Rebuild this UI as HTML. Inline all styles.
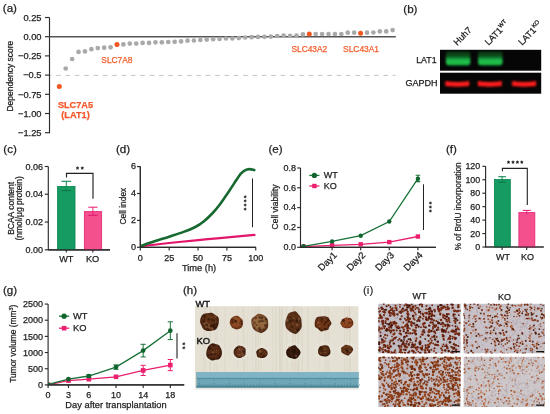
<!DOCTYPE html>
<html><head><meta charset="utf-8"><style>
html,body{margin:0;padding:0;background:#fff;width:550px;height:414px;overflow:hidden}
svg{display:block;font-family:"Liberation Sans", sans-serif;will-change:transform;filter:blur(0.35px)}
text{stroke-width:0.25px}
</style></head><body>
<svg width="550" height="414" viewBox="0 0 550 414">
<defs>
<filter id="b1" x="-30%" y="-60%" width="160%" height="220%"><feGaussianBlur stdDeviation="0.9"/></filter>
<filter id="b05" x="-20%" y="-20%" width="140%" height="140%"><feGaussianBlur stdDeviation="0.5"/></filter>
<filter id="b04" x="-5%" y="-5%" width="110%" height="110%"><feGaussianBlur stdDeviation="0.35"/></filter>
<filter id="b2" x="-30%" y="-60%" width="160%" height="220%"><feGaussianBlur stdDeviation="1.6"/></filter>
</defs>
<rect width="550" height="414" fill="#fff"/>
<text x="2.80" y="12.20" font-size="11.6" text-anchor="start" fill="#222" font-weight="normal"  stroke="#222">(a)</text>
<line x1="49.50" y1="17.50" x2="49.50" y2="133.20" stroke="#2b2b2b" stroke-width="1.15" />
<line x1="45.00" y1="17.50" x2="49.50" y2="17.50" stroke="#2b2b2b" stroke-width="1.15" />
<text x="41.50" y="20.80" font-size="9.3" text-anchor="end" fill="#222" font-weight="normal"  stroke="#222">0.25</text>
<line x1="45.00" y1="36.70" x2="49.50" y2="36.70" stroke="#2b2b2b" stroke-width="1.15" />
<text x="41.50" y="40.00" font-size="9.3" text-anchor="end" fill="#222" font-weight="normal"  stroke="#222">0.00</text>
<line x1="45.00" y1="55.90" x2="49.50" y2="55.90" stroke="#2b2b2b" stroke-width="1.15" />
<text x="41.50" y="59.20" font-size="9.3" text-anchor="end" fill="#222" font-weight="normal"  stroke="#222">−0.25</text>
<line x1="45.00" y1="75.10" x2="49.50" y2="75.10" stroke="#2b2b2b" stroke-width="1.15" />
<text x="41.50" y="78.40" font-size="9.3" text-anchor="end" fill="#222" font-weight="normal"  stroke="#222">−0.5</text>
<line x1="45.00" y1="94.30" x2="49.50" y2="94.30" stroke="#2b2b2b" stroke-width="1.15" />
<text x="41.50" y="97.60" font-size="9.3" text-anchor="end" fill="#222" font-weight="normal"  stroke="#222">−0.75</text>
<line x1="45.00" y1="113.50" x2="49.50" y2="113.50" stroke="#2b2b2b" stroke-width="1.15" />
<text x="41.50" y="116.80" font-size="9.3" text-anchor="end" fill="#222" font-weight="normal"  stroke="#222">−1.00</text>
<line x1="45.00" y1="132.70" x2="49.50" y2="132.70" stroke="#2b2b2b" stroke-width="1.15" />
<text x="41.50" y="136.00" font-size="9.3" text-anchor="end" fill="#222" font-weight="normal"  stroke="#222">−1.25</text>
<text transform="translate(13.00,76.10) rotate(-90)" x="0" y="0" font-size="8.5" text-anchor="middle" fill="#222"  stroke="#222">Dependency score</text>
<line x1="50.00" y1="75.40" x2="395.50" y2="75.40" stroke="#c4c4c4" stroke-width="1" stroke-dasharray="4.8 4.55" stroke-dashoffset="3.3"/>
<line x1="49.50" y1="36.80" x2="395.80" y2="36.80" stroke="#555" stroke-width="1.4" />
<circle cx="59.30" cy="86.50" r="2.5" fill="#f2561f"/>
<circle cx="65.71" cy="68.50" r="2.35" fill="#a9a9a9"/>
<circle cx="72.12" cy="59.00" r="2.35" fill="#a9a9a9"/>
<circle cx="78.53" cy="51.90" r="2.35" fill="#a9a9a9"/>
<circle cx="84.94" cy="51.40" r="2.35" fill="#a9a9a9"/>
<circle cx="91.35" cy="49.20" r="2.35" fill="#a9a9a9"/>
<circle cx="97.76" cy="48.10" r="2.35" fill="#a9a9a9"/>
<circle cx="104.17" cy="47.70" r="2.35" fill="#a9a9a9"/>
<circle cx="110.58" cy="47.30" r="2.35" fill="#a9a9a9"/>
<circle cx="116.99" cy="44.40" r="2.5" fill="#f2561f"/>
<circle cx="123.40" cy="44.40" r="2.35" fill="#a9a9a9"/>
<circle cx="129.81" cy="43.60" r="2.35" fill="#a9a9a9"/>
<circle cx="136.22" cy="43.60" r="2.35" fill="#a9a9a9"/>
<circle cx="142.63" cy="42.90" r="2.35" fill="#a9a9a9"/>
<circle cx="149.04" cy="42.90" r="2.35" fill="#a9a9a9"/>
<circle cx="155.45" cy="42.30" r="2.35" fill="#a9a9a9"/>
<circle cx="161.86" cy="42.30" r="2.35" fill="#a9a9a9"/>
<circle cx="168.27" cy="42.00" r="2.35" fill="#a9a9a9"/>
<circle cx="174.68" cy="41.80" r="2.35" fill="#a9a9a9"/>
<circle cx="181.09" cy="41.40" r="2.35" fill="#a9a9a9"/>
<circle cx="187.50" cy="40.70" r="2.35" fill="#a9a9a9"/>
<circle cx="193.91" cy="40.50" r="2.35" fill="#a9a9a9"/>
<circle cx="200.32" cy="40.00" r="2.35" fill="#a9a9a9"/>
<circle cx="206.73" cy="39.60" r="2.35" fill="#a9a9a9"/>
<circle cx="213.14" cy="39.20" r="2.35" fill="#a9a9a9"/>
<circle cx="219.55" cy="39.00" r="2.35" fill="#a9a9a9"/>
<circle cx="225.96" cy="38.50" r="2.35" fill="#a9a9a9"/>
<circle cx="232.37" cy="38.50" r="2.35" fill="#a9a9a9"/>
<circle cx="238.78" cy="38.10" r="2.35" fill="#a9a9a9"/>
<circle cx="245.19" cy="37.50" r="2.35" fill="#a9a9a9"/>
<circle cx="251.60" cy="37.20" r="2.35" fill="#a9a9a9"/>
<circle cx="258.01" cy="36.90" r="2.35" fill="#a9a9a9"/>
<circle cx="264.42" cy="36.80" r="2.35" fill="#a9a9a9"/>
<circle cx="270.83" cy="36.60" r="2.35" fill="#a9a9a9"/>
<circle cx="277.24" cy="36.00" r="2.35" fill="#a9a9a9"/>
<circle cx="283.65" cy="35.60" r="2.35" fill="#a9a9a9"/>
<circle cx="290.06" cy="35.90" r="2.35" fill="#a9a9a9"/>
<circle cx="296.47" cy="35.50" r="2.35" fill="#a9a9a9"/>
<circle cx="302.88" cy="34.40" r="2.35" fill="#a9a9a9"/>
<circle cx="309.29" cy="34.00" r="2.5" fill="#f2561f"/>
<circle cx="315.70" cy="34.00" r="2.35" fill="#a9a9a9"/>
<circle cx="322.11" cy="34.00" r="2.35" fill="#a9a9a9"/>
<circle cx="328.52" cy="34.00" r="2.35" fill="#a9a9a9"/>
<circle cx="334.93" cy="34.00" r="2.35" fill="#a9a9a9"/>
<circle cx="341.34" cy="34.00" r="2.35" fill="#a9a9a9"/>
<circle cx="347.75" cy="32.70" r="2.35" fill="#a9a9a9"/>
<circle cx="354.16" cy="32.70" r="2.35" fill="#a9a9a9"/>
<circle cx="360.57" cy="33.30" r="2.5" fill="#f2561f"/>
<circle cx="366.98" cy="32.70" r="2.35" fill="#a9a9a9"/>
<circle cx="373.39" cy="32.50" r="2.35" fill="#a9a9a9"/>
<circle cx="379.80" cy="31.40" r="2.35" fill="#a9a9a9"/>
<circle cx="386.21" cy="31.40" r="2.35" fill="#a9a9a9"/>
<circle cx="392.62" cy="30.10" r="2.35" fill="#a9a9a9"/>
<text x="101.30" y="63.30" font-size="8.4" text-anchor="start" fill="#f4602e" font-weight="normal"  stroke="#f4602e">SLC7A8</text>
<text x="291.40" y="52.20" font-size="8.4" text-anchor="start" fill="#f4602e" font-weight="normal"  stroke="#f4602e">SLC43A2</text>
<text x="343.10" y="52.20" font-size="8.4" text-anchor="start" fill="#f4602e" font-weight="normal"  stroke="#f4602e">SLC43A1</text>
<text x="75.50" y="107.60" font-size="9.2" text-anchor="middle" fill="#f4582a" font-weight="bold"  stroke="#f4582a">SLC7A5</text>
<text x="75.50" y="117.60" font-size="9.2" text-anchor="middle" fill="#f4582a" font-weight="bold"  stroke="#f4582a">(LAT1)</text>
<text x="403.30" y="13.00" font-size="11.6" text-anchor="start" fill="#222" font-weight="normal"  stroke="#222">(b)</text>
<text transform="translate(457.2,45.9) rotate(-45)" x="0" y="0" font-size="9" fill="#1a1a1a" stroke="#1a1a1a">Huh7</text>
<text transform="translate(488.4,45.7) rotate(-45)" x="0" y="0" font-size="9" fill="#1a1a1a" stroke="#1a1a1a">LAT1<tspan font-size="5.8" dy="-3.9">WT</tspan></text>
<text transform="translate(521.9,45.7) rotate(-45)" x="0" y="0" font-size="9" fill="#1a1a1a" stroke="#1a1a1a">LAT1<tspan font-size="5.8" dy="-3.9">KO</tspan></text>
<text x="436.60" y="63.20" font-size="8.8" text-anchor="end" fill="#1a1a1a" font-weight="normal"  stroke="#1a1a1a">LAT1</text>
<text x="437.40" y="85.80" font-size="9.0" text-anchor="end" fill="#1a1a1a" font-weight="normal"  stroke="#1a1a1a">GAPDH</text>
<clipPath id="bx1"><rect x="440" y="49.8" width="101.2" height="20.9"/></clipPath>
<clipPath id="bx2"><rect x="440" y="72.7" width="101.2" height="21"/></clipPath>
<rect x="440" y="49.8" width="101.2" height="20.9" fill="#060606"/>
<rect x="440" y="72.7" width="101.2" height="21" fill="#060606"/>
<linearGradient id="gg" x1="0" y1="0" x2="0" y2="1"><stop offset="0" stop-color="#0a2a10" stop-opacity="0"/><stop offset="0.12" stop-color="#0b3413"/><stop offset="0.42" stop-color="#0e5520"/><stop offset="0.55" stop-color="#17983c"/><stop offset="0.7" stop-color="#22c44c"/><stop offset="0.88" stop-color="#1fbc48"/><stop offset="1" stop-color="#129a38"/></linearGradient>
<g clip-path="url(#bx1)">
<rect x="445.9" y="50.5" width="24.4" height="15.0" rx="3" fill="url(#gg)" filter="url(#b1)"/>
<rect x="478.1" y="50.5" width="24.4" height="15.0" rx="3" fill="url(#gg)" filter="url(#b1)"/>
</g><g clip-path="url(#bx2)">
<path d="M445.3,80.9 Q457.4,82.9 469.3,80.9 L469.3,85.9 Q457.4,87.4 445.3,85.9 Z" fill="#ff1a1a" filter="url(#b1)"/>
<path d="M477.8,80.9 Q489.9,82.9 501.8,80.9 L501.8,85.9 Q489.9,87.4 477.8,85.9 Z" fill="#ff1a1a" filter="url(#b1)"/>
<path d="M512.1,80.9 Q524.2,82.9 536.1,80.9 L536.1,85.9 Q524.2,87.4 512.1,85.9 Z" fill="#ff1a1a" filter="url(#b1)"/>
</g>
<text x="3.30" y="153.20" font-size="11.6" text-anchor="start" fill="#222" font-weight="normal"  stroke="#222">(c)</text>
<line x1="48.30" y1="166.49" x2="48.30" y2="250.30" stroke="#2b2b2b" stroke-width="1.15" />
<line x1="48.30" y1="249.80" x2="110.00" y2="249.80" stroke="#2b2b2b" stroke-width="1.15" />
<line x1="44.80" y1="166.49" x2="48.30" y2="166.49" stroke="#2b2b2b" stroke-width="1.15" />
<text x="43.00" y="169.69" font-size="9.0" text-anchor="end" fill="#222" font-weight="normal"  stroke="#222">0.06</text>
<line x1="44.80" y1="194.26" x2="48.30" y2="194.26" stroke="#2b2b2b" stroke-width="1.15" />
<text x="43.00" y="197.46" font-size="9.0" text-anchor="end" fill="#222" font-weight="normal"  stroke="#222">0.04</text>
<line x1="44.80" y1="222.03" x2="48.30" y2="222.03" stroke="#2b2b2b" stroke-width="1.15" />
<text x="43.00" y="225.23" font-size="9.0" text-anchor="end" fill="#222" font-weight="normal"  stroke="#222">0.02</text>
<line x1="44.80" y1="249.80" x2="48.30" y2="249.80" stroke="#2b2b2b" stroke-width="1.15" />
<text x="43.00" y="253.00" font-size="9.0" text-anchor="end" fill="#222" font-weight="normal"  stroke="#222">0.00</text>
<text transform="translate(14.3,208.4) rotate(-90)" font-size="8.5" text-anchor="middle" fill="#222" stroke="#222"><tspan x="0" y="0">BCAA content</tspan><tspan x="0" y="7.6">(nmol/μg protein)</tspan></text>
<rect x="57.6" y="186.5" width="17.4" height="63.3" fill="#169b62" stroke="#0f8a52" stroke-width="0.9"/>
<rect x="84.4" y="211.6" width="17.2" height="38.2" fill="#f5508e" stroke="#e8287a" stroke-width="0.9"/>
<line x1="66.30" y1="181.30" x2="66.30" y2="190.60" stroke="#0f8a52" stroke-width="1" />
<line x1="61.50" y1="181.30" x2="71.10" y2="181.30" stroke="#0f8a52" stroke-width="1.1" />
<line x1="61.50" y1="190.60" x2="71.10" y2="190.60" stroke="#0b7a46" stroke-width="1.1" />
<line x1="92.90" y1="207.20" x2="92.90" y2="215.30" stroke="#e8287a" stroke-width="1" />
<line x1="88.30" y1="207.20" x2="97.50" y2="207.20" stroke="#e8287a" stroke-width="1.1" />
<line x1="88.30" y1="215.30" x2="97.50" y2="215.30" stroke="#d81c6c" stroke-width="1.1" />
<line x1="48.30" y1="249.80" x2="110.00" y2="249.80" stroke="#2b2b2b" stroke-width="1.2" />
<line x1="66.30" y1="249.80" x2="66.30" y2="252.60" stroke="#2b2b2b" stroke-width="1.15" />
<line x1="92.90" y1="249.80" x2="92.90" y2="252.60" stroke="#2b2b2b" stroke-width="1.15" />
<text x="66.30" y="261.80" font-size="9.2" text-anchor="middle" fill="#222" font-weight="normal"  stroke="#222">WT</text>
<text x="92.60" y="261.80" font-size="9.2" text-anchor="middle" fill="#222" font-weight="normal"  stroke="#222">KO</text>
<polyline points="66.5,177.4 66.5,173.4 93.0,173.4 93.0,198.8" fill="none" stroke="#222" stroke-width="1.15"/>
<polygon points="77.50,166.50 77.92,167.52 79.02,167.61 78.18,168.32 78.44,169.39 77.50,168.82 76.56,169.39 76.82,168.32 75.98,167.61 77.08,167.52" fill="#111" stroke="#111" stroke-width="0.35" stroke-linejoin="round"/>
<polygon points="82.30,166.50 82.72,167.52 83.82,167.61 82.98,168.32 83.24,169.39 82.30,168.82 81.36,169.39 81.62,168.32 80.78,167.61 81.88,167.52" fill="#111" stroke="#111" stroke-width="0.35" stroke-linejoin="round"/>
<text x="115.90" y="153.20" font-size="11.6" text-anchor="start" fill="#222" font-weight="normal"  stroke="#222">(d)</text>
<line x1="140.30" y1="166.60" x2="140.30" y2="247.80" stroke="#2b2b2b" stroke-width="1.15" />
<line x1="140.30" y1="247.30" x2="255.90" y2="247.30" stroke="#2b2b2b" stroke-width="1.15" />
<line x1="137.00" y1="247.30" x2="140.30" y2="247.30" stroke="#2b2b2b" stroke-width="1.15" />
<text x="135.90" y="249.90" font-size="9.0" text-anchor="end" fill="#222" font-weight="normal"  stroke="#222">0</text>
<line x1="137.00" y1="220.40" x2="140.30" y2="220.40" stroke="#2b2b2b" stroke-width="1.15" />
<text x="135.90" y="223.00" font-size="9.0" text-anchor="end" fill="#222" font-weight="normal"  stroke="#222">2</text>
<line x1="137.00" y1="193.50" x2="140.30" y2="193.50" stroke="#2b2b2b" stroke-width="1.15" />
<text x="135.90" y="196.10" font-size="9.0" text-anchor="end" fill="#222" font-weight="normal"  stroke="#222">4</text>
<line x1="137.00" y1="166.60" x2="140.30" y2="166.60" stroke="#2b2b2b" stroke-width="1.15" />
<text x="135.90" y="169.20" font-size="9.0" text-anchor="end" fill="#222" font-weight="normal"  stroke="#222">6</text>
<line x1="140.30" y1="247.30" x2="140.30" y2="250.60" stroke="#2b2b2b" stroke-width="1.15" />
<text x="140.30" y="261.00" font-size="9.0" text-anchor="middle" fill="#222" font-weight="normal"  stroke="#222">0</text>
<line x1="169.16" y1="247.30" x2="169.16" y2="250.60" stroke="#2b2b2b" stroke-width="1.15" />
<text x="169.16" y="261.00" font-size="9.0" text-anchor="middle" fill="#222" font-weight="normal"  stroke="#222">25</text>
<line x1="198.03" y1="247.30" x2="198.03" y2="250.60" stroke="#2b2b2b" stroke-width="1.15" />
<text x="198.03" y="261.00" font-size="9.0" text-anchor="middle" fill="#222" font-weight="normal"  stroke="#222">50</text>
<line x1="226.89" y1="247.30" x2="226.89" y2="250.60" stroke="#2b2b2b" stroke-width="1.15" />
<text x="226.89" y="261.00" font-size="9.0" text-anchor="middle" fill="#222" font-weight="normal"  stroke="#222">75</text>
<line x1="255.75" y1="247.30" x2="255.75" y2="250.60" stroke="#2b2b2b" stroke-width="1.15" />
<text x="255.75" y="261.00" font-size="9.0" text-anchor="middle" fill="#222" font-weight="normal"  stroke="#222">100</text>
<text x="199.10" y="271.00" font-size="9.3" text-anchor="middle" fill="#222" font-weight="normal"  stroke="#222">Time (h)</text>
<text transform="translate(126.30,206.10) rotate(-90)" x="0" y="0" font-size="8.4" text-anchor="middle" fill="#222"  stroke="#222">Cell index</text>
<clipPath id="cd"><rect x="140.3" y="150" width="125" height="97.3"/></clipPath><g clip-path="url(#cd)">
<path d="M140.00,246.40 C144.85,245.83 159.40,244.05 169.10,243.00 C178.80,241.95 189.72,240.92 198.20,240.10 C206.68,239.28 210.62,238.98 220.00,238.10 C229.38,237.22 248.75,235.35 254.50,234.80" fill="none" stroke="#e3156b" stroke-width="2.2" stroke-linecap="round"/>
<path d="M140.00,246.30 C142.42,245.47 149.65,242.90 154.50,241.30 C159.35,239.70 164.25,238.27 169.10,236.70 C173.95,235.13 179.23,233.52 183.60,231.90 C187.97,230.28 191.90,228.78 195.30,227.00 C198.70,225.22 201.10,223.53 204.00,221.20 C206.90,218.87 210.03,215.83 212.70,213.00 C215.37,210.17 217.28,207.83 220.00,204.20 C222.72,200.57 226.30,195.18 229.00,191.20 C231.70,187.22 234.27,183.18 236.20,180.30 C238.13,177.42 239.15,175.55 240.60,173.90 C242.05,172.25 243.45,171.20 244.90,170.40 C246.35,169.60 247.73,169.15 249.30,169.10 C250.87,169.05 253.47,169.93 254.30,170.10" fill="none" stroke="#17692f" stroke-width="2.6" stroke-linecap="round"/>
</g>
<line x1="140.30" y1="166.60" x2="140.30" y2="247.80" stroke="#2b2b2b" stroke-width="1.1" />
<line x1="140.30" y1="247.30" x2="255.90" y2="247.30" stroke="#2b2b2b" stroke-width="1.1" />
<line x1="252.50" y1="178.50" x2="252.50" y2="227.20" stroke="#222" stroke-width="1" />
<polygon points="246.55,196.80 245.63,197.18 245.55,198.18 244.90,197.42 243.93,197.65 244.45,196.80 243.93,195.95 244.90,196.18 245.55,195.42 245.63,196.42" fill="#111" stroke="#111" stroke-width="0.35" stroke-linejoin="round"/>
<polygon points="246.55,200.90 245.63,201.28 245.55,202.28 244.90,201.52 243.93,201.75 244.45,200.90 243.93,200.05 244.90,200.28 245.55,199.52 245.63,200.52" fill="#111" stroke="#111" stroke-width="0.35" stroke-linejoin="round"/>
<polygon points="246.55,205.00 245.63,205.38 245.55,206.38 244.90,205.62 243.93,205.85 244.45,205.00 243.93,204.15 244.90,204.38 245.55,203.62 245.63,204.62" fill="#111" stroke="#111" stroke-width="0.35" stroke-linejoin="round"/>
<polygon points="246.55,209.10 245.63,209.48 245.55,210.48 244.90,209.72 243.93,209.95 244.45,209.10 243.93,208.25 244.90,208.48 245.55,207.72 245.63,208.72" fill="#111" stroke="#111" stroke-width="0.35" stroke-linejoin="round"/>
<text x="268.40" y="153.40" font-size="11.6" text-anchor="start" fill="#222" font-weight="normal"  stroke="#222">(e)</text>
<line x1="300.50" y1="167.98" x2="300.50" y2="247.80" stroke="#2b2b2b" stroke-width="1.15" />
<line x1="300.50" y1="247.30" x2="436.00" y2="247.30" stroke="#2b2b2b" stroke-width="1.15" />
<line x1="297.20" y1="247.30" x2="300.50" y2="247.30" stroke="#2b2b2b" stroke-width="1.15" />
<text x="296.00" y="250.10" font-size="9.0" text-anchor="end" fill="#222" font-weight="normal"  stroke="#222">0.0</text>
<line x1="297.20" y1="227.47" x2="300.50" y2="227.47" stroke="#2b2b2b" stroke-width="1.15" />
<text x="296.00" y="230.27" font-size="9.0" text-anchor="end" fill="#222" font-weight="normal"  stroke="#222">0.2</text>
<line x1="297.20" y1="207.64" x2="300.50" y2="207.64" stroke="#2b2b2b" stroke-width="1.15" />
<text x="296.00" y="210.44" font-size="9.0" text-anchor="end" fill="#222" font-weight="normal"  stroke="#222">0.4</text>
<line x1="297.20" y1="187.81" x2="300.50" y2="187.81" stroke="#2b2b2b" stroke-width="1.15" />
<text x="296.00" y="190.61" font-size="9.0" text-anchor="end" fill="#222" font-weight="normal"  stroke="#222">0.6</text>
<line x1="297.20" y1="167.98" x2="300.50" y2="167.98" stroke="#2b2b2b" stroke-width="1.15" />
<text x="296.00" y="170.78" font-size="9.0" text-anchor="end" fill="#222" font-weight="normal"  stroke="#222">0.8</text>
<line x1="332.10" y1="247.30" x2="332.10" y2="250.30" stroke="#2b2b2b" stroke-width="1.15" />
<text transform="translate(332.40,250.7) rotate(-45)" font-size="9.5" text-anchor="end" fill="#222" dominant-baseline="hanging" stroke="#222">Day1</text>
<line x1="360.70" y1="247.30" x2="360.70" y2="250.30" stroke="#2b2b2b" stroke-width="1.15" />
<text transform="translate(361.00,250.7) rotate(-45)" font-size="9.5" text-anchor="end" fill="#222" dominant-baseline="hanging" stroke="#222">Day2</text>
<line x1="389.30" y1="247.30" x2="389.30" y2="250.30" stroke="#2b2b2b" stroke-width="1.15" />
<text transform="translate(389.60,250.7) rotate(-45)" font-size="9.5" text-anchor="end" fill="#222" dominant-baseline="hanging" stroke="#222">Day3</text>
<line x1="417.90" y1="247.30" x2="417.90" y2="250.30" stroke="#2b2b2b" stroke-width="1.15" />
<text transform="translate(418.20,250.7) rotate(-45)" font-size="9.5" text-anchor="end" fill="#222" dominant-baseline="hanging" stroke="#222">Day4</text>
<text transform="translate(278.30,207.00) rotate(-90)" x="0" y="0" font-size="8.5" text-anchor="middle" fill="#222"  stroke="#222">Cell viability</text>
<clipPath id="ce"><rect x="300.5" y="160" width="140" height="87.3"/></clipPath><g clip-path="url(#ce)">
<polyline points="303.50,246.60 332.10,245.30 360.70,244.30 389.30,242.10 417.90,236.50" fill="none" stroke="#ea1f6e" stroke-width="1.3"/>
<polyline points="303.50,246.30 332.10,241.40 360.70,235.70 389.30,221.50 417.90,178.70" fill="none" stroke="#187238" stroke-width="1.3"/>
<rect x="301.30" y="244.40" width="4.4" height="4.4" fill="#ea1f6e"/>
<rect x="329.90" y="243.10" width="4.4" height="4.4" fill="#ea1f6e"/>
<rect x="358.50" y="242.10" width="4.4" height="4.4" fill="#ea1f6e"/>
<rect x="387.10" y="239.90" width="4.4" height="4.4" fill="#ea1f6e"/>
<rect x="415.70" y="234.30" width="4.4" height="4.4" fill="#ea1f6e"/>
<line x1="417.90" y1="175.30" x2="417.90" y2="181.60" stroke="#187238" stroke-width="1" />
<line x1="415.60" y1="175.30" x2="420.20" y2="175.30" stroke="#187238" stroke-width="1.1" />
<line x1="415.60" y1="181.60" x2="420.20" y2="181.60" stroke="#187238" stroke-width="1.1" />
<circle cx="303.50" cy="246.30" r="2.2" fill="#10642e"/>
<circle cx="332.10" cy="241.40" r="2.2" fill="#10642e"/>
<circle cx="360.70" cy="235.70" r="2.2" fill="#10642e"/>
<circle cx="389.30" cy="221.50" r="2.2" fill="#10642e"/>
<circle cx="417.90" cy="178.70" r="2.2" fill="#10642e"/>
</g>
<line x1="300.50" y1="247.30" x2="436.00" y2="247.30" stroke="#2b2b2b" stroke-width="1.2" />
<line x1="309.30" y1="175.40" x2="319.40" y2="175.40" stroke="#187238" stroke-width="1.3" />
<circle cx="314.4" cy="175.4" r="2.6" fill="#10642e"/>
<text x="323.80" y="177.90" font-size="9.0" text-anchor="start" fill="#222" font-weight="normal"  stroke="#222">WT</text>
<line x1="309.30" y1="186.00" x2="319.40" y2="186.00" stroke="#ea1f6e" stroke-width="1.3" />
<rect x="312.2" y="183.8" width="4.4" height="4.4" fill="#ea1f6e"/>
<text x="323.80" y="189.20" font-size="9.0" text-anchor="start" fill="#222" font-weight="normal"  stroke="#222">KO</text>
<line x1="423.50" y1="184.30" x2="423.50" y2="230.00" stroke="#222" stroke-width="1" />
<polygon points="431.85,203.00 430.93,203.38 430.85,204.38 430.20,203.62 429.23,203.85 429.75,203.00 429.23,202.15 430.20,202.38 430.85,201.62 430.93,202.62" fill="#111" stroke="#111" stroke-width="0.35" stroke-linejoin="round"/>
<polygon points="431.85,207.00 430.93,207.38 430.85,208.38 430.20,207.62 429.23,207.85 429.75,207.00 429.23,206.15 430.20,206.38 430.85,205.62 430.93,206.62" fill="#111" stroke="#111" stroke-width="0.35" stroke-linejoin="round"/>
<polygon points="431.85,211.00 430.93,211.38 430.85,212.38 430.20,211.62 429.23,211.85 429.75,211.00 429.23,210.15 430.20,210.38 430.85,209.62 430.93,210.62" fill="#111" stroke="#111" stroke-width="0.35" stroke-linejoin="round"/>
<text x="446.00" y="153.40" font-size="11.6" text-anchor="start" fill="#222" font-weight="normal"  stroke="#222">(f)</text>
<line x1="485.60" y1="166.30" x2="485.60" y2="247.50" stroke="#2b2b2b" stroke-width="1.15" />
<line x1="485.60" y1="247.00" x2="543.80" y2="247.00" stroke="#2b2b2b" stroke-width="1.15" />
<line x1="482.40" y1="247.00" x2="485.60" y2="247.00" stroke="#2b2b2b" stroke-width="1.15" />
<text x="480.20" y="250.10" font-size="8.9" text-anchor="end" fill="#222" font-weight="normal"  stroke="#222">0</text>
<line x1="482.40" y1="233.55" x2="485.60" y2="233.55" stroke="#2b2b2b" stroke-width="1.15" />
<text x="480.20" y="236.65" font-size="8.9" text-anchor="end" fill="#222" font-weight="normal"  stroke="#222">20</text>
<line x1="482.40" y1="220.10" x2="485.60" y2="220.10" stroke="#2b2b2b" stroke-width="1.15" />
<text x="480.20" y="223.20" font-size="8.9" text-anchor="end" fill="#222" font-weight="normal"  stroke="#222">40</text>
<line x1="482.40" y1="206.65" x2="485.60" y2="206.65" stroke="#2b2b2b" stroke-width="1.15" />
<text x="480.20" y="209.75" font-size="8.9" text-anchor="end" fill="#222" font-weight="normal"  stroke="#222">60</text>
<line x1="482.40" y1="193.20" x2="485.60" y2="193.20" stroke="#2b2b2b" stroke-width="1.15" />
<text x="480.20" y="196.30" font-size="8.9" text-anchor="end" fill="#222" font-weight="normal"  stroke="#222">80</text>
<line x1="482.40" y1="179.75" x2="485.60" y2="179.75" stroke="#2b2b2b" stroke-width="1.15" />
<text x="480.20" y="182.85" font-size="8.9" text-anchor="end" fill="#222" font-weight="normal"  stroke="#222">100</text>
<line x1="482.40" y1="166.30" x2="485.60" y2="166.30" stroke="#2b2b2b" stroke-width="1.15" />
<text x="480.20" y="169.40" font-size="8.9" text-anchor="end" fill="#222" font-weight="normal"  stroke="#222">120</text>
<rect x="494.5" y="179.5" width="15.8" height="67.5" fill="#169b62" stroke="#0f8a52" stroke-width="0.9"/>
<rect x="518.9" y="212.6" width="15.9" height="34.4" fill="#f5508e" stroke="#e8287a" stroke-width="0.9"/>
<line x1="502.10" y1="176.70" x2="502.10" y2="182.20" stroke="#0f8a52" stroke-width="1" />
<line x1="498.30" y1="176.70" x2="505.90" y2="176.70" stroke="#0f8a52" stroke-width="1.1" />
<line x1="498.30" y1="182.20" x2="505.90" y2="182.20" stroke="#0b7a46" stroke-width="1.1" />
<line x1="526.80" y1="210.40" x2="526.80" y2="214.50" stroke="#e8287a" stroke-width="1" />
<line x1="522.70" y1="210.40" x2="530.80" y2="210.40" stroke="#e8287a" stroke-width="1.1" />
<line x1="485.60" y1="247.00" x2="543.80" y2="247.00" stroke="#2b2b2b" stroke-width="1.2" />
<line x1="502.10" y1="247.00" x2="502.10" y2="250.00" stroke="#2b2b2b" stroke-width="1.15" />
<line x1="526.70" y1="247.00" x2="526.70" y2="250.00" stroke="#2b2b2b" stroke-width="1.15" />
<text x="502.90" y="260.10" font-size="9.0" text-anchor="middle" fill="#222" font-weight="normal"  stroke="#222">WT</text>
<text x="527.60" y="260.10" font-size="9.0" text-anchor="middle" fill="#222" font-weight="normal"  stroke="#222">KO</text>
<polyline points="502.4,171.3 502.4,168.4 527.3,168.4 527.3,205.0" fill="none" stroke="#222" stroke-width="1.1"/>
<polygon points="508.50,160.60 508.92,161.62 510.02,161.71 509.18,162.42 509.44,163.49 508.50,162.92 507.56,163.49 507.82,162.42 506.98,161.71 508.08,161.62" fill="#111" stroke="#111" stroke-width="0.35" stroke-linejoin="round"/>
<polygon points="513.00,160.60 513.42,161.62 514.52,161.71 513.68,162.42 513.94,163.49 513.00,162.92 512.06,163.49 512.32,162.42 511.48,161.71 512.58,161.62" fill="#111" stroke="#111" stroke-width="0.35" stroke-linejoin="round"/>
<polygon points="517.40,160.60 517.82,161.62 518.92,161.71 518.08,162.42 518.34,163.49 517.40,162.92 516.46,163.49 516.72,162.42 515.88,161.71 516.98,161.62" fill="#111" stroke="#111" stroke-width="0.35" stroke-linejoin="round"/>
<polygon points="521.80,160.60 522.22,161.62 523.32,161.71 522.48,162.42 522.74,163.49 521.80,162.92 520.86,163.49 521.12,162.42 520.28,161.71 521.38,161.62" fill="#111" stroke="#111" stroke-width="0.35" stroke-linejoin="round"/>
<text transform="translate(460.60,206.30) rotate(-90)" x="0" y="0" font-size="8.3" text-anchor="middle" fill="#222"  stroke="#222">% of BrdU incorporation</text>
<text x="3.00" y="293.80" font-size="11.6" text-anchor="start" fill="#222" font-weight="normal"  stroke="#222">(g)</text>
<line x1="48.10" y1="304.05" x2="48.10" y2="385.40" stroke="#2b2b2b" stroke-width="1.15" />
<line x1="48.10" y1="384.90" x2="184.20" y2="384.90" stroke="#2b2b2b" stroke-width="1.15" />
<line x1="44.80" y1="384.90" x2="48.10" y2="384.90" stroke="#2b2b2b" stroke-width="1.15" />
<text x="43.00" y="388.10" font-size="9.0" text-anchor="end" fill="#222" font-weight="normal"  stroke="#222">0</text>
<line x1="44.80" y1="368.73" x2="48.10" y2="368.73" stroke="#2b2b2b" stroke-width="1.15" />
<text x="43.00" y="371.93" font-size="9.0" text-anchor="end" fill="#222" font-weight="normal"  stroke="#222">500</text>
<line x1="44.80" y1="352.56" x2="48.10" y2="352.56" stroke="#2b2b2b" stroke-width="1.15" />
<text x="43.00" y="355.76" font-size="9.0" text-anchor="end" fill="#222" font-weight="normal"  stroke="#222">1000</text>
<line x1="44.80" y1="336.39" x2="48.10" y2="336.39" stroke="#2b2b2b" stroke-width="1.15" />
<text x="43.00" y="339.59" font-size="9.0" text-anchor="end" fill="#222" font-weight="normal"  stroke="#222">1500</text>
<line x1="44.80" y1="320.22" x2="48.10" y2="320.22" stroke="#2b2b2b" stroke-width="1.15" />
<text x="43.00" y="323.42" font-size="9.0" text-anchor="end" fill="#222" font-weight="normal"  stroke="#222">2000</text>
<line x1="44.80" y1="304.05" x2="48.10" y2="304.05" stroke="#2b2b2b" stroke-width="1.15" />
<text x="43.00" y="307.25" font-size="9.0" text-anchor="end" fill="#222" font-weight="normal"  stroke="#222">2500</text>
<line x1="48.10" y1="384.90" x2="48.10" y2="388.00" stroke="#2b2b2b" stroke-width="1.15" />
<text x="48.10" y="397.90" font-size="9.0" text-anchor="middle" fill="#222" font-weight="normal"  stroke="#222">0</text>
<line x1="68.47" y1="384.90" x2="68.47" y2="388.00" stroke="#2b2b2b" stroke-width="1.15" />
<text x="68.47" y="397.90" font-size="9.0" text-anchor="middle" fill="#222" font-weight="normal"  stroke="#222">3</text>
<line x1="88.84" y1="384.90" x2="88.84" y2="388.00" stroke="#2b2b2b" stroke-width="1.15" />
<text x="88.84" y="397.90" font-size="9.0" text-anchor="middle" fill="#222" font-weight="normal"  stroke="#222">6</text>
<line x1="116.00" y1="384.90" x2="116.00" y2="388.00" stroke="#2b2b2b" stroke-width="1.15" />
<text x="116.00" y="397.90" font-size="9.0" text-anchor="middle" fill="#222" font-weight="normal"  stroke="#222">10</text>
<line x1="143.16" y1="384.90" x2="143.16" y2="388.00" stroke="#2b2b2b" stroke-width="1.15" />
<text x="143.16" y="397.90" font-size="9.0" text-anchor="middle" fill="#222" font-weight="normal"  stroke="#222">14</text>
<line x1="170.32" y1="384.90" x2="170.32" y2="388.00" stroke="#2b2b2b" stroke-width="1.15" />
<text x="170.32" y="397.90" font-size="9.0" text-anchor="middle" fill="#222" font-weight="normal"  stroke="#222">18</text>
<text x="116.00" y="408.20" font-size="9.3" text-anchor="middle" fill="#222" font-weight="normal"  stroke="#222">Day after transplantation</text>
<text transform="translate(16.2,343.7) rotate(-90)" font-size="8.4" text-anchor="middle" fill="#222" stroke="#222">Tumor volume (mm<tspan font-size="5.5" dy="-3">3</tspan><tspan dy="3">)</tspan></text>
<clipPath id="cg"><rect x="48.1" y="295" width="140" height="89.9"/></clipPath><g clip-path="url(#cg)">
<polyline points="48.10,384.80 68.47,380.60 88.84,379.20 116.00,376.80 143.16,370.40 170.32,365.10" fill="none" stroke="#ea1f6e" stroke-width="1.3"/>
<polyline points="48.10,384.50 68.47,379.10 88.84,376.00 116.00,367.10 143.16,350.60 170.32,330.70" fill="none" stroke="#187238" stroke-width="1.3"/>
<rect x="45.80" y="382.50" width="4.6" height="4.6" fill="#ea1f6e"/>
<rect x="66.17" y="378.30" width="4.6" height="4.6" fill="#ea1f6e"/>
<rect x="86.54" y="376.90" width="4.6" height="4.6" fill="#ea1f6e"/>
<rect x="113.70" y="374.50" width="4.6" height="4.6" fill="#ea1f6e"/>
<line x1="143.16" y1="365.30" x2="143.16" y2="375.50" stroke="#ea1f6e" stroke-width="1" />
<line x1="140.56" y1="365.30" x2="145.76" y2="365.30" stroke="#ea1f6e" stroke-width="1" />
<line x1="140.56" y1="375.50" x2="145.76" y2="375.50" stroke="#ea1f6e" stroke-width="1" />
<rect x="140.86" y="368.10" width="4.6" height="4.6" fill="#ea1f6e"/>
<line x1="170.32" y1="359.50" x2="170.32" y2="370.70" stroke="#ea1f6e" stroke-width="1" />
<line x1="167.72" y1="359.50" x2="172.92" y2="359.50" stroke="#ea1f6e" stroke-width="1" />
<line x1="167.72" y1="370.70" x2="172.92" y2="370.70" stroke="#ea1f6e" stroke-width="1" />
<rect x="168.02" y="362.80" width="4.6" height="4.6" fill="#ea1f6e"/>
<circle cx="48.10" cy="384.50" r="2.35" fill="#10642e"/>
<circle cx="68.47" cy="379.10" r="2.35" fill="#10642e"/>
<line x1="88.84" y1="374.80" x2="88.84" y2="377.20" stroke="#187238" stroke-width="1" />
<line x1="86.24" y1="374.80" x2="91.44" y2="374.80" stroke="#187238" stroke-width="1" />
<line x1="86.24" y1="377.20" x2="91.44" y2="377.20" stroke="#187238" stroke-width="1" />
<circle cx="88.84" cy="376.00" r="2.35" fill="#10642e"/>
<line x1="116.00" y1="364.90" x2="116.00" y2="369.30" stroke="#187238" stroke-width="1" />
<line x1="113.40" y1="364.90" x2="118.60" y2="364.90" stroke="#187238" stroke-width="1" />
<line x1="113.40" y1="369.30" x2="118.60" y2="369.30" stroke="#187238" stroke-width="1" />
<circle cx="116.00" cy="367.10" r="2.35" fill="#10642e"/>
<line x1="143.16" y1="344.30" x2="143.16" y2="356.90" stroke="#187238" stroke-width="1" />
<line x1="140.56" y1="344.30" x2="145.76" y2="344.30" stroke="#187238" stroke-width="1" />
<line x1="140.56" y1="356.90" x2="145.76" y2="356.90" stroke="#187238" stroke-width="1" />
<circle cx="143.16" cy="350.60" r="2.35" fill="#10642e"/>
<line x1="170.32" y1="321.80" x2="170.32" y2="339.60" stroke="#187238" stroke-width="1" />
<line x1="167.72" y1="321.80" x2="172.92" y2="321.80" stroke="#187238" stroke-width="1" />
<line x1="167.72" y1="339.60" x2="172.92" y2="339.60" stroke="#187238" stroke-width="1" />
<circle cx="170.32" cy="330.70" r="2.35" fill="#10642e"/>
</g>
<line x1="48.10" y1="384.90" x2="184.20" y2="384.90" stroke="#2b2b2b" stroke-width="1.25" />
<line x1="59.00" y1="316.20" x2="69.20" y2="316.20" stroke="#187238" stroke-width="1.3" />
<circle cx="64.1" cy="316.2" r="2.6" fill="#10642e"/>
<text x="73.00" y="319.40" font-size="9.3" text-anchor="start" fill="#222" font-weight="normal"  stroke="#222">WT</text>
<line x1="59.00" y1="328.20" x2="69.20" y2="328.20" stroke="#ea1f6e" stroke-width="1.3" />
<rect x="61.8" y="325.9" width="4.6" height="4.6" fill="#ea1f6e"/>
<text x="73.00" y="331.40" font-size="9.3" text-anchor="start" fill="#222" font-weight="normal"  stroke="#222">KO</text>
<line x1="177.00" y1="333.30" x2="177.00" y2="358.60" stroke="#222" stroke-width="1.1" />
<polygon points="185.25,343.80 184.33,344.18 184.25,345.18 183.60,344.42 182.63,344.65 183.15,343.80 182.63,342.95 183.60,343.18 184.25,342.42 184.33,343.42" fill="#111" stroke="#111" stroke-width="0.35" stroke-linejoin="round"/>
<polygon points="185.25,347.80 184.33,348.18 184.25,349.18 183.60,348.42 182.63,348.65 183.15,347.80 182.63,346.95 183.60,347.18 184.25,346.42 184.33,347.42" fill="#111" stroke="#111" stroke-width="0.35" stroke-linejoin="round"/>
<text x="182.90" y="293.60" font-size="11.6" text-anchor="start" fill="#222" font-weight="normal"  stroke="#222">(h)</text>
<rect x="195.0" y="306.2" width="163.4" height="83" fill="#e5e0d4"/>
<rect x="195.0" y="387.5" width="163.4" height="2" fill="#e9e7e2"/>
<line x1="248.1" y1="306.5" x2="247.1" y2="371" stroke="#d2cab8" stroke-width="0.44" opacity="0.5"/>
<line x1="282.6" y1="306.5" x2="282.2" y2="371" stroke="#d2cab8" stroke-width="0.95" opacity="0.5"/>
<line x1="230.4" y1="306.5" x2="229.1" y2="371" stroke="#e6e0d0" stroke-width="0.44" opacity="0.5"/>
<line x1="210.2" y1="306.5" x2="210.0" y2="371" stroke="#d2cab8" stroke-width="0.97" opacity="0.5"/>
<line x1="298.0" y1="306.5" x2="298.2" y2="371" stroke="#d2cab8" stroke-width="0.75" opacity="0.5"/>
<line x1="260.0" y1="306.5" x2="261.4" y2="371" stroke="#d2cab8" stroke-width="0.73" opacity="0.5"/>
<line x1="217.1" y1="306.5" x2="216.9" y2="371" stroke="#d2cab8" stroke-width="0.74" opacity="0.5"/>
<line x1="286.5" y1="306.5" x2="287.1" y2="371" stroke="#d2cab8" stroke-width="0.75" opacity="0.5"/>
<line x1="299.3" y1="306.5" x2="298.9" y2="371" stroke="#d2cab8" stroke-width="0.74" opacity="0.5"/>
<line x1="296.1" y1="306.5" x2="296.1" y2="371" stroke="#e6e0d0" stroke-width="0.87" opacity="0.5"/>
<line x1="271.2" y1="306.5" x2="272.4" y2="371" stroke="#e6e0d0" stroke-width="0.58" opacity="0.5"/>
<line x1="324.6" y1="306.5" x2="325.2" y2="371" stroke="#d2cab8" stroke-width="0.45" opacity="0.5"/>
<line x1="244.3" y1="306.5" x2="244.3" y2="371" stroke="#e6e0d0" stroke-width="0.84" opacity="0.5"/>
<line x1="242.3" y1="306.5" x2="243.7" y2="371" stroke="#d2cab8" stroke-width="0.71" opacity="0.5"/>
<line x1="222.3" y1="306.5" x2="221.8" y2="371" stroke="#e6e0d0" stroke-width="0.65" opacity="0.5"/>
<line x1="351.8" y1="306.5" x2="350.6" y2="371" stroke="#e6e0d0" stroke-width="0.60" opacity="0.5"/>
<line x1="252.4" y1="306.5" x2="252.4" y2="371" stroke="#e6e0d0" stroke-width="0.44" opacity="0.5"/>
<line x1="210.7" y1="306.5" x2="210.0" y2="371" stroke="#d2cab8" stroke-width="0.44" opacity="0.5"/>
<line x1="309.5" y1="306.5" x2="309.9" y2="371" stroke="#e6e0d0" stroke-width="0.57" opacity="0.5"/>
<line x1="258.2" y1="306.5" x2="258.7" y2="371" stroke="#d2cab8" stroke-width="0.96" opacity="0.5"/>
<line x1="253.3" y1="306.5" x2="253.6" y2="371" stroke="#e6e0d0" stroke-width="0.44" opacity="0.5"/>
<line x1="320.3" y1="306.5" x2="319.2" y2="371" stroke="#d2cab8" stroke-width="0.64" opacity="0.5"/>
<line x1="344.5" y1="306.5" x2="344.5" y2="371" stroke="#d2cab8" stroke-width="0.67" opacity="0.5"/>
<line x1="284.8" y1="306.5" x2="285.9" y2="371" stroke="#e6e0d0" stroke-width="0.92" opacity="0.5"/>
<line x1="240.7" y1="306.5" x2="240.5" y2="371" stroke="#e6e0d0" stroke-width="0.81" opacity="0.5"/>
<line x1="257.3" y1="306.5" x2="256.5" y2="371" stroke="#d2cab8" stroke-width="0.51" opacity="0.5"/>
<line x1="233.2" y1="306.5" x2="232.4" y2="371" stroke="#e6e0d0" stroke-width="0.90" opacity="0.5"/>
<line x1="225.1" y1="306.5" x2="224.5" y2="371" stroke="#d2cab8" stroke-width="0.65" opacity="0.5"/>
<line x1="255.5" y1="306.5" x2="255.7" y2="371" stroke="#d2cab8" stroke-width="0.81" opacity="0.5"/>
<line x1="279.3" y1="306.5" x2="279.6" y2="371" stroke="#d2cab8" stroke-width="0.67" opacity="0.5"/>
<line x1="337.0" y1="306.5" x2="338.4" y2="371" stroke="#e6e0d0" stroke-width="0.64" opacity="0.5"/>
<line x1="259.5" y1="306.5" x2="259.5" y2="371" stroke="#e6e0d0" stroke-width="0.44" opacity="0.5"/>
<line x1="206.4" y1="306.5" x2="205.6" y2="371" stroke="#d2cab8" stroke-width="0.47" opacity="0.5"/>
<line x1="293.1" y1="306.5" x2="291.9" y2="371" stroke="#d2cab8" stroke-width="0.72" opacity="0.5"/>
<line x1="349.7" y1="306.5" x2="350.0" y2="371" stroke="#d2cab8" stroke-width="0.92" opacity="0.5"/>
<line x1="295.3" y1="306.5" x2="294.2" y2="371" stroke="#e6e0d0" stroke-width="0.97" opacity="0.5"/>
<line x1="293.4" y1="306.5" x2="293.3" y2="371" stroke="#d2cab8" stroke-width="0.91" opacity="0.5"/>
<line x1="356.9" y1="306.5" x2="356.8" y2="371" stroke="#e6e0d0" stroke-width="0.59" opacity="0.5"/>
<line x1="218.9" y1="306.5" x2="219.7" y2="371" stroke="#e6e0d0" stroke-width="0.69" opacity="0.5"/>
<line x1="308.0" y1="306.5" x2="308.0" y2="371" stroke="#d2cab8" stroke-width="0.97" opacity="0.5"/>
<line x1="281.3" y1="306.5" x2="280.3" y2="371" stroke="#d2cab8" stroke-width="0.85" opacity="0.5"/>
<line x1="243.9" y1="306.5" x2="244.4" y2="371" stroke="#d2cab8" stroke-width="0.82" opacity="0.5"/>
<line x1="237.9" y1="306.5" x2="237.5" y2="371" stroke="#d2cab8" stroke-width="0.61" opacity="0.5"/>
<line x1="231.7" y1="306.5" x2="231.8" y2="371" stroke="#e6e0d0" stroke-width="0.78" opacity="0.5"/>
<line x1="295.1" y1="306.5" x2="296.0" y2="371" stroke="#d2cab8" stroke-width="0.88" opacity="0.5"/>
<line x1="328.5" y1="306.5" x2="329.2" y2="371" stroke="#d2cab8" stroke-width="0.52" opacity="0.5"/>
<line x1="275.6" y1="306.5" x2="276.3" y2="371" stroke="#d2cab8" stroke-width="0.87" opacity="0.5"/>
<line x1="272.2" y1="306.5" x2="271.3" y2="371" stroke="#e6e0d0" stroke-width="0.67" opacity="0.5"/>
<line x1="347.8" y1="306.5" x2="349.2" y2="371" stroke="#e6e0d0" stroke-width="0.45" opacity="0.5"/>
<line x1="212.1" y1="306.5" x2="212.0" y2="371" stroke="#e6e0d0" stroke-width="0.52" opacity="0.5"/>
<line x1="296.9" y1="306.5" x2="298.1" y2="371" stroke="#d2cab8" stroke-width="0.69" opacity="0.5"/>
<line x1="301.6" y1="306.5" x2="302.5" y2="371" stroke="#d2cab8" stroke-width="0.90" opacity="0.5"/>
<line x1="215.0" y1="306.5" x2="214.6" y2="371" stroke="#d2cab8" stroke-width="0.69" opacity="0.5"/>
<line x1="224.5" y1="306.5" x2="225.4" y2="371" stroke="#e6e0d0" stroke-width="0.45" opacity="0.5"/>
<line x1="349.3" y1="306.5" x2="349.9" y2="371" stroke="#e6e0d0" stroke-width="0.64" opacity="0.5"/>
<line x1="349.4" y1="306.5" x2="350.0" y2="371" stroke="#d2cab8" stroke-width="1.00" opacity="0.5"/>
<line x1="200.0" y1="306.5" x2="200.2" y2="371" stroke="#e6e0d0" stroke-width="0.88" opacity="0.5"/>
<line x1="219.3" y1="306.5" x2="220.2" y2="371" stroke="#e6e0d0" stroke-width="0.79" opacity="0.5"/>
<line x1="252.4" y1="306.5" x2="252.6" y2="371" stroke="#d2cab8" stroke-width="0.41" opacity="0.5"/>
<line x1="325.4" y1="306.5" x2="326.1" y2="371" stroke="#d2cab8" stroke-width="0.72" opacity="0.5"/>
<line x1="347.2" y1="306.5" x2="347.0" y2="371" stroke="#d2cab8" stroke-width="0.90" opacity="0.5"/>
<line x1="229.8" y1="306.5" x2="229.0" y2="371" stroke="#e6e0d0" stroke-width="0.70" opacity="0.5"/>
<line x1="319.6" y1="306.5" x2="319.1" y2="371" stroke="#e6e0d0" stroke-width="0.90" opacity="0.5"/>
<line x1="205.4" y1="306.5" x2="206.1" y2="371" stroke="#e6e0d0" stroke-width="0.80" opacity="0.5"/>
<line x1="327.9" y1="306.5" x2="328.0" y2="371" stroke="#d2cab8" stroke-width="0.72" opacity="0.5"/>
<line x1="280.6" y1="306.5" x2="279.1" y2="371" stroke="#e6e0d0" stroke-width="0.87" opacity="0.5"/>
<line x1="294.4" y1="306.5" x2="295.2" y2="371" stroke="#d2cab8" stroke-width="0.50" opacity="0.5"/>
<line x1="272.4" y1="306.5" x2="273.1" y2="371" stroke="#d2cab8" stroke-width="0.60" opacity="0.5"/>
<line x1="279.7" y1="306.5" x2="279.9" y2="371" stroke="#d2cab8" stroke-width="0.93" opacity="0.5"/>
<line x1="204.7" y1="306.5" x2="203.8" y2="371" stroke="#d2cab8" stroke-width="0.86" opacity="0.5"/>
<circle cx="214" cy="352" r="11" fill="#ebe7de" opacity="0.35"/>
<circle cx="240" cy="352" r="9" fill="#ebe7de" opacity="0.35"/>
<circle cx="262" cy="353" r="8" fill="#ebe7de" opacity="0.35"/>
<circle cx="293.5" cy="352" r="10" fill="#ebe7de" opacity="0.35"/>
<circle cx="324" cy="351" r="10" fill="#ebe7de" opacity="0.35"/>
<circle cx="347" cy="350" r="9" fill="#ebe7de" opacity="0.35"/>
<rect x="196.4" y="372.0" width="162.2" height="15.6" fill="#6ea6b8"/>
<rect x="196.4" y="372.0" width="162.2" height="5.5" fill="#80b4c4"/>
<rect x="196.4" y="385.6" width="162.2" height="2.0" fill="#4b8595"/>
<line x1="199.0" y1="383.0" x2="199.0" y2="385.6" stroke="#427b8c" stroke-width="0.6"/>
<line x1="199.0" y1="378.4" x2="199.0" y2="380.5" stroke="#4a8797" stroke-width="0.5"/>
<line x1="202.0" y1="384.3" x2="202.0" y2="385.6" stroke="#427b8c" stroke-width="0.6"/>
<line x1="202.0" y1="378.4" x2="202.0" y2="379.4" stroke="#4a8797" stroke-width="0.5"/>
<line x1="205.1" y1="384.3" x2="205.1" y2="385.6" stroke="#427b8c" stroke-width="0.6"/>
<line x1="205.1" y1="378.4" x2="205.1" y2="379.4" stroke="#4a8797" stroke-width="0.5"/>
<line x1="208.1" y1="384.3" x2="208.1" y2="385.6" stroke="#427b8c" stroke-width="0.6"/>
<line x1="208.1" y1="378.4" x2="208.1" y2="379.4" stroke="#4a8797" stroke-width="0.5"/>
<line x1="211.1" y1="384.3" x2="211.1" y2="385.6" stroke="#427b8c" stroke-width="0.6"/>
<line x1="211.1" y1="378.4" x2="211.1" y2="379.4" stroke="#4a8797" stroke-width="0.5"/>
<line x1="214.2" y1="383.0" x2="214.2" y2="385.6" stroke="#427b8c" stroke-width="0.6"/>
<line x1="214.2" y1="378.4" x2="214.2" y2="380.5" stroke="#4a8797" stroke-width="0.5"/>
<line x1="217.2" y1="384.3" x2="217.2" y2="385.6" stroke="#427b8c" stroke-width="0.6"/>
<line x1="217.2" y1="378.4" x2="217.2" y2="379.4" stroke="#4a8797" stroke-width="0.5"/>
<line x1="220.2" y1="384.3" x2="220.2" y2="385.6" stroke="#427b8c" stroke-width="0.6"/>
<line x1="220.2" y1="378.4" x2="220.2" y2="379.4" stroke="#4a8797" stroke-width="0.5"/>
<line x1="223.2" y1="384.3" x2="223.2" y2="385.6" stroke="#427b8c" stroke-width="0.6"/>
<line x1="223.2" y1="378.4" x2="223.2" y2="379.4" stroke="#4a8797" stroke-width="0.5"/>
<line x1="226.3" y1="384.3" x2="226.3" y2="385.6" stroke="#427b8c" stroke-width="0.6"/>
<line x1="226.3" y1="378.4" x2="226.3" y2="379.4" stroke="#4a8797" stroke-width="0.5"/>
<line x1="229.3" y1="383.0" x2="229.3" y2="385.6" stroke="#427b8c" stroke-width="0.6"/>
<line x1="229.3" y1="378.4" x2="229.3" y2="380.5" stroke="#4a8797" stroke-width="0.5"/>
<line x1="232.3" y1="384.3" x2="232.3" y2="385.6" stroke="#427b8c" stroke-width="0.6"/>
<line x1="232.3" y1="378.4" x2="232.3" y2="379.4" stroke="#4a8797" stroke-width="0.5"/>
<line x1="235.4" y1="384.3" x2="235.4" y2="385.6" stroke="#427b8c" stroke-width="0.6"/>
<line x1="235.4" y1="378.4" x2="235.4" y2="379.4" stroke="#4a8797" stroke-width="0.5"/>
<line x1="238.4" y1="384.3" x2="238.4" y2="385.6" stroke="#427b8c" stroke-width="0.6"/>
<line x1="238.4" y1="378.4" x2="238.4" y2="379.4" stroke="#4a8797" stroke-width="0.5"/>
<line x1="241.4" y1="384.3" x2="241.4" y2="385.6" stroke="#427b8c" stroke-width="0.6"/>
<line x1="241.4" y1="378.4" x2="241.4" y2="379.4" stroke="#4a8797" stroke-width="0.5"/>
<line x1="244.4" y1="383.0" x2="244.4" y2="385.6" stroke="#427b8c" stroke-width="0.6"/>
<line x1="244.4" y1="378.4" x2="244.4" y2="380.5" stroke="#4a8797" stroke-width="0.5"/>
<line x1="247.5" y1="384.3" x2="247.5" y2="385.6" stroke="#427b8c" stroke-width="0.6"/>
<line x1="247.5" y1="378.4" x2="247.5" y2="379.4" stroke="#4a8797" stroke-width="0.5"/>
<line x1="250.5" y1="384.3" x2="250.5" y2="385.6" stroke="#427b8c" stroke-width="0.6"/>
<line x1="250.5" y1="378.4" x2="250.5" y2="379.4" stroke="#4a8797" stroke-width="0.5"/>
<line x1="253.5" y1="384.3" x2="253.5" y2="385.6" stroke="#427b8c" stroke-width="0.6"/>
<line x1="253.5" y1="378.4" x2="253.5" y2="379.4" stroke="#4a8797" stroke-width="0.5"/>
<line x1="256.6" y1="384.3" x2="256.6" y2="385.6" stroke="#427b8c" stroke-width="0.6"/>
<line x1="256.6" y1="378.4" x2="256.6" y2="379.4" stroke="#4a8797" stroke-width="0.5"/>
<line x1="259.6" y1="383.0" x2="259.6" y2="385.6" stroke="#427b8c" stroke-width="0.6"/>
<line x1="259.6" y1="378.4" x2="259.6" y2="380.5" stroke="#4a8797" stroke-width="0.5"/>
<line x1="262.6" y1="384.3" x2="262.6" y2="385.6" stroke="#427b8c" stroke-width="0.6"/>
<line x1="262.6" y1="378.4" x2="262.6" y2="379.4" stroke="#4a8797" stroke-width="0.5"/>
<line x1="265.7" y1="384.3" x2="265.7" y2="385.6" stroke="#427b8c" stroke-width="0.6"/>
<line x1="265.7" y1="378.4" x2="265.7" y2="379.4" stroke="#4a8797" stroke-width="0.5"/>
<line x1="268.7" y1="384.3" x2="268.7" y2="385.6" stroke="#427b8c" stroke-width="0.6"/>
<line x1="268.7" y1="378.4" x2="268.7" y2="379.4" stroke="#4a8797" stroke-width="0.5"/>
<line x1="271.7" y1="384.3" x2="271.7" y2="385.6" stroke="#427b8c" stroke-width="0.6"/>
<line x1="271.7" y1="378.4" x2="271.7" y2="379.4" stroke="#4a8797" stroke-width="0.5"/>
<line x1="274.8" y1="383.0" x2="274.8" y2="385.6" stroke="#427b8c" stroke-width="0.6"/>
<line x1="274.8" y1="378.4" x2="274.8" y2="380.5" stroke="#4a8797" stroke-width="0.5"/>
<line x1="277.8" y1="384.3" x2="277.8" y2="385.6" stroke="#427b8c" stroke-width="0.6"/>
<line x1="277.8" y1="378.4" x2="277.8" y2="379.4" stroke="#4a8797" stroke-width="0.5"/>
<line x1="280.8" y1="384.3" x2="280.8" y2="385.6" stroke="#427b8c" stroke-width="0.6"/>
<line x1="280.8" y1="378.4" x2="280.8" y2="379.4" stroke="#4a8797" stroke-width="0.5"/>
<line x1="283.8" y1="384.3" x2="283.8" y2="385.6" stroke="#427b8c" stroke-width="0.6"/>
<line x1="283.8" y1="378.4" x2="283.8" y2="379.4" stroke="#4a8797" stroke-width="0.5"/>
<line x1="286.9" y1="384.3" x2="286.9" y2="385.6" stroke="#427b8c" stroke-width="0.6"/>
<line x1="286.9" y1="378.4" x2="286.9" y2="379.4" stroke="#4a8797" stroke-width="0.5"/>
<line x1="289.9" y1="383.0" x2="289.9" y2="385.6" stroke="#427b8c" stroke-width="0.6"/>
<line x1="289.9" y1="378.4" x2="289.9" y2="380.5" stroke="#4a8797" stroke-width="0.5"/>
<line x1="292.9" y1="384.3" x2="292.9" y2="385.6" stroke="#427b8c" stroke-width="0.6"/>
<line x1="292.9" y1="378.4" x2="292.9" y2="379.4" stroke="#4a8797" stroke-width="0.5"/>
<line x1="296.0" y1="384.3" x2="296.0" y2="385.6" stroke="#427b8c" stroke-width="0.6"/>
<line x1="296.0" y1="378.4" x2="296.0" y2="379.4" stroke="#4a8797" stroke-width="0.5"/>
<line x1="299.0" y1="384.3" x2="299.0" y2="385.6" stroke="#427b8c" stroke-width="0.6"/>
<line x1="299.0" y1="378.4" x2="299.0" y2="379.4" stroke="#4a8797" stroke-width="0.5"/>
<line x1="302.0" y1="384.3" x2="302.0" y2="385.6" stroke="#427b8c" stroke-width="0.6"/>
<line x1="302.0" y1="378.4" x2="302.0" y2="379.4" stroke="#4a8797" stroke-width="0.5"/>
<line x1="305.1" y1="383.0" x2="305.1" y2="385.6" stroke="#427b8c" stroke-width="0.6"/>
<line x1="305.1" y1="378.4" x2="305.1" y2="380.5" stroke="#4a8797" stroke-width="0.5"/>
<line x1="308.1" y1="384.3" x2="308.1" y2="385.6" stroke="#427b8c" stroke-width="0.6"/>
<line x1="308.1" y1="378.4" x2="308.1" y2="379.4" stroke="#4a8797" stroke-width="0.5"/>
<line x1="311.1" y1="384.3" x2="311.1" y2="385.6" stroke="#427b8c" stroke-width="0.6"/>
<line x1="311.1" y1="378.4" x2="311.1" y2="379.4" stroke="#4a8797" stroke-width="0.5"/>
<line x1="314.1" y1="384.3" x2="314.1" y2="385.6" stroke="#427b8c" stroke-width="0.6"/>
<line x1="314.1" y1="378.4" x2="314.1" y2="379.4" stroke="#4a8797" stroke-width="0.5"/>
<line x1="317.2" y1="384.3" x2="317.2" y2="385.6" stroke="#427b8c" stroke-width="0.6"/>
<line x1="317.2" y1="378.4" x2="317.2" y2="379.4" stroke="#4a8797" stroke-width="0.5"/>
<line x1="320.2" y1="383.0" x2="320.2" y2="385.6" stroke="#427b8c" stroke-width="0.6"/>
<line x1="320.2" y1="378.4" x2="320.2" y2="380.5" stroke="#4a8797" stroke-width="0.5"/>
<line x1="323.2" y1="384.3" x2="323.2" y2="385.6" stroke="#427b8c" stroke-width="0.6"/>
<line x1="323.2" y1="378.4" x2="323.2" y2="379.4" stroke="#4a8797" stroke-width="0.5"/>
<line x1="326.3" y1="384.3" x2="326.3" y2="385.6" stroke="#427b8c" stroke-width="0.6"/>
<line x1="326.3" y1="378.4" x2="326.3" y2="379.4" stroke="#4a8797" stroke-width="0.5"/>
<line x1="329.3" y1="384.3" x2="329.3" y2="385.6" stroke="#427b8c" stroke-width="0.6"/>
<line x1="329.3" y1="378.4" x2="329.3" y2="379.4" stroke="#4a8797" stroke-width="0.5"/>
<line x1="332.3" y1="384.3" x2="332.3" y2="385.6" stroke="#427b8c" stroke-width="0.6"/>
<line x1="332.3" y1="378.4" x2="332.3" y2="379.4" stroke="#4a8797" stroke-width="0.5"/>
<line x1="335.4" y1="383.0" x2="335.4" y2="385.6" stroke="#427b8c" stroke-width="0.6"/>
<line x1="335.4" y1="378.4" x2="335.4" y2="380.5" stroke="#4a8797" stroke-width="0.5"/>
<line x1="338.4" y1="384.3" x2="338.4" y2="385.6" stroke="#427b8c" stroke-width="0.6"/>
<line x1="338.4" y1="378.4" x2="338.4" y2="379.4" stroke="#4a8797" stroke-width="0.5"/>
<line x1="341.4" y1="384.3" x2="341.4" y2="385.6" stroke="#427b8c" stroke-width="0.6"/>
<line x1="341.4" y1="378.4" x2="341.4" y2="379.4" stroke="#4a8797" stroke-width="0.5"/>
<line x1="344.4" y1="384.3" x2="344.4" y2="385.6" stroke="#427b8c" stroke-width="0.6"/>
<line x1="344.4" y1="378.4" x2="344.4" y2="379.4" stroke="#4a8797" stroke-width="0.5"/>
<line x1="347.5" y1="384.3" x2="347.5" y2="385.6" stroke="#427b8c" stroke-width="0.6"/>
<line x1="347.5" y1="378.4" x2="347.5" y2="379.4" stroke="#4a8797" stroke-width="0.5"/>
<line x1="350.5" y1="383.0" x2="350.5" y2="385.6" stroke="#427b8c" stroke-width="0.6"/>
<line x1="350.5" y1="378.4" x2="350.5" y2="380.5" stroke="#4a8797" stroke-width="0.5"/>
<line x1="353.5" y1="384.3" x2="353.5" y2="385.6" stroke="#427b8c" stroke-width="0.6"/>
<line x1="353.5" y1="378.4" x2="353.5" y2="379.4" stroke="#4a8797" stroke-width="0.5"/>
<line x1="356.6" y1="384.3" x2="356.6" y2="385.6" stroke="#427b8c" stroke-width="0.6"/>
<line x1="356.6" y1="378.4" x2="356.6" y2="379.4" stroke="#4a8797" stroke-width="0.5"/>
<line x1="359.6" y1="384.3" x2="359.6" y2="385.6" stroke="#427b8c" stroke-width="0.6"/>
<line x1="359.6" y1="378.4" x2="359.6" y2="379.4" stroke="#4a8797" stroke-width="0.5"/>
<rect x="196.4" y="378.2" width="162.2" height="0.8" fill="#4f8c9c"/>
<text x="195.50" y="307.40" font-size="9.4" text-anchor="start" fill="#1a1a1a" font-weight="normal" style="stroke-width:0.45px" stroke="#1a1a1a">WT</text>
<text x="196.50" y="343.80" font-size="9.4" text-anchor="start" fill="#1a1a1a" font-weight="normal" style="stroke-width:0.45px" stroke="#1a1a1a">KO</text>
<radialGradient id="tg0" cx="0.48" cy="0.46" r="0.55"><stop offset="0" stop-color="#5e3018"/><stop offset="0.55" stop-color="#5e3018"/><stop offset="1" stop-color="#3e1c0c"/></radialGradient>
<path d="M218.83,321.70 C218.77,323.10 218.56,324.51 218.05,325.82 C217.54,327.13 216.84,328.72 215.76,329.55 C214.68,330.38 212.97,330.59 211.58,330.81 C210.19,331.04 208.74,331.15 207.41,330.88 C206.07,330.60 204.55,330.04 203.56,329.15 C202.57,328.27 202.04,326.81 201.46,325.57 C200.88,324.33 200.18,323.04 200.08,321.70 C199.98,320.36 200.31,318.82 200.85,317.54 C201.40,316.25 202.25,314.74 203.36,314.01 C204.48,313.27 206.18,313.33 207.54,313.13 C208.90,312.93 210.29,312.54 211.53,312.82 C212.76,313.11 213.83,314.07 214.98,314.83 C216.12,315.60 217.75,316.27 218.39,317.42 C219.03,318.56 218.88,320.30 218.83,321.70Z" fill="url(#tg0)" filter="url(#b05)"/>
<circle cx="203.5" cy="321.4" r="1.0" fill="#1a0a04" opacity="0.5"/>
<circle cx="205.2" cy="318.0" r="0.8" fill="#5a2a14" opacity="0.5"/>
<circle cx="208.5" cy="327.3" r="1.1" fill="#7a4224" opacity="0.5"/>
<circle cx="209.6" cy="327.5" r="1.4" fill="#9a7050" opacity="0.5"/>
<circle cx="212.3" cy="319.5" r="0.7" fill="#7a4224" opacity="0.5"/>
<circle cx="213.3" cy="325.4" r="1.2" fill="#1a0a04" opacity="0.5"/>
<circle cx="206.2" cy="323.3" r="1.3" fill="#9a7050" opacity="0.5"/>
<circle cx="212.0" cy="319.8" r="1.2" fill="#2a140a" opacity="0.5"/>
<circle cx="206.8" cy="324.7" r="1.5" fill="#24100a" opacity="0.5"/>
<circle cx="211.0" cy="329.4" r="1.4" fill="#7a4224" opacity="0.5"/>
<circle cx="212.9" cy="327.3" r="0.7" fill="#24100a" opacity="0.5"/>
<circle cx="204.3" cy="324.1" r="1.0" fill="#9a7050" opacity="0.5"/>
<circle cx="208.0" cy="323.6" r="0.6" fill="#9a7050" opacity="0.5"/>
<circle cx="204.5" cy="319.9" r="0.9" fill="#1a0a04" opacity="0.5"/>
<circle cx="205.2" cy="321.2" r="0.7" fill="#1a0a04" opacity="0.5"/>
<circle cx="212.8" cy="319.8" r="0.7" fill="#1a0a04" opacity="0.5"/>
<circle cx="208.5" cy="329.2" r="0.8" fill="#24100a" opacity="0.5"/>
<circle cx="213.1" cy="325.5" r="1.3" fill="#2a140a" opacity="0.5"/>
<circle cx="209.3" cy="324.8" r="1.1" fill="#5a2a14" opacity="0.5"/>
<circle cx="208.8" cy="319.4" r="1.3" fill="#1a0a04" opacity="0.5"/>
<circle cx="212.6" cy="328.6" r="1.4" fill="#9a7050" opacity="0.5"/>
<circle cx="204.7" cy="316.4" r="1.1" fill="#1a0a04" opacity="0.5"/>
<circle cx="210.2" cy="325.7" r="1.0" fill="#1a0a04" opacity="0.5"/>
<circle cx="206.3" cy="326.7" r="1.2" fill="#9a7050" opacity="0.5"/>
<circle cx="216.0" cy="323.5" r="1.5" fill="#1a0a04" opacity="0.5"/>
<circle cx="209.2" cy="325.1" r="1.2" fill="#9a7050" opacity="0.5"/>
<circle cx="205.9" cy="321.0" r="1.1" fill="#7a4224" opacity="0.5"/>
<circle cx="211.6" cy="325.9" r="1.5" fill="#1a0a04" opacity="0.5"/>
<circle cx="210.6" cy="321.9" r="1.1" fill="#5a2a14" opacity="0.5"/>
<circle cx="211.5" cy="326.8" r="0.7" fill="#7a4224" opacity="0.5"/>
<circle cx="211.7" cy="316.9" r="1.1" fill="#7a4224" opacity="0.5"/>
<circle cx="215.5" cy="316.6" r="1.2" fill="#9a7050" opacity="0.5"/>
<circle cx="214.1" cy="321.2" r="1.3" fill="#2a140a" opacity="0.5"/>
<circle cx="214.6" cy="327.8" r="1.4" fill="#1a0a04" opacity="0.5"/>
<circle cx="215.8" cy="322.3" r="1.0" fill="#9a7050" opacity="0.5"/>
<radialGradient id="tg1" cx="0.48" cy="0.46" r="0.55"><stop offset="0" stop-color="#8e4a24"/><stop offset="0.55" stop-color="#8e4a24"/><stop offset="1" stop-color="#5e2810"/></radialGradient>
<path d="M242.97,322.80 C243.01,323.81 242.89,324.95 242.50,325.87 C242.12,326.79 241.43,327.79 240.66,328.34 C239.89,328.88 238.78,329.03 237.86,329.14 C236.95,329.25 236.06,329.18 235.17,329.00 C234.28,328.82 233.25,328.64 232.53,328.09 C231.81,327.53 231.33,326.57 230.86,325.69 C230.38,324.80 229.74,323.80 229.68,322.80 C229.61,321.80 230.01,320.63 230.47,319.71 C230.92,318.80 231.62,317.94 232.38,317.32 C233.14,316.70 234.11,316.25 235.04,316.01 C235.97,315.77 237.10,315.62 237.98,315.90 C238.86,316.18 239.60,317.06 240.32,317.71 C241.04,318.37 241.86,318.99 242.30,319.83 C242.74,320.68 242.94,321.79 242.97,322.80Z" fill="url(#tg1)" filter="url(#b05)"/>
<circle cx="240.7" cy="324.4" r="1.4" fill="#7a4224" opacity="0.5"/>
<circle cx="235.1" cy="320.1" r="1.2" fill="#24100a" opacity="0.5"/>
<circle cx="238.8" cy="323.5" r="1.0" fill="#9a7050" opacity="0.5"/>
<circle cx="236.0" cy="328.5" r="0.9" fill="#5a2a14" opacity="0.5"/>
<circle cx="241.6" cy="324.0" r="0.9" fill="#24100a" opacity="0.5"/>
<circle cx="239.9" cy="322.8" r="0.9" fill="#7a4224" opacity="0.5"/>
<circle cx="235.0" cy="320.4" r="0.7" fill="#1a0a04" opacity="0.5"/>
<circle cx="237.4" cy="320.8" r="0.6" fill="#5a2a14" opacity="0.5"/>
<circle cx="239.5" cy="323.3" r="0.7" fill="#24100a" opacity="0.5"/>
<circle cx="241.4" cy="321.4" r="1.2" fill="#24100a" opacity="0.5"/>
<circle cx="235.4" cy="317.4" r="1.3" fill="#7a4224" opacity="0.5"/>
<circle cx="235.8" cy="318.7" r="1.3" fill="#9a7050" opacity="0.5"/>
<circle cx="235.8" cy="321.8" r="1.4" fill="#2a140a" opacity="0.5"/>
<circle cx="233.2" cy="319.2" r="0.7" fill="#5a2a14" opacity="0.5"/>
<circle cx="232.6" cy="322.2" r="1.3" fill="#1a0a04" opacity="0.5"/>
<circle cx="232.0" cy="320.0" r="1.5" fill="#2a140a" opacity="0.5"/>
<circle cx="235.5" cy="321.5" r="0.7" fill="#1a0a04" opacity="0.5"/>
<radialGradient id="tg2" cx="0.48" cy="0.46" r="0.55"><stop offset="0" stop-color="#94683e"/><stop offset="0.55" stop-color="#94683e"/><stop offset="1" stop-color="#4a2410"/></radialGradient>
<path d="M268.16,323.20 C268.22,324.59 268.33,326.17 267.87,327.44 C267.41,328.72 266.39,329.92 265.38,330.85 C264.38,331.77 263.08,332.79 261.84,332.98 C260.61,333.17 259.17,332.44 257.96,332.00 C256.76,331.55 255.54,331.13 254.61,330.31 C253.68,329.49 252.93,328.27 252.40,327.09 C251.88,325.90 251.61,324.56 251.48,323.20 C251.36,321.84 251.13,320.09 251.67,318.92 C252.20,317.76 253.67,317.05 254.70,316.21 C255.73,315.37 256.70,314.20 257.85,313.89 C259.01,313.58 260.45,314.01 261.65,314.36 C262.85,314.72 264.06,315.22 265.05,316.02 C266.03,316.81 267.03,317.93 267.55,319.12 C268.07,320.32 268.11,321.81 268.16,323.20Z" fill="url(#tg2)" filter="url(#b05)"/>
<circle cx="258.3" cy="325.2" r="1.1" fill="#7a4224" opacity="0.5"/>
<circle cx="255.7" cy="318.6" r="0.8" fill="#2a140a" opacity="0.5"/>
<circle cx="259.4" cy="328.6" r="1.3" fill="#1a0a04" opacity="0.5"/>
<circle cx="254.4" cy="323.1" r="1.1" fill="#2a140a" opacity="0.5"/>
<circle cx="259.7" cy="317.6" r="1.4" fill="#1a0a04" opacity="0.5"/>
<circle cx="260.4" cy="330.2" r="1.3" fill="#24100a" opacity="0.5"/>
<circle cx="264.9" cy="322.3" r="0.7" fill="#7a4224" opacity="0.5"/>
<circle cx="263.2" cy="320.9" r="1.2" fill="#1a0a04" opacity="0.5"/>
<circle cx="258.5" cy="321.4" r="0.9" fill="#24100a" opacity="0.5"/>
<circle cx="256.2" cy="317.7" r="1.1" fill="#5a2a14" opacity="0.5"/>
<circle cx="261.6" cy="323.4" r="1.5" fill="#9a7050" opacity="0.5"/>
<circle cx="262.6" cy="325.4" r="0.9" fill="#7a4224" opacity="0.5"/>
<circle cx="254.8" cy="322.6" r="1.3" fill="#7a4224" opacity="0.5"/>
<circle cx="265.3" cy="322.9" r="1.5" fill="#9a7050" opacity="0.5"/>
<circle cx="260.7" cy="322.8" r="0.7" fill="#7a4224" opacity="0.5"/>
<circle cx="252.4" cy="322.9" r="0.9" fill="#9a7050" opacity="0.5"/>
<circle cx="266.0" cy="319.3" r="1.1" fill="#1a0a04" opacity="0.5"/>
<circle cx="263.2" cy="327.7" r="0.7" fill="#9a7050" opacity="0.5"/>
<circle cx="262.1" cy="318.0" r="1.2" fill="#1a0a04" opacity="0.5"/>
<circle cx="260.6" cy="330.8" r="1.0" fill="#7a4224" opacity="0.5"/>
<circle cx="263.7" cy="329.8" r="1.0" fill="#2a140a" opacity="0.5"/>
<circle cx="258.9" cy="326.1" r="0.9" fill="#9a7050" opacity="0.5"/>
<circle cx="262.9" cy="326.4" r="1.3" fill="#9a7050" opacity="0.5"/>
<circle cx="261.2" cy="320.8" r="1.2" fill="#24100a" opacity="0.5"/>
<circle cx="263.0" cy="320.7" r="0.7" fill="#9a7050" opacity="0.5"/>
<circle cx="254.5" cy="328.0" r="0.9" fill="#1a0a04" opacity="0.5"/>
<circle cx="256.3" cy="325.1" r="0.9" fill="#1a0a04" opacity="0.5"/>
<circle cx="265.5" cy="325.3" r="1.4" fill="#2a140a" opacity="0.5"/>
<circle cx="259.8" cy="327.4" r="0.9" fill="#5a2a14" opacity="0.5"/>
<circle cx="260.8" cy="316.1" r="1.4" fill="#7a4224" opacity="0.5"/>
<circle cx="262.0" cy="317.3" r="1.1" fill="#5a2a14" opacity="0.5"/>
<circle cx="259.5" cy="321.4" r="1.0" fill="#2a140a" opacity="0.5"/>
<circle cx="257.7" cy="321.2" r="1.0" fill="#9a7050" opacity="0.5"/>
<radialGradient id="tg3" cx="0.48" cy="0.46" r="0.55"><stop offset="0" stop-color="#5a3018"/><stop offset="0.55" stop-color="#5a3018"/><stop offset="1" stop-color="#4a2814"/></radialGradient>
<path d="M301.58,322.50 C301.67,324.07 301.93,325.93 301.52,327.38 C301.11,328.84 300.06,330.15 299.10,331.23 C298.14,332.31 296.96,333.62 295.78,333.88 C294.60,334.13 293.18,333.27 292.02,332.74 C290.86,332.21 289.82,331.58 288.83,330.69 C287.83,329.80 286.63,328.77 286.04,327.41 C285.45,326.04 285.20,324.08 285.29,322.50 C285.38,320.92 286.03,319.38 286.56,317.92 C287.09,316.46 287.57,314.71 288.47,313.73 C289.38,312.75 290.77,312.44 291.98,312.05 C293.19,311.66 294.62,310.99 295.73,311.40 C296.84,311.81 297.79,313.40 298.66,314.50 C299.53,315.59 300.46,316.65 300.95,317.98 C301.43,319.31 301.48,320.93 301.58,322.50Z" fill="url(#tg3)" filter="url(#b05)"/>
<circle cx="298.3" cy="318.9" r="1.0" fill="#24100a" opacity="0.5"/>
<circle cx="291.7" cy="326.7" r="1.3" fill="#2a140a" opacity="0.5"/>
<circle cx="291.2" cy="317.7" r="0.9" fill="#24100a" opacity="0.5"/>
<circle cx="289.7" cy="320.5" r="1.2" fill="#24100a" opacity="0.5"/>
<circle cx="298.2" cy="325.5" r="1.1" fill="#7a4224" opacity="0.5"/>
<circle cx="289.9" cy="324.1" r="1.0" fill="#7a4224" opacity="0.5"/>
<circle cx="290.5" cy="321.1" r="0.9" fill="#24100a" opacity="0.5"/>
<circle cx="296.7" cy="325.0" r="1.3" fill="#9a7050" opacity="0.5"/>
<circle cx="294.1" cy="323.8" r="0.9" fill="#7a4224" opacity="0.5"/>
<circle cx="293.7" cy="318.3" r="0.9" fill="#9a7050" opacity="0.5"/>
<circle cx="297.2" cy="324.4" r="0.7" fill="#9a7050" opacity="0.5"/>
<circle cx="288.2" cy="322.3" r="0.7" fill="#24100a" opacity="0.5"/>
<circle cx="297.3" cy="319.0" r="1.0" fill="#2a140a" opacity="0.5"/>
<circle cx="300.0" cy="320.1" r="0.7" fill="#1a0a04" opacity="0.5"/>
<circle cx="288.3" cy="326.2" r="1.5" fill="#7a4224" opacity="0.5"/>
<circle cx="291.9" cy="322.7" r="1.4" fill="#5a2a14" opacity="0.5"/>
<circle cx="297.3" cy="321.7" r="0.8" fill="#1a0a04" opacity="0.5"/>
<circle cx="297.8" cy="330.0" r="1.4" fill="#1a0a04" opacity="0.5"/>
<circle cx="292.8" cy="315.2" r="0.7" fill="#7a4224" opacity="0.5"/>
<circle cx="293.8" cy="322.2" r="0.8" fill="#24100a" opacity="0.5"/>
<circle cx="298.8" cy="318.9" r="1.5" fill="#9a7050" opacity="0.5"/>
<circle cx="290.2" cy="317.7" r="1.2" fill="#7a4224" opacity="0.5"/>
<circle cx="295.2" cy="324.1" r="1.4" fill="#5a2a14" opacity="0.5"/>
<circle cx="295.1" cy="326.9" r="0.6" fill="#5a2a14" opacity="0.5"/>
<circle cx="287.0" cy="320.3" r="1.5" fill="#9a7050" opacity="0.5"/>
<circle cx="289.7" cy="315.6" r="1.1" fill="#7a4224" opacity="0.5"/>
<circle cx="292.6" cy="322.0" r="1.2" fill="#7a4224" opacity="0.5"/>
<circle cx="293.4" cy="323.8" r="1.4" fill="#7a4224" opacity="0.5"/>
<circle cx="292.6" cy="320.4" r="1.2" fill="#24100a" opacity="0.5"/>
<circle cx="296.8" cy="320.5" r="1.2" fill="#1a0a04" opacity="0.5"/>
<circle cx="293.0" cy="317.0" r="0.8" fill="#7a4224" opacity="0.5"/>
<circle cx="295.6" cy="314.9" r="0.7" fill="#5a2a14" opacity="0.5"/>
<circle cx="290.6" cy="322.6" r="0.8" fill="#24100a" opacity="0.5"/>
<circle cx="294.9" cy="330.4" r="0.7" fill="#9a7050" opacity="0.5"/>
<circle cx="289.9" cy="317.4" r="1.0" fill="#24100a" opacity="0.5"/>
<circle cx="295.2" cy="321.3" r="0.7" fill="#5a2a14" opacity="0.5"/>
<radialGradient id="tg4" cx="0.48" cy="0.46" r="0.55"><stop offset="0" stop-color="#6e3618"/><stop offset="0.55" stop-color="#6e3618"/><stop offset="1" stop-color="#46200e"/></radialGradient>
<path d="M331.50,323.50 C331.44,324.54 330.11,325.51 329.54,326.54 C328.97,327.57 328.90,329.01 328.08,329.67 C327.25,330.33 325.77,330.20 324.58,330.50 C323.40,330.81 322.03,331.74 320.98,331.49 C319.93,331.23 319.25,329.73 318.30,328.98 C317.34,328.23 315.86,327.91 315.25,327.00 C314.65,326.08 314.66,324.66 314.67,323.50 C314.67,322.34 314.81,321.08 315.28,320.01 C315.75,318.94 316.53,317.69 317.51,317.08 C318.50,316.48 320.01,316.53 321.19,316.40 C322.38,316.27 323.49,316.12 324.63,316.28 C325.78,316.44 327.18,316.69 328.05,317.36 C328.92,318.03 329.28,319.29 329.85,320.32 C330.43,321.34 331.55,322.46 331.50,323.50Z" fill="url(#tg4)" filter="url(#b05)"/>
<circle cx="320.4" cy="325.3" r="0.7" fill="#5a2a14" opacity="0.5"/>
<circle cx="324.5" cy="324.0" r="1.0" fill="#7a4224" opacity="0.5"/>
<circle cx="322.0" cy="320.0" r="1.5" fill="#1a0a04" opacity="0.5"/>
<circle cx="326.4" cy="322.0" r="1.2" fill="#24100a" opacity="0.5"/>
<circle cx="318.3" cy="322.8" r="1.2" fill="#9a7050" opacity="0.5"/>
<circle cx="319.9" cy="326.2" r="1.0" fill="#9a7050" opacity="0.5"/>
<circle cx="324.4" cy="324.6" r="0.9" fill="#1a0a04" opacity="0.5"/>
<circle cx="325.2" cy="322.9" r="0.9" fill="#24100a" opacity="0.5"/>
<circle cx="323.3" cy="319.9" r="0.7" fill="#7a4224" opacity="0.5"/>
<circle cx="322.1" cy="320.8" r="1.4" fill="#5a2a14" opacity="0.5"/>
<circle cx="324.3" cy="327.2" r="0.6" fill="#7a4224" opacity="0.5"/>
<circle cx="317.7" cy="326.6" r="0.6" fill="#7a4224" opacity="0.5"/>
<circle cx="324.6" cy="323.9" r="0.8" fill="#1a0a04" opacity="0.5"/>
<circle cx="322.8" cy="317.4" r="0.9" fill="#9a7050" opacity="0.5"/>
<circle cx="319.5" cy="328.9" r="0.8" fill="#1a0a04" opacity="0.5"/>
<circle cx="322.1" cy="319.9" r="0.9" fill="#9a7050" opacity="0.5"/>
<circle cx="322.0" cy="318.6" r="1.5" fill="#2a140a" opacity="0.5"/>
<circle cx="328.6" cy="325.8" r="1.0" fill="#1a0a04" opacity="0.5"/>
<circle cx="329.3" cy="321.8" r="1.3" fill="#7a4224" opacity="0.5"/>
<circle cx="328.2" cy="320.5" r="1.4" fill="#24100a" opacity="0.5"/>
<circle cx="325.4" cy="328.8" r="0.9" fill="#2a140a" opacity="0.5"/>
<circle cx="322.0" cy="321.2" r="0.9" fill="#24100a" opacity="0.5"/>
<circle cx="321.2" cy="327.0" r="0.7" fill="#5a2a14" opacity="0.5"/>
<circle cx="324.8" cy="328.8" r="1.0" fill="#24100a" opacity="0.5"/>
<radialGradient id="tg5" cx="0.48" cy="0.46" r="0.55"><stop offset="0" stop-color="#904822"/><stop offset="0.55" stop-color="#904822"/><stop offset="1" stop-color="#6a2a10"/></radialGradient>
<path d="M353.36,322.90 C353.38,323.68 353.23,324.57 352.84,325.28 C352.45,325.99 351.73,326.65 351.00,327.14 C350.26,327.63 349.34,328.04 348.43,328.22 C347.53,328.39 346.51,328.34 345.57,328.18 C344.64,328.03 343.55,327.81 342.85,327.31 C342.14,326.81 341.78,325.93 341.37,325.19 C340.96,324.46 340.32,323.65 340.36,322.90 C340.40,322.15 341.15,321.39 341.60,320.70 C342.06,320.01 342.41,319.24 343.08,318.74 C343.74,318.23 344.71,317.83 345.59,317.68 C346.47,317.53 347.43,317.72 348.36,317.85 C349.30,317.97 350.49,317.98 351.21,318.43 C351.93,318.89 352.32,319.84 352.68,320.59 C353.04,321.33 353.33,322.12 353.36,322.90Z" fill="url(#tg5)" filter="url(#b05)"/>
<circle cx="344.7" cy="320.3" r="0.9" fill="#5a2a14" opacity="0.5"/>
<circle cx="352.2" cy="322.4" r="0.8" fill="#1a0a04" opacity="0.5"/>
<circle cx="348.5" cy="323.6" r="1.5" fill="#7a4224" opacity="0.5"/>
<circle cx="349.3" cy="322.6" r="1.0" fill="#24100a" opacity="0.5"/>
<circle cx="343.7" cy="320.3" r="1.1" fill="#2a140a" opacity="0.5"/>
<circle cx="347.7" cy="318.9" r="0.9" fill="#9a7050" opacity="0.5"/>
<circle cx="343.9" cy="321.7" r="0.8" fill="#2a140a" opacity="0.5"/>
<circle cx="344.8" cy="323.6" r="0.7" fill="#24100a" opacity="0.5"/>
<circle cx="350.1" cy="320.5" r="0.7" fill="#9a7050" opacity="0.5"/>
<circle cx="347.0" cy="325.2" r="0.8" fill="#5a2a14" opacity="0.5"/>
<circle cx="348.6" cy="319.4" r="0.7" fill="#1a0a04" opacity="0.5"/>
<circle cx="342.1" cy="323.6" r="1.4" fill="#7a4224" opacity="0.5"/>
<circle cx="349.9" cy="323.5" r="0.6" fill="#1a0a04" opacity="0.5"/>
<circle cx="342.9" cy="320.4" r="1.4" fill="#24100a" opacity="0.5"/>
<radialGradient id="tg6" cx="0.48" cy="0.46" r="0.55"><stop offset="0" stop-color="#5a2e18"/><stop offset="0.55" stop-color="#5a2e18"/><stop offset="1" stop-color="#341608"/></radialGradient>
<path d="M221.93,351.90 C222.02,353.13 221.91,354.55 221.46,355.72 C221.02,356.90 220.23,358.27 219.26,358.95 C218.28,359.63 216.82,359.57 215.62,359.81 C214.42,360.06 213.19,360.63 212.04,360.44 C210.90,360.25 209.67,359.48 208.75,358.68 C207.83,357.88 206.90,356.77 206.51,355.64 C206.11,354.51 206.28,353.08 206.40,351.90 C206.52,350.72 206.80,349.61 207.24,348.53 C207.67,347.46 208.20,346.31 209.00,345.45 C209.81,344.60 210.95,343.62 212.05,343.39 C213.15,343.15 214.47,343.71 215.61,344.04 C216.75,344.36 218.01,344.61 218.89,345.33 C219.77,346.05 220.39,347.27 220.90,348.36 C221.40,349.46 221.83,350.67 221.93,351.90Z" fill="url(#tg6)" filter="url(#b05)"/>
<circle cx="209.5" cy="356.7" r="1.1" fill="#7a4224" opacity="0.5"/>
<circle cx="214.8" cy="346.2" r="0.7" fill="#1a0a04" opacity="0.5"/>
<circle cx="209.5" cy="348.7" r="0.6" fill="#24100a" opacity="0.5"/>
<circle cx="213.1" cy="353.2" r="0.6" fill="#9a7050" opacity="0.5"/>
<circle cx="213.2" cy="345.1" r="1.3" fill="#1a0a04" opacity="0.5"/>
<circle cx="210.4" cy="354.3" r="0.9" fill="#5a2a14" opacity="0.5"/>
<circle cx="215.7" cy="358.0" r="1.0" fill="#5a2a14" opacity="0.5"/>
<circle cx="208.8" cy="355.4" r="1.1" fill="#2a140a" opacity="0.5"/>
<circle cx="212.6" cy="350.2" r="1.0" fill="#24100a" opacity="0.5"/>
<circle cx="213.0" cy="358.9" r="0.9" fill="#2a140a" opacity="0.5"/>
<circle cx="217.5" cy="350.7" r="1.4" fill="#5a2a14" opacity="0.5"/>
<circle cx="213.1" cy="352.4" r="1.2" fill="#9a7050" opacity="0.5"/>
<circle cx="210.6" cy="354.8" r="1.0" fill="#1a0a04" opacity="0.5"/>
<circle cx="215.2" cy="353.9" r="1.0" fill="#1a0a04" opacity="0.5"/>
<circle cx="217.3" cy="348.6" r="0.7" fill="#24100a" opacity="0.5"/>
<circle cx="216.3" cy="352.8" r="0.7" fill="#7a4224" opacity="0.5"/>
<circle cx="210.9" cy="348.9" r="0.8" fill="#5a2a14" opacity="0.5"/>
<circle cx="212.3" cy="354.2" r="1.4" fill="#24100a" opacity="0.5"/>
<circle cx="217.6" cy="355.1" r="0.9" fill="#24100a" opacity="0.5"/>
<circle cx="214.6" cy="350.6" r="0.9" fill="#7a4224" opacity="0.5"/>
<circle cx="209.7" cy="348.3" r="1.4" fill="#1a0a04" opacity="0.5"/>
<circle cx="209.4" cy="347.5" r="1.2" fill="#24100a" opacity="0.5"/>
<circle cx="217.2" cy="347.5" r="1.4" fill="#5a2a14" opacity="0.5"/>
<circle cx="215.3" cy="349.2" r="0.6" fill="#24100a" opacity="0.5"/>
<circle cx="216.4" cy="350.8" r="0.7" fill="#9a7050" opacity="0.5"/>
<circle cx="214.0" cy="358.0" r="0.6" fill="#24100a" opacity="0.5"/>
<radialGradient id="tg7" cx="0.48" cy="0.46" r="0.55"><stop offset="0" stop-color="#6a3a20"/><stop offset="0.55" stop-color="#6a3a20"/><stop offset="1" stop-color="#3a1a0c"/></radialGradient>
<path d="M245.58,351.90 C245.57,352.83 245.78,353.87 245.43,354.66 C245.08,355.45 244.20,356.12 243.46,356.62 C242.73,357.12 241.87,357.43 241.01,357.65 C240.16,357.87 239.19,358.09 238.32,357.93 C237.46,357.78 236.54,357.30 235.84,356.74 C235.14,356.18 234.51,355.39 234.13,354.58 C233.75,353.77 233.51,352.78 233.54,351.90 C233.57,351.02 233.92,350.09 234.32,349.31 C234.73,348.54 235.33,347.85 235.99,347.24 C236.65,346.64 237.44,345.87 238.28,345.67 C239.12,345.47 240.14,345.82 241.04,346.03 C241.94,346.23 242.92,346.41 243.67,346.92 C244.42,347.43 245.22,348.26 245.54,349.09 C245.86,349.92 245.60,350.97 245.58,351.90Z" fill="url(#tg7)" filter="url(#b05)"/>
<circle cx="235.5" cy="350.1" r="1.2" fill="#1a0a04" opacity="0.5"/>
<circle cx="238.2" cy="354.8" r="1.1" fill="#7a4224" opacity="0.5"/>
<circle cx="237.7" cy="349.8" r="0.9" fill="#7a4224" opacity="0.5"/>
<circle cx="239.7" cy="355.2" r="1.0" fill="#9a7050" opacity="0.5"/>
<circle cx="239.0" cy="352.2" r="1.5" fill="#5a2a14" opacity="0.5"/>
<circle cx="236.3" cy="352.7" r="1.3" fill="#5a2a14" opacity="0.5"/>
<circle cx="237.5" cy="352.5" r="1.0" fill="#7a4224" opacity="0.5"/>
<circle cx="242.6" cy="353.2" r="0.7" fill="#9a7050" opacity="0.5"/>
<circle cx="236.2" cy="353.2" r="0.6" fill="#1a0a04" opacity="0.5"/>
<circle cx="243.2" cy="355.6" r="1.3" fill="#9a7050" opacity="0.5"/>
<circle cx="238.5" cy="351.8" r="1.4" fill="#5a2a14" opacity="0.5"/>
<circle cx="237.0" cy="348.1" r="1.4" fill="#1a0a04" opacity="0.5"/>
<circle cx="244.2" cy="351.8" r="0.8" fill="#1a0a04" opacity="0.5"/>
<circle cx="243.4" cy="351.5" r="1.2" fill="#24100a" opacity="0.5"/>
<circle cx="239.3" cy="349.5" r="1.1" fill="#9a7050" opacity="0.5"/>
<radialGradient id="tg8" cx="0.48" cy="0.46" r="0.55"><stop offset="0" stop-color="#5a3018"/><stop offset="0.55" stop-color="#5a3018"/><stop offset="1" stop-color="#3a1a0c"/></radialGradient>
<path d="M267.66,353.00 C267.72,353.74 267.55,354.65 267.17,355.31 C266.79,355.98 266.05,356.56 265.37,357.00 C264.68,357.44 263.87,357.83 263.07,357.98 C262.27,358.13 261.40,358.00 260.55,357.89 C259.70,357.77 258.58,357.76 257.96,357.30 C257.34,356.85 257.09,355.86 256.84,355.14 C256.58,354.42 256.42,353.71 256.42,353.00 C256.42,352.29 256.53,351.51 256.86,350.87 C257.19,350.23 257.76,349.62 258.38,349.17 C259.00,348.71 259.79,348.32 260.57,348.17 C261.34,348.01 262.26,348.03 263.02,348.21 C263.78,348.40 264.50,348.82 265.13,349.26 C265.76,349.70 266.37,350.23 266.79,350.85 C267.21,351.47 267.60,352.26 267.66,353.00Z" fill="url(#tg8)" filter="url(#b05)"/>
<circle cx="261.8" cy="355.5" r="0.8" fill="#5a2a14" opacity="0.5"/>
<circle cx="262.5" cy="351.5" r="1.5" fill="#5a2a14" opacity="0.5"/>
<circle cx="258.1" cy="353.4" r="1.1" fill="#5a2a14" opacity="0.5"/>
<circle cx="261.4" cy="353.8" r="1.0" fill="#24100a" opacity="0.5"/>
<circle cx="260.1" cy="351.3" r="1.4" fill="#9a7050" opacity="0.5"/>
<circle cx="263.9" cy="356.4" r="1.3" fill="#1a0a04" opacity="0.5"/>
<circle cx="266.1" cy="354.2" r="1.1" fill="#7a4224" opacity="0.5"/>
<circle cx="257.8" cy="351.0" r="0.8" fill="#1a0a04" opacity="0.5"/>
<circle cx="257.4" cy="352.1" r="1.3" fill="#2a140a" opacity="0.5"/>
<circle cx="261.4" cy="357.3" r="0.7" fill="#5a2a14" opacity="0.5"/>
<circle cx="261.1" cy="354.1" r="0.8" fill="#24100a" opacity="0.5"/>
<radialGradient id="tg9" cx="0.48" cy="0.46" r="0.55"><stop offset="0" stop-color="#341a0c"/><stop offset="0.55" stop-color="#341a0c"/><stop offset="1" stop-color="#240e06"/></radialGradient>
<path d="M300.54,352.20 C300.60,353.14 300.08,354.22 299.61,355.10 C299.14,355.99 298.50,356.86 297.72,357.50 C296.94,358.14 295.89,358.81 294.91,358.95 C293.93,359.08 292.84,358.55 291.85,358.29 C290.85,358.03 289.81,357.91 288.97,357.39 C288.12,356.88 287.26,356.07 286.78,355.20 C286.30,354.34 286.04,353.18 286.10,352.20 C286.15,351.22 286.57,350.15 287.10,349.35 C287.63,348.54 288.50,347.95 289.28,347.39 C290.07,346.82 290.87,346.29 291.81,345.95 C292.75,345.62 294.02,345.11 294.93,345.36 C295.84,345.61 296.55,346.76 297.27,347.44 C297.99,348.12 298.70,348.67 299.25,349.46 C299.79,350.25 300.48,351.26 300.54,352.20Z" fill="url(#tg9)" filter="url(#b05)"/>
<circle cx="293.2" cy="351.0" r="0.8" fill="#5a2a14" opacity="0.5"/>
<circle cx="289.6" cy="348.0" r="1.4" fill="#5a2a14" opacity="0.5"/>
<circle cx="297.2" cy="349.3" r="0.6" fill="#2a140a" opacity="0.5"/>
<circle cx="296.0" cy="355.7" r="1.0" fill="#7a4224" opacity="0.5"/>
<circle cx="292.5" cy="353.1" r="0.8" fill="#7a4224" opacity="0.5"/>
<circle cx="292.8" cy="351.5" r="1.1" fill="#1a0a04" opacity="0.5"/>
<circle cx="291.9" cy="356.0" r="0.8" fill="#5a2a14" opacity="0.5"/>
<circle cx="289.5" cy="350.1" r="0.9" fill="#24100a" opacity="0.5"/>
<circle cx="294.4" cy="350.3" r="1.4" fill="#1a0a04" opacity="0.5"/>
<circle cx="293.4" cy="354.3" r="0.7" fill="#1a0a04" opacity="0.5"/>
<circle cx="296.2" cy="355.8" r="1.0" fill="#9a7050" opacity="0.5"/>
<circle cx="293.2" cy="352.8" r="1.3" fill="#2a140a" opacity="0.5"/>
<circle cx="296.8" cy="349.5" r="1.0" fill="#5a2a14" opacity="0.5"/>
<circle cx="297.9" cy="350.4" r="0.7" fill="#24100a" opacity="0.5"/>
<circle cx="294.7" cy="352.2" r="1.0" fill="#1a0a04" opacity="0.5"/>
<circle cx="293.4" cy="353.5" r="0.6" fill="#1a0a04" opacity="0.5"/>
<circle cx="288.0" cy="350.5" r="1.0" fill="#24100a" opacity="0.5"/>
<radialGradient id="tg10" cx="0.48" cy="0.46" r="0.55"><stop offset="0" stop-color="#5a3018"/><stop offset="0.55" stop-color="#5a3018"/><stop offset="1" stop-color="#341608"/></radialGradient>
<path d="M330.36,350.80 C330.46,351.62 330.57,352.62 330.25,353.39 C329.92,354.17 329.15,354.93 328.41,355.43 C327.67,355.94 326.69,356.31 325.80,356.44 C324.91,356.56 323.98,356.35 323.06,356.20 C322.14,356.05 321.06,356.01 320.29,355.55 C319.52,355.09 318.81,354.23 318.44,353.44 C318.08,352.65 318.04,351.66 318.09,350.80 C318.13,349.94 318.29,349.01 318.72,348.28 C319.14,347.56 319.91,346.90 320.64,346.46 C321.37,346.01 322.25,345.79 323.11,345.59 C323.97,345.40 324.89,345.16 325.77,345.26 C326.65,345.36 327.73,345.67 328.38,346.20 C329.03,346.74 329.35,347.69 329.68,348.46 C330.02,349.22 330.27,349.98 330.36,350.80Z" fill="url(#tg10)" filter="url(#b05)"/>
<circle cx="320.1" cy="350.3" r="1.2" fill="#2a140a" opacity="0.5"/>
<circle cx="325.3" cy="348.9" r="0.7" fill="#9a7050" opacity="0.5"/>
<circle cx="320.6" cy="347.3" r="1.3" fill="#2a140a" opacity="0.5"/>
<circle cx="324.3" cy="350.4" r="1.3" fill="#7a4224" opacity="0.5"/>
<circle cx="319.9" cy="351.7" r="0.8" fill="#7a4224" opacity="0.5"/>
<circle cx="327.1" cy="350.7" r="0.6" fill="#2a140a" opacity="0.5"/>
<circle cx="322.0" cy="354.5" r="1.4" fill="#2a140a" opacity="0.5"/>
<circle cx="324.3" cy="351.9" r="1.1" fill="#2a140a" opacity="0.5"/>
<circle cx="320.0" cy="352.5" r="1.5" fill="#5a2a14" opacity="0.5"/>
<circle cx="322.9" cy="355.4" r="0.7" fill="#24100a" opacity="0.5"/>
<circle cx="322.2" cy="350.7" r="1.4" fill="#24100a" opacity="0.5"/>
<circle cx="325.0" cy="352.7" r="0.8" fill="#9a7050" opacity="0.5"/>
<circle cx="321.2" cy="353.3" r="1.4" fill="#7a4224" opacity="0.5"/>
<circle cx="321.4" cy="347.8" r="1.4" fill="#2a140a" opacity="0.5"/>
<radialGradient id="tg11" cx="0.48" cy="0.46" r="0.55"><stop offset="0" stop-color="#6a3a1c"/><stop offset="0.55" stop-color="#6a3a1c"/><stop offset="1" stop-color="#3a1a0c"/></radialGradient>
<path d="M353.13,350.10 C353.01,350.84 352.31,351.57 351.82,352.19 C351.34,352.80 350.83,353.24 350.24,353.78 C349.65,354.33 349.05,355.30 348.29,355.47 C347.53,355.64 346.47,355.09 345.67,354.82 C344.88,354.55 344.19,354.25 343.50,353.85 C342.82,353.44 341.92,352.99 341.55,352.37 C341.17,351.74 341.28,350.87 341.24,350.10 C341.21,349.33 340.98,348.39 341.35,347.75 C341.71,347.11 342.74,346.78 343.44,346.28 C344.13,345.79 344.73,344.93 345.51,344.76 C346.30,344.59 347.31,345.06 348.15,345.27 C349.00,345.49 349.85,345.64 350.57,346.05 C351.30,346.46 352.06,347.06 352.49,347.73 C352.91,348.41 353.24,349.36 353.13,350.10Z" fill="url(#tg11)" filter="url(#b05)"/>
<circle cx="343.6" cy="349.4" r="1.2" fill="#5a2a14" opacity="0.5"/>
<circle cx="348.9" cy="347.9" r="0.8" fill="#2a140a" opacity="0.5"/>
<circle cx="350.2" cy="347.5" r="1.2" fill="#7a4224" opacity="0.5"/>
<circle cx="351.1" cy="352.0" r="0.6" fill="#24100a" opacity="0.5"/>
<circle cx="349.9" cy="352.3" r="0.9" fill="#24100a" opacity="0.5"/>
<circle cx="347.4" cy="350.7" r="0.7" fill="#1a0a04" opacity="0.5"/>
<circle cx="346.3" cy="349.4" r="1.3" fill="#1a0a04" opacity="0.5"/>
<circle cx="350.4" cy="351.4" r="0.8" fill="#9a7050" opacity="0.5"/>
<circle cx="350.4" cy="349.2" r="0.7" fill="#2a140a" opacity="0.5"/>
<circle cx="350.1" cy="347.0" r="0.7" fill="#7a4224" opacity="0.5"/>
<circle cx="347.4" cy="351.5" r="1.5" fill="#1a0a04" opacity="0.5"/>
<text x="363.00" y="293.80" font-size="11.6" text-anchor="start" fill="#222" font-weight="normal" style="stroke-width:0.1px" stroke="#222">(i)</text>
<text x="419.60" y="299.40" font-size="9.0" text-anchor="middle" fill="#222" font-weight="normal"  stroke="#222">WT</text>
<text x="504.50" y="299.70" font-size="9.0" text-anchor="middle" fill="#222" font-weight="normal"  stroke="#222">KO</text>
<clipPath id="cp1"><rect x="378.2" y="303.6" width="82.6" height="50.0"/></clipPath>
<g clip-path="url(#cp1)">
<rect x="378.2" y="303.6" width="82.6" height="50.0" fill="#c2bec6"/>
<circle cx="389.3" cy="346.0" r="1.0" fill="#a89090" opacity="0.35"/>
<circle cx="387.9" cy="341.6" r="0.8" fill="#a89090" opacity="0.35"/>
<circle cx="443.3" cy="308.3" r="0.6" fill="#a89090" opacity="0.35"/>
<circle cx="413.9" cy="341.7" r="0.6" fill="#a89090" opacity="0.35"/>
<circle cx="400.2" cy="343.7" r="0.9" fill="#9d8ea0" opacity="0.35"/>
<circle cx="452.7" cy="305.1" r="0.6" fill="#b0a0a8" opacity="0.35"/>
<circle cx="379.0" cy="347.7" r="0.9" fill="#a89090" opacity="0.35"/>
<circle cx="438.2" cy="330.0" r="1.0" fill="#a89090" opacity="0.35"/>
<circle cx="423.9" cy="320.9" r="0.9" fill="#a89090" opacity="0.35"/>
<circle cx="456.9" cy="349.9" r="0.8" fill="#b0a0a8" opacity="0.35"/>
<circle cx="454.4" cy="308.6" r="0.9" fill="#b0a0a8" opacity="0.35"/>
<circle cx="449.2" cy="309.6" r="0.8" fill="#b0a0a8" opacity="0.35"/>
<circle cx="458.6" cy="328.6" r="1.1" fill="#b0a0a8" opacity="0.35"/>
<circle cx="446.8" cy="337.1" r="0.8" fill="#b0a0a8" opacity="0.35"/>
<circle cx="458.6" cy="328.6" r="1.1" fill="#a89090" opacity="0.35"/>
<circle cx="426.9" cy="305.3" r="0.7" fill="#a89090" opacity="0.35"/>
<circle cx="412.4" cy="312.3" r="0.9" fill="#b0a0a8" opacity="0.35"/>
<circle cx="442.3" cy="340.5" r="0.6" fill="#b0a0a8" opacity="0.35"/>
<circle cx="420.2" cy="342.5" r="0.9" fill="#a89090" opacity="0.35"/>
<circle cx="408.8" cy="340.2" r="0.8" fill="#a89090" opacity="0.35"/>
<circle cx="436.3" cy="352.8" r="0.9" fill="#a89090" opacity="0.35"/>
<circle cx="431.7" cy="312.0" r="0.7" fill="#9d8ea0" opacity="0.35"/>
<circle cx="441.8" cy="330.6" r="1.0" fill="#9d8ea0" opacity="0.35"/>
<circle cx="411.6" cy="320.8" r="1.0" fill="#a89090" opacity="0.35"/>
<circle cx="416.1" cy="317.1" r="0.9" fill="#b0a0a8" opacity="0.35"/>
<circle cx="378.7" cy="342.8" r="1.0" fill="#b0a0a8" opacity="0.35"/>
<circle cx="420.5" cy="310.1" r="1.0" fill="#9d8ea0" opacity="0.35"/>
<circle cx="413.4" cy="306.4" r="1.0" fill="#b0a0a8" opacity="0.35"/>
<circle cx="424.0" cy="350.7" r="0.8" fill="#a89090" opacity="0.35"/>
<circle cx="412.4" cy="303.7" r="0.9" fill="#b0a0a8" opacity="0.35"/>
<circle cx="405.6" cy="333.6" r="1.0" fill="#b0a0a8" opacity="0.35"/>
<circle cx="392.8" cy="332.8" r="1.0" fill="#b0a0a8" opacity="0.35"/>
<circle cx="444.0" cy="344.4" r="0.7" fill="#b0a0a8" opacity="0.35"/>
<circle cx="384.0" cy="347.0" r="0.8" fill="#a89090" opacity="0.35"/>
<circle cx="398.8" cy="309.1" r="0.9" fill="#a89090" opacity="0.35"/>
<circle cx="402.2" cy="312.0" r="0.7" fill="#9d8ea0" opacity="0.35"/>
<circle cx="432.4" cy="336.0" r="0.7" fill="#b0a0a8" opacity="0.35"/>
<circle cx="404.8" cy="327.3" r="0.6" fill="#a89090" opacity="0.35"/>
<circle cx="406.6" cy="343.4" r="0.7" fill="#a89090" opacity="0.35"/>
<circle cx="452.5" cy="329.1" r="0.7" fill="#b0a0a8" opacity="0.35"/>
<circle cx="413.9" cy="352.4" r="0.7" fill="#a89090" opacity="0.35"/>
<circle cx="390.3" cy="339.5" r="0.7" fill="#b0a0a8" opacity="0.35"/>
<circle cx="420.0" cy="324.9" r="1.0" fill="#b0a0a8" opacity="0.35"/>
<circle cx="444.1" cy="329.4" r="0.7" fill="#b0a0a8" opacity="0.35"/>
<circle cx="380.7" cy="337.3" r="1.0" fill="#b0a0a8" opacity="0.35"/>
<circle cx="430.3" cy="306.5" r="0.7" fill="#9d8ea0" opacity="0.35"/>
<circle cx="450.5" cy="318.9" r="1.0" fill="#a89090" opacity="0.35"/>
<circle cx="454.0" cy="318.5" r="0.7" fill="#b0a0a8" opacity="0.35"/>
<circle cx="399.0" cy="304.0" r="1.0" fill="#9d8ea0" opacity="0.35"/>
<circle cx="427.0" cy="314.5" r="1.1" fill="#a89090" opacity="0.35"/>
<circle cx="392.4" cy="347.0" r="1.1" fill="#b0a0a8" opacity="0.35"/>
<circle cx="429.7" cy="305.5" r="0.7" fill="#9d8ea0" opacity="0.35"/>
<circle cx="395.2" cy="337.3" r="0.8" fill="#9d8ea0" opacity="0.35"/>
<circle cx="418.9" cy="350.5" r="0.8" fill="#b0a0a8" opacity="0.35"/>
<circle cx="419.5" cy="319.9" r="1.0" fill="#a89090" opacity="0.35"/>
<circle cx="379.7" cy="313.6" r="0.8" fill="#b0a0a8" opacity="0.35"/>
<circle cx="442.9" cy="320.6" r="0.7" fill="#b0a0a8" opacity="0.35"/>
<circle cx="386.2" cy="322.6" r="0.9" fill="#b0a0a8" opacity="0.35"/>
<circle cx="422.3" cy="342.0" r="0.9" fill="#9d8ea0" opacity="0.35"/>
<circle cx="438.1" cy="307.8" r="0.7" fill="#b0a0a8" opacity="0.35"/>
<circle cx="395.8" cy="341.6" r="0.9" fill="#a89090" opacity="0.35"/>
<circle cx="408.6" cy="320.6" r="0.7" fill="#b0a0a8" opacity="0.35"/>
<circle cx="442.6" cy="339.4" r="0.8" fill="#b0a0a8" opacity="0.35"/>
<circle cx="423.7" cy="308.8" r="0.6" fill="#9d8ea0" opacity="0.35"/>
<circle cx="409.6" cy="353.2" r="0.7" fill="#9d8ea0" opacity="0.35"/>
<circle cx="406.4" cy="334.4" r="1.0" fill="#a89090" opacity="0.35"/>
<circle cx="384.5" cy="331.1" r="0.9" fill="#a89090" opacity="0.35"/>
<circle cx="408.3" cy="318.4" r="0.9" fill="#9d8ea0" opacity="0.35"/>
<circle cx="416.0" cy="317.5" r="1.0" fill="#a89090" opacity="0.35"/>
<circle cx="379.2" cy="337.1" r="0.6" fill="#9d8ea0" opacity="0.35"/>
<circle cx="446.4" cy="343.1" r="0.7" fill="#b0a0a8" opacity="0.35"/>
<circle cx="413.0" cy="309.4" r="0.7" fill="#9d8ea0" opacity="0.35"/>
<circle cx="391.3" cy="345.9" r="0.8" fill="#a89090" opacity="0.35"/>
<circle cx="444.8" cy="330.7" r="1.0" fill="#b0a0a8" opacity="0.35"/>
<circle cx="399.1" cy="327.5" r="0.7" fill="#b0a0a8" opacity="0.35"/>
<circle cx="404.4" cy="305.0" r="1.0" fill="#a89090" opacity="0.35"/>
<circle cx="438.2" cy="319.6" r="0.8" fill="#a89090" opacity="0.35"/>
<circle cx="383.4" cy="349.3" r="1.1" fill="#a89090" opacity="0.35"/>
<circle cx="387.4" cy="314.4" r="0.9" fill="#b0a0a8" opacity="0.35"/>
<circle cx="449.9" cy="327.0" r="0.8" fill="#9d8ea0" opacity="0.35"/>
<circle cx="422.9" cy="319.0" r="0.7" fill="#9d8ea0" opacity="0.35"/>
<circle cx="445.9" cy="308.1" r="1.0" fill="#9d8ea0" opacity="0.35"/>
<circle cx="432.1" cy="335.8" r="1.1" fill="#a89090" opacity="0.35"/>
<circle cx="458.0" cy="305.7" r="0.7" fill="#b0a0a8" opacity="0.35"/>
<circle cx="452.0" cy="318.7" r="0.8" fill="#b0a0a8" opacity="0.35"/>
<circle cx="428.7" cy="344.0" r="0.6" fill="#9d8ea0" opacity="0.35"/>
<circle cx="379.9" cy="315.8" r="0.6" fill="#b0a0a8" opacity="0.35"/>
<circle cx="449.9" cy="340.1" r="0.6" fill="#9d8ea0" opacity="0.35"/>
<circle cx="402.2" cy="343.2" r="0.8" fill="#9d8ea0" opacity="0.35"/>
<circle cx="386.5" cy="342.5" r="0.8" fill="#b0a0a8" opacity="0.35"/>
<circle cx="456.6" cy="312.3" r="1.0" fill="#9d8ea0" opacity="0.35"/>
<circle cx="446.1" cy="319.6" r="0.7" fill="#b0a0a8" opacity="0.35"/>
<circle cx="447.1" cy="333.7" r="0.7" fill="#9d8ea0" opacity="0.35"/>
<circle cx="389.9" cy="349.1" r="0.6" fill="#a89090" opacity="0.35"/>
<circle cx="446.0" cy="334.8" r="0.9" fill="#b0a0a8" opacity="0.35"/>
<circle cx="447.6" cy="340.9" r="0.9" fill="#9d8ea0" opacity="0.35"/>
<circle cx="402.9" cy="330.5" r="0.6" fill="#b0a0a8" opacity="0.35"/>
<circle cx="398.6" cy="342.5" r="0.9" fill="#a89090" opacity="0.35"/>
<circle cx="445.0" cy="331.1" r="0.9" fill="#b0a0a8" opacity="0.35"/>
<circle cx="415.6" cy="323.4" r="0.8" fill="#a89090" opacity="0.35"/>
<circle cx="418.3" cy="343.3" r="1.1" fill="#b0a0a8" opacity="0.35"/>
<circle cx="379.8" cy="338.2" r="0.9" fill="#b0a0a8" opacity="0.35"/>
<circle cx="388.5" cy="316.6" r="1.0" fill="#a89090" opacity="0.35"/>
<circle cx="424.8" cy="312.2" r="0.6" fill="#a89090" opacity="0.35"/>
<circle cx="378.8" cy="330.0" r="0.9" fill="#b0a0a8" opacity="0.35"/>
<circle cx="454.2" cy="350.1" r="0.9" fill="#9d8ea0" opacity="0.35"/>
<circle cx="397.9" cy="328.4" r="0.8" fill="#9d8ea0" opacity="0.35"/>
<circle cx="437.1" cy="320.4" r="0.9" fill="#b0a0a8" opacity="0.35"/>
<circle cx="454.0" cy="317.4" r="0.9" fill="#9d8ea0" opacity="0.35"/>
<circle cx="454.3" cy="341.8" r="0.9" fill="#a89090" opacity="0.35"/>
<circle cx="391.4" cy="341.9" r="1.0" fill="#a89090" opacity="0.35"/>
<circle cx="402.9" cy="318.6" r="0.9" fill="#9d8ea0" opacity="0.35"/>
<circle cx="436.1" cy="340.4" r="0.9" fill="#9d8ea0" opacity="0.35"/>
<circle cx="452.3" cy="351.6" r="0.9" fill="#9d8ea0" opacity="0.35"/>
<circle cx="391.1" cy="324.9" r="1.1" fill="#b0a0a8" opacity="0.35"/>
<circle cx="440.8" cy="306.2" r="0.9" fill="#b0a0a8" opacity="0.35"/>
<circle cx="430.8" cy="322.8" r="1.0" fill="#b0a0a8" opacity="0.35"/>
<circle cx="438.5" cy="305.6" r="1.1" fill="#a89090" opacity="0.35"/>
<circle cx="430.1" cy="317.0" r="1.1" fill="#9d8ea0" opacity="0.35"/>
<circle cx="458.3" cy="334.4" r="1.1" fill="#b0a0a8" opacity="0.35"/>
<circle cx="436.1" cy="325.9" r="1.1" fill="#a89090" opacity="0.35"/>
<circle cx="455.8" cy="348.8" r="0.8" fill="#a89090" opacity="0.35"/>
<circle cx="414.4" cy="334.7" r="0.8" fill="#9d8ea0" opacity="0.35"/>
<circle cx="388.0" cy="333.6" r="0.8" fill="#9d8ea0" opacity="0.35"/>
<circle cx="432.8" cy="317.5" r="0.8" fill="#b0a0a8" opacity="0.35"/>
<circle cx="378.5" cy="313.1" r="0.8" fill="#9d8ea0" opacity="0.35"/>
<circle cx="380.7" cy="352.3" r="0.7" fill="#a89090" opacity="0.35"/>
<circle cx="395.3" cy="317.8" r="0.9" fill="#a89090" opacity="0.35"/>
<circle cx="403.9" cy="341.5" r="1.0" fill="#a89090" opacity="0.35"/>
<circle cx="443.5" cy="344.0" r="1.1" fill="#b0a0a8" opacity="0.35"/>
<circle cx="407.7" cy="324.6" r="0.7" fill="#9d8ea0" opacity="0.35"/>
<circle cx="425.3" cy="322.8" r="0.7" fill="#9d8ea0" opacity="0.35"/>
<circle cx="452.9" cy="304.8" r="0.9" fill="#9d8ea0" opacity="0.35"/>
<circle cx="423.2" cy="351.8" r="1.0" fill="#b0a0a8" opacity="0.35"/>
<circle cx="389.5" cy="328.6" r="0.9" fill="#a89090" opacity="0.35"/>
<circle cx="414.3" cy="337.5" r="1.0" fill="#a89090" opacity="0.35"/>
<circle cx="378.3" cy="325.7" r="0.8" fill="#a89090" opacity="0.35"/>
<circle cx="422.7" cy="320.6" r="1.0" fill="#b0a0a8" opacity="0.35"/>
<circle cx="418.9" cy="336.0" r="0.8" fill="#9d8ea0" opacity="0.35"/>
<circle cx="424.2" cy="353.3" r="0.9" fill="#b0a0a8" opacity="0.35"/>
<circle cx="451.0" cy="345.1" r="0.9" fill="#a89090" opacity="0.35"/>
<circle cx="427.8" cy="329.4" r="1.1" fill="#b0a0a8" opacity="0.35"/>
<circle cx="459.8" cy="318.9" r="0.7" fill="#b0a0a8" opacity="0.35"/>
<circle cx="433.4" cy="313.5" r="0.9" fill="#b0a0a8" opacity="0.35"/>
<circle cx="410.3" cy="324.9" r="0.8" fill="#b0a0a8" opacity="0.35"/>
<circle cx="426.5" cy="340.3" r="1.0" fill="#b0a0a8" opacity="0.35"/>
<circle cx="383.8" cy="353.0" r="0.7" fill="#b0a0a8" opacity="0.35"/>
<circle cx="402.2" cy="304.6" r="1.0" fill="#9d8ea0" opacity="0.35"/>
<circle cx="430.5" cy="350.5" r="1.0" fill="#9d8ea0" opacity="0.35"/>
<circle cx="441.6" cy="344.4" r="0.9" fill="#a89090" opacity="0.35"/>
<circle cx="453.6" cy="343.5" r="0.8" fill="#b0a0a8" opacity="0.35"/>
<circle cx="423.2" cy="311.2" r="1.0" fill="#a89090" opacity="0.35"/>
<circle cx="392.2" cy="329.1" r="0.7" fill="#9d8ea0" opacity="0.35"/>
<circle cx="439.7" cy="324.7" r="0.8" fill="#b0a0a8" opacity="0.35"/>
<circle cx="414.7" cy="311.8" r="1.0" fill="#9d8ea0" opacity="0.35"/>
<circle cx="435.2" cy="323.7" r="0.9" fill="#b0a0a8" opacity="0.35"/>
<circle cx="403.3" cy="330.0" r="0.7" fill="#a89090" opacity="0.35"/>
<circle cx="400.4" cy="307.3" r="1.0" fill="#b0a0a8" opacity="0.35"/>
<circle cx="432.6" cy="327.0" r="0.9" fill="#9d8ea0" opacity="0.35"/>
<circle cx="392.1" cy="336.3" r="1.0" fill="#b0a0a8" opacity="0.35"/>
<circle cx="400.5" cy="334.1" r="0.7" fill="#b0a0a8" opacity="0.35"/>
<circle cx="411.2" cy="327.8" r="0.7" fill="#b0a0a8" opacity="0.35"/>
<circle cx="405.4" cy="314.7" r="1.1" fill="#b0a0a8" opacity="0.35"/>
<circle cx="398.4" cy="336.6" r="1.0" fill="#b0a0a8" opacity="0.35"/>
<circle cx="411.5" cy="350.0" r="1.1" fill="#9d8ea0" opacity="0.35"/>
<circle cx="443.1" cy="313.1" r="0.9" fill="#9d8ea0" opacity="0.35"/>
<circle cx="450.1" cy="332.6" r="0.9" fill="#b0a0a8" opacity="0.35"/>
<circle cx="390.4" cy="350.9" r="0.8" fill="#9d8ea0" opacity="0.35"/>
<circle cx="389.6" cy="310.5" r="1.0" fill="#a89090" opacity="0.35"/>
<circle cx="403.8" cy="323.6" r="0.7" fill="#9d8ea0" opacity="0.35"/>
<circle cx="437.5" cy="318.9" r="0.7" fill="#a89090" opacity="0.35"/>
<circle cx="404.7" cy="350.0" r="1.1" fill="#9d8ea0" opacity="0.35"/>
<circle cx="382.8" cy="333.5" r="1.0" fill="#9d8ea0" opacity="0.35"/>
<circle cx="434.6" cy="328.3" r="0.9" fill="#b0a0a8" opacity="0.35"/>
<circle cx="457.8" cy="334.3" r="0.8" fill="#a89090" opacity="0.35"/>
<circle cx="388.0" cy="338.2" r="0.6" fill="#a89090" opacity="0.35"/>
<circle cx="397.5" cy="326.1" r="1.0" fill="#9d8ea0" opacity="0.35"/>
<circle cx="397.7" cy="317.8" r="0.9" fill="#a89090" opacity="0.35"/>
<circle cx="395.7" cy="339.3" r="0.8" fill="#b0a0a8" opacity="0.35"/>
<circle cx="387.4" cy="314.3" r="0.6" fill="#9d8ea0" opacity="0.35"/>
<circle cx="444.1" cy="346.5" r="0.8" fill="#a89090" opacity="0.35"/>
<circle cx="448.2" cy="318.0" r="0.7" fill="#9d8ea0" opacity="0.35"/>
<circle cx="450.9" cy="341.5" r="0.7" fill="#9d8ea0" opacity="0.35"/>
<circle cx="379.5" cy="310.9" r="0.9" fill="#9d8ea0" opacity="0.35"/>
<circle cx="424.8" cy="316.3" r="0.6" fill="#b0a0a8" opacity="0.35"/>
<circle cx="447.6" cy="348.9" r="0.6" fill="#9d8ea0" opacity="0.35"/>
<circle cx="421.6" cy="310.0" r="1.1" fill="#9d8ea0" opacity="0.35"/>
<circle cx="413.9" cy="313.1" r="0.8" fill="#9d8ea0" opacity="0.35"/>
<circle cx="439.7" cy="337.9" r="1.0" fill="#b0a0a8" opacity="0.35"/>
<circle cx="415.2" cy="320.1" r="0.7" fill="#a89090" opacity="0.35"/>
<circle cx="431.2" cy="315.8" r="0.6" fill="#b0a0a8" opacity="0.35"/>
<circle cx="392.7" cy="325.0" r="0.9" fill="#b0a0a8" opacity="0.35"/>
<circle cx="421.3" cy="306.6" r="0.8" fill="#a89090" opacity="0.35"/>
<circle cx="422.6" cy="339.2" r="0.9" fill="#b0a0a8" opacity="0.35"/>
<circle cx="384.0" cy="317.0" r="0.9" fill="#9d8ea0" opacity="0.35"/>
<circle cx="399.0" cy="352.4" r="0.7" fill="#9d8ea0" opacity="0.35"/>
<circle cx="448.8" cy="346.2" r="0.6" fill="#9d8ea0" opacity="0.35"/>
<circle cx="453.6" cy="329.2" r="0.9" fill="#9d8ea0" opacity="0.35"/>
<circle cx="459.5" cy="305.6" r="0.9" fill="#a89090" opacity="0.35"/>
<circle cx="433.1" cy="348.4" r="1.0" fill="#a89090" opacity="0.35"/>
<circle cx="380.2" cy="329.8" r="0.6" fill="#a89090" opacity="0.35"/>
<circle cx="385.3" cy="305.3" r="0.8" fill="#b0a0a8" opacity="0.35"/>
<circle cx="399.8" cy="340.4" r="0.7" fill="#a89090" opacity="0.35"/>
<circle cx="444.9" cy="346.4" r="0.8" fill="#a89090" opacity="0.35"/>
<circle cx="447.7" cy="328.7" r="0.7" fill="#a89090" opacity="0.35"/>
<circle cx="420.3" cy="323.2" r="1.0" fill="#a89090" opacity="0.35"/>
<circle cx="386.8" cy="336.2" r="0.8" fill="#b0a0a8" opacity="0.35"/>
<circle cx="437.6" cy="345.3" r="1.0" fill="#b0a0a8" opacity="0.35"/>
<circle cx="380.7" cy="352.6" r="1.1" fill="#b0a0a8" opacity="0.35"/>
<circle cx="391.2" cy="322.1" r="0.9" fill="#9d8ea0" opacity="0.35"/>
<circle cx="412.0" cy="309.9" r="0.6" fill="#a89090" opacity="0.35"/>
<circle cx="445.5" cy="336.2" r="0.8" fill="#a89090" opacity="0.35"/>
<circle cx="404.5" cy="317.2" r="1.0" fill="#b0a0a8" opacity="0.35"/>
<circle cx="419.6" cy="329.9" r="0.7" fill="#b0a0a8" opacity="0.35"/>
<circle cx="405.1" cy="320.0" r="0.6" fill="#a89090" opacity="0.35"/>
<circle cx="417.8" cy="349.2" r="1.1" fill="#a89090" opacity="0.35"/>
<circle cx="445.6" cy="349.9" r="1.1" fill="#9d8ea0" opacity="0.35"/>
<circle cx="389.3" cy="329.8" r="0.9" fill="#a89090" opacity="0.35"/>
<circle cx="443.0" cy="338.7" r="1.0" fill="#a89090" opacity="0.35"/>
<circle cx="460.0" cy="343.4" r="0.8" fill="#a89090" opacity="0.35"/>
<circle cx="416.6" cy="352.6" r="0.9" fill="#9d8ea0" opacity="0.35"/>
<circle cx="380.6" cy="316.1" r="0.7" fill="#9d8ea0" opacity="0.35"/>
<circle cx="453.1" cy="312.8" r="0.8" fill="#b0a0a8" opacity="0.35"/>
<circle cx="429.4" cy="344.2" r="1.1" fill="#b0a0a8" opacity="0.35"/>
<circle cx="400.1" cy="308.9" r="0.7" fill="#b0a0a8" opacity="0.35"/>
<circle cx="425.4" cy="335.7" r="1.0" fill="#9d8ea0" opacity="0.35"/>
<circle cx="431.3" cy="312.3" r="1.0" fill="#9d8ea0" opacity="0.35"/>
<circle cx="427.0" cy="348.6" r="0.8" fill="#a89090" opacity="0.35"/>
<circle cx="396.4" cy="313.6" r="0.8" fill="#9d8ea0" opacity="0.35"/>
<circle cx="413.3" cy="337.4" r="0.9" fill="#9d8ea0" opacity="0.35"/>
<circle cx="444.1" cy="339.9" r="1.0" fill="#a89090" opacity="0.35"/>
<circle cx="411.8" cy="304.0" r="0.9" fill="#a89090" opacity="0.35"/>
<circle cx="420.7" cy="328.0" r="0.8" fill="#b0a0a8" opacity="0.35"/>
<circle cx="444.0" cy="332.8" r="0.6" fill="#a89090" opacity="0.35"/>
<circle cx="378.7" cy="351.6" r="0.9" fill="#b0a0a8" opacity="0.35"/>
<circle cx="378.7" cy="309.6" r="0.8" fill="#b0a0a8" opacity="0.35"/>
<circle cx="404.3" cy="342.4" r="0.9" fill="#b0a0a8" opacity="0.35"/>
<circle cx="401.5" cy="324.2" r="1.1" fill="#b0a0a8" opacity="0.35"/>
<circle cx="411.9" cy="335.1" r="0.8" fill="#a89090" opacity="0.35"/>
<circle cx="389.0" cy="325.8" r="0.7" fill="#9d8ea0" opacity="0.35"/>
<circle cx="399.1" cy="304.1" r="0.8" fill="#b0a0a8" opacity="0.35"/>
<circle cx="424.9" cy="322.0" r="0.8" fill="#b0a0a8" opacity="0.35"/>
<circle cx="452.2" cy="337.1" r="1.0" fill="#9d8ea0" opacity="0.35"/>
<circle cx="448.1" cy="322.8" r="0.8" fill="#a89090" opacity="0.35"/>
<circle cx="430.7" cy="346.2" r="1.0" fill="#a89090" opacity="0.35"/>
<circle cx="415.9" cy="309.4" r="0.8" fill="#a89090" opacity="0.35"/>
<circle cx="390.4" cy="353.4" r="1.0" fill="#a89090" opacity="0.35"/>
<circle cx="449.1" cy="333.1" r="0.7" fill="#a89090" opacity="0.35"/>
<circle cx="399.5" cy="329.3" r="1.0" fill="#b0a0a8" opacity="0.35"/>
<circle cx="400.8" cy="320.4" r="1.1" fill="#9d8ea0" opacity="0.35"/>
<circle cx="437.3" cy="328.2" r="1.1" fill="#b0a0a8" opacity="0.35"/>
<circle cx="413.3" cy="306.8" r="0.7" fill="#9d8ea0" opacity="0.35"/>
<circle cx="397.1" cy="304.9" r="0.7" fill="#a89090" opacity="0.35"/>
<circle cx="442.2" cy="308.5" r="0.9" fill="#9d8ea0" opacity="0.35"/>
<circle cx="447.1" cy="308.1" r="0.9" fill="#9d8ea0" opacity="0.35"/>
<circle cx="423.6" cy="330.3" r="0.8" fill="#b0a0a8" opacity="0.35"/>
<circle cx="458.3" cy="308.8" r="0.9" fill="#a89090" opacity="0.35"/>
<circle cx="447.2" cy="340.7" r="1.1" fill="#b0a0a8" opacity="0.35"/>
<circle cx="401.2" cy="327.6" r="1.0" fill="#9d8ea0" opacity="0.35"/>
<circle cx="443.2" cy="337.4" r="0.6" fill="#a89090" opacity="0.35"/>
<circle cx="388.4" cy="326.0" r="0.9" fill="#a89090" opacity="0.35"/>
<circle cx="453.0" cy="309.4" r="1.0" fill="#9d8ea0" opacity="0.35"/>
<circle cx="390.5" cy="334.3" r="1.0" fill="#9d8ea0" opacity="0.35"/>
<circle cx="421.2" cy="324.4" r="1.0" fill="#b0a0a8" opacity="0.35"/>
<circle cx="402.0" cy="328.2" r="1.0" fill="#b0a0a8" opacity="0.35"/>
<circle cx="453.6" cy="343.0" r="0.9" fill="#a89090" opacity="0.35"/>
<circle cx="386.7" cy="341.5" r="1.0" fill="#a89090" opacity="0.35"/>
<circle cx="454.7" cy="352.0" r="0.7" fill="#b0a0a8" opacity="0.35"/>
<circle cx="429.9" cy="318.6" r="1.1" fill="#9d8ea0" opacity="0.35"/>
<circle cx="397.1" cy="317.3" r="1.0" fill="#a89090" opacity="0.35"/>
<circle cx="390.5" cy="316.4" r="0.8" fill="#b0a0a8" opacity="0.35"/>
<circle cx="427.6" cy="351.6" r="0.9" fill="#b0a0a8" opacity="0.35"/>
<circle cx="420.3" cy="350.9" r="0.7" fill="#a89090" opacity="0.35"/>
<circle cx="435.6" cy="317.0" r="0.7" fill="#a89090" opacity="0.35"/>
<circle cx="427.7" cy="315.7" r="0.7" fill="#9d8ea0" opacity="0.35"/>
<circle cx="439.3" cy="332.6" r="0.8" fill="#9d8ea0" opacity="0.35"/>
<circle cx="383.0" cy="319.9" r="0.9" fill="#b0a0a8" opacity="0.35"/>
<circle cx="441.1" cy="353.0" r="0.7" fill="#b0a0a8" opacity="0.35"/>
<circle cx="419.0" cy="320.1" r="0.7" fill="#9d8ea0" opacity="0.35"/>
<circle cx="435.9" cy="314.9" r="0.9" fill="#b0a0a8" opacity="0.35"/>
<circle cx="382.3" cy="312.2" r="0.7" fill="#b0a0a8" opacity="0.35"/>
<circle cx="394.7" cy="332.0" r="1.0" fill="#a89090" opacity="0.35"/>
<circle cx="405.3" cy="342.3" r="1.0" fill="#b0a0a8" opacity="0.35"/>
<circle cx="396.4" cy="340.8" r="0.7" fill="#b0a0a8" opacity="0.35"/>
<circle cx="459.6" cy="320.7" r="0.9" fill="#b0a0a8" opacity="0.35"/>
<circle cx="409.5" cy="309.7" r="0.8" fill="#9d8ea0" opacity="0.35"/>
<circle cx="398.9" cy="342.1" r="0.9" fill="#9d8ea0" opacity="0.35"/>
<circle cx="406.9" cy="308.2" r="1.1" fill="#a89090" opacity="0.35"/>
<circle cx="404.4" cy="317.1" r="0.6" fill="#9d8ea0" opacity="0.35"/>
<circle cx="384.7" cy="349.9" r="0.8" fill="#b0a0a8" opacity="0.35"/>
<circle cx="430.9" cy="315.7" r="0.9" fill="#a89090" opacity="0.35"/>
<circle cx="378.9" cy="348.0" r="1.1" fill="#9d8ea0" opacity="0.35"/>
<circle cx="407.3" cy="343.8" r="0.9" fill="#9d8ea0" opacity="0.35"/>
<circle cx="428.3" cy="347.1" r="0.8" fill="#b0a0a8" opacity="0.35"/>
<circle cx="425.8" cy="339.9" r="0.8" fill="#a89090" opacity="0.35"/>
<circle cx="422.5" cy="323.3" r="1.0" fill="#b0a0a8" opacity="0.35"/>
<circle cx="403.2" cy="310.3" r="0.9" fill="#9d8ea0" opacity="0.35"/>
<circle cx="392.7" cy="314.4" r="0.8" fill="#b0a0a8" opacity="0.35"/>
<circle cx="379.9" cy="330.5" r="1.1" fill="#a89090" opacity="0.35"/>
<circle cx="417.3" cy="323.8" r="0.7" fill="#a89090" opacity="0.35"/>
<circle cx="383.9" cy="352.5" r="0.8" fill="#b0a0a8" opacity="0.35"/>
<circle cx="447.9" cy="339.8" r="0.9" fill="#9d8ea0" opacity="0.35"/>
<circle cx="429.3" cy="325.9" r="0.7" fill="#9d8ea0" opacity="0.35"/>
<circle cx="453.7" cy="310.7" r="1.0" fill="#9d8ea0" opacity="0.35"/>
<circle cx="418.2" cy="343.6" r="1.0" fill="#a89090" opacity="0.35"/>
<circle cx="451.6" cy="311.6" r="1.0" fill="#a89090" opacity="0.35"/>
<circle cx="447.0" cy="323.9" r="1.1" fill="#9d8ea0" opacity="0.35"/>
<circle cx="400.5" cy="336.9" r="1.0" fill="#b0a0a8" opacity="0.35"/>
<circle cx="456.9" cy="330.5" r="0.6" fill="#b0a0a8" opacity="0.35"/>
<circle cx="389.2" cy="340.9" r="1.1" fill="#9d8ea0" opacity="0.35"/>
<circle cx="416.2" cy="342.6" r="0.9" fill="#a89090" opacity="0.35"/>
<circle cx="401.0" cy="322.1" r="0.8" fill="#a89090" opacity="0.35"/>
<circle cx="382.6" cy="327.1" r="0.6" fill="#b0a0a8" opacity="0.35"/>
<circle cx="435.8" cy="344.2" r="1.0" fill="#b0a0a8" opacity="0.35"/>
<circle cx="389.7" cy="329.0" r="0.8" fill="#a89090" opacity="0.35"/>
<circle cx="442.9" cy="332.0" r="1.1" fill="#a89090" opacity="0.35"/>
<circle cx="444.5" cy="344.6" r="0.7" fill="#b0a0a8" opacity="0.35"/>
<circle cx="398.0" cy="331.7" r="0.8" fill="#9d8ea0" opacity="0.35"/>
<circle cx="387.8" cy="305.6" r="1.0" fill="#a89090" opacity="0.35"/>
<circle cx="450.9" cy="320.9" r="0.9" fill="#9d8ea0" opacity="0.35"/>
<circle cx="429.2" cy="324.3" r="0.8" fill="#a89090" opacity="0.35"/>
<circle cx="414.6" cy="338.6" r="0.9" fill="#b0a0a8" opacity="0.35"/>
<circle cx="390.1" cy="320.7" r="0.7" fill="#b0a0a8" opacity="0.35"/>
<circle cx="392.4" cy="335.7" r="0.8" fill="#a89090" opacity="0.35"/>
<circle cx="440.8" cy="309.7" r="0.9" fill="#a89090" opacity="0.35"/>
<circle cx="452.3" cy="322.8" r="1.0" fill="#9d8ea0" opacity="0.35"/>
<circle cx="411.0" cy="315.0" r="0.7" fill="#a89090" opacity="0.35"/>
<circle cx="432.4" cy="342.8" r="0.8" fill="#a89090" opacity="0.35"/>
<circle cx="408.7" cy="336.2" r="0.9" fill="#9d8ea0" opacity="0.35"/>
<circle cx="413.9" cy="323.5" r="0.7" fill="#a89090" opacity="0.35"/>
<circle cx="454.8" cy="345.6" r="0.7" fill="#a89090" opacity="0.35"/>
<circle cx="412.4" cy="343.6" r="0.9" fill="#9d8ea0" opacity="0.35"/>
<circle cx="416.1" cy="322.5" r="0.9" fill="#a89090" opacity="0.35"/>
<circle cx="454.0" cy="311.3" r="0.9" fill="#9d8ea0" opacity="0.35"/>
<circle cx="456.4" cy="304.5" r="0.8" fill="#b0a0a8" opacity="0.35"/>
<circle cx="436.4" cy="343.2" r="0.7" fill="#b0a0a8" opacity="0.35"/>
<circle cx="410.5" cy="303.9" r="1.0" fill="#a89090" opacity="0.35"/>
<circle cx="453.1" cy="336.7" r="0.8" fill="#9d8ea0" opacity="0.35"/>
<circle cx="384.5" cy="330.4" r="0.9" fill="#9d8ea0" opacity="0.35"/>
<circle cx="392.7" cy="332.9" r="0.9" fill="#a89090" opacity="0.35"/>
<circle cx="397.7" cy="305.6" r="0.9" fill="#9d8ea0" opacity="0.35"/>
<circle cx="436.0" cy="338.1" r="0.9" fill="#b0a0a8" opacity="0.35"/>
<circle cx="384.6" cy="323.5" r="0.8" fill="#b0a0a8" opacity="0.35"/>
<circle cx="431.4" cy="322.9" r="0.9" fill="#b0a0a8" opacity="0.35"/>
<circle cx="445.5" cy="305.8" r="0.9" fill="#9d8ea0" opacity="0.35"/>
<circle cx="379.9" cy="346.6" r="0.8" fill="#b0a0a8" opacity="0.35"/>
<circle cx="412.5" cy="333.3" r="1.1" fill="#b0a0a8" opacity="0.35"/>
<circle cx="446.5" cy="342.1" r="0.9" fill="#b0a0a8" opacity="0.35"/>
<circle cx="444.5" cy="331.3" r="0.9" fill="#b0a0a8" opacity="0.35"/>
<circle cx="410.3" cy="313.6" r="1.0" fill="#a89090" opacity="0.35"/>
<circle cx="454.9" cy="316.6" r="0.7" fill="#9d8ea0" opacity="0.35"/>
<circle cx="442.7" cy="334.7" r="1.0" fill="#a89090" opacity="0.35"/>
<circle cx="454.9" cy="316.5" r="0.7" fill="#a89090" opacity="0.35"/>
<circle cx="401.3" cy="327.0" r="0.7" fill="#9d8ea0" opacity="0.35"/>
<circle cx="457.4" cy="314.9" r="0.6" fill="#b0a0a8" opacity="0.35"/>
<circle cx="422.6" cy="313.5" r="0.8" fill="#9d8ea0" opacity="0.35"/>
<circle cx="425.9" cy="331.3" r="0.8" fill="#9d8ea0" opacity="0.35"/>
<circle cx="385.0" cy="350.3" r="0.7" fill="#b0a0a8" opacity="0.35"/>
<circle cx="383.0" cy="340.9" r="0.8" fill="#b0a0a8" opacity="0.35"/>
<circle cx="389.6" cy="333.4" r="0.9" fill="#b0a0a8" opacity="0.35"/>
<circle cx="384.3" cy="315.7" r="0.8" fill="#a89090" opacity="0.35"/>
<circle cx="394.9" cy="339.5" r="0.8" fill="#b0a0a8" opacity="0.35"/>
<circle cx="447.5" cy="314.9" r="1.0" fill="#a89090" opacity="0.35"/>
<circle cx="418.8" cy="318.2" r="0.9" fill="#a89090" opacity="0.35"/>
<circle cx="395.4" cy="326.8" r="0.7" fill="#b0a0a8" opacity="0.35"/>
<circle cx="427.1" cy="334.4" r="1.0" fill="#a89090" opacity="0.35"/>
<circle cx="429.3" cy="306.2" r="1.0" fill="#9d8ea0" opacity="0.35"/>
<circle cx="445.3" cy="351.4" r="0.9" fill="#9d8ea0" opacity="0.35"/>
<circle cx="387.5" cy="325.4" r="0.9" fill="#b0a0a8" opacity="0.35"/>
<circle cx="395.4" cy="329.0" r="0.7" fill="#b0a0a8" opacity="0.35"/>
<circle cx="395.7" cy="351.0" r="0.9" fill="#b0a0a8" opacity="0.35"/>
<circle cx="389.3" cy="339.4" r="0.7" fill="#9d8ea0" opacity="0.35"/>
<circle cx="437.5" cy="344.0" r="1.1" fill="#b0a0a8" opacity="0.35"/>
<circle cx="409.4" cy="327.7" r="0.9" fill="#a89090" opacity="0.35"/>
<circle cx="381.3" cy="312.0" r="0.9" fill="#b0a0a8" opacity="0.35"/>
<circle cx="419.7" cy="346.4" r="1.1" fill="#b0a0a8" opacity="0.35"/>
<circle cx="413.0" cy="317.2" r="0.6" fill="#9d8ea0" opacity="0.35"/>
<circle cx="393.6" cy="304.4" r="1.0" fill="#a89090" opacity="0.35"/>
<circle cx="395.9" cy="344.7" r="0.9" fill="#a89090" opacity="0.35"/>
<circle cx="453.2" cy="308.3" r="0.9" fill="#9d8ea0" opacity="0.35"/>
<circle cx="448.1" cy="345.3" r="0.7" fill="#9d8ea0" opacity="0.35"/>
<circle cx="427.4" cy="313.1" r="0.9" fill="#b0a0a8" opacity="0.35"/>
<circle cx="408.0" cy="315.2" r="0.9" fill="#b0a0a8" opacity="0.35"/>
<circle cx="459.3" cy="342.4" r="0.6" fill="#9d8ea0" opacity="0.35"/>
<circle cx="416.1" cy="345.3" r="0.7" fill="#9d8ea0" opacity="0.35"/>
<circle cx="448.7" cy="350.5" r="0.8" fill="#b0a0a8" opacity="0.35"/>
<circle cx="419.6" cy="353.1" r="1.0" fill="#a89090" opacity="0.35"/>
<circle cx="385.8" cy="323.6" r="0.9" fill="#b0a0a8" opacity="0.35"/>
<circle cx="431.6" cy="323.3" r="1.1" fill="#a89090" opacity="0.35"/>
<circle cx="457.6" cy="306.1" r="1.1" fill="#a89090" opacity="0.35"/>
<circle cx="379.6" cy="318.8" r="1.0" fill="#9d8ea0" opacity="0.35"/>
<circle cx="427.4" cy="331.4" r="1.1" fill="#9d8ea0" opacity="0.35"/>
<circle cx="449.7" cy="343.0" r="1.0" fill="#a89090" opacity="0.35"/>
<circle cx="410.5" cy="329.6" r="0.6" fill="#b0a0a8" opacity="0.35"/>
<circle cx="387.6" cy="332.3" r="0.6" fill="#a89090" opacity="0.35"/>
<circle cx="406.0" cy="322.0" r="0.9" fill="#b0a0a8" opacity="0.35"/>
<circle cx="408.8" cy="307.3" r="1.0" fill="#9d8ea0" opacity="0.35"/>
<circle cx="448.2" cy="325.9" r="0.9" fill="#b0a0a8" opacity="0.35"/>
<circle cx="378.5" cy="311.6" r="0.8" fill="#9d8ea0" opacity="0.35"/>
<circle cx="390.3" cy="332.6" r="0.9" fill="#a89090" opacity="0.35"/>
<circle cx="404.4" cy="329.0" r="1.0" fill="#a89090" opacity="0.35"/>
<circle cx="448.6" cy="334.0" r="0.6" fill="#9d8ea0" opacity="0.35"/>
<circle cx="441.6" cy="315.9" r="1.0" fill="#a89090" opacity="0.35"/>
<circle cx="423.7" cy="332.3" r="0.9" fill="#9d8ea0" opacity="0.35"/>
<circle cx="436.7" cy="348.8" r="1.1" fill="#a89090" opacity="0.35"/>
<circle cx="385.1" cy="317.7" r="1.0" fill="#a89090" opacity="0.35"/>
<circle cx="397.6" cy="308.5" r="1.0" fill="#9d8ea0" opacity="0.35"/>
<circle cx="439.1" cy="318.7" r="1.0" fill="#9d8ea0" opacity="0.35"/>
<circle cx="446.1" cy="307.4" r="0.8" fill="#a89090" opacity="0.35"/>
<circle cx="449.2" cy="310.3" r="0.8" fill="#a89090" opacity="0.35"/>
<circle cx="444.2" cy="305.5" r="1.1" fill="#a89090" opacity="0.35"/>
<circle cx="440.1" cy="347.9" r="0.6" fill="#b0a0a8" opacity="0.35"/>
<circle cx="436.2" cy="335.1" r="0.9" fill="#9d8ea0" opacity="0.35"/>
<circle cx="458.6" cy="313.5" r="0.7" fill="#9d8ea0" opacity="0.35"/>
<circle cx="458.6" cy="328.9" r="1.0" fill="#a89090" opacity="0.35"/>
<circle cx="394.4" cy="306.4" r="1.1" fill="#a89090" opacity="0.35"/>
<circle cx="454.8" cy="334.3" r="0.8" fill="#b0a0a8" opacity="0.35"/>
<circle cx="379.0" cy="352.7" r="0.6" fill="#a89090" opacity="0.35"/>
<circle cx="452.4" cy="305.6" r="0.7" fill="#9d8ea0" opacity="0.35"/>
<circle cx="421.5" cy="312.3" r="1.1" fill="#9d8ea0" opacity="0.35"/>
<circle cx="395.5" cy="318.0" r="0.8" fill="#a89090" opacity="0.35"/>
<circle cx="405.0" cy="350.8" r="0.6" fill="#b0a0a8" opacity="0.35"/>
<circle cx="393.2" cy="337.8" r="0.7" fill="#b0a0a8" opacity="0.35"/>
<circle cx="413.4" cy="327.3" r="0.6" fill="#9d8ea0" opacity="0.35"/>
<circle cx="455.0" cy="336.6" r="0.9" fill="#b0a0a8" opacity="0.35"/>
<circle cx="456.9" cy="325.2" r="1.0" fill="#a89090" opacity="0.35"/>
<circle cx="406.2" cy="335.9" r="0.7" fill="#b0a0a8" opacity="0.35"/>
<circle cx="444.6" cy="351.2" r="1.0" fill="#b0a0a8" opacity="0.35"/>
<circle cx="432.8" cy="350.6" r="1.0" fill="#b0a0a8" opacity="0.35"/>
<circle cx="434.4" cy="332.4" r="1.0" fill="#a89090" opacity="0.35"/>
<circle cx="428.1" cy="311.9" r="0.7" fill="#b0a0a8" opacity="0.35"/>
<circle cx="403.1" cy="341.8" r="0.8" fill="#b0a0a8" opacity="0.35"/>
<circle cx="399.6" cy="319.1" r="0.9" fill="#9d8ea0" opacity="0.35"/>
<circle cx="442.8" cy="326.5" r="0.8" fill="#b0a0a8" opacity="0.35"/>
<circle cx="414.9" cy="338.6" r="1.1" fill="#b0a0a8" opacity="0.35"/>
<circle cx="459.9" cy="310.8" r="1.0" fill="#9d8ea0" opacity="0.35"/>
<circle cx="431.2" cy="321.4" r="1.0" fill="#9d8ea0" opacity="0.35"/>
<circle cx="399.3" cy="330.7" r="0.6" fill="#a89090" opacity="0.35"/>
<circle cx="379.4" cy="320.5" r="0.9" fill="#9d8ea0" opacity="0.35"/>
<circle cx="395.4" cy="307.7" r="0.7" fill="#b0a0a8" opacity="0.35"/>
<circle cx="383.7" cy="342.7" r="0.7" fill="#a89090" opacity="0.35"/>
<circle cx="428.4" cy="315.2" r="1.1" fill="#b0a0a8" opacity="0.35"/>
<circle cx="435.2" cy="341.4" r="1.0" fill="#b0a0a8" opacity="0.35"/>
<circle cx="425.6" cy="321.9" r="0.7" fill="#a89090" opacity="0.35"/>
<circle cx="454.8" cy="352.3" r="1.0" fill="#9d8ea0" opacity="0.35"/>
<circle cx="455.9" cy="324.0" r="0.7" fill="#9d8ea0" opacity="0.35"/>
<circle cx="429.2" cy="335.1" r="0.7" fill="#a89090" opacity="0.35"/>
<circle cx="409.5" cy="334.7" r="1.0" fill="#a89090" opacity="0.35"/>
<circle cx="439.6" cy="347.6" r="0.6" fill="#b0a0a8" opacity="0.35"/>
<circle cx="435.0" cy="325.8" r="0.7" fill="#9d8ea0" opacity="0.35"/>
<circle cx="380.8" cy="322.1" r="0.9" fill="#b0a0a8" opacity="0.35"/>
<circle cx="418.6" cy="350.6" r="0.7" fill="#b0a0a8" opacity="0.35"/>
<circle cx="402.3" cy="331.0" r="0.7" fill="#9d8ea0" opacity="0.35"/>
<circle cx="447.7" cy="341.2" r="0.9" fill="#9d8ea0" opacity="0.35"/>
<circle cx="419.6" cy="347.1" r="1.0" fill="#b0a0a8" opacity="0.35"/>
<circle cx="458.6" cy="349.9" r="0.8" fill="#9d8ea0" opacity="0.35"/>
<circle cx="382.7" cy="333.4" r="0.9" fill="#9d8ea0" opacity="0.35"/>
<circle cx="388.9" cy="349.7" r="1.1" fill="#9d8ea0" opacity="0.35"/>
<g filter="url(#b04)">
<circle cx="396.2" cy="337.2" r="1.04" fill="#6a2a12"/>
<circle cx="383.7" cy="304.0" r="1.09" fill="#7a2c14"/>
<circle cx="428.7" cy="331.6" r="1.06" fill="#7a2c14"/>
<circle cx="423.7" cy="316.2" r="0.96" fill="#6e2410"/>
<circle cx="383.1" cy="352.1" r="1.17" fill="#5a1a0a"/>
<circle cx="411.8" cy="304.4" r="0.93" fill="#6a2a12"/>
<circle cx="393.5" cy="314.8" r="0.99" fill="#5a1a0a"/>
<circle cx="404.1" cy="339.9" r="0.88" fill="#4a1408"/>
<circle cx="381.8" cy="317.9" r="1.00" fill="#843418"/>
<circle cx="394.7" cy="315.0" r="0.93" fill="#5a1a0a"/>
<circle cx="439.8" cy="309.4" r="1.28" fill="#6a2a12"/>
<circle cx="401.8" cy="316.2" r="1.04" fill="#6e2410"/>
<circle cx="438.0" cy="341.8" r="1.00" fill="#7a2c14"/>
<circle cx="450.4" cy="336.6" r="1.13" fill="#6a2a12"/>
<circle cx="413.4" cy="315.8" r="1.22" fill="#7a2c14"/>
<circle cx="428.2" cy="309.3" r="0.88" fill="#4a1408"/>
<circle cx="422.2" cy="349.6" r="1.27" fill="#7a2c14"/>
<circle cx="408.3" cy="319.4" r="1.28" fill="#843418"/>
<circle cx="388.7" cy="312.0" r="1.11" fill="#843418"/>
<circle cx="390.5" cy="326.5" r="1.13" fill="#6e2410"/>
<circle cx="445.3" cy="316.3" r="1.01" fill="#7a2c14"/>
<circle cx="448.9" cy="319.1" r="1.04" fill="#843418"/>
<circle cx="415.3" cy="309.0" r="0.92" fill="#7a2c14"/>
<circle cx="393.6" cy="330.3" r="1.29" fill="#6a2a12"/>
<circle cx="431.8" cy="340.4" r="1.01" fill="#7a2c14"/>
<circle cx="442.8" cy="335.0" r="1.15" fill="#7a2c14"/>
<circle cx="393.5" cy="322.4" r="1.29" fill="#843418"/>
<circle cx="444.1" cy="306.7" r="1.23" fill="#7a2c14"/>
<circle cx="411.5" cy="321.6" r="0.87" fill="#7a2c14"/>
<circle cx="378.8" cy="308.5" r="0.91" fill="#7a2c14"/>
<circle cx="400.2" cy="311.7" r="0.88" fill="#843418"/>
<circle cx="452.6" cy="330.6" r="1.26" fill="#843418"/>
<circle cx="449.5" cy="325.6" r="1.08" fill="#6e2410"/>
<circle cx="407.6" cy="325.3" r="0.88" fill="#6e2410"/>
<circle cx="390.0" cy="342.2" r="0.86" fill="#4a1408"/>
<circle cx="382.3" cy="321.6" r="1.12" fill="#6a2a12"/>
<circle cx="395.7" cy="325.7" r="1.15" fill="#843418"/>
<circle cx="425.7" cy="345.5" r="1.15" fill="#5a1a0a"/>
<circle cx="451.7" cy="331.2" r="1.26" fill="#7a2c14"/>
<circle cx="407.1" cy="328.0" r="1.08" fill="#6a2a12"/>
<circle cx="425.0" cy="353.4" r="1.12" fill="#843418"/>
<circle cx="406.1" cy="346.2" r="0.97" fill="#6a2a12"/>
<circle cx="404.9" cy="353.1" r="1.26" fill="#6e2410"/>
<circle cx="447.1" cy="316.2" r="0.99" fill="#4a1408"/>
<circle cx="379.2" cy="311.7" r="0.98" fill="#5a1a0a"/>
<circle cx="454.8" cy="314.5" r="1.01" fill="#6a2a12"/>
<circle cx="419.0" cy="317.7" r="0.97" fill="#6e2410"/>
<circle cx="407.3" cy="323.5" r="1.09" fill="#843418"/>
<circle cx="394.1" cy="352.7" r="0.92" fill="#4a1408"/>
<circle cx="398.3" cy="340.1" r="0.96" fill="#6a2a12"/>
<circle cx="421.1" cy="327.2" r="1.07" fill="#7a2c14"/>
<circle cx="443.9" cy="331.8" r="1.07" fill="#5a1a0a"/>
<circle cx="438.0" cy="345.1" r="1.05" fill="#843418"/>
<circle cx="382.5" cy="339.9" r="1.22" fill="#4a1408"/>
<circle cx="431.5" cy="330.9" r="1.23" fill="#4a1408"/>
<circle cx="407.7" cy="311.7" r="1.05" fill="#5a1a0a"/>
<circle cx="425.1" cy="352.1" r="0.93" fill="#4a1408"/>
<circle cx="425.8" cy="347.8" r="1.12" fill="#4a1408"/>
<circle cx="420.3" cy="353.0" r="1.30" fill="#5a1a0a"/>
<circle cx="389.6" cy="312.1" r="0.91" fill="#6a2a12"/>
<circle cx="403.7" cy="331.3" r="1.04" fill="#4a1408"/>
<circle cx="403.9" cy="329.6" r="1.08" fill="#7a2c14"/>
<circle cx="443.2" cy="317.7" r="0.92" fill="#5a1a0a"/>
<circle cx="406.3" cy="324.9" r="1.17" fill="#843418"/>
<circle cx="429.3" cy="325.6" r="1.22" fill="#4a1408"/>
<circle cx="395.3" cy="307.9" r="0.90" fill="#843418"/>
<circle cx="414.8" cy="312.7" r="1.05" fill="#843418"/>
<circle cx="394.2" cy="352.4" r="1.05" fill="#4a1408"/>
<circle cx="407.0" cy="341.4" r="1.23" fill="#7a2c14"/>
<circle cx="442.3" cy="331.4" r="1.21" fill="#5a1a0a"/>
<circle cx="423.6" cy="325.9" r="0.99" fill="#7a2c14"/>
<circle cx="386.6" cy="306.3" r="1.06" fill="#4a1408"/>
<circle cx="420.1" cy="311.8" r="1.09" fill="#4a1408"/>
<circle cx="428.9" cy="346.4" r="1.08" fill="#7a2c14"/>
<circle cx="458.4" cy="334.2" r="0.95" fill="#6e2410"/>
<circle cx="431.9" cy="311.4" r="1.16" fill="#4a1408"/>
<circle cx="390.7" cy="322.3" r="0.99" fill="#7a2c14"/>
<circle cx="410.2" cy="339.4" r="0.99" fill="#6a2a12"/>
<circle cx="426.2" cy="319.3" r="1.19" fill="#6e2410"/>
<circle cx="393.0" cy="311.3" r="0.90" fill="#5a1a0a"/>
<circle cx="404.3" cy="344.8" r="1.28" fill="#843418"/>
<circle cx="406.4" cy="332.7" r="1.10" fill="#4a1408"/>
<circle cx="435.3" cy="344.8" r="1.26" fill="#6e2410"/>
<circle cx="394.7" cy="333.3" r="0.96" fill="#7a2c14"/>
<circle cx="441.0" cy="320.0" r="1.27" fill="#7a2c14"/>
<circle cx="427.8" cy="347.6" r="1.24" fill="#6e2410"/>
<circle cx="448.7" cy="318.0" r="0.95" fill="#4a1408"/>
<circle cx="410.0" cy="342.3" r="0.85" fill="#6a2a12"/>
<circle cx="457.5" cy="333.8" r="1.20" fill="#6e2410"/>
<circle cx="446.2" cy="319.6" r="0.94" fill="#7a2c14"/>
<circle cx="378.5" cy="321.2" r="1.21" fill="#6e2410"/>
<circle cx="443.5" cy="344.5" r="0.93" fill="#7a2c14"/>
<circle cx="414.3" cy="330.7" r="1.14" fill="#6a2a12"/>
<circle cx="401.1" cy="350.5" r="0.94" fill="#6e2410"/>
<circle cx="391.5" cy="352.0" r="0.90" fill="#843418"/>
<circle cx="413.8" cy="346.1" r="1.12" fill="#6a2a12"/>
<circle cx="404.4" cy="310.5" r="1.01" fill="#6e2410"/>
<circle cx="435.4" cy="333.2" r="0.87" fill="#6a2a12"/>
<circle cx="422.2" cy="331.8" r="0.91" fill="#7a2c14"/>
<circle cx="401.3" cy="340.6" r="1.29" fill="#4a1408"/>
<circle cx="421.9" cy="348.0" r="1.17" fill="#6e2410"/>
<circle cx="444.0" cy="339.7" r="0.99" fill="#7a2c14"/>
<circle cx="393.8" cy="343.5" r="1.22" fill="#5a1a0a"/>
<circle cx="405.6" cy="325.9" r="1.27" fill="#843418"/>
<circle cx="432.1" cy="337.0" r="0.91" fill="#7a2c14"/>
<circle cx="455.2" cy="322.8" r="1.05" fill="#843418"/>
<circle cx="394.4" cy="310.8" r="0.96" fill="#6e2410"/>
<circle cx="415.9" cy="334.4" r="1.11" fill="#5a1a0a"/>
<circle cx="446.0" cy="330.0" r="0.87" fill="#7a2c14"/>
<circle cx="449.2" cy="338.4" r="1.15" fill="#4a1408"/>
<circle cx="426.5" cy="306.0" r="1.05" fill="#6a2a12"/>
<circle cx="408.3" cy="306.6" r="0.90" fill="#6e2410"/>
<circle cx="388.5" cy="351.1" r="1.21" fill="#7a2c14"/>
<circle cx="402.0" cy="327.2" r="0.86" fill="#5a1a0a"/>
<circle cx="459.1" cy="333.1" r="0.89" fill="#843418"/>
<circle cx="386.2" cy="330.5" r="1.15" fill="#4a1408"/>
<circle cx="423.2" cy="324.1" r="1.26" fill="#843418"/>
<circle cx="447.0" cy="319.5" r="0.90" fill="#6e2410"/>
<circle cx="449.7" cy="322.1" r="0.89" fill="#5a1a0a"/>
<circle cx="394.4" cy="338.1" r="1.12" fill="#5a1a0a"/>
<circle cx="453.5" cy="315.3" r="0.99" fill="#843418"/>
<circle cx="413.6" cy="318.5" r="1.13" fill="#6a2a12"/>
<circle cx="401.1" cy="334.6" r="1.05" fill="#7a2c14"/>
<circle cx="450.0" cy="342.3" r="1.28" fill="#4a1408"/>
<circle cx="400.4" cy="312.3" r="1.17" fill="#4a1408"/>
<circle cx="426.9" cy="319.6" r="1.29" fill="#4a1408"/>
<circle cx="433.3" cy="324.3" r="1.16" fill="#843418"/>
<circle cx="440.3" cy="314.6" r="0.86" fill="#6e2410"/>
<circle cx="446.0" cy="309.4" r="1.01" fill="#7a2c14"/>
<circle cx="422.9" cy="318.7" r="0.90" fill="#6e2410"/>
<circle cx="448.5" cy="325.9" r="1.18" fill="#7a2c14"/>
<circle cx="388.5" cy="352.4" r="1.09" fill="#7a2c14"/>
<circle cx="383.6" cy="326.7" r="0.86" fill="#7a2c14"/>
<circle cx="419.7" cy="304.7" r="1.03" fill="#5a1a0a"/>
<circle cx="428.2" cy="335.5" r="1.16" fill="#4a1408"/>
<circle cx="419.4" cy="320.8" r="1.24" fill="#5a1a0a"/>
<circle cx="382.8" cy="309.4" r="0.87" fill="#843418"/>
<circle cx="440.4" cy="313.6" r="1.09" fill="#6e2410"/>
<circle cx="385.6" cy="321.2" r="1.16" fill="#843418"/>
<circle cx="429.0" cy="317.9" r="1.22" fill="#5a1a0a"/>
<circle cx="400.1" cy="350.3" r="0.86" fill="#843418"/>
<circle cx="447.9" cy="324.7" r="1.23" fill="#5a1a0a"/>
<circle cx="441.6" cy="305.3" r="1.14" fill="#4a1408"/>
<circle cx="412.4" cy="350.6" r="1.08" fill="#6e2410"/>
<circle cx="443.4" cy="315.1" r="1.27" fill="#7a2c14"/>
<circle cx="415.1" cy="344.3" r="0.95" fill="#6e2410"/>
<circle cx="459.1" cy="329.6" r="0.90" fill="#6a2a12"/>
<circle cx="455.0" cy="334.2" r="1.06" fill="#7a2c14"/>
<circle cx="436.1" cy="353.4" r="1.25" fill="#6e2410"/>
<circle cx="409.6" cy="305.4" r="1.20" fill="#4a1408"/>
<circle cx="380.2" cy="315.2" r="1.07" fill="#5a1a0a"/>
<circle cx="436.1" cy="325.4" r="1.08" fill="#5a1a0a"/>
<circle cx="418.8" cy="309.4" r="1.07" fill="#6a2a12"/>
<circle cx="427.3" cy="348.3" r="1.04" fill="#843418"/>
<circle cx="447.4" cy="304.8" r="1.03" fill="#6e2410"/>
<circle cx="383.2" cy="323.0" r="1.04" fill="#5a1a0a"/>
<circle cx="400.6" cy="333.4" r="0.97" fill="#5a1a0a"/>
<circle cx="456.1" cy="331.7" r="1.09" fill="#7a2c14"/>
<circle cx="452.7" cy="304.8" r="1.15" fill="#5a1a0a"/>
<circle cx="415.7" cy="341.1" r="0.98" fill="#5a1a0a"/>
<circle cx="458.4" cy="305.0" r="1.11" fill="#6e2410"/>
<circle cx="424.5" cy="323.2" r="1.21" fill="#6e2410"/>
<circle cx="409.3" cy="306.7" r="1.12" fill="#6e2410"/>
<circle cx="452.6" cy="307.8" r="1.12" fill="#7a2c14"/>
<circle cx="383.8" cy="345.0" r="1.11" fill="#7a2c14"/>
<circle cx="422.6" cy="334.6" r="1.23" fill="#6e2410"/>
<circle cx="407.5" cy="329.9" r="1.00" fill="#6e2410"/>
<circle cx="430.6" cy="338.7" r="0.99" fill="#7a2c14"/>
<circle cx="404.9" cy="318.7" r="0.85" fill="#4a1408"/>
<circle cx="432.5" cy="315.1" r="1.29" fill="#6e2410"/>
<circle cx="411.1" cy="310.5" r="1.22" fill="#843418"/>
<circle cx="410.1" cy="338.9" r="0.92" fill="#4a1408"/>
<circle cx="443.5" cy="338.6" r="0.99" fill="#6e2410"/>
<circle cx="402.1" cy="352.8" r="1.14" fill="#7a2c14"/>
<circle cx="384.0" cy="315.1" r="1.09" fill="#6a2a12"/>
<circle cx="416.1" cy="333.6" r="0.93" fill="#4a1408"/>
<circle cx="394.1" cy="315.8" r="0.95" fill="#843418"/>
<circle cx="403.6" cy="349.6" r="0.97" fill="#5a1a0a"/>
<circle cx="379.1" cy="342.6" r="1.29" fill="#5a1a0a"/>
<circle cx="404.3" cy="336.7" r="0.90" fill="#6a2a12"/>
<circle cx="394.1" cy="313.3" r="1.26" fill="#843418"/>
<circle cx="451.2" cy="352.3" r="1.05" fill="#6a2a12"/>
<circle cx="397.0" cy="327.4" r="1.23" fill="#5a1a0a"/>
<circle cx="383.4" cy="347.2" r="0.99" fill="#843418"/>
<circle cx="422.7" cy="313.3" r="0.85" fill="#7a2c14"/>
<circle cx="459.7" cy="322.9" r="1.03" fill="#843418"/>
<circle cx="401.2" cy="312.6" r="1.07" fill="#4a1408"/>
<circle cx="429.2" cy="329.9" r="1.08" fill="#7a2c14"/>
<circle cx="404.5" cy="305.6" r="1.03" fill="#843418"/>
<circle cx="419.7" cy="342.8" r="1.21" fill="#5a1a0a"/>
<circle cx="412.1" cy="323.1" r="0.97" fill="#5a1a0a"/>
<circle cx="403.3" cy="322.6" r="0.98" fill="#843418"/>
<circle cx="425.2" cy="313.1" r="1.08" fill="#843418"/>
<circle cx="397.2" cy="314.1" r="0.92" fill="#6a2a12"/>
<circle cx="451.6" cy="304.3" r="1.21" fill="#5a1a0a"/>
<circle cx="413.7" cy="351.4" r="1.27" fill="#6e2410"/>
<circle cx="445.3" cy="350.4" r="1.29" fill="#6a2a12"/>
<circle cx="396.7" cy="310.0" r="1.08" fill="#4a1408"/>
<circle cx="408.6" cy="344.4" r="1.11" fill="#4a1408"/>
<circle cx="411.6" cy="322.9" r="1.21" fill="#6e2410"/>
<circle cx="429.5" cy="308.9" r="1.16" fill="#843418"/>
<circle cx="406.7" cy="304.9" r="1.24" fill="#4a1408"/>
<circle cx="441.2" cy="348.6" r="1.13" fill="#6e2410"/>
<circle cx="420.5" cy="348.0" r="1.15" fill="#7a2c14"/>
<circle cx="421.5" cy="334.4" r="1.00" fill="#843418"/>
<circle cx="435.0" cy="339.4" r="1.18" fill="#4a1408"/>
<circle cx="380.5" cy="328.7" r="0.90" fill="#7a2c14"/>
<circle cx="385.2" cy="334.9" r="1.15" fill="#6e2410"/>
<circle cx="384.9" cy="326.4" r="1.03" fill="#4a1408"/>
<circle cx="434.2" cy="336.8" r="1.23" fill="#5a1a0a"/>
<circle cx="424.7" cy="350.2" r="0.87" fill="#5a1a0a"/>
<circle cx="400.4" cy="312.4" r="1.06" fill="#6a2a12"/>
<circle cx="379.6" cy="347.3" r="0.96" fill="#6e2410"/>
<circle cx="448.0" cy="339.2" r="0.86" fill="#843418"/>
<circle cx="390.8" cy="312.6" r="0.89" fill="#5a1a0a"/>
<circle cx="378.6" cy="330.5" r="1.13" fill="#6e2410"/>
<circle cx="413.1" cy="344.4" r="0.97" fill="#843418"/>
<circle cx="414.4" cy="345.5" r="1.12" fill="#6a2a12"/>
<circle cx="411.1" cy="324.9" r="1.05" fill="#843418"/>
<circle cx="384.7" cy="345.2" r="1.19" fill="#6e2410"/>
<circle cx="391.4" cy="330.8" r="1.20" fill="#6a2a12"/>
<circle cx="392.4" cy="353.1" r="1.19" fill="#7a2c14"/>
<circle cx="455.5" cy="326.4" r="1.03" fill="#4a1408"/>
<circle cx="407.8" cy="330.8" r="1.25" fill="#6a2a12"/>
<circle cx="400.1" cy="346.2" r="0.88" fill="#6a2a12"/>
<circle cx="391.5" cy="353.4" r="1.21" fill="#7a2c14"/>
<circle cx="391.4" cy="327.8" r="0.95" fill="#5a1a0a"/>
<circle cx="392.5" cy="308.3" r="1.10" fill="#6a2a12"/>
<circle cx="380.3" cy="317.2" r="1.09" fill="#6a2a12"/>
<circle cx="407.6" cy="325.5" r="1.00" fill="#7a2c14"/>
<circle cx="455.5" cy="323.1" r="0.89" fill="#6a2a12"/>
<circle cx="407.1" cy="325.0" r="1.17" fill="#6a2a12"/>
<circle cx="426.7" cy="312.9" r="1.24" fill="#7a2c14"/>
<circle cx="458.1" cy="307.0" r="1.12" fill="#7a2c14"/>
<circle cx="458.4" cy="310.9" r="1.17" fill="#6a2a12"/>
<circle cx="395.1" cy="350.9" r="0.95" fill="#843418"/>
<circle cx="429.9" cy="311.7" r="0.94" fill="#6e2410"/>
<circle cx="389.6" cy="323.6" r="1.07" fill="#6a2a12"/>
<circle cx="422.2" cy="304.8" r="0.96" fill="#6e2410"/>
<circle cx="414.8" cy="333.1" r="1.04" fill="#7a2c14"/>
<circle cx="452.6" cy="307.7" r="1.12" fill="#6e2410"/>
<circle cx="424.1" cy="327.1" r="0.93" fill="#5a1a0a"/>
<circle cx="393.3" cy="313.3" r="1.06" fill="#6a2a12"/>
<circle cx="400.6" cy="352.3" r="1.26" fill="#7a2c14"/>
<circle cx="450.0" cy="339.0" r="1.06" fill="#5a1a0a"/>
<circle cx="404.0" cy="337.9" r="0.86" fill="#6a2a12"/>
<circle cx="382.9" cy="320.9" r="1.15" fill="#5a1a0a"/>
<circle cx="414.5" cy="332.8" r="1.19" fill="#7a2c14"/>
<circle cx="438.4" cy="323.2" r="1.28" fill="#6a2a12"/>
<circle cx="445.4" cy="325.9" r="1.16" fill="#6a2a12"/>
<circle cx="411.8" cy="309.8" r="1.10" fill="#5a1a0a"/>
<circle cx="455.4" cy="331.5" r="1.03" fill="#7a2c14"/>
<circle cx="438.9" cy="310.8" r="1.27" fill="#7a2c14"/>
<circle cx="428.8" cy="344.8" r="0.92" fill="#843418"/>
<circle cx="402.5" cy="344.1" r="1.12" fill="#6a2a12"/>
<circle cx="442.6" cy="323.1" r="1.27" fill="#4a1408"/>
<circle cx="405.0" cy="326.3" r="1.11" fill="#843418"/>
<circle cx="433.0" cy="328.8" r="1.14" fill="#843418"/>
<circle cx="429.1" cy="316.6" r="1.07" fill="#5a1a0a"/>
<circle cx="439.3" cy="311.6" r="1.14" fill="#7a2c14"/>
<circle cx="388.5" cy="351.9" r="1.29" fill="#6a2a12"/>
<circle cx="447.7" cy="327.0" r="0.92" fill="#6e2410"/>
<circle cx="381.6" cy="307.6" r="1.22" fill="#5a1a0a"/>
<circle cx="426.0" cy="309.3" r="0.96" fill="#6e2410"/>
<circle cx="387.6" cy="345.7" r="1.26" fill="#843418"/>
<circle cx="396.7" cy="330.4" r="1.07" fill="#6e2410"/>
<circle cx="428.2" cy="344.9" r="1.21" fill="#843418"/>
<circle cx="405.1" cy="346.4" r="1.27" fill="#5a1a0a"/>
<circle cx="445.0" cy="318.5" r="1.05" fill="#5a1a0a"/>
<circle cx="382.1" cy="317.7" r="0.99" fill="#843418"/>
<circle cx="443.0" cy="326.5" r="0.90" fill="#6a2a12"/>
<circle cx="431.2" cy="342.5" r="1.08" fill="#6a2a12"/>
<circle cx="408.4" cy="339.1" r="0.89" fill="#4a1408"/>
<circle cx="391.0" cy="309.3" r="0.96" fill="#6e2410"/>
<circle cx="429.5" cy="331.5" r="1.27" fill="#5a1a0a"/>
<circle cx="447.6" cy="321.5" r="0.91" fill="#6a2a12"/>
<circle cx="452.5" cy="325.6" r="0.96" fill="#843418"/>
<circle cx="420.8" cy="313.6" r="0.94" fill="#6a2a12"/>
<circle cx="406.9" cy="347.2" r="1.30" fill="#843418"/>
<circle cx="441.4" cy="308.1" r="1.21" fill="#7a2c14"/>
<circle cx="387.2" cy="323.9" r="0.90" fill="#4a1408"/>
<circle cx="433.2" cy="343.5" r="0.92" fill="#7a2c14"/>
<circle cx="436.3" cy="321.0" r="0.96" fill="#6e2410"/>
<circle cx="399.4" cy="327.7" r="1.20" fill="#843418"/>
<circle cx="379.6" cy="350.5" r="1.21" fill="#6a2a12"/>
<circle cx="431.3" cy="315.1" r="1.04" fill="#7a2c14"/>
<circle cx="408.8" cy="344.2" r="0.94" fill="#5a1a0a"/>
<circle cx="406.2" cy="320.1" r="1.21" fill="#7a2c14"/>
<circle cx="443.4" cy="316.5" r="1.03" fill="#843418"/>
<circle cx="407.4" cy="307.4" r="1.21" fill="#4a1408"/>
<circle cx="417.2" cy="320.9" r="0.98" fill="#5a1a0a"/>
<circle cx="422.1" cy="306.3" r="1.13" fill="#6e2410"/>
<circle cx="422.4" cy="346.0" r="1.04" fill="#843418"/>
<circle cx="411.0" cy="340.1" r="0.94" fill="#4a1408"/>
<circle cx="410.7" cy="308.5" r="1.26" fill="#6a2a12"/>
<circle cx="452.6" cy="336.6" r="0.95" fill="#7a2c14"/>
<circle cx="442.5" cy="346.6" r="0.98" fill="#6e2410"/>
<circle cx="431.7" cy="318.8" r="0.91" fill="#7a2c14"/>
<circle cx="395.6" cy="305.6" r="1.08" fill="#843418"/>
<circle cx="402.9" cy="311.6" r="0.97" fill="#7a2c14"/>
<circle cx="399.6" cy="347.7" r="1.05" fill="#6a2a12"/>
<circle cx="419.1" cy="312.0" r="1.25" fill="#5a1a0a"/>
<circle cx="395.2" cy="350.1" r="0.87" fill="#6a2a12"/>
<circle cx="412.5" cy="309.0" r="1.13" fill="#6a2a12"/>
<circle cx="454.3" cy="320.8" r="1.13" fill="#843418"/>
<circle cx="437.0" cy="329.6" r="0.86" fill="#5a1a0a"/>
<circle cx="380.4" cy="348.2" r="1.25" fill="#7a2c14"/>
<circle cx="429.2" cy="314.1" r="1.21" fill="#7a2c14"/>
<circle cx="381.8" cy="328.5" r="1.24" fill="#843418"/>
<circle cx="432.7" cy="322.6" r="1.05" fill="#5a1a0a"/>
<circle cx="405.8" cy="333.0" r="1.07" fill="#6e2410"/>
<circle cx="433.9" cy="320.4" r="1.14" fill="#6a2a12"/>
<circle cx="456.2" cy="329.5" r="1.23" fill="#4a1408"/>
<circle cx="444.5" cy="324.6" r="1.03" fill="#7a2c14"/>
<circle cx="401.5" cy="316.6" r="0.89" fill="#843418"/>
<circle cx="415.3" cy="325.3" r="0.90" fill="#5a1a0a"/>
<circle cx="445.7" cy="331.0" r="0.91" fill="#6a2a12"/>
<circle cx="379.0" cy="328.8" r="0.85" fill="#4a1408"/>
<circle cx="399.4" cy="333.5" r="0.94" fill="#6e2410"/>
<circle cx="434.4" cy="335.6" r="1.09" fill="#6a2a12"/>
<circle cx="454.3" cy="337.7" r="1.15" fill="#843418"/>
<circle cx="429.2" cy="351.9" r="1.23" fill="#5a1a0a"/>
<circle cx="442.6" cy="336.3" r="0.94" fill="#6e2410"/>
<circle cx="415.5" cy="330.8" r="1.23" fill="#6a2a12"/>
<circle cx="420.1" cy="316.4" r="1.02" fill="#6a2a12"/>
<circle cx="399.5" cy="352.2" r="0.92" fill="#6a2a12"/>
<circle cx="426.0" cy="317.4" r="1.14" fill="#6e2410"/>
<circle cx="380.0" cy="314.5" r="0.93" fill="#7a2c14"/>
<circle cx="432.2" cy="305.2" r="0.95" fill="#7a2c14"/>
<circle cx="430.7" cy="322.4" r="1.20" fill="#6e2410"/>
<circle cx="455.8" cy="318.7" r="1.23" fill="#4a1408"/>
<circle cx="407.6" cy="313.5" r="1.26" fill="#7a2c14"/>
<circle cx="390.8" cy="332.6" r="0.91" fill="#5a1a0a"/>
<circle cx="384.4" cy="328.3" r="1.05" fill="#7a2c14"/>
<circle cx="406.0" cy="303.8" r="1.16" fill="#843418"/>
<circle cx="413.8" cy="347.2" r="1.04" fill="#7a2c14"/>
<circle cx="437.7" cy="341.6" r="1.18" fill="#4a1408"/>
<circle cx="386.1" cy="351.4" r="0.92" fill="#7a2c14"/>
<circle cx="425.2" cy="338.9" r="0.91" fill="#4a1408"/>
<circle cx="428.4" cy="309.2" r="0.95" fill="#6a2a12"/>
<circle cx="392.5" cy="310.3" r="1.13" fill="#6a2a12"/>
<circle cx="420.0" cy="344.1" r="1.24" fill="#4a1408"/>
<circle cx="418.2" cy="351.6" r="0.87" fill="#6e2410"/>
<circle cx="441.2" cy="309.6" r="1.29" fill="#843418"/>
<circle cx="408.9" cy="345.2" r="0.95" fill="#7a2c14"/>
<circle cx="390.4" cy="307.0" r="0.92" fill="#4a1408"/>
<circle cx="445.1" cy="307.2" r="0.94" fill="#6e2410"/>
<circle cx="396.1" cy="323.2" r="1.23" fill="#6e2410"/>
<circle cx="444.6" cy="315.7" r="0.88" fill="#6e2410"/>
<circle cx="393.8" cy="334.3" r="1.28" fill="#843418"/>
<circle cx="383.6" cy="342.1" r="1.23" fill="#7a2c14"/>
<circle cx="407.6" cy="317.5" r="1.15" fill="#4a1408"/>
<circle cx="424.2" cy="332.4" r="1.10" fill="#6e2410"/>
<circle cx="387.9" cy="347.8" r="1.18" fill="#7a2c14"/>
<circle cx="434.0" cy="351.1" r="1.00" fill="#843418"/>
<circle cx="382.5" cy="349.5" r="1.30" fill="#843418"/>
<circle cx="433.0" cy="326.9" r="1.02" fill="#6e2410"/>
<circle cx="423.3" cy="330.4" r="1.12" fill="#6e2410"/>
<circle cx="401.5" cy="345.2" r="0.89" fill="#6e2410"/>
<circle cx="420.5" cy="337.1" r="0.99" fill="#6a2a12"/>
<circle cx="395.1" cy="338.5" r="0.99" fill="#7a2c14"/>
<circle cx="413.6" cy="353.6" r="1.06" fill="#4a1408"/>
<circle cx="386.9" cy="328.9" r="1.18" fill="#6e2410"/>
<circle cx="379.6" cy="328.4" r="1.07" fill="#843418"/>
<circle cx="380.6" cy="335.9" r="1.15" fill="#4a1408"/>
<circle cx="421.0" cy="304.0" r="1.13" fill="#6a2a12"/>
<circle cx="431.7" cy="319.4" r="1.29" fill="#6e2410"/>
<circle cx="436.3" cy="326.2" r="0.91" fill="#843418"/>
<circle cx="385.9" cy="309.8" r="1.16" fill="#4a1408"/>
<circle cx="408.5" cy="305.5" r="1.03" fill="#4a1408"/>
<circle cx="392.1" cy="313.5" r="1.29" fill="#7a2c14"/>
<circle cx="402.9" cy="327.5" r="1.23" fill="#843418"/>
<circle cx="420.0" cy="341.6" r="1.26" fill="#7a2c14"/>
<circle cx="441.8" cy="353.2" r="1.19" fill="#843418"/>
<circle cx="443.8" cy="336.1" r="1.06" fill="#5a1a0a"/>
<circle cx="389.8" cy="330.8" r="1.21" fill="#6a2a12"/>
<circle cx="404.6" cy="337.0" r="1.19" fill="#4a1408"/>
<circle cx="393.9" cy="323.6" r="1.23" fill="#5a1a0a"/>
<circle cx="408.4" cy="317.9" r="1.11" fill="#7a2c14"/>
<circle cx="429.9" cy="308.3" r="1.21" fill="#4a1408"/>
<circle cx="392.5" cy="340.3" r="1.27" fill="#6e2410"/>
<circle cx="453.5" cy="314.2" r="0.87" fill="#5a1a0a"/>
<circle cx="427.9" cy="319.8" r="1.17" fill="#7a2c14"/>
<circle cx="421.6" cy="348.1" r="1.28" fill="#6a2a12"/>
<circle cx="451.1" cy="346.8" r="0.91" fill="#4a1408"/>
<circle cx="445.0" cy="346.2" r="0.87" fill="#5a1a0a"/>
<circle cx="412.8" cy="316.0" r="1.08" fill="#4a1408"/>
<circle cx="379.1" cy="343.9" r="1.29" fill="#4a1408"/>
<circle cx="454.5" cy="311.1" r="1.27" fill="#7a2c14"/>
<circle cx="427.6" cy="350.0" r="0.96" fill="#6a2a12"/>
<circle cx="390.9" cy="310.2" r="0.91" fill="#6a2a12"/>
<circle cx="405.5" cy="310.1" r="1.12" fill="#6a2a12"/>
<circle cx="388.7" cy="305.3" r="0.98" fill="#7a2c14"/>
<circle cx="452.4" cy="338.6" r="0.85" fill="#4a1408"/>
<circle cx="414.0" cy="323.5" r="1.16" fill="#4a1408"/>
<circle cx="407.9" cy="326.0" r="0.98" fill="#4a1408"/>
<circle cx="400.4" cy="319.2" r="1.16" fill="#5a1a0a"/>
<circle cx="443.0" cy="307.6" r="1.30" fill="#5a1a0a"/>
<circle cx="430.9" cy="310.2" r="1.03" fill="#6a2a12"/>
<circle cx="410.3" cy="333.3" r="1.23" fill="#7a2c14"/>
<circle cx="396.2" cy="308.1" r="1.26" fill="#7a2c14"/>
<circle cx="385.3" cy="350.2" r="1.25" fill="#6e2410"/>
<circle cx="443.9" cy="330.4" r="1.21" fill="#6a2a12"/>
<circle cx="425.4" cy="350.8" r="0.92" fill="#843418"/>
<circle cx="449.1" cy="338.0" r="1.27" fill="#843418"/>
<circle cx="415.9" cy="314.5" r="0.88" fill="#6a2a12"/>
<circle cx="410.6" cy="322.0" r="1.00" fill="#843418"/>
<circle cx="432.0" cy="313.1" r="1.04" fill="#843418"/>
<circle cx="406.8" cy="309.6" r="1.00" fill="#6e2410"/>
<circle cx="412.1" cy="351.2" r="0.91" fill="#7a2c14"/>
<circle cx="429.1" cy="311.7" r="1.11" fill="#5a1a0a"/>
<circle cx="387.4" cy="335.5" r="0.90" fill="#6e2410"/>
<circle cx="424.3" cy="332.1" r="0.96" fill="#4a1408"/>
<circle cx="389.8" cy="343.9" r="1.01" fill="#7a2c14"/>
<circle cx="452.8" cy="331.9" r="0.91" fill="#6a2a12"/>
<circle cx="413.6" cy="306.7" r="1.18" fill="#7a2c14"/>
<circle cx="393.5" cy="338.9" r="0.94" fill="#7a2c14"/>
<circle cx="436.8" cy="329.9" r="1.03" fill="#4a1408"/>
<circle cx="397.6" cy="314.6" r="1.08" fill="#5a1a0a"/>
<circle cx="449.2" cy="308.1" r="0.86" fill="#843418"/>
<circle cx="408.0" cy="353.0" r="0.91" fill="#7a2c14"/>
<circle cx="412.3" cy="333.3" r="0.87" fill="#5a1a0a"/>
<circle cx="416.1" cy="340.2" r="0.99" fill="#7a2c14"/>
<circle cx="439.4" cy="323.1" r="1.21" fill="#4a1408"/>
<circle cx="388.1" cy="351.3" r="1.14" fill="#6a2a12"/>
<circle cx="384.3" cy="309.8" r="0.85" fill="#4a1408"/>
<circle cx="456.3" cy="352.0" r="0.95" fill="#7a2c14"/>
<circle cx="416.6" cy="338.4" r="1.11" fill="#843418"/>
<circle cx="416.4" cy="307.8" r="0.86" fill="#7a2c14"/>
<circle cx="429.6" cy="313.8" r="0.98" fill="#4a1408"/>
<circle cx="431.3" cy="349.8" r="1.03" fill="#6a2a12"/>
<circle cx="398.6" cy="328.3" r="0.98" fill="#4a1408"/>
<circle cx="455.7" cy="321.2" r="0.90" fill="#6a2a12"/>
<circle cx="440.2" cy="314.3" r="1.05" fill="#6e2410"/>
<circle cx="455.9" cy="345.2" r="1.29" fill="#6a2a12"/>
<circle cx="413.3" cy="329.9" r="1.21" fill="#843418"/>
<circle cx="381.9" cy="342.4" r="1.19" fill="#843418"/>
<circle cx="416.6" cy="349.8" r="0.99" fill="#6e2410"/>
<circle cx="415.5" cy="353.1" r="1.15" fill="#7a2c14"/>
<circle cx="408.2" cy="314.5" r="1.30" fill="#6e2410"/>
<circle cx="425.9" cy="327.3" r="0.97" fill="#6a2a12"/>
<circle cx="401.7" cy="347.0" r="0.88" fill="#7a2c14"/>
<circle cx="434.5" cy="348.3" r="1.08" fill="#6e2410"/>
<circle cx="453.5" cy="316.0" r="0.92" fill="#6a2a12"/>
<circle cx="398.7" cy="345.8" r="1.15" fill="#4a1408"/>
<circle cx="384.1" cy="311.9" r="1.12" fill="#4a1408"/>
<circle cx="454.4" cy="318.2" r="1.03" fill="#5a1a0a"/>
<circle cx="390.6" cy="340.7" r="0.98" fill="#6a2a12"/>
<circle cx="412.8" cy="306.7" r="1.19" fill="#6e2410"/>
<circle cx="442.0" cy="329.5" r="1.22" fill="#5a1a0a"/>
<circle cx="407.8" cy="319.5" r="0.87" fill="#7a2c14"/>
<circle cx="380.8" cy="317.8" r="1.13" fill="#7a2c14"/>
<circle cx="400.8" cy="349.6" r="1.29" fill="#7a2c14"/>
<circle cx="385.6" cy="338.4" r="0.91" fill="#6e2410"/>
<circle cx="406.2" cy="343.8" r="0.93" fill="#5a1a0a"/>
<circle cx="400.1" cy="330.8" r="1.13" fill="#5a1a0a"/>
<circle cx="446.4" cy="344.4" r="0.86" fill="#843418"/>
<circle cx="447.7" cy="308.9" r="1.24" fill="#843418"/>
<circle cx="409.9" cy="328.6" r="0.95" fill="#843418"/>
<circle cx="412.0" cy="347.0" r="0.99" fill="#5a1a0a"/>
<circle cx="417.1" cy="325.2" r="1.08" fill="#4a1408"/>
<circle cx="420.8" cy="342.8" r="0.87" fill="#4a1408"/>
<circle cx="454.0" cy="344.2" r="1.25" fill="#6e2410"/>
<circle cx="408.1" cy="333.2" r="1.00" fill="#6a2a12"/>
<circle cx="456.0" cy="333.7" r="0.92" fill="#6e2410"/>
<circle cx="384.9" cy="340.9" r="0.98" fill="#843418"/>
<circle cx="418.7" cy="326.7" r="1.08" fill="#4a1408"/>
<circle cx="441.8" cy="329.9" r="1.06" fill="#6e2410"/>
<circle cx="455.3" cy="310.7" r="0.93" fill="#6e2410"/>
<circle cx="390.6" cy="346.5" r="0.91" fill="#6e2410"/>
<circle cx="443.5" cy="307.8" r="1.07" fill="#843418"/>
<circle cx="428.6" cy="341.0" r="1.09" fill="#6a2a12"/>
<circle cx="435.0" cy="327.1" r="1.06" fill="#6a2a12"/>
<circle cx="409.4" cy="351.3" r="0.97" fill="#6e2410"/>
<circle cx="391.0" cy="323.1" r="1.13" fill="#6a2a12"/>
<circle cx="436.7" cy="336.9" r="0.98" fill="#6a2a12"/>
<circle cx="442.3" cy="350.4" r="0.92" fill="#843418"/>
<circle cx="438.1" cy="306.8" r="1.22" fill="#4a1408"/>
<circle cx="447.6" cy="307.3" r="1.24" fill="#6a2a12"/>
<circle cx="385.4" cy="346.7" r="1.10" fill="#5a1a0a"/>
<circle cx="449.0" cy="320.5" r="0.98" fill="#7a2c14"/>
<circle cx="434.9" cy="311.5" r="0.89" fill="#5a1a0a"/>
<circle cx="446.9" cy="328.7" r="0.90" fill="#5a1a0a"/>
<circle cx="382.8" cy="324.0" r="1.26" fill="#6a2a12"/>
<circle cx="383.8" cy="337.1" r="0.92" fill="#843418"/>
<circle cx="436.0" cy="353.4" r="0.98" fill="#7a2c14"/>
<circle cx="415.6" cy="305.8" r="0.92" fill="#5a1a0a"/>
<circle cx="380.2" cy="311.0" r="0.90" fill="#7a2c14"/>
<circle cx="458.3" cy="346.0" r="1.07" fill="#6e2410"/>
<circle cx="389.0" cy="348.5" r="1.14" fill="#6e2410"/>
<circle cx="434.3" cy="315.8" r="1.13" fill="#5a1a0a"/>
<circle cx="445.6" cy="332.0" r="1.14" fill="#6e2410"/>
<circle cx="386.0" cy="318.6" r="1.02" fill="#7a2c14"/>
<circle cx="454.4" cy="310.6" r="1.22" fill="#843418"/>
<circle cx="402.9" cy="308.6" r="1.19" fill="#4a1408"/>
<circle cx="440.4" cy="305.1" r="1.22" fill="#4a1408"/>
<circle cx="378.8" cy="318.3" r="1.06" fill="#7a2c14"/>
<circle cx="417.6" cy="347.2" r="1.24" fill="#6e2410"/>
<circle cx="443.1" cy="335.7" r="0.91" fill="#6a2a12"/>
<circle cx="394.6" cy="321.8" r="0.95" fill="#6e2410"/>
<circle cx="458.2" cy="306.9" r="0.87" fill="#4a1408"/>
<circle cx="411.8" cy="325.7" r="1.06" fill="#6a2a12"/>
<circle cx="429.1" cy="335.8" r="1.02" fill="#6e2410"/>
<circle cx="434.5" cy="310.1" r="1.27" fill="#6a2a12"/>
<circle cx="441.0" cy="324.4" r="0.94" fill="#5a1a0a"/>
<circle cx="450.0" cy="335.7" r="0.94" fill="#6a2a12"/>
<circle cx="409.9" cy="318.8" r="1.22" fill="#6a2a12"/>
<circle cx="458.8" cy="315.2" r="0.86" fill="#6e2410"/>
<circle cx="403.4" cy="343.5" r="1.17" fill="#5a1a0a"/>
<circle cx="455.7" cy="338.3" r="1.19" fill="#4a1408"/>
<circle cx="447.5" cy="348.1" r="1.29" fill="#843418"/>
<circle cx="385.0" cy="312.2" r="1.04" fill="#6a2a12"/>
<circle cx="426.7" cy="353.1" r="0.89" fill="#843418"/>
<circle cx="448.4" cy="332.3" r="0.98" fill="#7a2c14"/>
<circle cx="405.4" cy="349.8" r="1.25" fill="#5a1a0a"/>
<circle cx="387.6" cy="318.7" r="0.97" fill="#6a2a12"/>
<circle cx="420.5" cy="317.4" r="1.07" fill="#6a2a12"/>
<circle cx="415.8" cy="347.8" r="1.23" fill="#6e2410"/>
<circle cx="381.6" cy="316.4" r="0.99" fill="#6a2a12"/>
<circle cx="392.0" cy="324.7" r="0.96" fill="#6a2a12"/>
<circle cx="399.5" cy="338.7" r="0.98" fill="#6e2410"/>
<circle cx="413.4" cy="310.8" r="1.08" fill="#6e2410"/>
<circle cx="416.8" cy="349.4" r="1.07" fill="#843418"/>
<circle cx="381.9" cy="308.9" r="1.21" fill="#7a2c14"/>
<circle cx="387.1" cy="330.2" r="1.22" fill="#4a1408"/>
<circle cx="399.9" cy="306.7" r="0.97" fill="#843418"/>
<circle cx="423.1" cy="314.5" r="1.18" fill="#6e2410"/>
<circle cx="412.3" cy="342.6" r="0.91" fill="#843418"/>
<circle cx="458.6" cy="306.8" r="1.01" fill="#6a2a12"/>
<circle cx="442.8" cy="323.9" r="1.00" fill="#7a2c14"/>
<circle cx="424.0" cy="330.1" r="0.86" fill="#5a1a0a"/>
<circle cx="459.1" cy="334.0" r="1.24" fill="#7a2c14"/>
<circle cx="390.5" cy="346.4" r="1.26" fill="#6e2410"/>
<circle cx="382.0" cy="321.4" r="1.18" fill="#7a2c14"/>
<circle cx="437.9" cy="322.1" r="0.99" fill="#4a1408"/>
<circle cx="408.6" cy="352.6" r="1.13" fill="#4a1408"/>
<circle cx="389.2" cy="327.5" r="1.14" fill="#6a2a12"/>
<circle cx="457.6" cy="327.2" r="0.87" fill="#843418"/>
<circle cx="406.7" cy="310.2" r="0.92" fill="#6a2a12"/>
<circle cx="457.1" cy="311.2" r="1.29" fill="#7a2c14"/>
<circle cx="434.6" cy="331.7" r="1.30" fill="#6e2410"/>
<circle cx="429.9" cy="318.8" r="0.95" fill="#5a1a0a"/>
<circle cx="417.8" cy="307.7" r="0.97" fill="#6a2a12"/>
<circle cx="445.7" cy="325.0" r="1.07" fill="#6e2410"/>
<circle cx="395.2" cy="322.7" r="0.90" fill="#7a2c14"/>
<circle cx="430.1" cy="343.6" r="1.24" fill="#843418"/>
<circle cx="419.0" cy="311.4" r="0.88" fill="#6a2a12"/>
<circle cx="431.4" cy="316.5" r="0.98" fill="#4a1408"/>
<circle cx="380.4" cy="332.4" r="1.03" fill="#7a2c14"/>
<circle cx="446.5" cy="321.1" r="1.05" fill="#7a2c14"/>
<circle cx="439.8" cy="309.6" r="1.02" fill="#7a2c14"/>
<circle cx="438.1" cy="309.0" r="1.22" fill="#7a2c14"/>
<circle cx="457.4" cy="320.3" r="1.03" fill="#4a1408"/>
<circle cx="401.3" cy="310.8" r="0.88" fill="#4a1408"/>
<circle cx="454.1" cy="348.1" r="1.29" fill="#4a1408"/>
<circle cx="389.5" cy="311.1" r="1.07" fill="#6e2410"/>
<circle cx="406.7" cy="336.0" r="1.16" fill="#6e2410"/>
<circle cx="383.3" cy="326.3" r="0.97" fill="#6a2a12"/>
<circle cx="417.0" cy="325.0" r="0.88" fill="#6e2410"/>
<circle cx="382.8" cy="308.8" r="1.02" fill="#6a2a12"/>
<circle cx="460.5" cy="310.7" r="0.94" fill="#7a2c14"/>
<circle cx="418.4" cy="319.5" r="1.09" fill="#4a1408"/>
<circle cx="438.4" cy="345.5" r="0.90" fill="#843418"/>
<circle cx="389.1" cy="324.4" r="1.18" fill="#4a1408"/>
<circle cx="454.1" cy="331.4" r="1.28" fill="#5a1a0a"/>
<circle cx="429.2" cy="350.4" r="0.90" fill="#6a2a12"/>
<circle cx="434.1" cy="331.6" r="1.02" fill="#6a2a12"/>
<circle cx="412.4" cy="344.7" r="1.23" fill="#4a1408"/>
<circle cx="442.5" cy="350.2" r="1.03" fill="#843418"/>
<circle cx="416.0" cy="327.5" r="1.24" fill="#7a2c14"/>
<circle cx="446.8" cy="316.8" r="1.15" fill="#5a1a0a"/>
<circle cx="392.0" cy="336.5" r="0.85" fill="#7a2c14"/>
<circle cx="391.6" cy="325.6" r="1.30" fill="#4a1408"/>
<circle cx="411.4" cy="347.2" r="1.03" fill="#5a1a0a"/>
<circle cx="458.0" cy="328.8" r="1.14" fill="#7a2c14"/>
<circle cx="428.8" cy="332.0" r="1.23" fill="#843418"/>
<circle cx="390.2" cy="315.4" r="1.25" fill="#6e2410"/>
<circle cx="447.0" cy="314.2" r="1.10" fill="#4a1408"/>
<circle cx="417.0" cy="325.0" r="0.85" fill="#4a1408"/>
<circle cx="436.9" cy="345.0" r="0.97" fill="#5a1a0a"/>
<circle cx="448.7" cy="309.0" r="1.08" fill="#6e2410"/>
<circle cx="388.9" cy="329.7" r="1.11" fill="#843418"/>
<circle cx="452.3" cy="347.4" r="1.19" fill="#6a2a12"/>
<circle cx="455.0" cy="339.2" r="1.03" fill="#7a2c14"/>
<circle cx="434.1" cy="325.6" r="1.02" fill="#5a1a0a"/>
<circle cx="446.6" cy="346.1" r="1.19" fill="#5a1a0a"/>
<circle cx="384.6" cy="312.6" r="1.06" fill="#6e2410"/>
<circle cx="451.9" cy="353.0" r="0.93" fill="#7a2c14"/>
<circle cx="452.9" cy="353.3" r="0.93" fill="#5a1a0a"/>
<circle cx="414.8" cy="331.3" r="1.05" fill="#7a2c14"/>
<circle cx="379.1" cy="327.1" r="0.94" fill="#6e2410"/>
<circle cx="399.4" cy="312.0" r="1.13" fill="#843418"/>
<circle cx="403.2" cy="342.0" r="1.05" fill="#4a1408"/>
<circle cx="452.4" cy="351.3" r="1.01" fill="#7a2c14"/>
<circle cx="443.5" cy="330.6" r="1.29" fill="#4a1408"/>
<circle cx="456.1" cy="349.9" r="1.30" fill="#7a2c14"/>
<circle cx="447.1" cy="347.4" r="0.93" fill="#6e2410"/>
<circle cx="378.7" cy="350.1" r="1.14" fill="#4a1408"/>
<circle cx="421.4" cy="349.3" r="0.90" fill="#5a1a0a"/>
<circle cx="448.7" cy="350.9" r="1.25" fill="#4a1408"/>
<circle cx="414.5" cy="319.6" r="1.05" fill="#843418"/>
<circle cx="401.9" cy="310.0" r="1.09" fill="#843418"/>
<circle cx="398.3" cy="326.2" r="1.07" fill="#843418"/>
<circle cx="387.4" cy="318.9" r="1.22" fill="#7a2c14"/>
<circle cx="400.1" cy="304.5" r="0.85" fill="#7a2c14"/>
<circle cx="382.9" cy="311.6" r="0.87" fill="#7a2c14"/>
<circle cx="438.1" cy="327.7" r="1.17" fill="#6a2a12"/>
<circle cx="426.7" cy="313.6" r="1.01" fill="#6a2a12"/>
<circle cx="408.8" cy="321.6" r="1.26" fill="#4a1408"/>
<circle cx="428.9" cy="346.9" r="0.96" fill="#5a1a0a"/>
<circle cx="438.6" cy="329.7" r="0.89" fill="#843418"/>
<circle cx="408.0" cy="316.1" r="0.98" fill="#6a2a12"/>
<circle cx="453.4" cy="348.7" r="1.17" fill="#6e2410"/>
<circle cx="389.5" cy="313.4" r="0.89" fill="#5a1a0a"/>
<circle cx="425.3" cy="349.9" r="0.97" fill="#843418"/>
<circle cx="425.6" cy="327.5" r="1.02" fill="#5a1a0a"/>
<circle cx="407.9" cy="327.7" r="1.25" fill="#6e2410"/>
<circle cx="459.0" cy="335.0" r="1.00" fill="#6a2a12"/>
<circle cx="427.6" cy="349.9" r="1.03" fill="#7a2c14"/>
<circle cx="430.3" cy="313.8" r="1.02" fill="#6a2a12"/>
<circle cx="381.8" cy="339.1" r="0.91" fill="#4a1408"/>
<circle cx="395.8" cy="353.6" r="0.98" fill="#843418"/>
<circle cx="388.0" cy="319.5" r="1.00" fill="#6e2410"/>
<circle cx="448.7" cy="314.1" r="1.20" fill="#843418"/>
<circle cx="385.5" cy="323.0" r="1.02" fill="#4a1408"/>
</g>
<rect x="452.0" y="351.0" width="7.8" height="1.3" fill="#111"/>
</g>
<clipPath id="cp2"><rect x="463.4" y="303.6" width="81.6" height="50.0"/></clipPath>
<g clip-path="url(#cp2)">
<rect x="463.4" y="303.6" width="81.6" height="50.0" fill="#c8c2c8"/>
<circle cx="541.4" cy="351.0" r="0.6" fill="#9d8ea0" opacity="0.35"/>
<circle cx="492.9" cy="312.1" r="1.0" fill="#a89090" opacity="0.35"/>
<circle cx="483.9" cy="314.2" r="0.6" fill="#b0a0a8" opacity="0.35"/>
<circle cx="476.3" cy="325.1" r="0.8" fill="#b0a0a8" opacity="0.35"/>
<circle cx="533.6" cy="329.1" r="0.8" fill="#a89090" opacity="0.35"/>
<circle cx="504.4" cy="348.7" r="1.0" fill="#a89090" opacity="0.35"/>
<circle cx="501.3" cy="319.5" r="0.8" fill="#b0a0a8" opacity="0.35"/>
<circle cx="476.8" cy="312.5" r="0.7" fill="#9d8ea0" opacity="0.35"/>
<circle cx="489.9" cy="310.4" r="0.9" fill="#b0a0a8" opacity="0.35"/>
<circle cx="518.4" cy="312.7" r="1.0" fill="#a89090" opacity="0.35"/>
<circle cx="523.3" cy="348.9" r="1.0" fill="#b0a0a8" opacity="0.35"/>
<circle cx="492.3" cy="352.6" r="1.1" fill="#9d8ea0" opacity="0.35"/>
<circle cx="541.3" cy="323.6" r="1.0" fill="#b0a0a8" opacity="0.35"/>
<circle cx="506.7" cy="328.1" r="1.1" fill="#b0a0a8" opacity="0.35"/>
<circle cx="505.5" cy="343.4" r="0.9" fill="#a89090" opacity="0.35"/>
<circle cx="536.8" cy="326.7" r="0.9" fill="#b0a0a8" opacity="0.35"/>
<circle cx="522.5" cy="327.9" r="0.7" fill="#a89090" opacity="0.35"/>
<circle cx="529.9" cy="345.4" r="1.0" fill="#b0a0a8" opacity="0.35"/>
<circle cx="485.3" cy="349.2" r="0.8" fill="#b0a0a8" opacity="0.35"/>
<circle cx="531.2" cy="331.7" r="0.9" fill="#b0a0a8" opacity="0.35"/>
<circle cx="511.4" cy="319.2" r="0.7" fill="#b0a0a8" opacity="0.35"/>
<circle cx="493.3" cy="337.8" r="1.0" fill="#a89090" opacity="0.35"/>
<circle cx="522.6" cy="349.0" r="0.7" fill="#b0a0a8" opacity="0.35"/>
<circle cx="472.1" cy="332.3" r="0.6" fill="#b0a0a8" opacity="0.35"/>
<circle cx="481.9" cy="347.4" r="0.7" fill="#b0a0a8" opacity="0.35"/>
<circle cx="474.5" cy="316.9" r="1.0" fill="#9d8ea0" opacity="0.35"/>
<circle cx="497.9" cy="339.4" r="0.6" fill="#a89090" opacity="0.35"/>
<circle cx="492.8" cy="316.1" r="0.6" fill="#9d8ea0" opacity="0.35"/>
<circle cx="541.3" cy="304.9" r="1.0" fill="#9d8ea0" opacity="0.35"/>
<circle cx="493.8" cy="310.0" r="1.1" fill="#b0a0a8" opacity="0.35"/>
<circle cx="478.4" cy="338.2" r="0.8" fill="#9d8ea0" opacity="0.35"/>
<circle cx="528.2" cy="316.0" r="1.1" fill="#9d8ea0" opacity="0.35"/>
<circle cx="491.5" cy="334.4" r="1.0" fill="#9d8ea0" opacity="0.35"/>
<circle cx="486.7" cy="328.0" r="0.8" fill="#b0a0a8" opacity="0.35"/>
<circle cx="525.9" cy="340.6" r="1.1" fill="#a89090" opacity="0.35"/>
<circle cx="533.8" cy="338.9" r="0.8" fill="#9d8ea0" opacity="0.35"/>
<circle cx="471.0" cy="338.0" r="1.0" fill="#9d8ea0" opacity="0.35"/>
<circle cx="499.9" cy="347.3" r="0.7" fill="#b0a0a8" opacity="0.35"/>
<circle cx="527.1" cy="327.9" r="0.8" fill="#a89090" opacity="0.35"/>
<circle cx="484.5" cy="333.9" r="0.8" fill="#9d8ea0" opacity="0.35"/>
<circle cx="520.5" cy="351.5" r="0.9" fill="#a89090" opacity="0.35"/>
<circle cx="466.1" cy="311.7" r="0.6" fill="#b0a0a8" opacity="0.35"/>
<circle cx="482.3" cy="349.4" r="1.0" fill="#9d8ea0" opacity="0.35"/>
<circle cx="544.6" cy="315.2" r="0.8" fill="#a89090" opacity="0.35"/>
<circle cx="470.0" cy="315.0" r="1.0" fill="#b0a0a8" opacity="0.35"/>
<circle cx="521.3" cy="316.4" r="0.8" fill="#b0a0a8" opacity="0.35"/>
<circle cx="524.7" cy="311.2" r="0.8" fill="#9d8ea0" opacity="0.35"/>
<circle cx="472.5" cy="339.8" r="0.7" fill="#9d8ea0" opacity="0.35"/>
<circle cx="465.0" cy="341.1" r="0.7" fill="#9d8ea0" opacity="0.35"/>
<circle cx="505.9" cy="326.8" r="0.8" fill="#b0a0a8" opacity="0.35"/>
<circle cx="494.4" cy="337.8" r="1.0" fill="#9d8ea0" opacity="0.35"/>
<circle cx="522.9" cy="325.3" r="0.9" fill="#b0a0a8" opacity="0.35"/>
<circle cx="511.7" cy="347.7" r="1.1" fill="#b0a0a8" opacity="0.35"/>
<circle cx="478.2" cy="308.3" r="1.0" fill="#a89090" opacity="0.35"/>
<circle cx="465.0" cy="351.6" r="0.7" fill="#a89090" opacity="0.35"/>
<circle cx="487.0" cy="352.8" r="0.8" fill="#9d8ea0" opacity="0.35"/>
<circle cx="534.7" cy="324.2" r="0.7" fill="#9d8ea0" opacity="0.35"/>
<circle cx="532.0" cy="337.2" r="0.6" fill="#a89090" opacity="0.35"/>
<circle cx="468.3" cy="335.5" r="0.8" fill="#b0a0a8" opacity="0.35"/>
<circle cx="513.5" cy="303.9" r="0.6" fill="#a89090" opacity="0.35"/>
<circle cx="539.7" cy="307.4" r="1.0" fill="#9d8ea0" opacity="0.35"/>
<circle cx="472.8" cy="322.3" r="1.0" fill="#9d8ea0" opacity="0.35"/>
<circle cx="524.9" cy="323.4" r="0.7" fill="#9d8ea0" opacity="0.35"/>
<circle cx="473.4" cy="334.4" r="0.8" fill="#a89090" opacity="0.35"/>
<circle cx="541.7" cy="338.2" r="0.6" fill="#b0a0a8" opacity="0.35"/>
<circle cx="501.8" cy="305.8" r="1.0" fill="#a89090" opacity="0.35"/>
<circle cx="492.6" cy="326.5" r="1.0" fill="#a89090" opacity="0.35"/>
<circle cx="502.9" cy="346.9" r="1.0" fill="#b0a0a8" opacity="0.35"/>
<circle cx="529.0" cy="350.2" r="1.0" fill="#a89090" opacity="0.35"/>
<circle cx="495.6" cy="311.4" r="0.9" fill="#b0a0a8" opacity="0.35"/>
<circle cx="498.3" cy="337.6" r="1.1" fill="#b0a0a8" opacity="0.35"/>
<circle cx="522.8" cy="332.4" r="0.6" fill="#9d8ea0" opacity="0.35"/>
<circle cx="544.8" cy="310.9" r="0.8" fill="#9d8ea0" opacity="0.35"/>
<circle cx="528.6" cy="349.2" r="0.9" fill="#b0a0a8" opacity="0.35"/>
<circle cx="466.5" cy="352.3" r="0.8" fill="#b0a0a8" opacity="0.35"/>
<circle cx="518.1" cy="337.7" r="0.8" fill="#b0a0a8" opacity="0.35"/>
<circle cx="486.8" cy="311.4" r="1.1" fill="#a89090" opacity="0.35"/>
<circle cx="471.2" cy="329.4" r="1.0" fill="#a89090" opacity="0.35"/>
<circle cx="477.2" cy="311.5" r="1.1" fill="#9d8ea0" opacity="0.35"/>
<circle cx="496.4" cy="353.4" r="1.0" fill="#b0a0a8" opacity="0.35"/>
<circle cx="522.9" cy="326.9" r="1.0" fill="#b0a0a8" opacity="0.35"/>
<circle cx="494.7" cy="340.4" r="0.8" fill="#9d8ea0" opacity="0.35"/>
<circle cx="502.8" cy="323.8" r="1.0" fill="#a89090" opacity="0.35"/>
<circle cx="521.0" cy="327.2" r="1.1" fill="#a89090" opacity="0.35"/>
<circle cx="521.6" cy="349.2" r="0.6" fill="#b0a0a8" opacity="0.35"/>
<circle cx="481.8" cy="334.7" r="0.8" fill="#b0a0a8" opacity="0.35"/>
<circle cx="494.6" cy="347.6" r="1.1" fill="#a89090" opacity="0.35"/>
<circle cx="501.3" cy="339.2" r="1.0" fill="#b0a0a8" opacity="0.35"/>
<circle cx="477.9" cy="308.3" r="0.8" fill="#9d8ea0" opacity="0.35"/>
<circle cx="522.9" cy="333.9" r="1.1" fill="#9d8ea0" opacity="0.35"/>
<circle cx="495.2" cy="331.5" r="1.0" fill="#a89090" opacity="0.35"/>
<circle cx="524.1" cy="332.9" r="0.7" fill="#b0a0a8" opacity="0.35"/>
<circle cx="474.7" cy="334.2" r="0.8" fill="#a89090" opacity="0.35"/>
<circle cx="505.3" cy="312.3" r="1.0" fill="#9d8ea0" opacity="0.35"/>
<circle cx="492.0" cy="348.9" r="0.9" fill="#b0a0a8" opacity="0.35"/>
<circle cx="517.1" cy="341.3" r="0.8" fill="#b0a0a8" opacity="0.35"/>
<circle cx="538.7" cy="326.6" r="1.0" fill="#a89090" opacity="0.35"/>
<circle cx="465.6" cy="307.6" r="1.0" fill="#9d8ea0" opacity="0.35"/>
<circle cx="525.4" cy="350.5" r="1.1" fill="#a89090" opacity="0.35"/>
<circle cx="518.5" cy="343.0" r="1.0" fill="#9d8ea0" opacity="0.35"/>
<circle cx="467.8" cy="328.6" r="1.1" fill="#b0a0a8" opacity="0.35"/>
<circle cx="487.5" cy="304.1" r="0.9" fill="#9d8ea0" opacity="0.35"/>
<circle cx="493.3" cy="330.5" r="0.8" fill="#a89090" opacity="0.35"/>
<circle cx="480.1" cy="337.4" r="0.8" fill="#9d8ea0" opacity="0.35"/>
<circle cx="502.9" cy="330.5" r="1.1" fill="#9d8ea0" opacity="0.35"/>
<circle cx="484.5" cy="319.3" r="0.8" fill="#a89090" opacity="0.35"/>
<circle cx="516.7" cy="323.2" r="1.0" fill="#9d8ea0" opacity="0.35"/>
<circle cx="504.9" cy="314.1" r="0.9" fill="#9d8ea0" opacity="0.35"/>
<circle cx="528.5" cy="335.0" r="0.8" fill="#9d8ea0" opacity="0.35"/>
<circle cx="540.9" cy="331.7" r="0.9" fill="#9d8ea0" opacity="0.35"/>
<circle cx="541.6" cy="309.2" r="1.0" fill="#a89090" opacity="0.35"/>
<circle cx="533.3" cy="314.3" r="0.8" fill="#a89090" opacity="0.35"/>
<circle cx="500.7" cy="311.9" r="0.8" fill="#a89090" opacity="0.35"/>
<circle cx="501.0" cy="310.3" r="1.0" fill="#b0a0a8" opacity="0.35"/>
<circle cx="481.0" cy="317.3" r="0.7" fill="#9d8ea0" opacity="0.35"/>
<circle cx="501.7" cy="341.2" r="1.0" fill="#9d8ea0" opacity="0.35"/>
<circle cx="492.5" cy="343.4" r="0.7" fill="#b0a0a8" opacity="0.35"/>
<circle cx="515.0" cy="323.6" r="1.0" fill="#a89090" opacity="0.35"/>
<circle cx="486.3" cy="339.6" r="0.9" fill="#b0a0a8" opacity="0.35"/>
<circle cx="519.7" cy="351.0" r="1.0" fill="#b0a0a8" opacity="0.35"/>
<circle cx="534.3" cy="350.4" r="1.0" fill="#b0a0a8" opacity="0.35"/>
<circle cx="487.2" cy="334.7" r="0.9" fill="#a89090" opacity="0.35"/>
<circle cx="488.6" cy="327.8" r="0.7" fill="#a89090" opacity="0.35"/>
<circle cx="499.4" cy="308.0" r="1.1" fill="#a89090" opacity="0.35"/>
<circle cx="541.8" cy="310.0" r="0.6" fill="#a89090" opacity="0.35"/>
<circle cx="477.0" cy="307.5" r="1.0" fill="#b0a0a8" opacity="0.35"/>
<circle cx="525.5" cy="325.4" r="0.9" fill="#9d8ea0" opacity="0.35"/>
<circle cx="530.7" cy="333.3" r="0.9" fill="#a89090" opacity="0.35"/>
<circle cx="515.4" cy="311.1" r="0.8" fill="#a89090" opacity="0.35"/>
<circle cx="471.2" cy="310.7" r="0.7" fill="#a89090" opacity="0.35"/>
<circle cx="474.9" cy="321.6" r="0.6" fill="#9d8ea0" opacity="0.35"/>
<circle cx="483.5" cy="315.6" r="0.9" fill="#a89090" opacity="0.35"/>
<circle cx="540.1" cy="336.0" r="0.9" fill="#9d8ea0" opacity="0.35"/>
<circle cx="477.9" cy="306.8" r="0.8" fill="#a89090" opacity="0.35"/>
<circle cx="474.2" cy="329.7" r="1.0" fill="#a89090" opacity="0.35"/>
<circle cx="516.3" cy="339.1" r="1.1" fill="#9d8ea0" opacity="0.35"/>
<circle cx="544.8" cy="323.2" r="0.8" fill="#b0a0a8" opacity="0.35"/>
<circle cx="534.5" cy="330.8" r="0.9" fill="#9d8ea0" opacity="0.35"/>
<circle cx="511.4" cy="330.5" r="1.1" fill="#a89090" opacity="0.35"/>
<circle cx="532.0" cy="326.3" r="0.8" fill="#b0a0a8" opacity="0.35"/>
<circle cx="500.3" cy="347.5" r="0.8" fill="#b0a0a8" opacity="0.35"/>
<circle cx="473.9" cy="350.5" r="0.9" fill="#9d8ea0" opacity="0.35"/>
<circle cx="469.7" cy="318.9" r="1.0" fill="#9d8ea0" opacity="0.35"/>
<circle cx="484.0" cy="337.0" r="0.7" fill="#9d8ea0" opacity="0.35"/>
<circle cx="475.4" cy="337.1" r="0.6" fill="#b0a0a8" opacity="0.35"/>
<circle cx="501.4" cy="346.5" r="0.8" fill="#9d8ea0" opacity="0.35"/>
<circle cx="502.7" cy="331.5" r="0.7" fill="#b0a0a8" opacity="0.35"/>
<circle cx="507.6" cy="306.0" r="0.9" fill="#9d8ea0" opacity="0.35"/>
<circle cx="530.5" cy="329.7" r="0.9" fill="#9d8ea0" opacity="0.35"/>
<circle cx="474.8" cy="328.2" r="0.7" fill="#9d8ea0" opacity="0.35"/>
<circle cx="483.5" cy="326.9" r="1.0" fill="#b0a0a8" opacity="0.35"/>
<circle cx="481.0" cy="322.6" r="0.9" fill="#a89090" opacity="0.35"/>
<circle cx="537.2" cy="339.5" r="0.9" fill="#b0a0a8" opacity="0.35"/>
<circle cx="476.7" cy="308.9" r="1.0" fill="#b0a0a8" opacity="0.35"/>
<circle cx="541.5" cy="312.3" r="0.7" fill="#a89090" opacity="0.35"/>
<circle cx="498.6" cy="325.0" r="0.8" fill="#a89090" opacity="0.35"/>
<circle cx="529.6" cy="331.7" r="0.8" fill="#a89090" opacity="0.35"/>
<circle cx="506.4" cy="328.0" r="0.7" fill="#a89090" opacity="0.35"/>
<circle cx="520.8" cy="338.6" r="0.9" fill="#9d8ea0" opacity="0.35"/>
<circle cx="512.5" cy="341.2" r="0.7" fill="#a89090" opacity="0.35"/>
<circle cx="510.7" cy="335.9" r="0.9" fill="#b0a0a8" opacity="0.35"/>
<circle cx="484.8" cy="339.7" r="0.9" fill="#b0a0a8" opacity="0.35"/>
<circle cx="526.4" cy="344.8" r="1.0" fill="#b0a0a8" opacity="0.35"/>
<circle cx="488.9" cy="338.1" r="1.1" fill="#9d8ea0" opacity="0.35"/>
<circle cx="515.3" cy="330.8" r="0.7" fill="#9d8ea0" opacity="0.35"/>
<circle cx="543.2" cy="348.6" r="0.8" fill="#a89090" opacity="0.35"/>
<circle cx="542.0" cy="311.5" r="0.8" fill="#a89090" opacity="0.35"/>
<circle cx="532.7" cy="329.5" r="0.6" fill="#a89090" opacity="0.35"/>
<circle cx="517.9" cy="305.3" r="0.7" fill="#9d8ea0" opacity="0.35"/>
<circle cx="515.3" cy="340.3" r="1.1" fill="#9d8ea0" opacity="0.35"/>
<circle cx="480.9" cy="320.3" r="0.9" fill="#a89090" opacity="0.35"/>
<circle cx="511.8" cy="341.0" r="1.0" fill="#a89090" opacity="0.35"/>
<circle cx="526.4" cy="338.3" r="1.0" fill="#a89090" opacity="0.35"/>
<circle cx="534.5" cy="352.1" r="0.8" fill="#b0a0a8" opacity="0.35"/>
<circle cx="484.2" cy="313.1" r="0.8" fill="#9d8ea0" opacity="0.35"/>
<circle cx="525.0" cy="346.1" r="0.8" fill="#9d8ea0" opacity="0.35"/>
<circle cx="477.3" cy="333.9" r="1.0" fill="#9d8ea0" opacity="0.35"/>
<circle cx="526.1" cy="336.3" r="0.9" fill="#9d8ea0" opacity="0.35"/>
<circle cx="519.1" cy="319.0" r="0.7" fill="#a89090" opacity="0.35"/>
<circle cx="471.4" cy="343.0" r="0.6" fill="#a89090" opacity="0.35"/>
<circle cx="468.2" cy="330.3" r="1.0" fill="#b0a0a8" opacity="0.35"/>
<circle cx="491.4" cy="325.6" r="0.8" fill="#b0a0a8" opacity="0.35"/>
<circle cx="464.9" cy="332.6" r="0.7" fill="#9d8ea0" opacity="0.35"/>
<circle cx="476.6" cy="342.2" r="1.0" fill="#b0a0a8" opacity="0.35"/>
<circle cx="511.4" cy="349.3" r="0.9" fill="#a89090" opacity="0.35"/>
<circle cx="502.5" cy="343.0" r="0.7" fill="#b0a0a8" opacity="0.35"/>
<circle cx="487.8" cy="351.8" r="1.1" fill="#9d8ea0" opacity="0.35"/>
<circle cx="513.9" cy="349.7" r="0.8" fill="#b0a0a8" opacity="0.35"/>
<circle cx="520.7" cy="329.8" r="0.7" fill="#9d8ea0" opacity="0.35"/>
<circle cx="509.2" cy="316.7" r="0.7" fill="#b0a0a8" opacity="0.35"/>
<circle cx="523.1" cy="344.8" r="0.7" fill="#a89090" opacity="0.35"/>
<circle cx="495.4" cy="327.3" r="0.8" fill="#9d8ea0" opacity="0.35"/>
<circle cx="483.0" cy="306.3" r="0.9" fill="#9d8ea0" opacity="0.35"/>
<circle cx="512.6" cy="330.8" r="0.6" fill="#a89090" opacity="0.35"/>
<circle cx="521.1" cy="323.7" r="0.9" fill="#9d8ea0" opacity="0.35"/>
<circle cx="493.1" cy="321.7" r="1.1" fill="#a89090" opacity="0.35"/>
<circle cx="510.8" cy="338.8" r="1.0" fill="#9d8ea0" opacity="0.35"/>
<circle cx="486.2" cy="305.1" r="0.6" fill="#b0a0a8" opacity="0.35"/>
<circle cx="475.0" cy="319.7" r="0.9" fill="#b0a0a8" opacity="0.35"/>
<circle cx="475.2" cy="318.4" r="1.0" fill="#b0a0a8" opacity="0.35"/>
<circle cx="508.9" cy="307.9" r="0.9" fill="#a89090" opacity="0.35"/>
<circle cx="521.1" cy="305.3" r="0.9" fill="#a89090" opacity="0.35"/>
<circle cx="502.0" cy="350.8" r="0.8" fill="#a89090" opacity="0.35"/>
<circle cx="519.4" cy="308.5" r="0.8" fill="#b0a0a8" opacity="0.35"/>
<circle cx="527.4" cy="321.8" r="1.1" fill="#b0a0a8" opacity="0.35"/>
<circle cx="485.9" cy="327.5" r="0.7" fill="#b0a0a8" opacity="0.35"/>
<circle cx="542.3" cy="304.9" r="0.8" fill="#b0a0a8" opacity="0.35"/>
<circle cx="464.1" cy="337.2" r="1.1" fill="#b0a0a8" opacity="0.35"/>
<circle cx="467.5" cy="336.7" r="0.9" fill="#b0a0a8" opacity="0.35"/>
<circle cx="513.1" cy="325.4" r="0.8" fill="#9d8ea0" opacity="0.35"/>
<circle cx="476.7" cy="305.8" r="0.9" fill="#b0a0a8" opacity="0.35"/>
<circle cx="530.9" cy="337.3" r="0.7" fill="#9d8ea0" opacity="0.35"/>
<circle cx="542.4" cy="331.9" r="1.1" fill="#9d8ea0" opacity="0.35"/>
<circle cx="496.3" cy="349.1" r="0.7" fill="#b0a0a8" opacity="0.35"/>
<circle cx="537.9" cy="315.7" r="0.9" fill="#9d8ea0" opacity="0.35"/>
<circle cx="463.9" cy="323.9" r="0.9" fill="#a89090" opacity="0.35"/>
<circle cx="510.9" cy="314.7" r="0.9" fill="#b0a0a8" opacity="0.35"/>
<circle cx="538.6" cy="325.0" r="1.0" fill="#9d8ea0" opacity="0.35"/>
<circle cx="498.2" cy="326.6" r="0.8" fill="#b0a0a8" opacity="0.35"/>
<circle cx="478.3" cy="344.5" r="1.1" fill="#b0a0a8" opacity="0.35"/>
<circle cx="541.0" cy="343.6" r="0.9" fill="#9d8ea0" opacity="0.35"/>
<circle cx="503.8" cy="353.1" r="1.0" fill="#9d8ea0" opacity="0.35"/>
<circle cx="465.3" cy="338.9" r="1.1" fill="#b0a0a8" opacity="0.35"/>
<circle cx="497.0" cy="335.1" r="1.1" fill="#a89090" opacity="0.35"/>
<circle cx="501.3" cy="324.7" r="0.7" fill="#9d8ea0" opacity="0.35"/>
<circle cx="492.2" cy="335.2" r="0.6" fill="#a89090" opacity="0.35"/>
<circle cx="514.1" cy="305.0" r="0.8" fill="#9d8ea0" opacity="0.35"/>
<circle cx="542.8" cy="331.0" r="0.9" fill="#b0a0a8" opacity="0.35"/>
<circle cx="485.5" cy="326.9" r="0.8" fill="#b0a0a8" opacity="0.35"/>
<circle cx="532.5" cy="326.7" r="0.9" fill="#b0a0a8" opacity="0.35"/>
<circle cx="532.6" cy="311.6" r="0.7" fill="#a89090" opacity="0.35"/>
<circle cx="497.7" cy="328.9" r="1.0" fill="#b0a0a8" opacity="0.35"/>
<circle cx="542.6" cy="336.6" r="0.8" fill="#a89090" opacity="0.35"/>
<circle cx="512.2" cy="334.8" r="0.8" fill="#b0a0a8" opacity="0.35"/>
<circle cx="542.3" cy="323.1" r="0.9" fill="#b0a0a8" opacity="0.35"/>
<circle cx="520.2" cy="321.7" r="1.0" fill="#a89090" opacity="0.35"/>
<circle cx="476.9" cy="315.3" r="1.0" fill="#9d8ea0" opacity="0.35"/>
<circle cx="496.7" cy="328.5" r="1.1" fill="#9d8ea0" opacity="0.35"/>
<circle cx="496.6" cy="349.2" r="0.9" fill="#a89090" opacity="0.35"/>
<circle cx="487.8" cy="339.3" r="1.1" fill="#a89090" opacity="0.35"/>
<circle cx="518.1" cy="337.0" r="0.8" fill="#9d8ea0" opacity="0.35"/>
<circle cx="480.2" cy="308.7" r="0.6" fill="#a89090" opacity="0.35"/>
<circle cx="489.7" cy="319.4" r="0.8" fill="#b0a0a8" opacity="0.35"/>
<circle cx="531.4" cy="319.9" r="0.6" fill="#b0a0a8" opacity="0.35"/>
<circle cx="502.6" cy="334.6" r="0.7" fill="#9d8ea0" opacity="0.35"/>
<circle cx="512.6" cy="320.8" r="0.8" fill="#9d8ea0" opacity="0.35"/>
<circle cx="521.7" cy="306.2" r="0.8" fill="#a89090" opacity="0.35"/>
<circle cx="516.6" cy="334.3" r="0.6" fill="#a89090" opacity="0.35"/>
<circle cx="515.5" cy="332.4" r="0.7" fill="#b0a0a8" opacity="0.35"/>
<circle cx="490.1" cy="320.3" r="1.0" fill="#a89090" opacity="0.35"/>
<circle cx="509.8" cy="339.9" r="0.8" fill="#a89090" opacity="0.35"/>
<circle cx="470.4" cy="314.3" r="0.8" fill="#a89090" opacity="0.35"/>
<circle cx="532.4" cy="352.7" r="0.7" fill="#9d8ea0" opacity="0.35"/>
<circle cx="507.4" cy="336.0" r="0.9" fill="#9d8ea0" opacity="0.35"/>
<circle cx="511.2" cy="315.5" r="1.0" fill="#b0a0a8" opacity="0.35"/>
<circle cx="480.0" cy="346.8" r="0.6" fill="#a89090" opacity="0.35"/>
<circle cx="523.8" cy="336.1" r="0.9" fill="#b0a0a8" opacity="0.35"/>
<circle cx="520.5" cy="349.8" r="1.0" fill="#b0a0a8" opacity="0.35"/>
<circle cx="463.9" cy="340.3" r="1.1" fill="#b0a0a8" opacity="0.35"/>
<circle cx="481.1" cy="334.7" r="0.8" fill="#b0a0a8" opacity="0.35"/>
<circle cx="479.5" cy="312.8" r="0.8" fill="#9d8ea0" opacity="0.35"/>
<circle cx="464.2" cy="347.5" r="0.8" fill="#b0a0a8" opacity="0.35"/>
<circle cx="493.2" cy="322.6" r="0.6" fill="#a89090" opacity="0.35"/>
<circle cx="477.7" cy="343.8" r="1.0" fill="#a89090" opacity="0.35"/>
<circle cx="537.7" cy="335.6" r="0.7" fill="#a89090" opacity="0.35"/>
<circle cx="507.3" cy="349.2" r="1.0" fill="#b0a0a8" opacity="0.35"/>
<circle cx="528.6" cy="317.9" r="0.6" fill="#b0a0a8" opacity="0.35"/>
<circle cx="480.4" cy="324.4" r="0.7" fill="#b0a0a8" opacity="0.35"/>
<circle cx="488.5" cy="349.9" r="1.0" fill="#b0a0a8" opacity="0.35"/>
<circle cx="491.0" cy="342.8" r="0.7" fill="#9d8ea0" opacity="0.35"/>
<circle cx="533.0" cy="321.1" r="0.8" fill="#b0a0a8" opacity="0.35"/>
<circle cx="516.0" cy="346.1" r="0.7" fill="#9d8ea0" opacity="0.35"/>
<circle cx="465.8" cy="309.5" r="0.7" fill="#9d8ea0" opacity="0.35"/>
<circle cx="504.6" cy="349.7" r="1.1" fill="#b0a0a8" opacity="0.35"/>
<circle cx="513.5" cy="321.2" r="1.1" fill="#b0a0a8" opacity="0.35"/>
<circle cx="524.0" cy="319.1" r="1.0" fill="#9d8ea0" opacity="0.35"/>
<circle cx="491.2" cy="311.1" r="0.6" fill="#b0a0a8" opacity="0.35"/>
<circle cx="524.9" cy="310.4" r="1.0" fill="#a89090" opacity="0.35"/>
<circle cx="518.6" cy="327.6" r="0.7" fill="#9d8ea0" opacity="0.35"/>
<circle cx="536.1" cy="311.1" r="1.0" fill="#9d8ea0" opacity="0.35"/>
<circle cx="530.4" cy="348.5" r="0.8" fill="#b0a0a8" opacity="0.35"/>
<circle cx="476.1" cy="318.6" r="0.9" fill="#b0a0a8" opacity="0.35"/>
<circle cx="473.9" cy="353.2" r="0.7" fill="#b0a0a8" opacity="0.35"/>
<circle cx="527.0" cy="315.1" r="0.8" fill="#9d8ea0" opacity="0.35"/>
<circle cx="534.8" cy="337.0" r="0.7" fill="#b0a0a8" opacity="0.35"/>
<circle cx="517.0" cy="345.3" r="0.8" fill="#a89090" opacity="0.35"/>
<circle cx="516.7" cy="320.8" r="0.7" fill="#9d8ea0" opacity="0.35"/>
<circle cx="517.0" cy="305.7" r="0.9" fill="#a89090" opacity="0.35"/>
<circle cx="475.2" cy="341.9" r="1.0" fill="#b0a0a8" opacity="0.35"/>
<circle cx="485.3" cy="330.6" r="1.1" fill="#9d8ea0" opacity="0.35"/>
<circle cx="505.4" cy="332.1" r="0.9" fill="#9d8ea0" opacity="0.35"/>
<circle cx="517.4" cy="334.7" r="1.0" fill="#b0a0a8" opacity="0.35"/>
<circle cx="540.6" cy="310.1" r="0.7" fill="#b0a0a8" opacity="0.35"/>
<circle cx="500.6" cy="323.9" r="0.7" fill="#9d8ea0" opacity="0.35"/>
<circle cx="467.3" cy="308.9" r="0.6" fill="#9d8ea0" opacity="0.35"/>
<circle cx="524.3" cy="316.6" r="0.9" fill="#a89090" opacity="0.35"/>
<circle cx="497.9" cy="305.8" r="0.7" fill="#9d8ea0" opacity="0.35"/>
<circle cx="539.5" cy="345.1" r="0.7" fill="#9d8ea0" opacity="0.35"/>
<circle cx="544.4" cy="335.8" r="1.0" fill="#a89090" opacity="0.35"/>
<circle cx="464.0" cy="324.7" r="0.9" fill="#9d8ea0" opacity="0.35"/>
<circle cx="478.9" cy="303.7" r="1.0" fill="#a89090" opacity="0.35"/>
<circle cx="530.2" cy="346.0" r="0.7" fill="#a89090" opacity="0.35"/>
<circle cx="529.5" cy="332.1" r="1.1" fill="#a89090" opacity="0.35"/>
<circle cx="488.6" cy="324.4" r="0.8" fill="#a89090" opacity="0.35"/>
<circle cx="525.9" cy="352.9" r="0.7" fill="#a89090" opacity="0.35"/>
<circle cx="487.4" cy="332.4" r="0.9" fill="#b0a0a8" opacity="0.35"/>
<circle cx="519.6" cy="330.6" r="0.9" fill="#a89090" opacity="0.35"/>
<circle cx="539.1" cy="347.9" r="0.8" fill="#9d8ea0" opacity="0.35"/>
<circle cx="536.2" cy="346.0" r="0.9" fill="#b0a0a8" opacity="0.35"/>
<circle cx="515.5" cy="311.5" r="0.7" fill="#9d8ea0" opacity="0.35"/>
<circle cx="523.3" cy="352.8" r="0.8" fill="#b0a0a8" opacity="0.35"/>
<circle cx="535.9" cy="329.0" r="1.0" fill="#9d8ea0" opacity="0.35"/>
<circle cx="534.0" cy="319.0" r="0.8" fill="#b0a0a8" opacity="0.35"/>
<circle cx="470.9" cy="322.3" r="0.7" fill="#b0a0a8" opacity="0.35"/>
<circle cx="466.9" cy="331.7" r="1.0" fill="#b0a0a8" opacity="0.35"/>
<circle cx="525.8" cy="315.2" r="0.7" fill="#a89090" opacity="0.35"/>
<circle cx="528.0" cy="348.4" r="1.1" fill="#b0a0a8" opacity="0.35"/>
<circle cx="543.6" cy="315.0" r="1.0" fill="#b0a0a8" opacity="0.35"/>
<circle cx="486.1" cy="316.7" r="0.6" fill="#b0a0a8" opacity="0.35"/>
<circle cx="541.7" cy="329.2" r="1.0" fill="#9d8ea0" opacity="0.35"/>
<circle cx="527.3" cy="313.3" r="0.8" fill="#a89090" opacity="0.35"/>
<circle cx="523.2" cy="348.9" r="0.6" fill="#a89090" opacity="0.35"/>
<circle cx="478.4" cy="306.0" r="0.8" fill="#b0a0a8" opacity="0.35"/>
<circle cx="499.7" cy="337.4" r="1.0" fill="#9d8ea0" opacity="0.35"/>
<circle cx="522.1" cy="304.2" r="0.9" fill="#9d8ea0" opacity="0.35"/>
<circle cx="494.7" cy="337.7" r="0.7" fill="#b0a0a8" opacity="0.35"/>
<circle cx="545.0" cy="307.3" r="1.1" fill="#9d8ea0" opacity="0.35"/>
<circle cx="497.6" cy="345.2" r="1.1" fill="#b0a0a8" opacity="0.35"/>
<circle cx="475.9" cy="305.1" r="0.7" fill="#b0a0a8" opacity="0.35"/>
<circle cx="516.6" cy="341.5" r="0.8" fill="#b0a0a8" opacity="0.35"/>
<circle cx="537.4" cy="334.2" r="0.9" fill="#9d8ea0" opacity="0.35"/>
<circle cx="531.9" cy="307.4" r="0.6" fill="#b0a0a8" opacity="0.35"/>
<circle cx="532.5" cy="342.1" r="1.0" fill="#9d8ea0" opacity="0.35"/>
<circle cx="476.0" cy="318.4" r="0.7" fill="#b0a0a8" opacity="0.35"/>
<circle cx="511.2" cy="350.1" r="1.0" fill="#9d8ea0" opacity="0.35"/>
<circle cx="495.0" cy="348.8" r="0.9" fill="#9d8ea0" opacity="0.35"/>
<circle cx="497.0" cy="315.4" r="1.0" fill="#b0a0a8" opacity="0.35"/>
<circle cx="521.9" cy="330.8" r="0.6" fill="#a89090" opacity="0.35"/>
<circle cx="471.7" cy="332.9" r="0.6" fill="#b0a0a8" opacity="0.35"/>
<circle cx="482.7" cy="344.8" r="0.9" fill="#9d8ea0" opacity="0.35"/>
<circle cx="477.3" cy="309.8" r="0.7" fill="#9d8ea0" opacity="0.35"/>
<circle cx="486.4" cy="338.2" r="1.0" fill="#9d8ea0" opacity="0.35"/>
<circle cx="515.1" cy="332.1" r="1.1" fill="#9d8ea0" opacity="0.35"/>
<circle cx="492.8" cy="338.2" r="0.7" fill="#a89090" opacity="0.35"/>
<circle cx="486.6" cy="307.8" r="1.0" fill="#b0a0a8" opacity="0.35"/>
<circle cx="488.4" cy="322.2" r="0.9" fill="#a89090" opacity="0.35"/>
<circle cx="545.0" cy="305.7" r="0.8" fill="#9d8ea0" opacity="0.35"/>
<circle cx="544.6" cy="328.6" r="0.7" fill="#b0a0a8" opacity="0.35"/>
<circle cx="492.3" cy="351.8" r="0.9" fill="#b0a0a8" opacity="0.35"/>
<circle cx="498.1" cy="335.8" r="0.6" fill="#b0a0a8" opacity="0.35"/>
<circle cx="478.6" cy="333.8" r="1.1" fill="#b0a0a8" opacity="0.35"/>
<circle cx="474.2" cy="326.7" r="0.9" fill="#a89090" opacity="0.35"/>
<circle cx="465.8" cy="322.4" r="0.8" fill="#b0a0a8" opacity="0.35"/>
<circle cx="516.6" cy="325.2" r="0.7" fill="#a89090" opacity="0.35"/>
<circle cx="491.2" cy="325.5" r="0.7" fill="#a89090" opacity="0.35"/>
<circle cx="501.8" cy="319.9" r="0.6" fill="#9d8ea0" opacity="0.35"/>
<circle cx="464.0" cy="314.0" r="0.6" fill="#a89090" opacity="0.35"/>
<circle cx="539.8" cy="341.6" r="0.7" fill="#9d8ea0" opacity="0.35"/>
<circle cx="466.0" cy="309.2" r="0.7" fill="#b0a0a8" opacity="0.35"/>
<circle cx="539.9" cy="324.8" r="0.9" fill="#9d8ea0" opacity="0.35"/>
<circle cx="524.8" cy="340.8" r="0.7" fill="#9d8ea0" opacity="0.35"/>
<circle cx="531.0" cy="307.6" r="1.0" fill="#b0a0a8" opacity="0.35"/>
<circle cx="538.3" cy="349.1" r="0.7" fill="#9d8ea0" opacity="0.35"/>
<circle cx="526.2" cy="318.7" r="1.0" fill="#9d8ea0" opacity="0.35"/>
<circle cx="477.8" cy="352.0" r="1.1" fill="#b0a0a8" opacity="0.35"/>
<circle cx="471.9" cy="336.2" r="1.1" fill="#a89090" opacity="0.35"/>
<circle cx="464.8" cy="348.3" r="0.6" fill="#9d8ea0" opacity="0.35"/>
<circle cx="530.1" cy="320.2" r="0.6" fill="#b0a0a8" opacity="0.35"/>
<circle cx="486.2" cy="341.5" r="1.0" fill="#9d8ea0" opacity="0.35"/>
<circle cx="541.8" cy="307.8" r="1.1" fill="#a89090" opacity="0.35"/>
<circle cx="532.9" cy="353.2" r="0.7" fill="#b0a0a8" opacity="0.35"/>
<circle cx="475.3" cy="319.8" r="0.7" fill="#9d8ea0" opacity="0.35"/>
<circle cx="479.5" cy="328.1" r="0.7" fill="#a89090" opacity="0.35"/>
<circle cx="516.9" cy="319.6" r="1.0" fill="#a89090" opacity="0.35"/>
<circle cx="466.8" cy="326.6" r="1.1" fill="#b0a0a8" opacity="0.35"/>
<circle cx="519.9" cy="315.6" r="0.9" fill="#b0a0a8" opacity="0.35"/>
<circle cx="515.9" cy="346.8" r="0.6" fill="#b0a0a8" opacity="0.35"/>
<circle cx="529.6" cy="352.0" r="0.7" fill="#a89090" opacity="0.35"/>
<circle cx="486.9" cy="341.1" r="1.0" fill="#9d8ea0" opacity="0.35"/>
<circle cx="525.0" cy="347.6" r="1.0" fill="#9d8ea0" opacity="0.35"/>
<circle cx="535.3" cy="315.8" r="0.7" fill="#9d8ea0" opacity="0.35"/>
<circle cx="486.0" cy="338.6" r="0.8" fill="#a89090" opacity="0.35"/>
<circle cx="510.9" cy="305.2" r="0.9" fill="#b0a0a8" opacity="0.35"/>
<circle cx="515.7" cy="306.6" r="0.7" fill="#b0a0a8" opacity="0.35"/>
<circle cx="484.1" cy="341.8" r="0.7" fill="#a89090" opacity="0.35"/>
<circle cx="544.9" cy="337.3" r="1.0" fill="#b0a0a8" opacity="0.35"/>
<circle cx="513.2" cy="311.8" r="0.8" fill="#9d8ea0" opacity="0.35"/>
<circle cx="463.7" cy="314.0" r="0.7" fill="#9d8ea0" opacity="0.35"/>
<circle cx="540.0" cy="314.4" r="0.8" fill="#b0a0a8" opacity="0.35"/>
<circle cx="524.6" cy="326.2" r="1.0" fill="#9d8ea0" opacity="0.35"/>
<circle cx="466.5" cy="324.0" r="0.9" fill="#b0a0a8" opacity="0.35"/>
<circle cx="540.5" cy="314.4" r="0.8" fill="#a89090" opacity="0.35"/>
<circle cx="501.0" cy="345.1" r="0.7" fill="#9d8ea0" opacity="0.35"/>
<circle cx="487.8" cy="350.8" r="1.0" fill="#9d8ea0" opacity="0.35"/>
<circle cx="505.5" cy="305.0" r="1.0" fill="#9d8ea0" opacity="0.35"/>
<circle cx="513.3" cy="334.0" r="0.9" fill="#a89090" opacity="0.35"/>
<circle cx="489.8" cy="333.6" r="0.9" fill="#9d8ea0" opacity="0.35"/>
<circle cx="468.9" cy="316.1" r="0.9" fill="#a89090" opacity="0.35"/>
<circle cx="520.8" cy="306.3" r="1.0" fill="#9d8ea0" opacity="0.35"/>
<circle cx="534.8" cy="306.1" r="0.8" fill="#9d8ea0" opacity="0.35"/>
<circle cx="526.5" cy="327.9" r="0.9" fill="#b0a0a8" opacity="0.35"/>
<circle cx="467.3" cy="336.0" r="0.6" fill="#9d8ea0" opacity="0.35"/>
<circle cx="506.7" cy="315.9" r="0.7" fill="#a89090" opacity="0.35"/>
<circle cx="491.3" cy="339.7" r="0.9" fill="#a89090" opacity="0.35"/>
<circle cx="522.8" cy="314.2" r="0.9" fill="#b0a0a8" opacity="0.35"/>
<circle cx="532.6" cy="341.1" r="1.0" fill="#9d8ea0" opacity="0.35"/>
<circle cx="496.7" cy="324.9" r="0.9" fill="#b0a0a8" opacity="0.35"/>
<circle cx="486.3" cy="341.5" r="1.1" fill="#a89090" opacity="0.35"/>
<circle cx="465.7" cy="353.2" r="0.9" fill="#a89090" opacity="0.35"/>
<circle cx="481.0" cy="351.0" r="0.6" fill="#b0a0a8" opacity="0.35"/>
<circle cx="492.3" cy="349.6" r="0.8" fill="#9d8ea0" opacity="0.35"/>
<circle cx="491.4" cy="339.8" r="0.7" fill="#b0a0a8" opacity="0.35"/>
<circle cx="530.5" cy="316.4" r="0.8" fill="#b0a0a8" opacity="0.35"/>
<circle cx="533.6" cy="330.4" r="0.7" fill="#a89090" opacity="0.35"/>
<circle cx="505.7" cy="333.0" r="0.9" fill="#a89090" opacity="0.35"/>
<circle cx="529.7" cy="307.8" r="0.6" fill="#b0a0a8" opacity="0.35"/>
<circle cx="475.6" cy="319.6" r="0.8" fill="#b0a0a8" opacity="0.35"/>
<circle cx="510.7" cy="340.8" r="0.8" fill="#b0a0a8" opacity="0.35"/>
<circle cx="532.4" cy="317.0" r="1.1" fill="#a89090" opacity="0.35"/>
<circle cx="465.0" cy="328.5" r="0.9" fill="#b0a0a8" opacity="0.35"/>
<circle cx="497.8" cy="341.0" r="0.9" fill="#9d8ea0" opacity="0.35"/>
<circle cx="464.1" cy="345.3" r="0.7" fill="#9d8ea0" opacity="0.35"/>
<circle cx="487.2" cy="351.9" r="0.6" fill="#a89090" opacity="0.35"/>
<circle cx="526.9" cy="323.5" r="0.7" fill="#b0a0a8" opacity="0.35"/>
<circle cx="498.6" cy="328.9" r="0.9" fill="#a89090" opacity="0.35"/>
<circle cx="485.5" cy="316.8" r="1.0" fill="#9d8ea0" opacity="0.35"/>
<circle cx="479.6" cy="313.6" r="0.8" fill="#a89090" opacity="0.35"/>
<circle cx="509.9" cy="341.5" r="0.9" fill="#a89090" opacity="0.35"/>
<circle cx="511.3" cy="304.7" r="0.7" fill="#a89090" opacity="0.35"/>
<circle cx="517.1" cy="322.6" r="0.7" fill="#9d8ea0" opacity="0.35"/>
<circle cx="543.6" cy="351.8" r="0.9" fill="#a89090" opacity="0.35"/>
<circle cx="531.0" cy="320.6" r="0.7" fill="#9d8ea0" opacity="0.35"/>
<circle cx="519.6" cy="335.6" r="0.8" fill="#a89090" opacity="0.35"/>
<circle cx="521.0" cy="344.3" r="1.1" fill="#a89090" opacity="0.35"/>
<circle cx="501.0" cy="335.1" r="1.0" fill="#b0a0a8" opacity="0.35"/>
<circle cx="485.7" cy="337.8" r="1.0" fill="#a89090" opacity="0.35"/>
<circle cx="465.7" cy="330.1" r="1.1" fill="#a89090" opacity="0.35"/>
<circle cx="481.2" cy="349.6" r="0.9" fill="#9d8ea0" opacity="0.35"/>
<circle cx="470.2" cy="345.5" r="1.1" fill="#9d8ea0" opacity="0.35"/>
<circle cx="491.3" cy="343.9" r="0.7" fill="#9d8ea0" opacity="0.35"/>
<circle cx="525.4" cy="335.0" r="0.7" fill="#a89090" opacity="0.35"/>
<circle cx="506.6" cy="320.5" r="1.0" fill="#9d8ea0" opacity="0.35"/>
<circle cx="482.1" cy="318.7" r="0.8" fill="#a89090" opacity="0.35"/>
<circle cx="500.4" cy="338.3" r="0.9" fill="#a89090" opacity="0.35"/>
<circle cx="540.2" cy="326.4" r="0.6" fill="#a89090" opacity="0.35"/>
<circle cx="527.3" cy="323.5" r="1.1" fill="#9d8ea0" opacity="0.35"/>
<circle cx="512.1" cy="329.6" r="0.7" fill="#9d8ea0" opacity="0.35"/>
<circle cx="536.7" cy="321.9" r="0.8" fill="#b0a0a8" opacity="0.35"/>
<circle cx="517.7" cy="311.6" r="0.8" fill="#b0a0a8" opacity="0.35"/>
<circle cx="531.4" cy="348.6" r="0.9" fill="#9d8ea0" opacity="0.35"/>
<circle cx="511.0" cy="325.2" r="0.9" fill="#a89090" opacity="0.35"/>
<circle cx="518.6" cy="342.4" r="0.8" fill="#b0a0a8" opacity="0.35"/>
<circle cx="543.1" cy="335.5" r="0.6" fill="#b0a0a8" opacity="0.35"/>
<g filter="url(#b04)">
<circle cx="507.0" cy="340.0" r="1.06" fill="#a05030"/>
<circle cx="507.8" cy="353.3" r="0.73" fill="#b06848"/>
<circle cx="495.7" cy="333.5" r="1.00" fill="#4e1c0c"/>
<circle cx="501.4" cy="344.1" r="0.71" fill="#4e1c0c"/>
<circle cx="536.8" cy="315.9" r="0.75" fill="#7e3416"/>
<circle cx="469.8" cy="306.2" r="0.81" fill="#6e2a12"/>
<circle cx="530.0" cy="335.2" r="0.79" fill="#7e3416"/>
<circle cx="492.6" cy="317.6" r="0.77" fill="#4e1c0c"/>
<circle cx="486.0" cy="333.1" r="0.74" fill="#5e2410"/>
<circle cx="490.2" cy="315.8" r="1.03" fill="#7e3416"/>
<circle cx="504.2" cy="335.0" r="1.10" fill="#8e4020"/>
<circle cx="542.0" cy="308.8" r="0.76" fill="#5e2410"/>
<circle cx="496.4" cy="322.2" r="0.98" fill="#a05030"/>
<circle cx="543.2" cy="352.2" r="0.74" fill="#a05030"/>
<circle cx="520.3" cy="343.0" r="0.97" fill="#7e3416"/>
<circle cx="495.5" cy="345.4" r="0.94" fill="#5e2410"/>
<circle cx="517.4" cy="339.8" r="0.92" fill="#5e2410"/>
<circle cx="497.8" cy="340.6" r="1.07" fill="#5e2410"/>
<circle cx="497.6" cy="323.7" r="1.03" fill="#7e3416"/>
<circle cx="474.0" cy="303.8" r="0.86" fill="#5e2410"/>
<circle cx="526.3" cy="318.6" r="0.76" fill="#6e2a12"/>
<circle cx="480.9" cy="313.4" r="0.84" fill="#4e1c0c"/>
<circle cx="466.8" cy="340.1" r="1.00" fill="#5e2410"/>
<circle cx="543.6" cy="329.8" r="0.81" fill="#7e3416"/>
<circle cx="544.0" cy="315.6" r="0.98" fill="#a05030"/>
<circle cx="504.8" cy="318.8" r="0.90" fill="#6e2a12"/>
<circle cx="510.1" cy="307.7" r="0.71" fill="#4e1c0c"/>
<circle cx="525.2" cy="309.5" r="0.85" fill="#5e2410"/>
<circle cx="471.8" cy="326.8" r="0.73" fill="#5e2410"/>
<circle cx="507.0" cy="311.3" r="0.89" fill="#4e1c0c"/>
<circle cx="487.6" cy="349.7" r="1.04" fill="#8e4020"/>
<circle cx="513.6" cy="344.7" r="0.76" fill="#4e1c0c"/>
<circle cx="463.9" cy="347.5" r="0.81" fill="#7e3416"/>
<circle cx="494.7" cy="344.3" r="0.82" fill="#b06848"/>
<circle cx="477.0" cy="347.8" r="0.93" fill="#4e1c0c"/>
<circle cx="496.1" cy="316.2" r="1.00" fill="#8e4020"/>
<circle cx="540.9" cy="326.4" r="0.73" fill="#8e4020"/>
<circle cx="534.6" cy="307.3" r="0.84" fill="#a05030"/>
<circle cx="518.4" cy="335.6" r="0.84" fill="#4e1c0c"/>
<circle cx="464.1" cy="337.2" r="1.09" fill="#b06848"/>
<circle cx="476.3" cy="316.2" r="0.81" fill="#b06848"/>
<circle cx="530.6" cy="309.9" r="0.85" fill="#b06848"/>
<circle cx="505.4" cy="344.1" r="0.86" fill="#8e4020"/>
<circle cx="466.4" cy="323.4" r="0.73" fill="#4e1c0c"/>
<circle cx="516.8" cy="345.4" r="0.89" fill="#7e3416"/>
<circle cx="473.3" cy="324.1" r="1.05" fill="#5e2410"/>
<circle cx="494.2" cy="304.7" r="0.88" fill="#4e1c0c"/>
<circle cx="474.6" cy="304.2" r="0.88" fill="#a05030"/>
<circle cx="483.4" cy="339.9" r="0.99" fill="#b06848"/>
<circle cx="525.8" cy="340.9" r="0.96" fill="#5e2410"/>
<circle cx="506.8" cy="349.6" r="0.79" fill="#8e4020"/>
<circle cx="522.9" cy="311.2" r="0.72" fill="#8e4020"/>
<circle cx="464.8" cy="306.0" r="0.84" fill="#8e4020"/>
<circle cx="504.3" cy="339.3" r="1.05" fill="#8e4020"/>
<circle cx="541.7" cy="314.6" r="0.71" fill="#8e4020"/>
<circle cx="513.1" cy="329.1" r="0.88" fill="#4e1c0c"/>
<circle cx="464.8" cy="347.6" r="1.03" fill="#a05030"/>
<circle cx="499.5" cy="342.0" r="0.82" fill="#4e1c0c"/>
<circle cx="485.7" cy="353.5" r="0.90" fill="#b06848"/>
<circle cx="536.7" cy="343.6" r="0.96" fill="#6e2a12"/>
<circle cx="525.1" cy="353.0" r="0.80" fill="#4e1c0c"/>
<circle cx="473.2" cy="330.5" r="0.93" fill="#b06848"/>
<circle cx="531.7" cy="318.6" r="1.05" fill="#5e2410"/>
<circle cx="535.8" cy="333.8" r="1.06" fill="#5e2410"/>
<circle cx="543.9" cy="335.0" r="0.72" fill="#6e2a12"/>
<circle cx="497.4" cy="313.9" r="0.78" fill="#a05030"/>
<circle cx="464.1" cy="330.0" r="0.96" fill="#7e3416"/>
<circle cx="529.9" cy="336.2" r="0.92" fill="#b06848"/>
<circle cx="513.5" cy="339.8" r="0.78" fill="#a05030"/>
<circle cx="475.6" cy="332.6" r="0.76" fill="#b06848"/>
<circle cx="537.8" cy="342.0" r="0.86" fill="#b06848"/>
<circle cx="488.0" cy="315.8" r="1.03" fill="#8e4020"/>
<circle cx="464.5" cy="305.9" r="0.83" fill="#8e4020"/>
<circle cx="525.7" cy="314.7" r="1.00" fill="#5e2410"/>
<circle cx="506.5" cy="331.8" r="1.04" fill="#4e1c0c"/>
<circle cx="479.1" cy="346.6" r="0.92" fill="#6e2a12"/>
<circle cx="471.2" cy="307.2" r="0.82" fill="#8e4020"/>
<circle cx="527.4" cy="304.3" r="0.98" fill="#6e2a12"/>
<circle cx="478.5" cy="334.1" r="0.97" fill="#4e1c0c"/>
<circle cx="464.2" cy="340.0" r="1.06" fill="#a05030"/>
<circle cx="508.4" cy="310.4" r="0.91" fill="#a05030"/>
<circle cx="492.8" cy="339.5" r="0.78" fill="#8e4020"/>
<circle cx="509.2" cy="310.0" r="0.91" fill="#4e1c0c"/>
<circle cx="491.4" cy="343.5" r="0.73" fill="#5e2410"/>
<circle cx="543.3" cy="352.2" r="0.75" fill="#b06848"/>
<circle cx="501.2" cy="325.5" r="0.74" fill="#6e2a12"/>
<circle cx="489.5" cy="327.9" r="0.82" fill="#8e4020"/>
<circle cx="479.3" cy="318.4" r="0.88" fill="#4e1c0c"/>
<circle cx="495.3" cy="342.7" r="1.02" fill="#b06848"/>
<circle cx="520.6" cy="350.3" r="0.72" fill="#8e4020"/>
<circle cx="488.3" cy="319.2" r="0.96" fill="#a05030"/>
<circle cx="517.0" cy="342.3" r="1.04" fill="#7e3416"/>
<circle cx="511.5" cy="322.7" r="0.82" fill="#b06848"/>
<circle cx="533.1" cy="326.8" r="0.76" fill="#8e4020"/>
<circle cx="534.8" cy="328.4" r="0.78" fill="#b06848"/>
<circle cx="466.3" cy="334.9" r="0.97" fill="#5e2410"/>
<circle cx="463.6" cy="313.8" r="0.77" fill="#6e2a12"/>
<circle cx="492.5" cy="307.8" r="0.97" fill="#b06848"/>
<circle cx="496.6" cy="339.6" r="0.81" fill="#5e2410"/>
<circle cx="476.5" cy="321.0" r="0.82" fill="#a05030"/>
<circle cx="526.9" cy="312.8" r="1.02" fill="#a05030"/>
<circle cx="542.6" cy="343.5" r="0.86" fill="#b06848"/>
<circle cx="538.8" cy="308.3" r="0.80" fill="#7e3416"/>
<circle cx="475.4" cy="321.8" r="0.72" fill="#4e1c0c"/>
<circle cx="507.4" cy="318.2" r="0.80" fill="#4e1c0c"/>
<circle cx="477.9" cy="304.9" r="0.89" fill="#5e2410"/>
<circle cx="510.2" cy="337.4" r="0.95" fill="#b06848"/>
<circle cx="466.1" cy="323.0" r="1.03" fill="#6e2a12"/>
<circle cx="526.3" cy="311.0" r="0.91" fill="#4e1c0c"/>
<circle cx="495.0" cy="350.4" r="1.08" fill="#8e4020"/>
<circle cx="490.6" cy="333.2" r="1.07" fill="#6e2a12"/>
<circle cx="499.2" cy="332.8" r="0.79" fill="#8e4020"/>
<circle cx="544.2" cy="343.0" r="0.85" fill="#5e2410"/>
<circle cx="489.6" cy="307.4" r="0.99" fill="#b06848"/>
<circle cx="518.0" cy="338.5" r="0.81" fill="#5e2410"/>
<circle cx="539.0" cy="334.2" r="0.97" fill="#4e1c0c"/>
<circle cx="478.9" cy="308.1" r="0.94" fill="#4e1c0c"/>
<circle cx="484.6" cy="322.1" r="1.06" fill="#8e4020"/>
<circle cx="475.9" cy="341.7" r="1.04" fill="#a05030"/>
<circle cx="510.5" cy="348.3" r="0.73" fill="#4e1c0c"/>
<circle cx="490.6" cy="351.7" r="0.95" fill="#a05030"/>
<circle cx="497.1" cy="338.7" r="0.83" fill="#a05030"/>
<circle cx="533.6" cy="330.1" r="0.96" fill="#4e1c0c"/>
<circle cx="537.8" cy="320.9" r="0.97" fill="#4e1c0c"/>
<circle cx="540.7" cy="304.3" r="0.81" fill="#7e3416"/>
<circle cx="470.1" cy="324.7" r="1.09" fill="#b06848"/>
<circle cx="475.9" cy="329.8" r="1.07" fill="#7e3416"/>
<circle cx="511.6" cy="325.8" r="0.97" fill="#b06848"/>
<circle cx="507.3" cy="313.2" r="0.93" fill="#6e2a12"/>
<circle cx="490.2" cy="322.1" r="1.10" fill="#a05030"/>
<circle cx="503.5" cy="332.9" r="1.02" fill="#7e3416"/>
<circle cx="498.4" cy="320.9" r="0.99" fill="#5e2410"/>
<circle cx="532.5" cy="314.3" r="1.04" fill="#4e1c0c"/>
<circle cx="501.3" cy="314.6" r="0.89" fill="#5e2410"/>
<circle cx="526.2" cy="348.8" r="0.91" fill="#4e1c0c"/>
<circle cx="463.7" cy="343.1" r="0.87" fill="#4e1c0c"/>
<circle cx="528.4" cy="313.9" r="0.86" fill="#6e2a12"/>
<circle cx="466.3" cy="344.0" r="0.77" fill="#a05030"/>
<circle cx="511.8" cy="327.6" r="0.92" fill="#7e3416"/>
<circle cx="472.8" cy="352.6" r="0.79" fill="#7e3416"/>
<circle cx="483.7" cy="319.1" r="0.74" fill="#7e3416"/>
<circle cx="512.4" cy="305.5" r="1.03" fill="#6e2a12"/>
<circle cx="500.8" cy="306.2" r="0.94" fill="#8e4020"/>
<circle cx="492.9" cy="332.4" r="0.72" fill="#b06848"/>
<circle cx="484.1" cy="313.8" r="0.95" fill="#4e1c0c"/>
<circle cx="531.3" cy="312.8" r="0.86" fill="#4e1c0c"/>
<circle cx="519.0" cy="346.5" r="0.76" fill="#7e3416"/>
<circle cx="492.4" cy="323.2" r="0.88" fill="#4e1c0c"/>
<circle cx="541.8" cy="318.4" r="0.98" fill="#6e2a12"/>
<circle cx="505.7" cy="315.7" r="0.90" fill="#7e3416"/>
<circle cx="532.5" cy="349.8" r="0.85" fill="#a05030"/>
<circle cx="536.8" cy="348.0" r="1.03" fill="#6e2a12"/>
<circle cx="464.6" cy="318.1" r="0.74" fill="#4e1c0c"/>
<circle cx="475.6" cy="319.0" r="0.88" fill="#a05030"/>
<circle cx="536.3" cy="316.1" r="0.78" fill="#4e1c0c"/>
<circle cx="534.0" cy="325.3" r="0.91" fill="#4e1c0c"/>
<circle cx="482.0" cy="310.1" r="1.04" fill="#7e3416"/>
<circle cx="466.8" cy="322.9" r="0.89" fill="#b06848"/>
<circle cx="491.3" cy="326.4" r="1.07" fill="#5e2410"/>
<circle cx="504.3" cy="353.5" r="0.77" fill="#b06848"/>
<circle cx="537.0" cy="344.3" r="0.79" fill="#a05030"/>
<circle cx="490.0" cy="327.2" r="0.74" fill="#5e2410"/>
<circle cx="464.0" cy="322.0" r="0.83" fill="#8e4020"/>
<circle cx="507.6" cy="308.4" r="0.83" fill="#4e1c0c"/>
<circle cx="530.6" cy="348.5" r="0.91" fill="#a05030"/>
<circle cx="510.5" cy="326.7" r="0.79" fill="#6e2a12"/>
<circle cx="531.8" cy="319.5" r="0.93" fill="#b06848"/>
<circle cx="490.7" cy="331.0" r="1.00" fill="#b06848"/>
<circle cx="487.4" cy="332.6" r="0.96" fill="#7e3416"/>
<circle cx="514.4" cy="348.7" r="0.88" fill="#a05030"/>
<circle cx="469.0" cy="317.7" r="0.76" fill="#8e4020"/>
<circle cx="533.9" cy="313.2" r="0.81" fill="#a05030"/>
<circle cx="496.4" cy="304.9" r="1.05" fill="#8e4020"/>
<circle cx="524.9" cy="304.6" r="1.05" fill="#5e2410"/>
<circle cx="533.0" cy="320.3" r="1.10" fill="#8e4020"/>
<circle cx="508.3" cy="304.1" r="0.98" fill="#4e1c0c"/>
<circle cx="504.8" cy="320.1" r="0.87" fill="#a05030"/>
<circle cx="498.8" cy="343.8" r="0.80" fill="#8e4020"/>
<circle cx="463.4" cy="335.7" r="0.85" fill="#b06848"/>
<circle cx="536.3" cy="345.9" r="0.84" fill="#b06848"/>
<circle cx="518.4" cy="309.4" r="0.75" fill="#a05030"/>
<circle cx="515.2" cy="305.8" r="0.82" fill="#7e3416"/>
<circle cx="529.9" cy="341.0" r="0.95" fill="#6e2a12"/>
<circle cx="517.8" cy="353.0" r="0.70" fill="#5e2410"/>
<circle cx="492.0" cy="319.2" r="0.74" fill="#a05030"/>
<circle cx="542.0" cy="314.3" r="1.07" fill="#4e1c0c"/>
<circle cx="472.4" cy="345.2" r="1.04" fill="#a05030"/>
<circle cx="487.1" cy="327.9" r="0.74" fill="#a05030"/>
<circle cx="465.9" cy="308.5" r="1.00" fill="#a05030"/>
<circle cx="508.9" cy="347.6" r="0.71" fill="#b06848"/>
<circle cx="486.0" cy="327.2" r="1.06" fill="#a05030"/>
<circle cx="519.5" cy="315.8" r="0.91" fill="#5e2410"/>
<circle cx="527.1" cy="309.2" r="0.73" fill="#5e2410"/>
<circle cx="514.3" cy="347.1" r="1.04" fill="#6e2a12"/>
<circle cx="522.3" cy="333.8" r="0.93" fill="#6e2a12"/>
<circle cx="464.6" cy="316.1" r="0.73" fill="#7e3416"/>
<circle cx="516.8" cy="316.4" r="0.76" fill="#a05030"/>
<circle cx="466.7" cy="341.0" r="0.95" fill="#7e3416"/>
<circle cx="473.5" cy="353.2" r="0.82" fill="#7e3416"/>
<circle cx="473.3" cy="326.5" r="1.00" fill="#7e3416"/>
<circle cx="522.2" cy="313.2" r="0.94" fill="#5e2410"/>
<circle cx="529.1" cy="318.5" r="1.03" fill="#a05030"/>
<circle cx="519.3" cy="310.2" r="0.74" fill="#8e4020"/>
<circle cx="504.2" cy="326.1" r="0.73" fill="#8e4020"/>
<circle cx="532.8" cy="341.7" r="0.84" fill="#4e1c0c"/>
<circle cx="538.5" cy="344.6" r="0.95" fill="#4e1c0c"/>
<circle cx="470.9" cy="333.1" r="1.03" fill="#a05030"/>
<circle cx="518.1" cy="348.7" r="0.71" fill="#b06848"/>
<circle cx="504.5" cy="315.3" r="0.83" fill="#5e2410"/>
<circle cx="511.1" cy="348.4" r="1.02" fill="#7e3416"/>
<circle cx="522.2" cy="341.7" r="1.10" fill="#b06848"/>
<circle cx="497.2" cy="338.5" r="0.73" fill="#4e1c0c"/>
<circle cx="542.2" cy="332.4" r="0.86" fill="#8e4020"/>
<circle cx="492.1" cy="320.6" r="1.05" fill="#a05030"/>
<circle cx="534.5" cy="309.7" r="0.73" fill="#5e2410"/>
<circle cx="516.1" cy="350.0" r="0.77" fill="#8e4020"/>
<circle cx="526.5" cy="304.5" r="0.78" fill="#a05030"/>
<circle cx="543.1" cy="305.4" r="0.75" fill="#5e2410"/>
<circle cx="507.4" cy="342.8" r="0.88" fill="#6e2a12"/>
<circle cx="507.4" cy="326.1" r="0.94" fill="#a05030"/>
<circle cx="507.7" cy="315.5" r="0.87" fill="#6e2a12"/>
<circle cx="499.7" cy="307.1" r="0.84" fill="#a05030"/>
<circle cx="468.6" cy="325.2" r="0.71" fill="#a05030"/>
<circle cx="527.6" cy="305.0" r="0.95" fill="#7e3416"/>
<circle cx="499.0" cy="304.5" r="0.88" fill="#6e2a12"/>
<circle cx="485.4" cy="349.5" r="0.91" fill="#8e4020"/>
<circle cx="486.5" cy="351.7" r="1.09" fill="#8e4020"/>
<circle cx="519.5" cy="308.8" r="0.73" fill="#6e2a12"/>
<circle cx="497.7" cy="317.1" r="0.73" fill="#8e4020"/>
<circle cx="502.1" cy="339.8" r="1.04" fill="#a05030"/>
<circle cx="470.1" cy="308.1" r="1.04" fill="#7e3416"/>
<circle cx="493.3" cy="303.9" r="0.79" fill="#a05030"/>
<circle cx="513.7" cy="343.6" r="0.89" fill="#7e3416"/>
<circle cx="519.5" cy="346.2" r="0.83" fill="#8e4020"/>
<circle cx="494.4" cy="328.0" r="0.85" fill="#8e4020"/>
<circle cx="514.9" cy="312.1" r="1.06" fill="#b06848"/>
<circle cx="529.5" cy="328.8" r="0.97" fill="#4e1c0c"/>
<circle cx="540.9" cy="346.8" r="0.78" fill="#b06848"/>
<circle cx="527.6" cy="318.6" r="0.86" fill="#6e2a12"/>
<circle cx="526.7" cy="315.3" r="0.81" fill="#6e2a12"/>
<circle cx="532.3" cy="352.0" r="0.72" fill="#5e2410"/>
<circle cx="506.0" cy="311.6" r="0.92" fill="#6e2a12"/>
<circle cx="488.5" cy="310.5" r="1.07" fill="#b06848"/>
<circle cx="539.8" cy="308.7" r="0.76" fill="#b06848"/>
<circle cx="534.3" cy="346.5" r="1.05" fill="#8e4020"/>
<circle cx="494.4" cy="341.0" r="1.09" fill="#b06848"/>
<circle cx="540.7" cy="317.3" r="0.79" fill="#6e2a12"/>
<circle cx="482.0" cy="335.5" r="0.74" fill="#a05030"/>
<circle cx="488.8" cy="303.6" r="0.93" fill="#5e2410"/>
<circle cx="517.1" cy="352.3" r="0.84" fill="#5e2410"/>
<circle cx="474.2" cy="316.7" r="0.90" fill="#a05030"/>
<circle cx="495.9" cy="309.5" r="0.84" fill="#b06848"/>
<circle cx="502.5" cy="353.1" r="0.77" fill="#7e3416"/>
<circle cx="514.0" cy="316.5" r="0.72" fill="#5e2410"/>
<circle cx="467.8" cy="336.9" r="1.02" fill="#4e1c0c"/>
<circle cx="500.2" cy="325.1" r="0.88" fill="#4e1c0c"/>
<circle cx="488.8" cy="310.1" r="1.04" fill="#a05030"/>
<circle cx="528.8" cy="337.8" r="0.91" fill="#b06848"/>
<circle cx="521.4" cy="304.4" r="0.86" fill="#b06848"/>
<circle cx="463.5" cy="338.9" r="0.94" fill="#7e3416"/>
<circle cx="540.8" cy="336.3" r="0.83" fill="#8e4020"/>
<circle cx="533.8" cy="344.8" r="0.88" fill="#a05030"/>
<circle cx="530.2" cy="307.1" r="0.95" fill="#7e3416"/>
<circle cx="469.6" cy="310.5" r="0.84" fill="#8e4020"/>
<circle cx="467.4" cy="309.4" r="0.76" fill="#5e2410"/>
<circle cx="505.3" cy="322.7" r="0.92" fill="#b06848"/>
<circle cx="522.7" cy="344.0" r="1.00" fill="#5e2410"/>
<circle cx="519.3" cy="338.2" r="0.76" fill="#4e1c0c"/>
<circle cx="464.4" cy="328.7" r="1.09" fill="#8e4020"/>
<circle cx="493.7" cy="330.2" r="0.91" fill="#4e1c0c"/>
<circle cx="529.8" cy="338.4" r="0.93" fill="#b06848"/>
<circle cx="469.2" cy="315.6" r="0.81" fill="#4e1c0c"/>
<circle cx="500.2" cy="308.3" r="0.88" fill="#a05030"/>
<circle cx="502.4" cy="317.6" r="0.87" fill="#b06848"/>
<circle cx="476.4" cy="336.0" r="1.00" fill="#4e1c0c"/>
<circle cx="515.6" cy="343.9" r="0.74" fill="#8e4020"/>
<circle cx="530.0" cy="325.8" r="0.80" fill="#a05030"/>
<circle cx="471.3" cy="350.9" r="1.05" fill="#4e1c0c"/>
<circle cx="467.1" cy="342.8" r="0.95" fill="#4e1c0c"/>
<circle cx="465.7" cy="305.4" r="1.01" fill="#4e1c0c"/>
<circle cx="515.7" cy="350.7" r="0.73" fill="#a05030"/>
<circle cx="494.9" cy="316.6" r="0.98" fill="#5e2410"/>
<circle cx="515.7" cy="306.1" r="0.95" fill="#b06848"/>
<circle cx="522.1" cy="332.9" r="0.80" fill="#5e2410"/>
<circle cx="542.6" cy="317.7" r="0.85" fill="#5e2410"/>
<circle cx="543.5" cy="322.8" r="0.78" fill="#a05030"/>
<circle cx="508.9" cy="322.1" r="0.87" fill="#b06848"/>
<circle cx="507.0" cy="307.1" r="0.93" fill="#4e1c0c"/>
<circle cx="467.2" cy="346.0" r="0.78" fill="#6e2a12"/>
<circle cx="507.6" cy="304.7" r="0.77" fill="#a05030"/>
<circle cx="500.5" cy="333.4" r="1.04" fill="#4e1c0c"/>
<circle cx="490.0" cy="337.7" r="0.74" fill="#7e3416"/>
<circle cx="503.1" cy="340.1" r="0.79" fill="#4e1c0c"/>
<circle cx="464.0" cy="325.6" r="0.87" fill="#7e3416"/>
<circle cx="537.1" cy="348.8" r="0.75" fill="#6e2a12"/>
<circle cx="537.9" cy="308.7" r="1.08" fill="#4e1c0c"/>
<circle cx="498.8" cy="344.4" r="0.72" fill="#4e1c0c"/>
<circle cx="511.7" cy="326.8" r="1.10" fill="#b06848"/>
<circle cx="507.2" cy="321.7" r="0.81" fill="#6e2a12"/>
<circle cx="468.7" cy="321.2" r="0.83" fill="#6e2a12"/>
<circle cx="496.6" cy="308.6" r="0.99" fill="#8e4020"/>
<circle cx="522.8" cy="353.6" r="1.02" fill="#5e2410"/>
<circle cx="518.9" cy="305.5" r="1.04" fill="#b06848"/>
<circle cx="514.6" cy="351.6" r="0.74" fill="#6e2a12"/>
<circle cx="535.0" cy="320.1" r="1.04" fill="#6e2a12"/>
<circle cx="472.7" cy="318.6" r="0.71" fill="#b06848"/>
<circle cx="509.4" cy="312.5" r="0.80" fill="#a05030"/>
<circle cx="472.7" cy="307.7" r="0.74" fill="#7e3416"/>
<circle cx="501.0" cy="351.6" r="1.04" fill="#b06848"/>
<circle cx="504.1" cy="335.0" r="1.02" fill="#a05030"/>
<circle cx="498.4" cy="341.3" r="0.72" fill="#6e2a12"/>
<circle cx="531.8" cy="333.7" r="0.71" fill="#a05030"/>
<circle cx="501.5" cy="310.1" r="1.03" fill="#5e2410"/>
<circle cx="525.2" cy="348.9" r="0.76" fill="#8e4020"/>
<circle cx="480.3" cy="306.6" r="1.00" fill="#b06848"/>
<circle cx="474.8" cy="315.8" r="1.07" fill="#b06848"/>
<circle cx="541.0" cy="310.8" r="0.96" fill="#6e2a12"/>
<circle cx="484.1" cy="313.7" r="0.86" fill="#b06848"/>
<circle cx="518.1" cy="314.0" r="0.96" fill="#8e4020"/>
<circle cx="503.3" cy="345.8" r="0.92" fill="#a05030"/>
<circle cx="501.8" cy="340.9" r="1.09" fill="#6e2a12"/>
<circle cx="534.8" cy="307.9" r="0.72" fill="#b06848"/>
<circle cx="464.2" cy="349.6" r="0.71" fill="#6e2a12"/>
<circle cx="466.9" cy="350.9" r="0.71" fill="#b06848"/>
<circle cx="539.0" cy="336.9" r="0.82" fill="#8e4020"/>
<circle cx="509.0" cy="341.1" r="0.94" fill="#5e2410"/>
<circle cx="468.2" cy="353.2" r="1.00" fill="#5e2410"/>
<circle cx="517.4" cy="311.0" r="1.01" fill="#4e1c0c"/>
<circle cx="517.8" cy="351.1" r="1.02" fill="#b06848"/>
<circle cx="539.3" cy="329.1" r="0.89" fill="#4e1c0c"/>
<circle cx="486.7" cy="306.8" r="0.89" fill="#b06848"/>
<circle cx="517.0" cy="310.5" r="1.04" fill="#5e2410"/>
<circle cx="503.1" cy="317.4" r="0.97" fill="#b06848"/>
<circle cx="530.5" cy="328.5" r="0.98" fill="#b06848"/>
<circle cx="528.2" cy="314.7" r="0.96" fill="#8e4020"/>
<circle cx="470.5" cy="304.2" r="0.82" fill="#4e1c0c"/>
<circle cx="480.3" cy="318.7" r="0.81" fill="#8e4020"/>
<circle cx="463.5" cy="331.4" r="1.08" fill="#8e4020"/>
<circle cx="494.9" cy="309.5" r="0.90" fill="#b06848"/>
<circle cx="463.6" cy="315.2" r="0.89" fill="#6e2a12"/>
<circle cx="538.3" cy="309.2" r="1.02" fill="#b06848"/>
<circle cx="530.6" cy="340.4" r="0.85" fill="#b06848"/>
<circle cx="484.3" cy="318.8" r="0.75" fill="#7e3416"/>
<circle cx="526.7" cy="345.7" r="0.87" fill="#b06848"/>
<circle cx="531.6" cy="314.7" r="0.93" fill="#4e1c0c"/>
<circle cx="521.2" cy="305.7" r="0.98" fill="#b06848"/>
<circle cx="496.2" cy="338.8" r="1.04" fill="#6e2a12"/>
<circle cx="463.7" cy="341.9" r="0.99" fill="#7e3416"/>
<circle cx="532.4" cy="349.1" r="0.75" fill="#7e3416"/>
<circle cx="519.4" cy="312.7" r="0.93" fill="#7e3416"/>
<circle cx="542.9" cy="333.1" r="1.06" fill="#a05030"/>
<circle cx="499.4" cy="325.7" r="1.01" fill="#8e4020"/>
<circle cx="487.0" cy="309.9" r="0.76" fill="#b06848"/>
<circle cx="502.0" cy="315.2" r="1.06" fill="#8e4020"/>
<circle cx="530.6" cy="327.7" r="1.01" fill="#a05030"/>
<circle cx="544.4" cy="317.3" r="0.95" fill="#a05030"/>
<circle cx="531.5" cy="308.3" r="0.97" fill="#5e2410"/>
<circle cx="523.2" cy="323.6" r="0.93" fill="#8e4020"/>
<circle cx="506.6" cy="338.1" r="1.00" fill="#5e2410"/>
<circle cx="506.8" cy="324.3" r="1.00" fill="#6e2a12"/>
<circle cx="536.9" cy="320.4" r="0.83" fill="#b06848"/>
<circle cx="464.6" cy="303.9" r="1.02" fill="#7e3416"/>
<circle cx="479.8" cy="335.7" r="0.93" fill="#a05030"/>
<circle cx="535.5" cy="332.6" r="1.10" fill="#4e1c0c"/>
<circle cx="532.4" cy="344.6" r="0.81" fill="#7e3416"/>
<circle cx="502.7" cy="330.3" r="1.09" fill="#7e3416"/>
<circle cx="530.8" cy="303.8" r="0.88" fill="#a05030"/>
<circle cx="540.3" cy="324.0" r="0.72" fill="#8e4020"/>
<circle cx="491.0" cy="304.9" r="0.87" fill="#6e2a12"/>
<circle cx="494.7" cy="341.6" r="0.81" fill="#5e2410"/>
<circle cx="491.8" cy="353.6" r="1.00" fill="#6e2a12"/>
<circle cx="530.8" cy="350.5" r="0.79" fill="#4e1c0c"/>
<circle cx="520.2" cy="311.4" r="0.70" fill="#8e4020"/>
<circle cx="506.1" cy="323.8" r="0.93" fill="#4e1c0c"/>
<circle cx="472.7" cy="346.6" r="0.78" fill="#b06848"/>
<circle cx="543.5" cy="315.1" r="0.85" fill="#5e2410"/>
<circle cx="513.9" cy="329.9" r="0.84" fill="#8e4020"/>
<circle cx="485.6" cy="338.5" r="1.05" fill="#7e3416"/>
<circle cx="523.8" cy="353.2" r="0.80" fill="#7e3416"/>
<circle cx="512.5" cy="329.1" r="1.05" fill="#5e2410"/>
<circle cx="465.3" cy="306.9" r="0.73" fill="#4e1c0c"/>
</g>
<rect x="536.2" y="351.0" width="7.8" height="1.3" fill="#111"/>
</g>
<clipPath id="cp3"><rect x="378.2" y="356.6" width="82.6" height="50.5"/></clipPath>
<g clip-path="url(#cp3)">
<rect x="378.2" y="356.6" width="82.6" height="50.5" fill="#c4bcc0"/>
<circle cx="397.9" cy="384.1" r="0.8" fill="#b0a0a8" opacity="0.35"/>
<circle cx="417.4" cy="385.9" r="0.9" fill="#a89090" opacity="0.35"/>
<circle cx="399.6" cy="368.4" r="1.1" fill="#a89090" opacity="0.35"/>
<circle cx="422.9" cy="384.4" r="0.8" fill="#9d8ea0" opacity="0.35"/>
<circle cx="397.4" cy="364.3" r="1.1" fill="#a89090" opacity="0.35"/>
<circle cx="439.4" cy="390.5" r="0.6" fill="#b0a0a8" opacity="0.35"/>
<circle cx="381.7" cy="396.0" r="1.0" fill="#a89090" opacity="0.35"/>
<circle cx="417.2" cy="392.9" r="1.0" fill="#b0a0a8" opacity="0.35"/>
<circle cx="443.3" cy="378.2" r="1.0" fill="#b0a0a8" opacity="0.35"/>
<circle cx="414.9" cy="403.8" r="1.0" fill="#9d8ea0" opacity="0.35"/>
<circle cx="381.2" cy="381.6" r="0.7" fill="#b0a0a8" opacity="0.35"/>
<circle cx="414.2" cy="388.2" r="0.8" fill="#b0a0a8" opacity="0.35"/>
<circle cx="447.0" cy="385.6" r="0.9" fill="#a89090" opacity="0.35"/>
<circle cx="426.5" cy="402.3" r="0.9" fill="#9d8ea0" opacity="0.35"/>
<circle cx="448.9" cy="406.6" r="0.9" fill="#9d8ea0" opacity="0.35"/>
<circle cx="435.9" cy="373.1" r="0.9" fill="#b0a0a8" opacity="0.35"/>
<circle cx="425.2" cy="392.6" r="0.7" fill="#b0a0a8" opacity="0.35"/>
<circle cx="400.3" cy="362.9" r="0.8" fill="#b0a0a8" opacity="0.35"/>
<circle cx="460.0" cy="361.1" r="1.0" fill="#a89090" opacity="0.35"/>
<circle cx="452.3" cy="357.6" r="0.8" fill="#a89090" opacity="0.35"/>
<circle cx="450.3" cy="358.8" r="0.9" fill="#9d8ea0" opacity="0.35"/>
<circle cx="409.4" cy="386.2" r="0.9" fill="#a89090" opacity="0.35"/>
<circle cx="419.9" cy="407.0" r="0.8" fill="#9d8ea0" opacity="0.35"/>
<circle cx="387.1" cy="383.6" r="1.1" fill="#a89090" opacity="0.35"/>
<circle cx="402.3" cy="369.9" r="0.9" fill="#a89090" opacity="0.35"/>
<circle cx="404.1" cy="405.0" r="1.0" fill="#a89090" opacity="0.35"/>
<circle cx="409.3" cy="400.5" r="0.8" fill="#b0a0a8" opacity="0.35"/>
<circle cx="434.4" cy="361.8" r="1.1" fill="#b0a0a8" opacity="0.35"/>
<circle cx="400.6" cy="388.6" r="1.0" fill="#a89090" opacity="0.35"/>
<circle cx="414.3" cy="369.6" r="0.8" fill="#a89090" opacity="0.35"/>
<circle cx="379.1" cy="377.6" r="0.9" fill="#9d8ea0" opacity="0.35"/>
<circle cx="409.3" cy="386.4" r="0.7" fill="#b0a0a8" opacity="0.35"/>
<circle cx="430.0" cy="380.1" r="0.9" fill="#a89090" opacity="0.35"/>
<circle cx="428.5" cy="370.7" r="0.8" fill="#b0a0a8" opacity="0.35"/>
<circle cx="383.2" cy="390.7" r="1.1" fill="#a89090" opacity="0.35"/>
<circle cx="430.1" cy="371.7" r="0.9" fill="#9d8ea0" opacity="0.35"/>
<circle cx="408.3" cy="372.4" r="0.8" fill="#b0a0a8" opacity="0.35"/>
<circle cx="400.0" cy="396.4" r="0.7" fill="#9d8ea0" opacity="0.35"/>
<circle cx="458.4" cy="391.1" r="0.7" fill="#b0a0a8" opacity="0.35"/>
<circle cx="396.6" cy="397.2" r="0.7" fill="#9d8ea0" opacity="0.35"/>
<circle cx="434.2" cy="389.4" r="0.6" fill="#b0a0a8" opacity="0.35"/>
<circle cx="404.8" cy="373.5" r="1.0" fill="#a89090" opacity="0.35"/>
<circle cx="445.1" cy="405.1" r="0.6" fill="#b0a0a8" opacity="0.35"/>
<circle cx="431.9" cy="401.3" r="0.8" fill="#9d8ea0" opacity="0.35"/>
<circle cx="443.2" cy="358.3" r="1.1" fill="#a89090" opacity="0.35"/>
<circle cx="444.8" cy="398.9" r="0.7" fill="#a89090" opacity="0.35"/>
<circle cx="406.3" cy="398.4" r="0.6" fill="#b0a0a8" opacity="0.35"/>
<circle cx="406.7" cy="363.1" r="0.7" fill="#a89090" opacity="0.35"/>
<circle cx="416.6" cy="388.6" r="0.7" fill="#b0a0a8" opacity="0.35"/>
<circle cx="412.0" cy="403.1" r="0.7" fill="#9d8ea0" opacity="0.35"/>
<circle cx="417.6" cy="398.6" r="0.9" fill="#b0a0a8" opacity="0.35"/>
<circle cx="414.1" cy="404.6" r="1.1" fill="#9d8ea0" opacity="0.35"/>
<circle cx="380.9" cy="379.7" r="1.0" fill="#b0a0a8" opacity="0.35"/>
<circle cx="421.1" cy="371.2" r="0.8" fill="#9d8ea0" opacity="0.35"/>
<circle cx="449.4" cy="399.9" r="1.1" fill="#9d8ea0" opacity="0.35"/>
<circle cx="445.1" cy="358.9" r="1.1" fill="#b0a0a8" opacity="0.35"/>
<circle cx="420.5" cy="366.6" r="1.0" fill="#a89090" opacity="0.35"/>
<circle cx="425.9" cy="357.3" r="1.0" fill="#9d8ea0" opacity="0.35"/>
<circle cx="419.8" cy="368.7" r="0.6" fill="#b0a0a8" opacity="0.35"/>
<circle cx="412.4" cy="404.0" r="0.9" fill="#a89090" opacity="0.35"/>
<circle cx="388.6" cy="405.7" r="0.9" fill="#9d8ea0" opacity="0.35"/>
<circle cx="407.3" cy="366.6" r="0.9" fill="#9d8ea0" opacity="0.35"/>
<circle cx="392.3" cy="396.6" r="1.1" fill="#9d8ea0" opacity="0.35"/>
<circle cx="446.2" cy="357.0" r="0.9" fill="#a89090" opacity="0.35"/>
<circle cx="382.3" cy="370.3" r="0.7" fill="#b0a0a8" opacity="0.35"/>
<circle cx="421.1" cy="359.2" r="0.8" fill="#9d8ea0" opacity="0.35"/>
<circle cx="449.0" cy="395.7" r="0.6" fill="#9d8ea0" opacity="0.35"/>
<circle cx="383.9" cy="405.8" r="1.0" fill="#9d8ea0" opacity="0.35"/>
<circle cx="420.8" cy="381.3" r="0.7" fill="#9d8ea0" opacity="0.35"/>
<circle cx="407.2" cy="389.3" r="0.9" fill="#a89090" opacity="0.35"/>
<circle cx="400.1" cy="406.5" r="0.8" fill="#9d8ea0" opacity="0.35"/>
<circle cx="424.1" cy="392.8" r="0.8" fill="#9d8ea0" opacity="0.35"/>
<circle cx="425.0" cy="358.8" r="0.8" fill="#b0a0a8" opacity="0.35"/>
<circle cx="442.8" cy="375.8" r="1.0" fill="#b0a0a8" opacity="0.35"/>
<circle cx="451.4" cy="359.3" r="0.9" fill="#b0a0a8" opacity="0.35"/>
<circle cx="404.2" cy="404.6" r="0.8" fill="#9d8ea0" opacity="0.35"/>
<circle cx="398.4" cy="383.7" r="0.9" fill="#9d8ea0" opacity="0.35"/>
<circle cx="444.5" cy="367.9" r="0.7" fill="#9d8ea0" opacity="0.35"/>
<circle cx="455.6" cy="375.5" r="1.0" fill="#a89090" opacity="0.35"/>
<circle cx="388.2" cy="391.5" r="1.1" fill="#b0a0a8" opacity="0.35"/>
<circle cx="432.9" cy="401.4" r="1.0" fill="#b0a0a8" opacity="0.35"/>
<circle cx="387.2" cy="372.7" r="0.9" fill="#b0a0a8" opacity="0.35"/>
<circle cx="437.4" cy="380.5" r="0.7" fill="#a89090" opacity="0.35"/>
<circle cx="381.9" cy="361.2" r="0.6" fill="#a89090" opacity="0.35"/>
<circle cx="393.0" cy="357.8" r="1.0" fill="#9d8ea0" opacity="0.35"/>
<circle cx="380.3" cy="362.4" r="0.8" fill="#b0a0a8" opacity="0.35"/>
<circle cx="456.9" cy="385.8" r="1.0" fill="#9d8ea0" opacity="0.35"/>
<circle cx="460.5" cy="385.1" r="0.9" fill="#9d8ea0" opacity="0.35"/>
<circle cx="387.0" cy="394.4" r="1.1" fill="#9d8ea0" opacity="0.35"/>
<circle cx="423.6" cy="400.5" r="0.7" fill="#9d8ea0" opacity="0.35"/>
<circle cx="398.2" cy="365.7" r="0.7" fill="#b0a0a8" opacity="0.35"/>
<circle cx="436.0" cy="404.2" r="0.7" fill="#b0a0a8" opacity="0.35"/>
<circle cx="411.0" cy="374.3" r="0.8" fill="#9d8ea0" opacity="0.35"/>
<circle cx="409.2" cy="368.5" r="1.1" fill="#b0a0a8" opacity="0.35"/>
<circle cx="458.1" cy="377.6" r="0.9" fill="#b0a0a8" opacity="0.35"/>
<circle cx="433.9" cy="382.7" r="0.8" fill="#b0a0a8" opacity="0.35"/>
<circle cx="411.3" cy="401.4" r="0.7" fill="#a89090" opacity="0.35"/>
<circle cx="440.0" cy="402.9" r="0.9" fill="#a89090" opacity="0.35"/>
<circle cx="426.6" cy="399.9" r="0.7" fill="#9d8ea0" opacity="0.35"/>
<circle cx="390.3" cy="382.6" r="1.1" fill="#b0a0a8" opacity="0.35"/>
<circle cx="422.6" cy="396.0" r="0.9" fill="#a89090" opacity="0.35"/>
<circle cx="427.4" cy="386.1" r="1.1" fill="#9d8ea0" opacity="0.35"/>
<circle cx="403.6" cy="370.1" r="1.0" fill="#9d8ea0" opacity="0.35"/>
<circle cx="392.4" cy="374.8" r="0.8" fill="#9d8ea0" opacity="0.35"/>
<circle cx="412.8" cy="391.8" r="1.0" fill="#9d8ea0" opacity="0.35"/>
<circle cx="416.9" cy="398.7" r="1.0" fill="#b0a0a8" opacity="0.35"/>
<circle cx="380.5" cy="406.7" r="0.6" fill="#a89090" opacity="0.35"/>
<circle cx="442.9" cy="401.1" r="0.6" fill="#9d8ea0" opacity="0.35"/>
<circle cx="451.8" cy="389.3" r="1.0" fill="#9d8ea0" opacity="0.35"/>
<circle cx="457.4" cy="399.7" r="0.7" fill="#9d8ea0" opacity="0.35"/>
<circle cx="442.3" cy="363.5" r="0.9" fill="#b0a0a8" opacity="0.35"/>
<circle cx="449.1" cy="402.0" r="0.7" fill="#9d8ea0" opacity="0.35"/>
<circle cx="404.1" cy="378.0" r="1.0" fill="#9d8ea0" opacity="0.35"/>
<circle cx="387.9" cy="369.9" r="1.1" fill="#9d8ea0" opacity="0.35"/>
<circle cx="407.7" cy="385.9" r="0.9" fill="#9d8ea0" opacity="0.35"/>
<circle cx="380.6" cy="373.3" r="0.8" fill="#9d8ea0" opacity="0.35"/>
<circle cx="395.6" cy="386.1" r="1.1" fill="#a89090" opacity="0.35"/>
<circle cx="388.6" cy="372.7" r="1.0" fill="#9d8ea0" opacity="0.35"/>
<circle cx="433.2" cy="362.3" r="1.0" fill="#a89090" opacity="0.35"/>
<circle cx="386.2" cy="404.1" r="0.8" fill="#a89090" opacity="0.35"/>
<circle cx="440.8" cy="371.5" r="0.9" fill="#b0a0a8" opacity="0.35"/>
<circle cx="456.2" cy="397.9" r="0.7" fill="#a89090" opacity="0.35"/>
<circle cx="433.8" cy="383.7" r="0.7" fill="#a89090" opacity="0.35"/>
<circle cx="420.2" cy="359.6" r="0.7" fill="#b0a0a8" opacity="0.35"/>
<circle cx="425.0" cy="365.8" r="0.9" fill="#b0a0a8" opacity="0.35"/>
<circle cx="390.6" cy="375.3" r="1.1" fill="#a89090" opacity="0.35"/>
<circle cx="388.4" cy="403.7" r="0.7" fill="#a89090" opacity="0.35"/>
<circle cx="431.5" cy="389.4" r="0.8" fill="#a89090" opacity="0.35"/>
<circle cx="431.7" cy="379.7" r="0.8" fill="#9d8ea0" opacity="0.35"/>
<circle cx="436.5" cy="362.0" r="0.7" fill="#b0a0a8" opacity="0.35"/>
<circle cx="423.1" cy="394.0" r="0.8" fill="#a89090" opacity="0.35"/>
<circle cx="400.6" cy="359.3" r="0.7" fill="#a89090" opacity="0.35"/>
<circle cx="419.9" cy="369.1" r="1.0" fill="#a89090" opacity="0.35"/>
<circle cx="450.5" cy="404.3" r="0.8" fill="#9d8ea0" opacity="0.35"/>
<circle cx="407.3" cy="399.4" r="0.7" fill="#a89090" opacity="0.35"/>
<circle cx="426.9" cy="391.0" r="0.9" fill="#b0a0a8" opacity="0.35"/>
<circle cx="387.5" cy="391.9" r="0.9" fill="#b0a0a8" opacity="0.35"/>
<circle cx="439.6" cy="397.8" r="1.0" fill="#b0a0a8" opacity="0.35"/>
<circle cx="428.4" cy="400.0" r="1.0" fill="#b0a0a8" opacity="0.35"/>
<circle cx="421.8" cy="385.3" r="0.7" fill="#a89090" opacity="0.35"/>
<circle cx="408.7" cy="371.4" r="1.0" fill="#a89090" opacity="0.35"/>
<circle cx="451.8" cy="404.5" r="0.8" fill="#b0a0a8" opacity="0.35"/>
<circle cx="453.0" cy="372.2" r="0.8" fill="#b0a0a8" opacity="0.35"/>
<circle cx="434.9" cy="371.7" r="1.0" fill="#a89090" opacity="0.35"/>
<circle cx="380.7" cy="366.2" r="0.9" fill="#9d8ea0" opacity="0.35"/>
<circle cx="441.8" cy="390.0" r="0.8" fill="#b0a0a8" opacity="0.35"/>
<circle cx="429.8" cy="366.6" r="1.0" fill="#9d8ea0" opacity="0.35"/>
<circle cx="381.3" cy="381.9" r="0.9" fill="#a89090" opacity="0.35"/>
<circle cx="387.4" cy="370.9" r="0.9" fill="#9d8ea0" opacity="0.35"/>
<circle cx="389.4" cy="396.6" r="0.9" fill="#9d8ea0" opacity="0.35"/>
<circle cx="380.3" cy="387.8" r="0.9" fill="#a89090" opacity="0.35"/>
<circle cx="422.7" cy="403.6" r="0.8" fill="#a89090" opacity="0.35"/>
<circle cx="435.6" cy="363.4" r="1.0" fill="#b0a0a8" opacity="0.35"/>
<circle cx="442.2" cy="358.3" r="0.6" fill="#a89090" opacity="0.35"/>
<circle cx="460.6" cy="367.0" r="0.6" fill="#9d8ea0" opacity="0.35"/>
<circle cx="414.3" cy="394.8" r="0.8" fill="#9d8ea0" opacity="0.35"/>
<circle cx="443.2" cy="377.2" r="1.0" fill="#b0a0a8" opacity="0.35"/>
<circle cx="391.5" cy="381.7" r="0.9" fill="#b0a0a8" opacity="0.35"/>
<circle cx="448.6" cy="367.1" r="0.8" fill="#9d8ea0" opacity="0.35"/>
<circle cx="416.6" cy="394.8" r="0.8" fill="#9d8ea0" opacity="0.35"/>
<circle cx="415.8" cy="358.5" r="0.7" fill="#a89090" opacity="0.35"/>
<circle cx="415.2" cy="374.9" r="0.8" fill="#9d8ea0" opacity="0.35"/>
<circle cx="444.6" cy="369.7" r="0.8" fill="#a89090" opacity="0.35"/>
<circle cx="422.3" cy="364.6" r="0.6" fill="#b0a0a8" opacity="0.35"/>
<circle cx="411.5" cy="365.1" r="0.6" fill="#9d8ea0" opacity="0.35"/>
<circle cx="428.5" cy="379.0" r="0.7" fill="#9d8ea0" opacity="0.35"/>
<circle cx="411.5" cy="372.7" r="0.6" fill="#b0a0a8" opacity="0.35"/>
<circle cx="382.4" cy="377.0" r="0.8" fill="#9d8ea0" opacity="0.35"/>
<circle cx="453.3" cy="401.2" r="0.7" fill="#a89090" opacity="0.35"/>
<circle cx="417.4" cy="364.9" r="0.9" fill="#a89090" opacity="0.35"/>
<circle cx="453.6" cy="386.6" r="1.0" fill="#a89090" opacity="0.35"/>
<circle cx="400.9" cy="396.4" r="0.8" fill="#a89090" opacity="0.35"/>
<circle cx="418.6" cy="384.9" r="0.6" fill="#a89090" opacity="0.35"/>
<circle cx="430.2" cy="374.0" r="0.6" fill="#b0a0a8" opacity="0.35"/>
<circle cx="414.2" cy="361.1" r="0.9" fill="#9d8ea0" opacity="0.35"/>
<circle cx="380.7" cy="361.2" r="0.7" fill="#9d8ea0" opacity="0.35"/>
<circle cx="418.0" cy="366.1" r="0.9" fill="#a89090" opacity="0.35"/>
<circle cx="394.8" cy="405.8" r="0.8" fill="#a89090" opacity="0.35"/>
<circle cx="454.0" cy="404.1" r="0.6" fill="#a89090" opacity="0.35"/>
<circle cx="440.3" cy="388.5" r="0.8" fill="#a89090" opacity="0.35"/>
<circle cx="393.4" cy="377.5" r="0.9" fill="#b0a0a8" opacity="0.35"/>
<circle cx="405.8" cy="390.9" r="1.1" fill="#9d8ea0" opacity="0.35"/>
<circle cx="447.4" cy="400.3" r="0.8" fill="#b0a0a8" opacity="0.35"/>
<circle cx="407.9" cy="365.9" r="1.0" fill="#a89090" opacity="0.35"/>
<circle cx="397.1" cy="396.0" r="0.8" fill="#a89090" opacity="0.35"/>
<circle cx="446.0" cy="382.2" r="1.0" fill="#b0a0a8" opacity="0.35"/>
<circle cx="435.8" cy="404.5" r="0.6" fill="#9d8ea0" opacity="0.35"/>
<circle cx="436.9" cy="357.8" r="0.8" fill="#b0a0a8" opacity="0.35"/>
<circle cx="434.1" cy="361.5" r="0.7" fill="#b0a0a8" opacity="0.35"/>
<circle cx="382.9" cy="387.5" r="0.6" fill="#a89090" opacity="0.35"/>
<circle cx="452.3" cy="393.6" r="0.8" fill="#a89090" opacity="0.35"/>
<circle cx="378.3" cy="366.4" r="1.0" fill="#9d8ea0" opacity="0.35"/>
<circle cx="406.2" cy="372.3" r="0.8" fill="#b0a0a8" opacity="0.35"/>
<circle cx="395.6" cy="391.4" r="1.1" fill="#b0a0a8" opacity="0.35"/>
<circle cx="390.0" cy="406.4" r="0.7" fill="#a89090" opacity="0.35"/>
<circle cx="458.1" cy="367.7" r="0.9" fill="#a89090" opacity="0.35"/>
<circle cx="419.9" cy="402.4" r="0.8" fill="#b0a0a8" opacity="0.35"/>
<circle cx="442.8" cy="380.2" r="0.9" fill="#9d8ea0" opacity="0.35"/>
<circle cx="446.4" cy="362.3" r="0.6" fill="#9d8ea0" opacity="0.35"/>
<circle cx="394.7" cy="401.7" r="0.6" fill="#a89090" opacity="0.35"/>
<circle cx="411.2" cy="398.3" r="0.9" fill="#9d8ea0" opacity="0.35"/>
<circle cx="431.2" cy="395.1" r="1.0" fill="#a89090" opacity="0.35"/>
<circle cx="411.5" cy="390.0" r="1.0" fill="#a89090" opacity="0.35"/>
<circle cx="447.2" cy="386.6" r="1.0" fill="#9d8ea0" opacity="0.35"/>
<circle cx="387.9" cy="357.0" r="0.7" fill="#b0a0a8" opacity="0.35"/>
<circle cx="384.6" cy="374.1" r="0.8" fill="#9d8ea0" opacity="0.35"/>
<circle cx="454.5" cy="391.3" r="0.8" fill="#b0a0a8" opacity="0.35"/>
<circle cx="383.7" cy="382.8" r="0.7" fill="#9d8ea0" opacity="0.35"/>
<circle cx="405.9" cy="378.4" r="0.6" fill="#9d8ea0" opacity="0.35"/>
<circle cx="404.9" cy="394.5" r="0.7" fill="#9d8ea0" opacity="0.35"/>
<circle cx="450.5" cy="406.4" r="0.9" fill="#b0a0a8" opacity="0.35"/>
<circle cx="422.5" cy="377.7" r="1.1" fill="#b0a0a8" opacity="0.35"/>
<circle cx="456.6" cy="381.1" r="1.0" fill="#a89090" opacity="0.35"/>
<circle cx="417.0" cy="386.3" r="0.6" fill="#9d8ea0" opacity="0.35"/>
<circle cx="393.4" cy="361.4" r="1.0" fill="#a89090" opacity="0.35"/>
<circle cx="419.8" cy="359.7" r="0.8" fill="#9d8ea0" opacity="0.35"/>
<circle cx="439.8" cy="370.5" r="0.8" fill="#a89090" opacity="0.35"/>
<circle cx="416.9" cy="366.5" r="1.0" fill="#9d8ea0" opacity="0.35"/>
<circle cx="386.7" cy="371.7" r="0.8" fill="#9d8ea0" opacity="0.35"/>
<circle cx="395.2" cy="381.2" r="1.0" fill="#a89090" opacity="0.35"/>
<circle cx="458.9" cy="406.1" r="1.0" fill="#a89090" opacity="0.35"/>
<circle cx="456.1" cy="378.4" r="1.1" fill="#a89090" opacity="0.35"/>
<circle cx="421.6" cy="384.0" r="0.8" fill="#a89090" opacity="0.35"/>
<circle cx="401.8" cy="380.0" r="1.0" fill="#a89090" opacity="0.35"/>
<circle cx="439.9" cy="403.6" r="0.9" fill="#9d8ea0" opacity="0.35"/>
<circle cx="389.1" cy="383.4" r="0.9" fill="#9d8ea0" opacity="0.35"/>
<circle cx="456.7" cy="356.7" r="1.1" fill="#a89090" opacity="0.35"/>
<circle cx="407.5" cy="405.4" r="0.8" fill="#b0a0a8" opacity="0.35"/>
<circle cx="381.1" cy="365.9" r="0.6" fill="#a89090" opacity="0.35"/>
<circle cx="452.9" cy="398.8" r="0.9" fill="#9d8ea0" opacity="0.35"/>
<circle cx="415.4" cy="369.8" r="0.9" fill="#a89090" opacity="0.35"/>
<circle cx="412.7" cy="369.7" r="0.6" fill="#a89090" opacity="0.35"/>
<circle cx="381.3" cy="406.9" r="0.7" fill="#b0a0a8" opacity="0.35"/>
<circle cx="398.6" cy="363.5" r="1.0" fill="#a89090" opacity="0.35"/>
<circle cx="420.2" cy="398.6" r="0.9" fill="#a89090" opacity="0.35"/>
<circle cx="379.6" cy="358.9" r="0.8" fill="#9d8ea0" opacity="0.35"/>
<circle cx="452.3" cy="402.4" r="0.8" fill="#b0a0a8" opacity="0.35"/>
<circle cx="440.5" cy="400.0" r="1.1" fill="#b0a0a8" opacity="0.35"/>
<circle cx="412.4" cy="382.8" r="0.7" fill="#9d8ea0" opacity="0.35"/>
<circle cx="384.3" cy="363.6" r="1.0" fill="#9d8ea0" opacity="0.35"/>
<circle cx="411.9" cy="374.4" r="0.8" fill="#a89090" opacity="0.35"/>
<circle cx="415.6" cy="405.0" r="0.7" fill="#a89090" opacity="0.35"/>
<circle cx="389.7" cy="358.5" r="0.8" fill="#9d8ea0" opacity="0.35"/>
<circle cx="446.6" cy="403.6" r="0.9" fill="#9d8ea0" opacity="0.35"/>
<circle cx="404.3" cy="386.8" r="0.7" fill="#9d8ea0" opacity="0.35"/>
<circle cx="401.3" cy="392.4" r="1.1" fill="#9d8ea0" opacity="0.35"/>
<circle cx="414.1" cy="360.4" r="0.6" fill="#a89090" opacity="0.35"/>
<circle cx="452.2" cy="405.1" r="0.9" fill="#9d8ea0" opacity="0.35"/>
<circle cx="403.9" cy="374.1" r="0.9" fill="#a89090" opacity="0.35"/>
<circle cx="404.3" cy="370.3" r="1.1" fill="#a89090" opacity="0.35"/>
<circle cx="404.4" cy="376.4" r="0.7" fill="#9d8ea0" opacity="0.35"/>
<circle cx="412.7" cy="377.5" r="1.0" fill="#a89090" opacity="0.35"/>
<circle cx="397.2" cy="366.7" r="0.6" fill="#b0a0a8" opacity="0.35"/>
<circle cx="387.7" cy="388.5" r="0.7" fill="#9d8ea0" opacity="0.35"/>
<circle cx="456.0" cy="405.8" r="0.9" fill="#a89090" opacity="0.35"/>
<circle cx="400.3" cy="381.0" r="0.7" fill="#b0a0a8" opacity="0.35"/>
<circle cx="424.4" cy="365.4" r="0.8" fill="#9d8ea0" opacity="0.35"/>
<circle cx="390.1" cy="402.3" r="0.7" fill="#a89090" opacity="0.35"/>
<circle cx="433.9" cy="389.3" r="0.7" fill="#9d8ea0" opacity="0.35"/>
<circle cx="393.1" cy="388.2" r="0.8" fill="#b0a0a8" opacity="0.35"/>
<circle cx="446.2" cy="400.8" r="0.6" fill="#9d8ea0" opacity="0.35"/>
<circle cx="422.4" cy="375.9" r="0.7" fill="#a89090" opacity="0.35"/>
<circle cx="393.2" cy="357.9" r="0.7" fill="#9d8ea0" opacity="0.35"/>
<circle cx="390.2" cy="363.0" r="0.8" fill="#b0a0a8" opacity="0.35"/>
<circle cx="384.6" cy="366.3" r="1.1" fill="#9d8ea0" opacity="0.35"/>
<circle cx="459.1" cy="369.0" r="0.8" fill="#a89090" opacity="0.35"/>
<circle cx="386.8" cy="399.4" r="0.8" fill="#b0a0a8" opacity="0.35"/>
<circle cx="406.7" cy="394.4" r="1.0" fill="#b0a0a8" opacity="0.35"/>
<circle cx="411.9" cy="383.8" r="0.8" fill="#9d8ea0" opacity="0.35"/>
<circle cx="422.3" cy="398.7" r="0.7" fill="#b0a0a8" opacity="0.35"/>
<circle cx="402.6" cy="394.5" r="1.0" fill="#a89090" opacity="0.35"/>
<circle cx="457.8" cy="399.0" r="0.7" fill="#a89090" opacity="0.35"/>
<circle cx="447.6" cy="363.2" r="0.9" fill="#9d8ea0" opacity="0.35"/>
<circle cx="412.0" cy="400.7" r="0.7" fill="#9d8ea0" opacity="0.35"/>
<circle cx="391.2" cy="362.8" r="0.8" fill="#b0a0a8" opacity="0.35"/>
<circle cx="434.8" cy="383.1" r="1.0" fill="#9d8ea0" opacity="0.35"/>
<circle cx="416.5" cy="385.9" r="0.8" fill="#b0a0a8" opacity="0.35"/>
<circle cx="427.8" cy="372.9" r="0.9" fill="#a89090" opacity="0.35"/>
<circle cx="430.8" cy="386.4" r="1.0" fill="#b0a0a8" opacity="0.35"/>
<circle cx="455.5" cy="400.1" r="1.0" fill="#a89090" opacity="0.35"/>
<circle cx="458.8" cy="371.6" r="0.7" fill="#b0a0a8" opacity="0.35"/>
<circle cx="419.6" cy="393.6" r="0.8" fill="#b0a0a8" opacity="0.35"/>
<circle cx="398.7" cy="378.6" r="0.7" fill="#9d8ea0" opacity="0.35"/>
<circle cx="417.7" cy="383.4" r="1.0" fill="#b0a0a8" opacity="0.35"/>
<circle cx="421.9" cy="378.9" r="0.9" fill="#9d8ea0" opacity="0.35"/>
<circle cx="412.7" cy="384.4" r="0.9" fill="#a89090" opacity="0.35"/>
<circle cx="383.1" cy="399.8" r="0.8" fill="#9d8ea0" opacity="0.35"/>
<circle cx="408.5" cy="367.4" r="0.9" fill="#9d8ea0" opacity="0.35"/>
<circle cx="413.8" cy="400.4" r="1.0" fill="#a89090" opacity="0.35"/>
<circle cx="379.2" cy="375.4" r="0.8" fill="#a89090" opacity="0.35"/>
<circle cx="409.0" cy="389.5" r="1.0" fill="#b0a0a8" opacity="0.35"/>
<circle cx="419.1" cy="372.9" r="0.6" fill="#9d8ea0" opacity="0.35"/>
<circle cx="429.0" cy="363.6" r="0.6" fill="#a89090" opacity="0.35"/>
<circle cx="414.1" cy="366.5" r="0.6" fill="#b0a0a8" opacity="0.35"/>
<circle cx="454.3" cy="383.6" r="1.0" fill="#b0a0a8" opacity="0.35"/>
<circle cx="447.4" cy="402.7" r="0.8" fill="#b0a0a8" opacity="0.35"/>
<circle cx="426.5" cy="382.3" r="1.1" fill="#9d8ea0" opacity="0.35"/>
<circle cx="417.5" cy="401.6" r="0.7" fill="#9d8ea0" opacity="0.35"/>
<circle cx="387.9" cy="365.4" r="1.0" fill="#a89090" opacity="0.35"/>
<circle cx="380.5" cy="374.3" r="0.6" fill="#9d8ea0" opacity="0.35"/>
<circle cx="417.2" cy="363.7" r="0.7" fill="#b0a0a8" opacity="0.35"/>
<circle cx="413.9" cy="388.3" r="0.9" fill="#a89090" opacity="0.35"/>
<circle cx="401.9" cy="388.9" r="1.0" fill="#9d8ea0" opacity="0.35"/>
<circle cx="383.5" cy="400.9" r="1.0" fill="#a89090" opacity="0.35"/>
<circle cx="383.7" cy="357.1" r="0.8" fill="#a89090" opacity="0.35"/>
<circle cx="430.4" cy="361.4" r="0.9" fill="#b0a0a8" opacity="0.35"/>
<circle cx="412.8" cy="386.0" r="1.0" fill="#9d8ea0" opacity="0.35"/>
<circle cx="431.8" cy="405.0" r="0.6" fill="#b0a0a8" opacity="0.35"/>
<circle cx="380.4" cy="403.8" r="0.9" fill="#b0a0a8" opacity="0.35"/>
<circle cx="446.7" cy="365.7" r="1.0" fill="#b0a0a8" opacity="0.35"/>
<circle cx="410.9" cy="374.0" r="0.8" fill="#b0a0a8" opacity="0.35"/>
<circle cx="396.9" cy="385.5" r="0.8" fill="#b0a0a8" opacity="0.35"/>
<circle cx="389.2" cy="383.4" r="0.9" fill="#a89090" opacity="0.35"/>
<circle cx="404.2" cy="400.0" r="0.9" fill="#b0a0a8" opacity="0.35"/>
<circle cx="439.2" cy="366.9" r="0.6" fill="#a89090" opacity="0.35"/>
<circle cx="449.0" cy="388.4" r="0.8" fill="#9d8ea0" opacity="0.35"/>
<circle cx="393.4" cy="361.8" r="0.8" fill="#b0a0a8" opacity="0.35"/>
<circle cx="411.0" cy="367.3" r="0.7" fill="#9d8ea0" opacity="0.35"/>
<circle cx="405.2" cy="369.1" r="1.0" fill="#b0a0a8" opacity="0.35"/>
<circle cx="447.0" cy="359.5" r="0.8" fill="#a89090" opacity="0.35"/>
<circle cx="396.7" cy="371.0" r="0.8" fill="#9d8ea0" opacity="0.35"/>
<circle cx="435.5" cy="373.8" r="0.7" fill="#9d8ea0" opacity="0.35"/>
<circle cx="403.3" cy="365.3" r="0.7" fill="#a89090" opacity="0.35"/>
<circle cx="436.0" cy="367.5" r="0.9" fill="#b0a0a8" opacity="0.35"/>
<circle cx="397.4" cy="391.1" r="0.9" fill="#b0a0a8" opacity="0.35"/>
<circle cx="422.8" cy="386.8" r="0.9" fill="#a89090" opacity="0.35"/>
<circle cx="409.1" cy="360.6" r="0.9" fill="#a89090" opacity="0.35"/>
<circle cx="418.7" cy="385.8" r="0.7" fill="#a89090" opacity="0.35"/>
<circle cx="434.8" cy="367.8" r="1.0" fill="#a89090" opacity="0.35"/>
<circle cx="406.8" cy="406.9" r="0.8" fill="#9d8ea0" opacity="0.35"/>
<circle cx="387.7" cy="377.8" r="1.0" fill="#9d8ea0" opacity="0.35"/>
<circle cx="426.4" cy="362.0" r="0.9" fill="#a89090" opacity="0.35"/>
<circle cx="417.7" cy="383.8" r="1.0" fill="#a89090" opacity="0.35"/>
<circle cx="409.2" cy="358.7" r="0.8" fill="#b0a0a8" opacity="0.35"/>
<circle cx="395.0" cy="361.3" r="1.0" fill="#b0a0a8" opacity="0.35"/>
<circle cx="427.2" cy="386.1" r="0.9" fill="#a89090" opacity="0.35"/>
<circle cx="422.9" cy="406.5" r="1.0" fill="#b0a0a8" opacity="0.35"/>
<circle cx="432.0" cy="403.2" r="0.8" fill="#b0a0a8" opacity="0.35"/>
<circle cx="438.9" cy="374.3" r="0.8" fill="#b0a0a8" opacity="0.35"/>
<circle cx="393.2" cy="371.5" r="0.7" fill="#a89090" opacity="0.35"/>
<circle cx="437.1" cy="373.0" r="0.7" fill="#b0a0a8" opacity="0.35"/>
<circle cx="418.3" cy="383.9" r="0.8" fill="#a89090" opacity="0.35"/>
<circle cx="423.9" cy="375.1" r="1.0" fill="#b0a0a8" opacity="0.35"/>
<circle cx="418.0" cy="366.8" r="0.9" fill="#9d8ea0" opacity="0.35"/>
<circle cx="388.0" cy="384.5" r="0.7" fill="#a89090" opacity="0.35"/>
<circle cx="449.9" cy="382.6" r="0.8" fill="#9d8ea0" opacity="0.35"/>
<circle cx="417.8" cy="391.1" r="0.7" fill="#a89090" opacity="0.35"/>
<circle cx="387.9" cy="404.5" r="0.8" fill="#a89090" opacity="0.35"/>
<circle cx="390.4" cy="375.3" r="0.9" fill="#a89090" opacity="0.35"/>
<circle cx="425.4" cy="382.4" r="0.7" fill="#9d8ea0" opacity="0.35"/>
<circle cx="398.6" cy="369.6" r="0.8" fill="#a89090" opacity="0.35"/>
<circle cx="452.8" cy="361.6" r="1.0" fill="#9d8ea0" opacity="0.35"/>
<circle cx="396.8" cy="379.7" r="1.1" fill="#a89090" opacity="0.35"/>
<circle cx="446.6" cy="363.8" r="0.6" fill="#a89090" opacity="0.35"/>
<circle cx="400.5" cy="382.3" r="0.8" fill="#a89090" opacity="0.35"/>
<circle cx="439.7" cy="382.1" r="0.9" fill="#a89090" opacity="0.35"/>
<circle cx="459.0" cy="378.3" r="0.7" fill="#a89090" opacity="0.35"/>
<circle cx="426.6" cy="376.2" r="0.6" fill="#9d8ea0" opacity="0.35"/>
<circle cx="413.8" cy="356.7" r="1.0" fill="#9d8ea0" opacity="0.35"/>
<circle cx="419.9" cy="404.7" r="1.0" fill="#b0a0a8" opacity="0.35"/>
<circle cx="431.4" cy="369.6" r="0.9" fill="#b0a0a8" opacity="0.35"/>
<circle cx="439.8" cy="403.1" r="0.7" fill="#9d8ea0" opacity="0.35"/>
<circle cx="396.2" cy="404.8" r="0.6" fill="#a89090" opacity="0.35"/>
<circle cx="439.2" cy="364.1" r="0.9" fill="#b0a0a8" opacity="0.35"/>
<circle cx="445.5" cy="393.5" r="0.7" fill="#9d8ea0" opacity="0.35"/>
<circle cx="429.8" cy="401.3" r="0.7" fill="#9d8ea0" opacity="0.35"/>
<circle cx="435.8" cy="388.4" r="0.9" fill="#b0a0a8" opacity="0.35"/>
<circle cx="415.8" cy="406.8" r="0.9" fill="#a89090" opacity="0.35"/>
<circle cx="392.7" cy="398.4" r="0.6" fill="#b0a0a8" opacity="0.35"/>
<circle cx="435.9" cy="365.2" r="0.6" fill="#b0a0a8" opacity="0.35"/>
<circle cx="438.2" cy="398.7" r="0.8" fill="#9d8ea0" opacity="0.35"/>
<circle cx="444.5" cy="376.2" r="1.0" fill="#a89090" opacity="0.35"/>
<circle cx="455.5" cy="393.0" r="0.9" fill="#a89090" opacity="0.35"/>
<circle cx="415.6" cy="397.0" r="0.8" fill="#9d8ea0" opacity="0.35"/>
<circle cx="391.2" cy="376.4" r="0.8" fill="#b0a0a8" opacity="0.35"/>
<circle cx="387.7" cy="390.3" r="0.7" fill="#9d8ea0" opacity="0.35"/>
<circle cx="380.2" cy="357.9" r="0.8" fill="#9d8ea0" opacity="0.35"/>
<circle cx="415.7" cy="382.4" r="0.9" fill="#b0a0a8" opacity="0.35"/>
<circle cx="409.7" cy="402.0" r="0.7" fill="#b0a0a8" opacity="0.35"/>
<circle cx="413.4" cy="372.2" r="0.6" fill="#a89090" opacity="0.35"/>
<circle cx="419.5" cy="361.6" r="1.1" fill="#b0a0a8" opacity="0.35"/>
<circle cx="455.7" cy="364.1" r="0.9" fill="#a89090" opacity="0.35"/>
<circle cx="460.8" cy="365.1" r="0.8" fill="#a89090" opacity="0.35"/>
<circle cx="388.3" cy="381.8" r="0.8" fill="#9d8ea0" opacity="0.35"/>
<circle cx="439.4" cy="395.5" r="0.6" fill="#9d8ea0" opacity="0.35"/>
<circle cx="417.3" cy="356.8" r="1.0" fill="#a89090" opacity="0.35"/>
<circle cx="453.0" cy="359.0" r="0.9" fill="#a89090" opacity="0.35"/>
<circle cx="445.7" cy="381.4" r="1.0" fill="#9d8ea0" opacity="0.35"/>
<circle cx="403.7" cy="385.0" r="0.8" fill="#b0a0a8" opacity="0.35"/>
<circle cx="381.8" cy="405.3" r="0.7" fill="#9d8ea0" opacity="0.35"/>
<circle cx="391.3" cy="376.4" r="1.0" fill="#b0a0a8" opacity="0.35"/>
<circle cx="420.2" cy="388.4" r="0.6" fill="#b0a0a8" opacity="0.35"/>
<circle cx="403.1" cy="399.7" r="0.9" fill="#a89090" opacity="0.35"/>
<circle cx="383.8" cy="390.8" r="1.1" fill="#a89090" opacity="0.35"/>
<circle cx="433.3" cy="373.4" r="1.0" fill="#a89090" opacity="0.35"/>
<circle cx="416.6" cy="387.0" r="0.6" fill="#a89090" opacity="0.35"/>
<circle cx="417.9" cy="388.7" r="1.0" fill="#b0a0a8" opacity="0.35"/>
<circle cx="399.4" cy="374.7" r="0.9" fill="#b0a0a8" opacity="0.35"/>
<circle cx="417.8" cy="377.8" r="1.0" fill="#b0a0a8" opacity="0.35"/>
<circle cx="406.0" cy="359.6" r="0.7" fill="#b0a0a8" opacity="0.35"/>
<circle cx="382.2" cy="376.9" r="0.8" fill="#a89090" opacity="0.35"/>
<circle cx="386.3" cy="365.6" r="0.9" fill="#a89090" opacity="0.35"/>
<circle cx="413.8" cy="377.9" r="0.9" fill="#a89090" opacity="0.35"/>
<circle cx="413.8" cy="358.6" r="1.0" fill="#a89090" opacity="0.35"/>
<circle cx="408.2" cy="393.2" r="0.7" fill="#9d8ea0" opacity="0.35"/>
<circle cx="389.6" cy="401.0" r="1.0" fill="#9d8ea0" opacity="0.35"/>
<circle cx="431.2" cy="393.4" r="0.7" fill="#a89090" opacity="0.35"/>
<circle cx="417.7" cy="375.7" r="0.9" fill="#a89090" opacity="0.35"/>
<circle cx="428.8" cy="380.6" r="0.6" fill="#b0a0a8" opacity="0.35"/>
<circle cx="437.3" cy="402.8" r="0.7" fill="#b0a0a8" opacity="0.35"/>
<circle cx="444.3" cy="392.6" r="1.1" fill="#9d8ea0" opacity="0.35"/>
<circle cx="410.9" cy="382.5" r="0.7" fill="#9d8ea0" opacity="0.35"/>
<circle cx="427.3" cy="404.4" r="0.7" fill="#9d8ea0" opacity="0.35"/>
<circle cx="453.1" cy="378.6" r="0.7" fill="#9d8ea0" opacity="0.35"/>
<circle cx="435.2" cy="388.2" r="0.8" fill="#b0a0a8" opacity="0.35"/>
<circle cx="414.8" cy="403.5" r="0.7" fill="#9d8ea0" opacity="0.35"/>
<circle cx="427.0" cy="373.9" r="0.9" fill="#9d8ea0" opacity="0.35"/>
<circle cx="458.8" cy="370.8" r="0.6" fill="#a89090" opacity="0.35"/>
<circle cx="398.3" cy="367.8" r="1.1" fill="#9d8ea0" opacity="0.35"/>
<circle cx="439.2" cy="361.2" r="0.9" fill="#9d8ea0" opacity="0.35"/>
<circle cx="447.0" cy="367.1" r="1.0" fill="#9d8ea0" opacity="0.35"/>
<circle cx="420.1" cy="371.7" r="1.0" fill="#9d8ea0" opacity="0.35"/>
<circle cx="440.4" cy="398.0" r="0.6" fill="#a89090" opacity="0.35"/>
<circle cx="406.6" cy="371.3" r="0.8" fill="#9d8ea0" opacity="0.35"/>
<circle cx="453.0" cy="402.8" r="0.9" fill="#9d8ea0" opacity="0.35"/>
<circle cx="415.7" cy="369.3" r="0.9" fill="#a89090" opacity="0.35"/>
<circle cx="400.1" cy="371.2" r="1.1" fill="#9d8ea0" opacity="0.35"/>
<circle cx="415.5" cy="366.9" r="0.8" fill="#9d8ea0" opacity="0.35"/>
<circle cx="387.0" cy="402.0" r="0.8" fill="#a89090" opacity="0.35"/>
<circle cx="443.9" cy="395.9" r="0.7" fill="#b0a0a8" opacity="0.35"/>
<circle cx="388.5" cy="385.7" r="0.6" fill="#a89090" opacity="0.35"/>
<circle cx="406.6" cy="365.2" r="0.8" fill="#9d8ea0" opacity="0.35"/>
<circle cx="442.6" cy="387.3" r="0.6" fill="#a89090" opacity="0.35"/>
<circle cx="424.1" cy="357.6" r="0.8" fill="#b0a0a8" opacity="0.35"/>
<circle cx="414.4" cy="395.4" r="0.8" fill="#9d8ea0" opacity="0.35"/>
<circle cx="442.9" cy="375.3" r="1.0" fill="#a89090" opacity="0.35"/>
<circle cx="409.8" cy="382.6" r="1.0" fill="#a89090" opacity="0.35"/>
<circle cx="417.3" cy="391.8" r="1.0" fill="#b0a0a8" opacity="0.35"/>
<circle cx="405.5" cy="385.1" r="0.9" fill="#9d8ea0" opacity="0.35"/>
<circle cx="417.2" cy="392.7" r="0.7" fill="#b0a0a8" opacity="0.35"/>
<circle cx="387.7" cy="400.4" r="0.7" fill="#a89090" opacity="0.35"/>
<circle cx="404.1" cy="374.9" r="0.6" fill="#9d8ea0" opacity="0.35"/>
<circle cx="448.0" cy="400.9" r="1.1" fill="#9d8ea0" opacity="0.35"/>
<circle cx="459.5" cy="364.9" r="0.9" fill="#b0a0a8" opacity="0.35"/>
<circle cx="415.5" cy="394.2" r="1.0" fill="#a89090" opacity="0.35"/>
<circle cx="434.1" cy="400.8" r="0.9" fill="#9d8ea0" opacity="0.35"/>
<circle cx="387.2" cy="395.1" r="0.9" fill="#9d8ea0" opacity="0.35"/>
<circle cx="446.8" cy="370.8" r="0.9" fill="#9d8ea0" opacity="0.35"/>
<circle cx="444.2" cy="359.1" r="0.8" fill="#9d8ea0" opacity="0.35"/>
<circle cx="420.4" cy="403.9" r="0.7" fill="#b0a0a8" opacity="0.35"/>
<circle cx="415.0" cy="406.1" r="0.8" fill="#a89090" opacity="0.35"/>
<circle cx="435.9" cy="357.3" r="0.7" fill="#b0a0a8" opacity="0.35"/>
<circle cx="431.5" cy="357.4" r="1.0" fill="#a89090" opacity="0.35"/>
<circle cx="388.8" cy="399.4" r="0.8" fill="#b0a0a8" opacity="0.35"/>
<circle cx="412.1" cy="380.4" r="0.9" fill="#a89090" opacity="0.35"/>
<circle cx="449.2" cy="370.8" r="0.7" fill="#9d8ea0" opacity="0.35"/>
<circle cx="423.2" cy="373.5" r="1.0" fill="#9d8ea0" opacity="0.35"/>
<circle cx="421.2" cy="391.9" r="0.8" fill="#a89090" opacity="0.35"/>
<circle cx="406.7" cy="394.5" r="0.7" fill="#a89090" opacity="0.35"/>
<circle cx="384.3" cy="403.5" r="1.0" fill="#b0a0a8" opacity="0.35"/>
<circle cx="415.8" cy="405.4" r="0.9" fill="#9d8ea0" opacity="0.35"/>
<circle cx="454.3" cy="388.2" r="0.6" fill="#b0a0a8" opacity="0.35"/>
<circle cx="408.3" cy="404.4" r="0.9" fill="#a89090" opacity="0.35"/>
<g filter="url(#b04)">
<circle cx="422.0" cy="398.3" r="0.91" fill="#6e2a0e"/>
<circle cx="439.7" cy="395.8" r="1.13" fill="#96421a"/>
<circle cx="435.3" cy="397.7" r="1.15" fill="#6e2a0e"/>
<circle cx="394.9" cy="369.9" r="0.86" fill="#a04c20"/>
<circle cx="399.8" cy="406.7" r="1.22" fill="#88401c"/>
<circle cx="415.8" cy="385.2" r="0.93" fill="#88401c"/>
<circle cx="420.9" cy="361.7" r="0.95" fill="#96421a"/>
<circle cx="381.9" cy="396.5" r="0.94" fill="#96421a"/>
<circle cx="416.2" cy="385.1" r="0.94" fill="#a04c20"/>
<circle cx="398.1" cy="366.8" r="0.82" fill="#a04c20"/>
<circle cx="446.1" cy="365.6" r="1.01" fill="#96421a"/>
<circle cx="448.5" cy="385.9" r="0.91" fill="#88401c"/>
<circle cx="422.6" cy="357.2" r="1.05" fill="#88401c"/>
<circle cx="389.9" cy="371.0" r="0.91" fill="#96421a"/>
<circle cx="390.5" cy="378.2" r="1.12" fill="#8a3814"/>
<circle cx="411.5" cy="357.7" r="1.09" fill="#a04c20"/>
<circle cx="454.1" cy="377.8" r="0.96" fill="#8a3814"/>
<circle cx="444.2" cy="361.4" r="1.13" fill="#6e2a0e"/>
<circle cx="413.2" cy="369.2" r="0.83" fill="#6e2a0e"/>
<circle cx="400.1" cy="375.2" r="0.99" fill="#88401c"/>
<circle cx="412.3" cy="357.6" r="0.91" fill="#a04c20"/>
<circle cx="420.1" cy="394.4" r="1.17" fill="#96421a"/>
<circle cx="402.0" cy="364.6" r="0.96" fill="#88401c"/>
<circle cx="431.8" cy="381.1" r="0.89" fill="#a04c20"/>
<circle cx="459.1" cy="394.9" r="1.04" fill="#6e2a0e"/>
<circle cx="391.8" cy="398.4" r="1.18" fill="#6e2a0e"/>
<circle cx="410.6" cy="367.0" r="1.09" fill="#7a3010"/>
<circle cx="432.9" cy="374.9" r="1.16" fill="#96421a"/>
<circle cx="452.9" cy="390.1" r="0.97" fill="#a04c20"/>
<circle cx="390.9" cy="374.0" r="0.83" fill="#96421a"/>
<circle cx="440.9" cy="370.7" r="0.89" fill="#88401c"/>
<circle cx="411.1" cy="398.0" r="1.09" fill="#7a3010"/>
<circle cx="409.0" cy="386.3" r="1.00" fill="#88401c"/>
<circle cx="388.0" cy="394.2" r="1.03" fill="#8a3814"/>
<circle cx="426.1" cy="399.7" r="0.81" fill="#a04c20"/>
<circle cx="455.7" cy="372.3" r="0.96" fill="#88401c"/>
<circle cx="399.5" cy="403.6" r="1.16" fill="#6e2a0e"/>
<circle cx="433.8" cy="369.8" r="0.91" fill="#88401c"/>
<circle cx="441.3" cy="395.0" r="0.84" fill="#96421a"/>
<circle cx="424.9" cy="381.2" r="0.83" fill="#6e2a0e"/>
<circle cx="387.8" cy="376.4" r="0.98" fill="#96421a"/>
<circle cx="452.3" cy="376.8" r="0.83" fill="#7a3010"/>
<circle cx="399.1" cy="395.5" r="0.85" fill="#a04c20"/>
<circle cx="397.6" cy="383.9" r="0.93" fill="#88401c"/>
<circle cx="426.1" cy="388.3" r="0.95" fill="#6e2a0e"/>
<circle cx="384.4" cy="385.6" r="0.87" fill="#a04c20"/>
<circle cx="443.7" cy="366.7" r="0.88" fill="#8a3814"/>
<circle cx="458.9" cy="379.6" r="1.20" fill="#96421a"/>
<circle cx="443.1" cy="377.6" r="0.90" fill="#8a3814"/>
<circle cx="383.8" cy="393.0" r="1.10" fill="#7a3010"/>
<circle cx="393.4" cy="391.4" r="0.83" fill="#6e2a0e"/>
<circle cx="390.9" cy="368.5" r="1.09" fill="#96421a"/>
<circle cx="433.7" cy="401.2" r="0.90" fill="#96421a"/>
<circle cx="407.5" cy="360.1" r="0.88" fill="#88401c"/>
<circle cx="415.3" cy="395.5" r="0.91" fill="#8a3814"/>
<circle cx="447.4" cy="384.6" r="1.19" fill="#88401c"/>
<circle cx="442.3" cy="403.9" r="0.93" fill="#6e2a0e"/>
<circle cx="416.3" cy="362.7" r="1.24" fill="#a04c20"/>
<circle cx="428.2" cy="364.7" r="1.10" fill="#a04c20"/>
<circle cx="388.6" cy="397.0" r="1.20" fill="#6e2a0e"/>
<circle cx="410.1" cy="398.6" r="1.04" fill="#88401c"/>
<circle cx="384.5" cy="380.5" r="1.16" fill="#7a3010"/>
<circle cx="445.8" cy="397.9" r="1.23" fill="#6e2a0e"/>
<circle cx="416.1" cy="360.5" r="1.21" fill="#96421a"/>
<circle cx="383.3" cy="404.1" r="0.94" fill="#8a3814"/>
<circle cx="388.1" cy="400.1" r="1.11" fill="#a04c20"/>
<circle cx="430.4" cy="399.7" r="1.17" fill="#88401c"/>
<circle cx="382.3" cy="374.0" r="1.18" fill="#96421a"/>
<circle cx="439.3" cy="372.8" r="1.06" fill="#a04c20"/>
<circle cx="409.5" cy="376.3" r="0.84" fill="#a04c20"/>
<circle cx="433.7" cy="405.3" r="0.98" fill="#8a3814"/>
<circle cx="456.2" cy="383.2" r="1.14" fill="#88401c"/>
<circle cx="396.5" cy="393.1" r="0.98" fill="#88401c"/>
<circle cx="402.2" cy="391.7" r="1.23" fill="#7a3010"/>
<circle cx="430.0" cy="404.0" r="0.80" fill="#7a3010"/>
<circle cx="415.6" cy="393.9" r="0.99" fill="#6e2a0e"/>
<circle cx="420.6" cy="371.8" r="0.98" fill="#6e2a0e"/>
<circle cx="403.3" cy="392.5" r="1.07" fill="#88401c"/>
<circle cx="387.0" cy="402.9" r="0.97" fill="#6e2a0e"/>
<circle cx="416.6" cy="361.5" r="0.90" fill="#a04c20"/>
<circle cx="449.8" cy="364.8" r="0.85" fill="#6e2a0e"/>
<circle cx="395.7" cy="378.7" r="0.81" fill="#a04c20"/>
<circle cx="434.3" cy="371.3" r="0.86" fill="#7a3010"/>
<circle cx="381.7" cy="377.4" r="0.97" fill="#6e2a0e"/>
<circle cx="413.7" cy="357.3" r="1.14" fill="#6e2a0e"/>
<circle cx="412.2" cy="361.9" r="0.88" fill="#88401c"/>
<circle cx="431.4" cy="362.3" r="1.06" fill="#88401c"/>
<circle cx="454.1" cy="393.8" r="0.96" fill="#8a3814"/>
<circle cx="431.1" cy="389.4" r="1.06" fill="#6e2a0e"/>
<circle cx="378.4" cy="375.7" r="1.12" fill="#8a3814"/>
<circle cx="456.0" cy="357.0" r="0.91" fill="#96421a"/>
<circle cx="383.9" cy="388.4" r="0.80" fill="#8a3814"/>
<circle cx="454.5" cy="401.9" r="0.86" fill="#6e2a0e"/>
<circle cx="414.1" cy="381.9" r="0.83" fill="#8a3814"/>
<circle cx="379.7" cy="391.5" r="0.94" fill="#a04c20"/>
<circle cx="396.9" cy="360.4" r="0.85" fill="#88401c"/>
<circle cx="398.3" cy="365.4" r="1.18" fill="#96421a"/>
<circle cx="456.6" cy="374.7" r="1.05" fill="#8a3814"/>
<circle cx="393.0" cy="360.9" r="1.18" fill="#96421a"/>
<circle cx="450.4" cy="363.2" r="1.05" fill="#a04c20"/>
<circle cx="402.2" cy="361.6" r="0.83" fill="#8a3814"/>
<circle cx="452.3" cy="385.1" r="0.91" fill="#88401c"/>
<circle cx="392.3" cy="388.2" r="1.17" fill="#a04c20"/>
<circle cx="436.3" cy="400.2" r="0.89" fill="#88401c"/>
<circle cx="443.6" cy="394.8" r="0.83" fill="#7a3010"/>
<circle cx="379.1" cy="396.4" r="1.22" fill="#8a3814"/>
<circle cx="460.5" cy="375.3" r="1.04" fill="#96421a"/>
<circle cx="414.6" cy="407.0" r="1.19" fill="#96421a"/>
<circle cx="394.3" cy="391.3" r="1.06" fill="#6e2a0e"/>
<circle cx="415.1" cy="392.5" r="1.11" fill="#96421a"/>
<circle cx="417.5" cy="362.5" r="1.02" fill="#7a3010"/>
<circle cx="390.5" cy="373.4" r="1.18" fill="#96421a"/>
<circle cx="397.6" cy="375.3" r="0.92" fill="#a04c20"/>
<circle cx="388.8" cy="364.1" r="1.04" fill="#96421a"/>
<circle cx="420.8" cy="391.9" r="1.19" fill="#6e2a0e"/>
<circle cx="384.9" cy="377.6" r="1.18" fill="#a04c20"/>
<circle cx="425.2" cy="396.0" r="1.18" fill="#a04c20"/>
<circle cx="414.5" cy="400.0" r="0.93" fill="#96421a"/>
<circle cx="439.3" cy="402.1" r="0.85" fill="#6e2a0e"/>
<circle cx="421.8" cy="363.9" r="1.07" fill="#a04c20"/>
<circle cx="400.8" cy="388.1" r="1.12" fill="#8a3814"/>
<circle cx="379.1" cy="398.6" r="1.05" fill="#96421a"/>
<circle cx="399.3" cy="402.3" r="0.96" fill="#7a3010"/>
<circle cx="392.5" cy="396.4" r="1.07" fill="#8a3814"/>
<circle cx="414.8" cy="405.1" r="1.23" fill="#6e2a0e"/>
<circle cx="405.2" cy="382.1" r="0.92" fill="#96421a"/>
<circle cx="426.5" cy="384.9" r="1.17" fill="#a04c20"/>
<circle cx="417.2" cy="387.6" r="1.11" fill="#8a3814"/>
<circle cx="419.3" cy="391.1" r="0.88" fill="#96421a"/>
<circle cx="407.1" cy="357.8" r="1.00" fill="#6e2a0e"/>
<circle cx="427.3" cy="358.1" r="1.05" fill="#7a3010"/>
<circle cx="421.9" cy="371.4" r="1.17" fill="#6e2a0e"/>
<circle cx="420.6" cy="371.6" r="0.96" fill="#96421a"/>
<circle cx="455.9" cy="389.5" r="0.87" fill="#7a3010"/>
<circle cx="424.2" cy="359.8" r="0.81" fill="#a04c20"/>
<circle cx="413.4" cy="390.0" r="1.17" fill="#6e2a0e"/>
<circle cx="409.3" cy="375.2" r="1.12" fill="#a04c20"/>
<circle cx="420.7" cy="382.0" r="0.88" fill="#7a3010"/>
<circle cx="404.1" cy="359.8" r="1.25" fill="#a04c20"/>
<circle cx="411.1" cy="374.3" r="0.95" fill="#7a3010"/>
<circle cx="379.7" cy="379.4" r="0.94" fill="#88401c"/>
<circle cx="459.0" cy="404.0" r="0.86" fill="#88401c"/>
<circle cx="446.3" cy="365.5" r="0.86" fill="#a04c20"/>
<circle cx="430.8" cy="406.0" r="1.05" fill="#88401c"/>
<circle cx="447.5" cy="405.1" r="1.02" fill="#7a3010"/>
<circle cx="404.4" cy="372.1" r="1.09" fill="#96421a"/>
<circle cx="422.4" cy="391.7" r="0.89" fill="#96421a"/>
<circle cx="452.8" cy="388.2" r="0.92" fill="#7a3010"/>
<circle cx="408.0" cy="401.1" r="1.01" fill="#8a3814"/>
<circle cx="413.6" cy="378.8" r="1.13" fill="#a04c20"/>
<circle cx="407.7" cy="403.3" r="0.96" fill="#88401c"/>
<circle cx="446.4" cy="362.7" r="0.84" fill="#96421a"/>
<circle cx="422.0" cy="386.3" r="1.12" fill="#96421a"/>
<circle cx="447.3" cy="400.0" r="0.89" fill="#a04c20"/>
<circle cx="403.3" cy="394.4" r="0.97" fill="#a04c20"/>
<circle cx="411.1" cy="374.7" r="1.16" fill="#88401c"/>
<circle cx="456.0" cy="368.6" r="0.89" fill="#7a3010"/>
<circle cx="442.3" cy="403.6" r="0.92" fill="#6e2a0e"/>
<circle cx="443.2" cy="382.3" r="1.01" fill="#8a3814"/>
<circle cx="409.4" cy="380.2" r="0.91" fill="#6e2a0e"/>
<circle cx="399.6" cy="406.9" r="1.13" fill="#8a3814"/>
<circle cx="389.2" cy="376.1" r="1.23" fill="#88401c"/>
<circle cx="445.9" cy="392.5" r="1.14" fill="#88401c"/>
<circle cx="381.0" cy="372.4" r="0.81" fill="#96421a"/>
<circle cx="407.8" cy="403.8" r="1.11" fill="#a04c20"/>
<circle cx="420.8" cy="386.4" r="1.22" fill="#8a3814"/>
<circle cx="424.0" cy="375.6" r="1.04" fill="#6e2a0e"/>
<circle cx="445.4" cy="356.7" r="1.21" fill="#96421a"/>
<circle cx="404.2" cy="386.8" r="0.86" fill="#96421a"/>
<circle cx="398.8" cy="393.2" r="1.01" fill="#7a3010"/>
<circle cx="445.4" cy="369.1" r="1.17" fill="#8a3814"/>
<circle cx="431.1" cy="397.1" r="0.94" fill="#7a3010"/>
<circle cx="380.1" cy="360.9" r="1.14" fill="#88401c"/>
<circle cx="420.2" cy="383.9" r="0.85" fill="#a04c20"/>
<circle cx="435.4" cy="384.7" r="1.02" fill="#6e2a0e"/>
<circle cx="407.2" cy="368.6" r="1.13" fill="#a04c20"/>
<circle cx="439.7" cy="397.6" r="0.97" fill="#7a3010"/>
<circle cx="394.8" cy="356.6" r="1.13" fill="#8a3814"/>
<circle cx="406.4" cy="362.1" r="1.04" fill="#6e2a0e"/>
<circle cx="426.5" cy="384.4" r="0.96" fill="#6e2a0e"/>
<circle cx="453.0" cy="386.7" r="1.23" fill="#6e2a0e"/>
<circle cx="440.3" cy="384.1" r="1.02" fill="#a04c20"/>
<circle cx="379.8" cy="378.9" r="1.05" fill="#8a3814"/>
<circle cx="459.2" cy="375.5" r="1.25" fill="#a04c20"/>
<circle cx="395.8" cy="401.5" r="1.24" fill="#a04c20"/>
<circle cx="440.0" cy="405.5" r="1.03" fill="#a04c20"/>
<circle cx="446.5" cy="404.8" r="1.06" fill="#8a3814"/>
<circle cx="398.0" cy="404.2" r="0.96" fill="#88401c"/>
<circle cx="436.0" cy="364.2" r="1.04" fill="#88401c"/>
<circle cx="394.5" cy="365.0" r="0.80" fill="#6e2a0e"/>
<circle cx="385.6" cy="360.2" r="0.88" fill="#88401c"/>
<circle cx="396.8" cy="397.0" r="0.98" fill="#8a3814"/>
<circle cx="435.1" cy="396.9" r="1.12" fill="#a04c20"/>
<circle cx="428.9" cy="400.3" r="1.05" fill="#8a3814"/>
<circle cx="428.3" cy="394.2" r="0.90" fill="#88401c"/>
<circle cx="452.1" cy="370.2" r="1.14" fill="#7a3010"/>
<circle cx="396.1" cy="387.0" r="0.98" fill="#88401c"/>
<circle cx="380.7" cy="378.7" r="0.92" fill="#7a3010"/>
<circle cx="455.9" cy="374.9" r="1.17" fill="#6e2a0e"/>
<circle cx="415.9" cy="393.6" r="1.17" fill="#88401c"/>
<circle cx="411.8" cy="376.4" r="0.98" fill="#a04c20"/>
<circle cx="448.8" cy="375.2" r="0.86" fill="#96421a"/>
<circle cx="394.9" cy="361.0" r="1.21" fill="#88401c"/>
<circle cx="418.1" cy="406.3" r="1.06" fill="#a04c20"/>
<circle cx="422.1" cy="388.3" r="1.23" fill="#96421a"/>
<circle cx="447.0" cy="357.7" r="0.93" fill="#a04c20"/>
<circle cx="420.2" cy="380.4" r="0.89" fill="#6e2a0e"/>
<circle cx="460.6" cy="371.5" r="0.95" fill="#6e2a0e"/>
<circle cx="396.2" cy="375.4" r="1.23" fill="#8a3814"/>
<circle cx="420.6" cy="367.0" r="1.20" fill="#a04c20"/>
<circle cx="386.3" cy="401.2" r="1.25" fill="#88401c"/>
<circle cx="448.3" cy="365.1" r="0.83" fill="#96421a"/>
<circle cx="390.6" cy="375.2" r="0.82" fill="#8a3814"/>
<circle cx="437.8" cy="404.1" r="1.08" fill="#a04c20"/>
<circle cx="423.0" cy="396.4" r="0.94" fill="#a04c20"/>
<circle cx="434.1" cy="357.8" r="1.10" fill="#6e2a0e"/>
<circle cx="451.2" cy="365.4" r="1.08" fill="#7a3010"/>
<circle cx="384.8" cy="404.0" r="0.88" fill="#7a3010"/>
<circle cx="410.3" cy="394.8" r="1.18" fill="#96421a"/>
<circle cx="459.4" cy="379.0" r="1.12" fill="#96421a"/>
<circle cx="439.3" cy="391.5" r="0.92" fill="#88401c"/>
<circle cx="416.1" cy="395.4" r="0.88" fill="#a04c20"/>
<circle cx="394.0" cy="376.8" r="0.99" fill="#88401c"/>
<circle cx="422.3" cy="379.4" r="1.11" fill="#7a3010"/>
<circle cx="453.4" cy="380.4" r="1.03" fill="#8a3814"/>
<circle cx="393.5" cy="377.0" r="0.95" fill="#96421a"/>
<circle cx="402.1" cy="371.2" r="1.04" fill="#96421a"/>
<circle cx="422.2" cy="401.7" r="0.99" fill="#a04c20"/>
<circle cx="438.7" cy="393.2" r="0.98" fill="#7a3010"/>
<circle cx="436.2" cy="364.4" r="0.82" fill="#96421a"/>
<circle cx="442.9" cy="402.0" r="1.24" fill="#8a3814"/>
<circle cx="459.7" cy="367.5" r="1.08" fill="#96421a"/>
<circle cx="396.2" cy="358.0" r="0.93" fill="#a04c20"/>
<circle cx="380.0" cy="376.3" r="0.82" fill="#88401c"/>
<circle cx="406.5" cy="394.3" r="1.23" fill="#a04c20"/>
<circle cx="433.9" cy="388.7" r="0.92" fill="#7a3010"/>
<circle cx="407.6" cy="385.1" r="1.10" fill="#96421a"/>
<circle cx="440.8" cy="378.9" r="1.14" fill="#88401c"/>
<circle cx="453.1" cy="358.6" r="1.01" fill="#96421a"/>
<circle cx="434.5" cy="365.1" r="1.21" fill="#88401c"/>
<circle cx="449.3" cy="359.3" r="1.23" fill="#7a3010"/>
<circle cx="460.2" cy="371.4" r="0.86" fill="#7a3010"/>
<circle cx="393.6" cy="386.9" r="0.93" fill="#88401c"/>
<circle cx="442.1" cy="374.6" r="0.95" fill="#6e2a0e"/>
<circle cx="448.6" cy="392.7" r="1.17" fill="#96421a"/>
<circle cx="417.0" cy="377.8" r="1.05" fill="#6e2a0e"/>
<circle cx="450.7" cy="400.8" r="1.23" fill="#88401c"/>
<circle cx="448.3" cy="386.9" r="1.09" fill="#6e2a0e"/>
<circle cx="402.4" cy="367.8" r="1.04" fill="#7a3010"/>
<circle cx="406.1" cy="389.1" r="0.99" fill="#96421a"/>
<circle cx="441.3" cy="383.3" r="0.82" fill="#a04c20"/>
<circle cx="451.6" cy="383.5" r="1.02" fill="#96421a"/>
<circle cx="448.9" cy="383.8" r="0.86" fill="#6e2a0e"/>
<circle cx="426.2" cy="403.0" r="1.13" fill="#96421a"/>
<circle cx="389.7" cy="372.6" r="0.81" fill="#7a3010"/>
<circle cx="420.2" cy="359.6" r="1.16" fill="#88401c"/>
<circle cx="407.3" cy="391.4" r="1.01" fill="#88401c"/>
<circle cx="443.6" cy="379.6" r="1.13" fill="#7a3010"/>
<circle cx="435.3" cy="367.3" r="0.84" fill="#7a3010"/>
<circle cx="378.4" cy="378.8" r="0.88" fill="#7a3010"/>
<circle cx="450.3" cy="375.6" r="1.05" fill="#7a3010"/>
<circle cx="424.5" cy="404.5" r="1.12" fill="#8a3814"/>
<circle cx="437.4" cy="384.1" r="0.83" fill="#7a3010"/>
<circle cx="442.3" cy="363.3" r="0.85" fill="#96421a"/>
<circle cx="380.2" cy="357.8" r="1.16" fill="#88401c"/>
<circle cx="380.7" cy="369.7" r="1.20" fill="#a04c20"/>
<circle cx="459.0" cy="400.5" r="1.20" fill="#6e2a0e"/>
<circle cx="427.4" cy="399.7" r="0.91" fill="#88401c"/>
<circle cx="382.3" cy="365.6" r="0.98" fill="#8a3814"/>
<circle cx="449.7" cy="366.1" r="0.91" fill="#7a3010"/>
<circle cx="459.9" cy="380.5" r="1.07" fill="#88401c"/>
<circle cx="424.9" cy="394.5" r="1.04" fill="#8a3814"/>
<circle cx="410.8" cy="379.4" r="1.24" fill="#a04c20"/>
<circle cx="403.2" cy="390.7" r="0.97" fill="#7a3010"/>
<circle cx="392.0" cy="380.4" r="1.12" fill="#96421a"/>
<circle cx="414.4" cy="375.0" r="0.99" fill="#8a3814"/>
<circle cx="409.1" cy="392.4" r="0.97" fill="#8a3814"/>
<circle cx="391.5" cy="388.9" r="0.85" fill="#96421a"/>
<circle cx="448.7" cy="399.7" r="1.10" fill="#7a3010"/>
<circle cx="423.0" cy="359.3" r="1.22" fill="#7a3010"/>
<circle cx="391.6" cy="389.1" r="1.18" fill="#96421a"/>
<circle cx="445.2" cy="404.3" r="1.12" fill="#8a3814"/>
<circle cx="398.1" cy="394.6" r="1.12" fill="#7a3010"/>
<circle cx="420.6" cy="380.2" r="1.21" fill="#6e2a0e"/>
<circle cx="414.7" cy="388.8" r="1.24" fill="#8a3814"/>
<circle cx="388.9" cy="367.2" r="0.85" fill="#8a3814"/>
<circle cx="417.5" cy="375.2" r="1.02" fill="#6e2a0e"/>
<circle cx="392.9" cy="358.2" r="0.88" fill="#6e2a0e"/>
<circle cx="440.1" cy="365.3" r="0.99" fill="#8a3814"/>
<circle cx="425.5" cy="367.3" r="1.17" fill="#96421a"/>
<circle cx="413.5" cy="398.2" r="1.12" fill="#7a3010"/>
<circle cx="414.9" cy="362.3" r="0.98" fill="#96421a"/>
<circle cx="454.4" cy="396.7" r="0.83" fill="#96421a"/>
<circle cx="402.8" cy="371.7" r="1.04" fill="#88401c"/>
<circle cx="400.2" cy="373.9" r="1.00" fill="#7a3010"/>
<circle cx="386.0" cy="374.0" r="1.03" fill="#8a3814"/>
<circle cx="439.5" cy="377.4" r="0.81" fill="#6e2a0e"/>
<circle cx="386.5" cy="394.6" r="1.21" fill="#96421a"/>
<circle cx="401.9" cy="357.8" r="0.85" fill="#88401c"/>
<circle cx="380.5" cy="401.6" r="1.17" fill="#7a3010"/>
<circle cx="459.4" cy="358.1" r="1.07" fill="#88401c"/>
<circle cx="422.3" cy="360.8" r="1.06" fill="#88401c"/>
<circle cx="447.9" cy="372.8" r="1.12" fill="#88401c"/>
<circle cx="415.1" cy="400.0" r="1.12" fill="#96421a"/>
<circle cx="393.6" cy="372.0" r="1.11" fill="#88401c"/>
<circle cx="410.9" cy="389.6" r="0.84" fill="#88401c"/>
<circle cx="446.2" cy="401.0" r="1.01" fill="#7a3010"/>
<circle cx="457.4" cy="384.9" r="0.98" fill="#96421a"/>
<circle cx="427.5" cy="374.8" r="1.07" fill="#7a3010"/>
<circle cx="395.8" cy="389.9" r="0.80" fill="#96421a"/>
<circle cx="420.2" cy="365.9" r="1.24" fill="#7a3010"/>
<circle cx="379.2" cy="377.7" r="1.03" fill="#88401c"/>
<circle cx="398.2" cy="371.0" r="0.97" fill="#7a3010"/>
<circle cx="392.1" cy="396.4" r="1.07" fill="#88401c"/>
<circle cx="431.4" cy="378.4" r="1.08" fill="#8a3814"/>
<circle cx="456.0" cy="380.0" r="1.22" fill="#6e2a0e"/>
<circle cx="424.2" cy="392.1" r="0.88" fill="#6e2a0e"/>
<circle cx="422.4" cy="373.8" r="0.83" fill="#a04c20"/>
<circle cx="452.9" cy="375.1" r="0.88" fill="#6e2a0e"/>
<circle cx="398.8" cy="357.7" r="1.07" fill="#7a3010"/>
<circle cx="399.9" cy="374.8" r="0.80" fill="#8a3814"/>
<circle cx="411.1" cy="398.0" r="0.87" fill="#8a3814"/>
<circle cx="395.8" cy="404.1" r="0.87" fill="#7a3010"/>
<circle cx="445.6" cy="372.7" r="0.83" fill="#8a3814"/>
<circle cx="437.8" cy="369.0" r="1.16" fill="#a04c20"/>
<circle cx="413.4" cy="395.7" r="0.91" fill="#6e2a0e"/>
<circle cx="378.3" cy="360.0" r="0.91" fill="#8a3814"/>
<circle cx="424.5" cy="364.2" r="1.24" fill="#8a3814"/>
<circle cx="419.1" cy="374.6" r="1.05" fill="#8a3814"/>
<circle cx="426.5" cy="397.9" r="0.85" fill="#88401c"/>
<circle cx="446.8" cy="390.6" r="0.85" fill="#96421a"/>
<circle cx="453.7" cy="371.2" r="0.89" fill="#6e2a0e"/>
<circle cx="406.0" cy="382.2" r="1.16" fill="#88401c"/>
<circle cx="388.0" cy="377.1" r="1.12" fill="#88401c"/>
<circle cx="408.7" cy="389.3" r="0.81" fill="#7a3010"/>
<circle cx="398.2" cy="400.2" r="1.15" fill="#88401c"/>
<circle cx="426.1" cy="388.4" r="0.96" fill="#88401c"/>
<circle cx="415.1" cy="402.5" r="1.09" fill="#96421a"/>
<circle cx="416.7" cy="403.3" r="1.10" fill="#8a3814"/>
<circle cx="390.5" cy="396.1" r="1.23" fill="#a04c20"/>
<circle cx="448.2" cy="398.8" r="1.17" fill="#96421a"/>
<circle cx="445.0" cy="381.6" r="1.09" fill="#7a3010"/>
<circle cx="447.3" cy="359.1" r="0.81" fill="#8a3814"/>
<circle cx="447.8" cy="398.4" r="1.18" fill="#6e2a0e"/>
<circle cx="445.3" cy="399.7" r="1.03" fill="#88401c"/>
<circle cx="414.6" cy="384.0" r="1.05" fill="#6e2a0e"/>
<circle cx="392.0" cy="383.5" r="0.84" fill="#6e2a0e"/>
<circle cx="408.3" cy="386.4" r="0.95" fill="#7a3010"/>
<circle cx="413.6" cy="393.9" r="1.03" fill="#88401c"/>
<circle cx="433.2" cy="405.6" r="1.24" fill="#8a3814"/>
<circle cx="444.3" cy="367.4" r="0.93" fill="#7a3010"/>
<circle cx="392.2" cy="399.4" r="1.03" fill="#7a3010"/>
<circle cx="432.8" cy="362.7" r="0.98" fill="#88401c"/>
<circle cx="411.8" cy="379.9" r="0.83" fill="#8a3814"/>
<circle cx="382.9" cy="371.6" r="0.97" fill="#6e2a0e"/>
<circle cx="451.8" cy="358.6" r="0.89" fill="#6e2a0e"/>
<circle cx="401.8" cy="390.6" r="0.93" fill="#7a3010"/>
<circle cx="405.6" cy="359.7" r="1.21" fill="#8a3814"/>
<circle cx="399.5" cy="376.5" r="0.95" fill="#96421a"/>
<circle cx="455.5" cy="362.8" r="0.93" fill="#8a3814"/>
<circle cx="442.1" cy="392.8" r="1.12" fill="#a04c20"/>
<circle cx="403.8" cy="372.9" r="0.84" fill="#7a3010"/>
<circle cx="443.9" cy="395.5" r="0.93" fill="#6e2a0e"/>
<circle cx="403.6" cy="384.6" r="0.92" fill="#6e2a0e"/>
<circle cx="399.8" cy="406.4" r="0.91" fill="#8a3814"/>
<circle cx="443.9" cy="385.2" r="1.10" fill="#a04c20"/>
<circle cx="402.8" cy="363.5" r="1.21" fill="#a04c20"/>
<circle cx="383.0" cy="357.1" r="1.11" fill="#88401c"/>
<circle cx="441.9" cy="375.6" r="1.11" fill="#6e2a0e"/>
<circle cx="428.8" cy="377.5" r="0.95" fill="#7a3010"/>
<circle cx="451.0" cy="376.1" r="1.04" fill="#6e2a0e"/>
<circle cx="397.3" cy="363.4" r="1.18" fill="#7a3010"/>
<circle cx="446.9" cy="381.4" r="1.14" fill="#a04c20"/>
<circle cx="401.4" cy="382.8" r="1.01" fill="#7a3010"/>
<circle cx="455.9" cy="378.2" r="1.20" fill="#7a3010"/>
<circle cx="380.0" cy="387.4" r="0.92" fill="#88401c"/>
<circle cx="397.2" cy="399.7" r="1.21" fill="#6e2a0e"/>
<circle cx="393.7" cy="370.5" r="1.24" fill="#7a3010"/>
<circle cx="435.7" cy="381.3" r="0.83" fill="#88401c"/>
<circle cx="410.5" cy="380.6" r="1.08" fill="#7a3010"/>
<circle cx="427.1" cy="374.5" r="1.16" fill="#96421a"/>
<circle cx="433.2" cy="372.3" r="1.14" fill="#7a3010"/>
<circle cx="382.1" cy="395.7" r="0.93" fill="#96421a"/>
<circle cx="445.8" cy="367.9" r="1.22" fill="#a04c20"/>
<circle cx="451.5" cy="388.6" r="0.94" fill="#6e2a0e"/>
<circle cx="402.2" cy="361.6" r="0.82" fill="#a04c20"/>
<circle cx="452.2" cy="371.9" r="1.00" fill="#96421a"/>
<circle cx="428.4" cy="398.7" r="1.09" fill="#6e2a0e"/>
<circle cx="449.4" cy="387.0" r="0.98" fill="#a04c20"/>
<circle cx="425.5" cy="392.5" r="1.08" fill="#96421a"/>
<circle cx="385.2" cy="406.1" r="0.95" fill="#6e2a0e"/>
<circle cx="429.3" cy="374.1" r="0.91" fill="#7a3010"/>
<circle cx="455.6" cy="375.1" r="1.01" fill="#96421a"/>
<circle cx="408.1" cy="361.6" r="1.06" fill="#6e2a0e"/>
<circle cx="383.6" cy="375.2" r="1.01" fill="#6e2a0e"/>
<circle cx="423.2" cy="357.7" r="1.06" fill="#a04c20"/>
<circle cx="397.0" cy="366.3" r="1.22" fill="#8a3814"/>
<circle cx="421.9" cy="361.5" r="0.81" fill="#a04c20"/>
<circle cx="395.9" cy="393.3" r="1.18" fill="#8a3814"/>
<circle cx="426.7" cy="369.8" r="1.14" fill="#6e2a0e"/>
<circle cx="385.4" cy="389.8" r="1.05" fill="#96421a"/>
<circle cx="393.8" cy="384.4" r="1.16" fill="#88401c"/>
<circle cx="397.2" cy="399.8" r="0.87" fill="#88401c"/>
<circle cx="380.6" cy="364.2" r="0.96" fill="#8a3814"/>
<circle cx="412.2" cy="366.3" r="1.18" fill="#88401c"/>
<circle cx="405.8" cy="390.6" r="0.90" fill="#88401c"/>
<circle cx="451.2" cy="381.2" r="1.24" fill="#96421a"/>
<circle cx="429.0" cy="380.0" r="1.03" fill="#6e2a0e"/>
<circle cx="447.5" cy="366.1" r="1.19" fill="#8a3814"/>
<circle cx="389.7" cy="400.6" r="1.01" fill="#88401c"/>
<circle cx="439.1" cy="371.6" r="0.92" fill="#7a3010"/>
<circle cx="392.2" cy="373.9" r="0.80" fill="#7a3010"/>
<circle cx="390.9" cy="376.3" r="0.87" fill="#96421a"/>
<circle cx="420.7" cy="368.0" r="1.14" fill="#88401c"/>
<circle cx="460.6" cy="358.6" r="1.19" fill="#96421a"/>
<circle cx="435.5" cy="366.0" r="1.15" fill="#8a3814"/>
<circle cx="429.7" cy="388.1" r="0.96" fill="#88401c"/>
<circle cx="444.4" cy="385.1" r="0.83" fill="#96421a"/>
<circle cx="450.9" cy="405.6" r="0.95" fill="#96421a"/>
<circle cx="423.4" cy="361.4" r="0.84" fill="#6e2a0e"/>
<circle cx="432.3" cy="400.6" r="1.23" fill="#96421a"/>
<circle cx="388.4" cy="365.4" r="0.81" fill="#96421a"/>
<circle cx="449.6" cy="372.7" r="0.99" fill="#6e2a0e"/>
<circle cx="444.6" cy="359.7" r="0.95" fill="#88401c"/>
<circle cx="430.6" cy="405.4" r="1.18" fill="#7a3010"/>
<circle cx="426.4" cy="374.6" r="1.04" fill="#8a3814"/>
<circle cx="453.5" cy="384.7" r="1.06" fill="#7a3010"/>
<circle cx="414.5" cy="368.9" r="1.09" fill="#8a3814"/>
<circle cx="444.1" cy="364.9" r="0.94" fill="#96421a"/>
<circle cx="408.4" cy="404.5" r="0.97" fill="#6e2a0e"/>
<circle cx="425.7" cy="392.3" r="1.23" fill="#88401c"/>
<circle cx="458.7" cy="393.3" r="0.99" fill="#8a3814"/>
<circle cx="395.0" cy="406.1" r="1.06" fill="#7a3010"/>
<circle cx="419.2" cy="359.4" r="0.94" fill="#88401c"/>
<circle cx="391.1" cy="368.1" r="1.08" fill="#7a3010"/>
<circle cx="434.7" cy="385.9" r="0.91" fill="#a04c20"/>
<circle cx="435.8" cy="357.1" r="0.92" fill="#96421a"/>
<circle cx="430.8" cy="367.3" r="0.85" fill="#6e2a0e"/>
<circle cx="414.1" cy="406.5" r="1.24" fill="#7a3010"/>
<circle cx="440.8" cy="401.5" r="0.98" fill="#96421a"/>
<circle cx="457.4" cy="401.1" r="0.91" fill="#a04c20"/>
<circle cx="438.1" cy="385.8" r="1.19" fill="#96421a"/>
<circle cx="389.7" cy="396.4" r="0.94" fill="#88401c"/>
<circle cx="441.9" cy="374.8" r="1.19" fill="#a04c20"/>
<circle cx="396.7" cy="363.7" r="0.94" fill="#88401c"/>
<circle cx="405.5" cy="387.9" r="1.23" fill="#a04c20"/>
<circle cx="444.2" cy="385.1" r="0.81" fill="#a04c20"/>
<circle cx="407.1" cy="389.1" r="1.03" fill="#8a3814"/>
<circle cx="446.3" cy="400.5" r="1.04" fill="#a04c20"/>
<circle cx="437.5" cy="365.4" r="0.99" fill="#8a3814"/>
<circle cx="435.0" cy="361.9" r="1.21" fill="#a04c20"/>
<circle cx="389.7" cy="400.6" r="0.98" fill="#88401c"/>
<circle cx="411.6" cy="368.9" r="1.02" fill="#6e2a0e"/>
<circle cx="381.8" cy="367.0" r="0.84" fill="#6e2a0e"/>
<circle cx="454.7" cy="378.3" r="0.94" fill="#8a3814"/>
<circle cx="453.4" cy="367.1" r="0.81" fill="#8a3814"/>
<circle cx="449.1" cy="375.7" r="1.17" fill="#96421a"/>
<circle cx="403.8" cy="388.2" r="1.20" fill="#6e2a0e"/>
<circle cx="412.0" cy="395.6" r="1.20" fill="#96421a"/>
<circle cx="448.8" cy="397.7" r="1.18" fill="#6e2a0e"/>
<circle cx="379.5" cy="360.1" r="0.98" fill="#8a3814"/>
<circle cx="442.5" cy="372.9" r="0.88" fill="#8a3814"/>
<circle cx="429.3" cy="395.8" r="1.02" fill="#8a3814"/>
<circle cx="434.5" cy="383.3" r="0.89" fill="#7a3010"/>
<circle cx="391.4" cy="398.6" r="0.97" fill="#a04c20"/>
<circle cx="430.5" cy="367.8" r="1.22" fill="#6e2a0e"/>
<circle cx="436.8" cy="390.6" r="0.95" fill="#7a3010"/>
<circle cx="391.7" cy="397.5" r="0.99" fill="#8a3814"/>
<circle cx="455.3" cy="382.8" r="1.20" fill="#88401c"/>
<circle cx="422.7" cy="398.1" r="1.23" fill="#96421a"/>
<circle cx="411.3" cy="404.0" r="0.90" fill="#96421a"/>
<circle cx="383.2" cy="374.6" r="1.09" fill="#96421a"/>
<circle cx="379.9" cy="378.3" r="0.91" fill="#7a3010"/>
<circle cx="394.0" cy="392.8" r="0.89" fill="#7a3010"/>
<circle cx="390.1" cy="392.0" r="1.25" fill="#96421a"/>
<circle cx="399.6" cy="365.0" r="1.00" fill="#96421a"/>
<circle cx="409.7" cy="397.4" r="0.99" fill="#a04c20"/>
<circle cx="407.6" cy="364.7" r="1.01" fill="#7a3010"/>
<circle cx="414.9" cy="384.8" r="1.14" fill="#8a3814"/>
<circle cx="386.6" cy="383.1" r="0.93" fill="#a04c20"/>
<circle cx="408.7" cy="399.8" r="1.11" fill="#7a3010"/>
<circle cx="403.7" cy="391.6" r="1.02" fill="#8a3814"/>
<circle cx="433.7" cy="379.7" r="1.16" fill="#7a3010"/>
<circle cx="440.7" cy="359.0" r="1.25" fill="#7a3010"/>
<circle cx="430.1" cy="392.9" r="1.10" fill="#6e2a0e"/>
<circle cx="430.3" cy="404.7" r="1.20" fill="#88401c"/>
<circle cx="417.6" cy="374.5" r="1.21" fill="#6e2a0e"/>
<circle cx="443.1" cy="374.2" r="0.82" fill="#6e2a0e"/>
<circle cx="395.7" cy="385.0" r="0.96" fill="#6e2a0e"/>
<circle cx="402.8" cy="402.6" r="0.84" fill="#a04c20"/>
<circle cx="448.6" cy="401.4" r="1.24" fill="#7a3010"/>
<circle cx="424.5" cy="382.9" r="0.87" fill="#6e2a0e"/>
<circle cx="433.6" cy="399.4" r="0.88" fill="#a04c20"/>
<circle cx="457.8" cy="362.5" r="0.84" fill="#a04c20"/>
<circle cx="393.6" cy="404.3" r="1.00" fill="#7a3010"/>
<circle cx="427.8" cy="382.5" r="0.82" fill="#7a3010"/>
<circle cx="432.7" cy="369.7" r="1.04" fill="#96421a"/>
<circle cx="445.0" cy="357.3" r="1.15" fill="#6e2a0e"/>
<circle cx="430.8" cy="406.2" r="0.87" fill="#8a3814"/>
<circle cx="410.8" cy="404.9" r="1.21" fill="#6e2a0e"/>
<circle cx="449.5" cy="396.1" r="1.13" fill="#7a3010"/>
<circle cx="447.8" cy="369.8" r="1.16" fill="#96421a"/>
<circle cx="388.9" cy="386.5" r="1.14" fill="#6e2a0e"/>
<circle cx="419.6" cy="369.2" r="1.22" fill="#96421a"/>
<circle cx="454.4" cy="385.2" r="0.93" fill="#96421a"/>
<circle cx="457.2" cy="367.9" r="1.20" fill="#7a3010"/>
<circle cx="449.6" cy="400.5" r="1.10" fill="#88401c"/>
<circle cx="397.1" cy="369.5" r="0.95" fill="#7a3010"/>
<circle cx="437.9" cy="385.3" r="1.12" fill="#88401c"/>
<circle cx="402.6" cy="368.8" r="0.90" fill="#7a3010"/>
<circle cx="448.0" cy="357.7" r="1.14" fill="#a04c20"/>
<circle cx="444.5" cy="396.7" r="0.98" fill="#88401c"/>
<circle cx="457.9" cy="386.7" r="0.87" fill="#7a3010"/>
<circle cx="438.3" cy="402.4" r="1.21" fill="#a04c20"/>
<circle cx="433.0" cy="374.9" r="1.17" fill="#96421a"/>
<circle cx="393.7" cy="398.1" r="0.85" fill="#7a3010"/>
<circle cx="446.5" cy="375.1" r="0.93" fill="#96421a"/>
<circle cx="391.4" cy="385.4" r="1.11" fill="#96421a"/>
<circle cx="404.8" cy="398.1" r="0.89" fill="#96421a"/>
<circle cx="418.6" cy="377.9" r="1.09" fill="#8a3814"/>
<circle cx="420.5" cy="388.1" r="0.82" fill="#a04c20"/>
<circle cx="422.1" cy="406.4" r="0.84" fill="#8a3814"/>
<circle cx="396.3" cy="383.2" r="0.99" fill="#a04c20"/>
<circle cx="398.5" cy="368.4" r="1.00" fill="#96421a"/>
<circle cx="452.2" cy="379.3" r="0.82" fill="#6e2a0e"/>
<circle cx="403.7" cy="404.7" r="1.18" fill="#a04c20"/>
<circle cx="460.0" cy="385.1" r="1.23" fill="#96421a"/>
<circle cx="417.7" cy="381.7" r="1.21" fill="#96421a"/>
<circle cx="399.9" cy="395.3" r="1.19" fill="#8a3814"/>
<circle cx="387.4" cy="398.6" r="0.83" fill="#96421a"/>
<circle cx="379.2" cy="358.3" r="0.99" fill="#96421a"/>
<circle cx="443.0" cy="371.9" r="1.04" fill="#6e2a0e"/>
<circle cx="436.5" cy="379.4" r="1.06" fill="#7a3010"/>
<circle cx="450.5" cy="378.2" r="1.07" fill="#7a3010"/>
<circle cx="405.7" cy="390.6" r="1.05" fill="#8a3814"/>
<circle cx="459.9" cy="397.1" r="0.88" fill="#88401c"/>
<circle cx="445.2" cy="403.2" r="0.86" fill="#8a3814"/>
<circle cx="450.1" cy="388.5" r="1.21" fill="#8a3814"/>
<circle cx="421.0" cy="399.1" r="1.21" fill="#7a3010"/>
<circle cx="453.9" cy="377.9" r="1.21" fill="#6e2a0e"/>
<circle cx="428.3" cy="394.8" r="1.14" fill="#8a3814"/>
<circle cx="438.5" cy="380.5" r="1.13" fill="#a04c20"/>
<circle cx="412.0" cy="375.9" r="1.05" fill="#6e2a0e"/>
<circle cx="383.2" cy="385.1" r="1.19" fill="#88401c"/>
<circle cx="448.2" cy="390.1" r="0.95" fill="#8a3814"/>
<circle cx="420.2" cy="383.1" r="0.92" fill="#88401c"/>
<circle cx="399.0" cy="399.6" r="0.81" fill="#7a3010"/>
<circle cx="409.5" cy="384.5" r="1.05" fill="#a04c20"/>
<circle cx="437.9" cy="362.0" r="1.01" fill="#8a3814"/>
<circle cx="436.3" cy="390.5" r="1.10" fill="#8a3814"/>
<circle cx="410.2" cy="400.7" r="1.18" fill="#7a3010"/>
<circle cx="398.5" cy="374.3" r="1.14" fill="#96421a"/>
<circle cx="391.7" cy="401.6" r="0.89" fill="#a04c20"/>
<circle cx="381.9" cy="401.5" r="1.04" fill="#88401c"/>
<circle cx="460.7" cy="362.6" r="0.86" fill="#88401c"/>
<circle cx="458.1" cy="395.2" r="1.20" fill="#96421a"/>
<circle cx="398.7" cy="397.0" r="1.16" fill="#8a3814"/>
<circle cx="383.6" cy="392.9" r="0.96" fill="#88401c"/>
<circle cx="401.7" cy="400.8" r="1.00" fill="#96421a"/>
<circle cx="401.6" cy="360.5" r="1.00" fill="#88401c"/>
<circle cx="422.9" cy="388.4" r="1.11" fill="#96421a"/>
<circle cx="454.7" cy="378.5" r="0.97" fill="#88401c"/>
<circle cx="403.7" cy="371.3" r="0.90" fill="#7a3010"/>
<circle cx="436.6" cy="362.3" r="1.09" fill="#96421a"/>
<circle cx="385.1" cy="362.8" r="0.87" fill="#8a3814"/>
<circle cx="413.2" cy="358.7" r="1.03" fill="#6e2a0e"/>
<circle cx="387.1" cy="372.2" r="0.91" fill="#96421a"/>
<circle cx="399.4" cy="358.2" r="0.95" fill="#7a3010"/>
<circle cx="405.7" cy="373.3" r="0.99" fill="#8a3814"/>
<circle cx="456.5" cy="393.2" r="1.22" fill="#a04c20"/>
<circle cx="398.2" cy="393.2" r="0.95" fill="#7a3010"/>
<circle cx="444.0" cy="387.5" r="0.96" fill="#96421a"/>
<circle cx="391.9" cy="357.0" r="0.91" fill="#7a3010"/>
<circle cx="445.1" cy="405.5" r="0.82" fill="#a04c20"/>
<circle cx="384.0" cy="357.3" r="1.21" fill="#6e2a0e"/>
<circle cx="444.9" cy="380.3" r="1.03" fill="#88401c"/>
<circle cx="414.9" cy="369.9" r="1.09" fill="#6e2a0e"/>
<circle cx="390.0" cy="397.0" r="0.81" fill="#a04c20"/>
<circle cx="456.8" cy="364.4" r="1.21" fill="#88401c"/>
<circle cx="436.1" cy="369.5" r="1.15" fill="#7a3010"/>
<circle cx="434.3" cy="384.2" r="0.94" fill="#6e2a0e"/>
<circle cx="441.0" cy="380.4" r="0.89" fill="#8a3814"/>
<circle cx="399.9" cy="402.0" r="1.24" fill="#96421a"/>
<circle cx="447.4" cy="400.0" r="1.10" fill="#96421a"/>
<circle cx="411.0" cy="372.7" r="1.10" fill="#6e2a0e"/>
<circle cx="386.8" cy="364.2" r="0.87" fill="#8a3814"/>
<circle cx="449.7" cy="368.7" r="0.92" fill="#8a3814"/>
<circle cx="457.5" cy="371.9" r="0.89" fill="#88401c"/>
<circle cx="389.7" cy="386.6" r="1.13" fill="#88401c"/>
<circle cx="436.4" cy="394.0" r="0.94" fill="#6e2a0e"/>
<circle cx="437.5" cy="399.8" r="1.02" fill="#96421a"/>
<circle cx="458.6" cy="388.2" r="0.94" fill="#88401c"/>
<circle cx="380.2" cy="369.1" r="1.12" fill="#7a3010"/>
<circle cx="444.8" cy="400.3" r="0.98" fill="#8a3814"/>
<circle cx="434.9" cy="389.4" r="1.07" fill="#a04c20"/>
<circle cx="442.6" cy="358.4" r="1.02" fill="#6e2a0e"/>
<circle cx="424.0" cy="406.4" r="0.88" fill="#8a3814"/>
<circle cx="416.6" cy="364.8" r="1.19" fill="#96421a"/>
<circle cx="454.7" cy="385.1" r="1.17" fill="#96421a"/>
<circle cx="419.4" cy="371.6" r="0.83" fill="#6e2a0e"/>
<circle cx="412.2" cy="366.6" r="0.90" fill="#6e2a0e"/>
<circle cx="438.3" cy="391.2" r="1.20" fill="#88401c"/>
<circle cx="401.5" cy="400.3" r="0.81" fill="#6e2a0e"/>
<circle cx="396.1" cy="367.1" r="1.03" fill="#88401c"/>
<circle cx="424.6" cy="377.0" r="0.91" fill="#88401c"/>
<circle cx="458.9" cy="370.3" r="1.03" fill="#7a3010"/>
<circle cx="401.0" cy="393.8" r="1.22" fill="#8a3814"/>
<circle cx="448.7" cy="360.0" r="1.22" fill="#8a3814"/>
<circle cx="425.7" cy="374.2" r="1.01" fill="#7a3010"/>
<circle cx="426.2" cy="358.9" r="0.83" fill="#6e2a0e"/>
<circle cx="382.2" cy="367.7" r="1.18" fill="#6e2a0e"/>
<circle cx="455.1" cy="372.7" r="0.81" fill="#8a3814"/>
<circle cx="394.4" cy="367.5" r="1.01" fill="#8a3814"/>
<circle cx="413.9" cy="385.5" r="0.96" fill="#6e2a0e"/>
<circle cx="398.1" cy="392.7" r="1.11" fill="#7a3010"/>
<circle cx="390.0" cy="394.9" r="1.19" fill="#a04c20"/>
<circle cx="380.6" cy="364.7" r="1.01" fill="#7a3010"/>
<circle cx="386.2" cy="394.4" r="0.97" fill="#6e2a0e"/>
<circle cx="401.6" cy="367.3" r="1.22" fill="#a04c20"/>
<circle cx="432.9" cy="371.9" r="0.96" fill="#96421a"/>
<circle cx="391.3" cy="395.1" r="1.19" fill="#96421a"/>
<circle cx="432.0" cy="404.0" r="0.86" fill="#96421a"/>
<circle cx="399.4" cy="385.2" r="0.80" fill="#a04c20"/>
<circle cx="396.5" cy="366.4" r="0.95" fill="#96421a"/>
<circle cx="410.7" cy="401.1" r="0.95" fill="#8a3814"/>
<circle cx="423.5" cy="373.9" r="0.98" fill="#96421a"/>
<circle cx="439.7" cy="395.2" r="1.08" fill="#a04c20"/>
<circle cx="395.3" cy="390.7" r="0.98" fill="#6e2a0e"/>
<circle cx="456.7" cy="358.5" r="1.17" fill="#96421a"/>
<circle cx="435.2" cy="405.1" r="1.05" fill="#7a3010"/>
<circle cx="439.2" cy="385.3" r="0.88" fill="#96421a"/>
<circle cx="440.8" cy="374.3" r="0.96" fill="#88401c"/>
<circle cx="459.4" cy="358.1" r="1.20" fill="#a04c20"/>
<circle cx="419.5" cy="403.9" r="1.18" fill="#8a3814"/>
<circle cx="412.4" cy="371.9" r="1.00" fill="#a04c20"/>
<circle cx="411.5" cy="378.6" r="0.88" fill="#7a3010"/>
<circle cx="382.4" cy="384.0" r="1.08" fill="#a04c20"/>
<circle cx="458.5" cy="399.8" r="1.25" fill="#88401c"/>
<circle cx="394.3" cy="382.3" r="1.12" fill="#96421a"/>
<circle cx="438.3" cy="365.8" r="0.96" fill="#7a3010"/>
<circle cx="391.4" cy="387.5" r="0.87" fill="#7a3010"/>
<circle cx="424.8" cy="359.3" r="0.84" fill="#96421a"/>
<circle cx="444.4" cy="400.3" r="1.09" fill="#6e2a0e"/>
<circle cx="413.0" cy="405.1" r="1.02" fill="#7a3010"/>
<circle cx="455.4" cy="389.6" r="1.17" fill="#8a3814"/>
<circle cx="458.5" cy="391.2" r="1.08" fill="#96421a"/>
<circle cx="453.6" cy="394.3" r="0.82" fill="#a04c20"/>
<circle cx="387.8" cy="405.6" r="1.22" fill="#a04c20"/>
<circle cx="405.9" cy="381.9" r="1.20" fill="#96421a"/>
<circle cx="395.3" cy="370.7" r="0.93" fill="#7a3010"/>
<circle cx="388.9" cy="357.8" r="0.82" fill="#7a3010"/>
<circle cx="406.9" cy="390.9" r="1.11" fill="#8a3814"/>
<circle cx="382.6" cy="404.4" r="0.86" fill="#88401c"/>
<circle cx="455.6" cy="404.9" r="0.88" fill="#6e2a0e"/>
<circle cx="415.5" cy="385.4" r="0.83" fill="#8a3814"/>
<circle cx="394.7" cy="388.1" r="1.09" fill="#6e2a0e"/>
<circle cx="437.7" cy="364.4" r="1.04" fill="#96421a"/>
<circle cx="385.5" cy="399.7" r="1.15" fill="#8a3814"/>
<circle cx="418.8" cy="397.1" r="0.86" fill="#96421a"/>
<circle cx="378.4" cy="367.9" r="1.12" fill="#7a3010"/>
<circle cx="411.4" cy="402.2" r="1.12" fill="#7a3010"/>
<circle cx="390.0" cy="361.2" r="0.80" fill="#88401c"/>
<circle cx="384.4" cy="400.1" r="0.88" fill="#88401c"/>
<circle cx="449.6" cy="380.7" r="0.81" fill="#96421a"/>
<circle cx="392.4" cy="367.1" r="0.88" fill="#a04c20"/>
<circle cx="418.9" cy="403.0" r="1.21" fill="#6e2a0e"/>
<circle cx="404.9" cy="383.8" r="1.10" fill="#96421a"/>
<circle cx="398.6" cy="373.4" r="1.07" fill="#88401c"/>
<circle cx="457.2" cy="378.5" r="1.06" fill="#a04c20"/>
<circle cx="444.1" cy="400.5" r="1.08" fill="#96421a"/>
<circle cx="418.7" cy="384.7" r="0.95" fill="#7a3010"/>
<circle cx="407.4" cy="373.6" r="0.89" fill="#96421a"/>
<circle cx="440.5" cy="395.5" r="0.97" fill="#a04c20"/>
<circle cx="416.9" cy="389.2" r="1.20" fill="#6e2a0e"/>
<circle cx="433.7" cy="366.3" r="1.13" fill="#7a3010"/>
<circle cx="434.5" cy="393.3" r="0.94" fill="#88401c"/>
<circle cx="410.3" cy="365.9" r="0.83" fill="#a04c20"/>
<circle cx="398.9" cy="405.3" r="1.11" fill="#96421a"/>
<circle cx="439.0" cy="381.8" r="0.99" fill="#96421a"/>
<circle cx="458.1" cy="391.7" r="0.86" fill="#6e2a0e"/>
<circle cx="442.1" cy="401.7" r="0.81" fill="#88401c"/>
<circle cx="437.2" cy="376.6" r="1.07" fill="#a04c20"/>
<circle cx="457.5" cy="380.1" r="0.82" fill="#8a3814"/>
<circle cx="396.1" cy="381.4" r="0.92" fill="#96421a"/>
<circle cx="411.9" cy="399.2" r="1.04" fill="#6e2a0e"/>
<circle cx="443.5" cy="377.9" r="0.82" fill="#88401c"/>
<circle cx="401.7" cy="362.7" r="1.00" fill="#7a3010"/>
<circle cx="452.0" cy="376.9" r="1.02" fill="#8a3814"/>
<circle cx="401.1" cy="380.5" r="1.01" fill="#8a3814"/>
<circle cx="431.5" cy="388.1" r="0.83" fill="#7a3010"/>
<circle cx="419.1" cy="367.7" r="0.92" fill="#6e2a0e"/>
<circle cx="389.2" cy="402.1" r="0.86" fill="#6e2a0e"/>
<circle cx="438.1" cy="359.0" r="0.81" fill="#96421a"/>
<circle cx="438.2" cy="406.6" r="0.89" fill="#6e2a0e"/>
<circle cx="405.1" cy="405.2" r="0.90" fill="#96421a"/>
<circle cx="419.7" cy="392.0" r="1.11" fill="#6e2a0e"/>
<circle cx="450.5" cy="357.7" r="1.09" fill="#7a3010"/>
<circle cx="445.3" cy="400.2" r="0.87" fill="#a04c20"/>
<circle cx="430.4" cy="390.1" r="1.17" fill="#6e2a0e"/>
<circle cx="453.3" cy="389.8" r="1.23" fill="#88401c"/>
<circle cx="384.0" cy="386.4" r="0.88" fill="#96421a"/>
<circle cx="432.7" cy="363.4" r="1.05" fill="#6e2a0e"/>
<circle cx="432.6" cy="391.9" r="1.24" fill="#96421a"/>
<circle cx="444.6" cy="400.3" r="1.07" fill="#a04c20"/>
<circle cx="459.0" cy="392.8" r="1.20" fill="#7a3010"/>
<circle cx="403.8" cy="359.2" r="1.12" fill="#96421a"/>
<circle cx="388.1" cy="384.9" r="0.90" fill="#6e2a0e"/>
<circle cx="417.9" cy="397.4" r="1.08" fill="#88401c"/>
<circle cx="395.1" cy="406.7" r="0.92" fill="#8a3814"/>
<circle cx="459.2" cy="360.7" r="0.80" fill="#a04c20"/>
<circle cx="446.7" cy="389.0" r="0.81" fill="#6e2a0e"/>
<circle cx="389.5" cy="373.1" r="1.23" fill="#96421a"/>
<circle cx="411.4" cy="381.3" r="0.84" fill="#a04c20"/>
<circle cx="423.5" cy="383.7" r="1.13" fill="#88401c"/>
<circle cx="433.6" cy="401.0" r="1.06" fill="#88401c"/>
<circle cx="415.6" cy="400.2" r="0.92" fill="#96421a"/>
<circle cx="457.8" cy="403.4" r="0.98" fill="#a04c20"/>
<circle cx="397.2" cy="359.1" r="1.11" fill="#7a3010"/>
<circle cx="381.9" cy="374.1" r="1.02" fill="#8a3814"/>
<circle cx="458.3" cy="373.2" r="0.82" fill="#96421a"/>
<circle cx="433.5" cy="367.6" r="0.83" fill="#8a3814"/>
<circle cx="460.6" cy="363.9" r="0.85" fill="#96421a"/>
<circle cx="455.4" cy="362.5" r="1.09" fill="#6e2a0e"/>
<circle cx="406.3" cy="362.6" r="1.01" fill="#7a3010"/>
<circle cx="437.9" cy="361.0" r="1.08" fill="#6e2a0e"/>
<circle cx="412.3" cy="368.1" r="1.22" fill="#6e2a0e"/>
<circle cx="399.2" cy="381.1" r="1.23" fill="#6e2a0e"/>
<circle cx="419.6" cy="394.1" r="1.01" fill="#6e2a0e"/>
<circle cx="385.2" cy="406.8" r="1.06" fill="#a04c20"/>
<circle cx="444.6" cy="361.8" r="0.91" fill="#96421a"/>
<circle cx="433.0" cy="371.9" r="1.04" fill="#7a3010"/>
<circle cx="450.5" cy="357.7" r="0.95" fill="#8a3814"/>
<circle cx="456.1" cy="400.7" r="1.02" fill="#8a3814"/>
<circle cx="423.0" cy="375.1" r="0.83" fill="#96421a"/>
<circle cx="444.9" cy="389.6" r="0.88" fill="#a04c20"/>
<circle cx="426.9" cy="381.5" r="0.88" fill="#6e2a0e"/>
<circle cx="430.1" cy="393.0" r="1.13" fill="#a04c20"/>
<circle cx="419.9" cy="398.1" r="0.96" fill="#8a3814"/>
<circle cx="447.5" cy="379.5" r="1.02" fill="#88401c"/>
<circle cx="437.3" cy="393.7" r="0.83" fill="#96421a"/>
<circle cx="395.5" cy="406.9" r="0.95" fill="#88401c"/>
<circle cx="394.5" cy="395.6" r="0.88" fill="#7a3010"/>
<circle cx="445.2" cy="401.1" r="0.98" fill="#96421a"/>
<circle cx="444.4" cy="377.3" r="1.03" fill="#8a3814"/>
</g>
<rect x="452.0" y="404.5" width="7.8" height="1.3" fill="#111"/>
</g>
<clipPath id="cp4"><rect x="463.4" y="356.6" width="81.6" height="50.5"/></clipPath>
<g clip-path="url(#cp4)">
<rect x="463.4" y="356.6" width="81.6" height="50.5" fill="#cdc7ca"/>
<circle cx="482.7" cy="361.8" r="0.8" fill="#9d8ea0" opacity="0.35"/>
<circle cx="470.8" cy="357.6" r="0.9" fill="#a89090" opacity="0.35"/>
<circle cx="528.7" cy="395.2" r="0.7" fill="#b0a0a8" opacity="0.35"/>
<circle cx="492.8" cy="396.0" r="1.0" fill="#a89090" opacity="0.35"/>
<circle cx="480.9" cy="403.4" r="1.0" fill="#a89090" opacity="0.35"/>
<circle cx="528.7" cy="366.4" r="0.8" fill="#b0a0a8" opacity="0.35"/>
<circle cx="534.2" cy="405.1" r="1.0" fill="#a89090" opacity="0.35"/>
<circle cx="470.5" cy="387.2" r="0.9" fill="#b0a0a8" opacity="0.35"/>
<circle cx="483.7" cy="369.1" r="0.7" fill="#b0a0a8" opacity="0.35"/>
<circle cx="532.0" cy="357.0" r="0.7" fill="#b0a0a8" opacity="0.35"/>
<circle cx="535.4" cy="399.4" r="0.9" fill="#a89090" opacity="0.35"/>
<circle cx="498.0" cy="371.2" r="0.8" fill="#9d8ea0" opacity="0.35"/>
<circle cx="488.3" cy="397.6" r="0.6" fill="#9d8ea0" opacity="0.35"/>
<circle cx="501.2" cy="407.0" r="0.9" fill="#b0a0a8" opacity="0.35"/>
<circle cx="501.9" cy="373.9" r="1.1" fill="#9d8ea0" opacity="0.35"/>
<circle cx="468.8" cy="402.7" r="0.9" fill="#a89090" opacity="0.35"/>
<circle cx="485.9" cy="374.6" r="1.0" fill="#a89090" opacity="0.35"/>
<circle cx="515.2" cy="366.6" r="0.8" fill="#9d8ea0" opacity="0.35"/>
<circle cx="521.2" cy="370.6" r="0.9" fill="#9d8ea0" opacity="0.35"/>
<circle cx="473.4" cy="403.8" r="0.7" fill="#9d8ea0" opacity="0.35"/>
<circle cx="466.9" cy="391.8" r="1.0" fill="#a89090" opacity="0.35"/>
<circle cx="523.4" cy="405.1" r="0.6" fill="#a89090" opacity="0.35"/>
<circle cx="489.6" cy="364.3" r="0.9" fill="#b0a0a8" opacity="0.35"/>
<circle cx="518.9" cy="360.5" r="0.9" fill="#a89090" opacity="0.35"/>
<circle cx="487.2" cy="369.2" r="0.9" fill="#9d8ea0" opacity="0.35"/>
<circle cx="490.4" cy="357.1" r="0.6" fill="#9d8ea0" opacity="0.35"/>
<circle cx="493.2" cy="397.2" r="1.1" fill="#b0a0a8" opacity="0.35"/>
<circle cx="471.3" cy="406.2" r="0.8" fill="#9d8ea0" opacity="0.35"/>
<circle cx="472.7" cy="359.7" r="1.0" fill="#b0a0a8" opacity="0.35"/>
<circle cx="518.6" cy="364.2" r="0.6" fill="#a89090" opacity="0.35"/>
<circle cx="510.9" cy="372.8" r="0.6" fill="#b0a0a8" opacity="0.35"/>
<circle cx="487.3" cy="406.9" r="0.9" fill="#9d8ea0" opacity="0.35"/>
<circle cx="502.4" cy="368.8" r="0.8" fill="#9d8ea0" opacity="0.35"/>
<circle cx="481.3" cy="379.0" r="0.9" fill="#a89090" opacity="0.35"/>
<circle cx="531.2" cy="381.8" r="0.6" fill="#a89090" opacity="0.35"/>
<circle cx="484.1" cy="383.1" r="1.0" fill="#a89090" opacity="0.35"/>
<circle cx="534.4" cy="363.8" r="0.6" fill="#a89090" opacity="0.35"/>
<circle cx="509.5" cy="406.6" r="0.8" fill="#b0a0a8" opacity="0.35"/>
<circle cx="516.8" cy="396.5" r="1.0" fill="#a89090" opacity="0.35"/>
<circle cx="495.0" cy="378.3" r="1.1" fill="#b0a0a8" opacity="0.35"/>
<circle cx="536.8" cy="403.3" r="0.8" fill="#b0a0a8" opacity="0.35"/>
<circle cx="501.9" cy="402.1" r="0.8" fill="#a89090" opacity="0.35"/>
<circle cx="506.5" cy="389.7" r="0.9" fill="#a89090" opacity="0.35"/>
<circle cx="491.0" cy="376.4" r="0.8" fill="#a89090" opacity="0.35"/>
<circle cx="541.9" cy="390.4" r="0.6" fill="#b0a0a8" opacity="0.35"/>
<circle cx="473.8" cy="405.5" r="0.9" fill="#9d8ea0" opacity="0.35"/>
<circle cx="534.4" cy="391.3" r="0.8" fill="#a89090" opacity="0.35"/>
<circle cx="524.3" cy="403.4" r="0.7" fill="#9d8ea0" opacity="0.35"/>
<circle cx="480.6" cy="364.5" r="0.9" fill="#a89090" opacity="0.35"/>
<circle cx="472.9" cy="397.5" r="1.0" fill="#9d8ea0" opacity="0.35"/>
<circle cx="508.3" cy="401.0" r="0.7" fill="#b0a0a8" opacity="0.35"/>
<circle cx="513.0" cy="397.9" r="0.9" fill="#a89090" opacity="0.35"/>
<circle cx="538.1" cy="378.8" r="0.6" fill="#b0a0a8" opacity="0.35"/>
<circle cx="511.9" cy="381.3" r="1.0" fill="#b0a0a8" opacity="0.35"/>
<circle cx="526.6" cy="358.7" r="0.6" fill="#b0a0a8" opacity="0.35"/>
<circle cx="537.3" cy="371.6" r="0.8" fill="#9d8ea0" opacity="0.35"/>
<circle cx="470.3" cy="384.0" r="0.8" fill="#a89090" opacity="0.35"/>
<circle cx="495.1" cy="394.9" r="1.0" fill="#a89090" opacity="0.35"/>
<circle cx="471.2" cy="362.4" r="0.9" fill="#a89090" opacity="0.35"/>
<circle cx="505.2" cy="378.5" r="1.0" fill="#a89090" opacity="0.35"/>
<circle cx="468.9" cy="401.1" r="0.7" fill="#a89090" opacity="0.35"/>
<circle cx="539.3" cy="380.8" r="0.7" fill="#b0a0a8" opacity="0.35"/>
<circle cx="477.1" cy="400.8" r="0.7" fill="#9d8ea0" opacity="0.35"/>
<circle cx="490.0" cy="400.0" r="0.7" fill="#9d8ea0" opacity="0.35"/>
<circle cx="521.4" cy="356.9" r="0.8" fill="#b0a0a8" opacity="0.35"/>
<circle cx="472.4" cy="396.3" r="0.9" fill="#b0a0a8" opacity="0.35"/>
<circle cx="469.6" cy="369.0" r="1.0" fill="#a89090" opacity="0.35"/>
<circle cx="482.1" cy="365.7" r="1.0" fill="#9d8ea0" opacity="0.35"/>
<circle cx="518.6" cy="387.4" r="0.8" fill="#a89090" opacity="0.35"/>
<circle cx="527.2" cy="385.3" r="1.1" fill="#b0a0a8" opacity="0.35"/>
<circle cx="527.6" cy="387.6" r="0.8" fill="#9d8ea0" opacity="0.35"/>
<circle cx="483.9" cy="386.8" r="1.1" fill="#a89090" opacity="0.35"/>
<circle cx="474.3" cy="360.8" r="0.7" fill="#b0a0a8" opacity="0.35"/>
<circle cx="477.9" cy="402.1" r="0.8" fill="#b0a0a8" opacity="0.35"/>
<circle cx="528.2" cy="390.7" r="1.0" fill="#9d8ea0" opacity="0.35"/>
<circle cx="496.2" cy="403.9" r="0.7" fill="#b0a0a8" opacity="0.35"/>
<circle cx="493.7" cy="365.4" r="1.0" fill="#b0a0a8" opacity="0.35"/>
<circle cx="465.0" cy="404.5" r="1.0" fill="#a89090" opacity="0.35"/>
<circle cx="529.3" cy="404.7" r="0.7" fill="#b0a0a8" opacity="0.35"/>
<circle cx="543.9" cy="390.0" r="1.1" fill="#9d8ea0" opacity="0.35"/>
<circle cx="525.4" cy="405.5" r="0.7" fill="#b0a0a8" opacity="0.35"/>
<circle cx="502.5" cy="401.4" r="0.7" fill="#b0a0a8" opacity="0.35"/>
<circle cx="488.1" cy="403.5" r="0.8" fill="#b0a0a8" opacity="0.35"/>
<circle cx="482.8" cy="381.3" r="0.7" fill="#a89090" opacity="0.35"/>
<circle cx="482.2" cy="373.1" r="0.9" fill="#a89090" opacity="0.35"/>
<circle cx="536.8" cy="376.8" r="0.8" fill="#a89090" opacity="0.35"/>
<circle cx="486.6" cy="377.4" r="0.6" fill="#9d8ea0" opacity="0.35"/>
<circle cx="536.6" cy="379.8" r="0.9" fill="#a89090" opacity="0.35"/>
<circle cx="496.4" cy="376.2" r="0.6" fill="#b0a0a8" opacity="0.35"/>
<circle cx="468.9" cy="405.8" r="1.1" fill="#a89090" opacity="0.35"/>
<circle cx="512.7" cy="372.4" r="0.6" fill="#a89090" opacity="0.35"/>
<circle cx="502.8" cy="388.9" r="0.8" fill="#b0a0a8" opacity="0.35"/>
<circle cx="526.9" cy="364.1" r="0.7" fill="#a89090" opacity="0.35"/>
<circle cx="474.2" cy="359.0" r="0.8" fill="#b0a0a8" opacity="0.35"/>
<circle cx="518.9" cy="384.2" r="1.1" fill="#a89090" opacity="0.35"/>
<circle cx="464.9" cy="369.0" r="1.0" fill="#9d8ea0" opacity="0.35"/>
<circle cx="466.0" cy="372.6" r="0.7" fill="#9d8ea0" opacity="0.35"/>
<circle cx="535.1" cy="389.1" r="0.9" fill="#b0a0a8" opacity="0.35"/>
<circle cx="520.7" cy="393.5" r="0.9" fill="#9d8ea0" opacity="0.35"/>
<circle cx="535.1" cy="392.9" r="0.9" fill="#b0a0a8" opacity="0.35"/>
<circle cx="463.6" cy="401.1" r="0.7" fill="#a89090" opacity="0.35"/>
<circle cx="476.0" cy="399.2" r="0.8" fill="#9d8ea0" opacity="0.35"/>
<circle cx="494.1" cy="364.9" r="1.0" fill="#b0a0a8" opacity="0.35"/>
<circle cx="495.3" cy="391.0" r="1.0" fill="#a89090" opacity="0.35"/>
<circle cx="477.3" cy="359.7" r="1.1" fill="#a89090" opacity="0.35"/>
<circle cx="534.9" cy="357.6" r="1.1" fill="#9d8ea0" opacity="0.35"/>
<circle cx="470.4" cy="362.5" r="0.9" fill="#9d8ea0" opacity="0.35"/>
<circle cx="482.3" cy="384.6" r="0.8" fill="#b0a0a8" opacity="0.35"/>
<circle cx="506.8" cy="401.3" r="0.8" fill="#b0a0a8" opacity="0.35"/>
<circle cx="521.0" cy="403.1" r="1.1" fill="#a89090" opacity="0.35"/>
<circle cx="490.8" cy="365.3" r="0.9" fill="#9d8ea0" opacity="0.35"/>
<circle cx="472.1" cy="387.9" r="1.1" fill="#a89090" opacity="0.35"/>
<circle cx="539.3" cy="398.6" r="0.8" fill="#b0a0a8" opacity="0.35"/>
<circle cx="466.4" cy="388.5" r="0.7" fill="#b0a0a8" opacity="0.35"/>
<circle cx="511.6" cy="396.2" r="0.8" fill="#a89090" opacity="0.35"/>
<circle cx="529.3" cy="360.8" r="0.7" fill="#a89090" opacity="0.35"/>
<circle cx="535.5" cy="389.8" r="0.9" fill="#b0a0a8" opacity="0.35"/>
<circle cx="489.7" cy="380.6" r="1.1" fill="#9d8ea0" opacity="0.35"/>
<circle cx="477.9" cy="358.8" r="0.9" fill="#b0a0a8" opacity="0.35"/>
<circle cx="521.4" cy="358.6" r="0.9" fill="#a89090" opacity="0.35"/>
<circle cx="527.2" cy="402.5" r="0.9" fill="#9d8ea0" opacity="0.35"/>
<circle cx="504.8" cy="401.5" r="1.0" fill="#9d8ea0" opacity="0.35"/>
<circle cx="469.2" cy="368.0" r="0.7" fill="#9d8ea0" opacity="0.35"/>
<circle cx="536.1" cy="405.8" r="0.6" fill="#b0a0a8" opacity="0.35"/>
<circle cx="475.2" cy="374.8" r="1.0" fill="#b0a0a8" opacity="0.35"/>
<circle cx="491.5" cy="406.2" r="1.0" fill="#b0a0a8" opacity="0.35"/>
<circle cx="512.8" cy="358.3" r="0.8" fill="#9d8ea0" opacity="0.35"/>
<circle cx="524.9" cy="400.2" r="0.7" fill="#b0a0a8" opacity="0.35"/>
<circle cx="486.5" cy="367.1" r="1.0" fill="#a89090" opacity="0.35"/>
<circle cx="477.7" cy="357.5" r="1.0" fill="#a89090" opacity="0.35"/>
<circle cx="490.4" cy="402.5" r="1.1" fill="#a89090" opacity="0.35"/>
<circle cx="489.6" cy="387.9" r="0.7" fill="#b0a0a8" opacity="0.35"/>
<circle cx="470.5" cy="377.0" r="0.9" fill="#b0a0a8" opacity="0.35"/>
<circle cx="538.0" cy="363.3" r="1.0" fill="#9d8ea0" opacity="0.35"/>
<circle cx="539.7" cy="396.1" r="0.9" fill="#b0a0a8" opacity="0.35"/>
<circle cx="480.7" cy="403.7" r="0.9" fill="#b0a0a8" opacity="0.35"/>
<circle cx="504.1" cy="362.4" r="0.8" fill="#a89090" opacity="0.35"/>
<circle cx="509.9" cy="366.9" r="0.6" fill="#b0a0a8" opacity="0.35"/>
<circle cx="532.2" cy="362.4" r="1.1" fill="#a89090" opacity="0.35"/>
<circle cx="534.3" cy="386.0" r="0.7" fill="#b0a0a8" opacity="0.35"/>
<circle cx="469.6" cy="399.4" r="0.7" fill="#b0a0a8" opacity="0.35"/>
<circle cx="524.3" cy="394.8" r="1.0" fill="#b0a0a8" opacity="0.35"/>
<circle cx="480.2" cy="358.4" r="0.8" fill="#a89090" opacity="0.35"/>
<circle cx="523.5" cy="395.5" r="1.0" fill="#9d8ea0" opacity="0.35"/>
<circle cx="477.4" cy="367.5" r="1.1" fill="#9d8ea0" opacity="0.35"/>
<circle cx="519.2" cy="406.0" r="0.6" fill="#a89090" opacity="0.35"/>
<circle cx="520.9" cy="390.3" r="1.0" fill="#9d8ea0" opacity="0.35"/>
<circle cx="532.5" cy="396.9" r="0.8" fill="#b0a0a8" opacity="0.35"/>
<circle cx="508.0" cy="383.9" r="0.8" fill="#b0a0a8" opacity="0.35"/>
<circle cx="496.5" cy="358.4" r="1.1" fill="#9d8ea0" opacity="0.35"/>
<circle cx="475.9" cy="367.7" r="0.7" fill="#b0a0a8" opacity="0.35"/>
<circle cx="534.0" cy="404.0" r="0.9" fill="#a89090" opacity="0.35"/>
<circle cx="493.1" cy="392.4" r="1.1" fill="#9d8ea0" opacity="0.35"/>
<circle cx="544.7" cy="365.9" r="0.9" fill="#9d8ea0" opacity="0.35"/>
<circle cx="465.6" cy="366.3" r="1.0" fill="#b0a0a8" opacity="0.35"/>
<circle cx="489.6" cy="383.9" r="1.1" fill="#a89090" opacity="0.35"/>
<circle cx="528.7" cy="397.1" r="0.7" fill="#a89090" opacity="0.35"/>
<circle cx="513.8" cy="374.3" r="0.6" fill="#b0a0a8" opacity="0.35"/>
<circle cx="474.5" cy="358.1" r="1.0" fill="#b0a0a8" opacity="0.35"/>
<circle cx="521.8" cy="367.3" r="0.8" fill="#b0a0a8" opacity="0.35"/>
<circle cx="509.0" cy="401.8" r="0.8" fill="#b0a0a8" opacity="0.35"/>
<circle cx="506.4" cy="365.7" r="0.9" fill="#b0a0a8" opacity="0.35"/>
<circle cx="490.5" cy="357.6" r="0.9" fill="#a89090" opacity="0.35"/>
<circle cx="499.1" cy="397.0" r="0.7" fill="#9d8ea0" opacity="0.35"/>
<circle cx="474.3" cy="387.2" r="0.7" fill="#b0a0a8" opacity="0.35"/>
<circle cx="489.1" cy="388.6" r="0.7" fill="#a89090" opacity="0.35"/>
<circle cx="539.1" cy="398.9" r="0.9" fill="#b0a0a8" opacity="0.35"/>
<circle cx="539.8" cy="369.6" r="0.8" fill="#b0a0a8" opacity="0.35"/>
<circle cx="466.0" cy="364.3" r="0.9" fill="#9d8ea0" opacity="0.35"/>
<circle cx="503.7" cy="398.4" r="0.6" fill="#b0a0a8" opacity="0.35"/>
<circle cx="512.0" cy="406.5" r="0.7" fill="#b0a0a8" opacity="0.35"/>
<circle cx="474.8" cy="398.9" r="0.9" fill="#a89090" opacity="0.35"/>
<circle cx="534.7" cy="360.7" r="1.1" fill="#b0a0a8" opacity="0.35"/>
<circle cx="475.6" cy="365.5" r="0.9" fill="#a89090" opacity="0.35"/>
<circle cx="502.2" cy="400.3" r="0.7" fill="#a89090" opacity="0.35"/>
<circle cx="525.4" cy="383.3" r="1.0" fill="#9d8ea0" opacity="0.35"/>
<circle cx="535.9" cy="371.1" r="0.8" fill="#9d8ea0" opacity="0.35"/>
<circle cx="491.7" cy="387.1" r="1.1" fill="#a89090" opacity="0.35"/>
<circle cx="469.3" cy="378.5" r="0.6" fill="#a89090" opacity="0.35"/>
<circle cx="527.8" cy="358.2" r="0.7" fill="#b0a0a8" opacity="0.35"/>
<circle cx="541.4" cy="397.9" r="0.7" fill="#b0a0a8" opacity="0.35"/>
<circle cx="538.7" cy="407.0" r="0.6" fill="#9d8ea0" opacity="0.35"/>
<circle cx="541.4" cy="382.8" r="0.9" fill="#9d8ea0" opacity="0.35"/>
<circle cx="470.9" cy="388.9" r="0.9" fill="#b0a0a8" opacity="0.35"/>
<circle cx="479.7" cy="391.6" r="0.6" fill="#9d8ea0" opacity="0.35"/>
<circle cx="468.7" cy="378.6" r="0.7" fill="#9d8ea0" opacity="0.35"/>
<circle cx="542.1" cy="382.7" r="0.9" fill="#b0a0a8" opacity="0.35"/>
<circle cx="486.0" cy="386.3" r="0.7" fill="#b0a0a8" opacity="0.35"/>
<circle cx="514.3" cy="387.0" r="0.6" fill="#9d8ea0" opacity="0.35"/>
<circle cx="526.0" cy="384.1" r="0.8" fill="#a89090" opacity="0.35"/>
<circle cx="511.8" cy="405.3" r="0.7" fill="#a89090" opacity="0.35"/>
<circle cx="507.2" cy="369.1" r="0.9" fill="#9d8ea0" opacity="0.35"/>
<circle cx="543.4" cy="407.0" r="0.9" fill="#9d8ea0" opacity="0.35"/>
<circle cx="510.8" cy="385.4" r="0.7" fill="#b0a0a8" opacity="0.35"/>
<circle cx="519.2" cy="393.2" r="1.1" fill="#a89090" opacity="0.35"/>
<circle cx="540.4" cy="364.8" r="0.7" fill="#a89090" opacity="0.35"/>
<circle cx="532.8" cy="392.2" r="0.9" fill="#b0a0a8" opacity="0.35"/>
<circle cx="487.2" cy="375.2" r="0.9" fill="#a89090" opacity="0.35"/>
<circle cx="471.3" cy="368.4" r="1.0" fill="#b0a0a8" opacity="0.35"/>
<circle cx="531.5" cy="365.5" r="0.6" fill="#a89090" opacity="0.35"/>
<circle cx="466.1" cy="356.9" r="1.0" fill="#9d8ea0" opacity="0.35"/>
<circle cx="534.9" cy="391.1" r="0.7" fill="#9d8ea0" opacity="0.35"/>
<circle cx="493.8" cy="389.2" r="0.8" fill="#b0a0a8" opacity="0.35"/>
<circle cx="499.4" cy="393.6" r="0.7" fill="#9d8ea0" opacity="0.35"/>
<circle cx="491.4" cy="358.8" r="0.7" fill="#a89090" opacity="0.35"/>
<circle cx="463.8" cy="406.8" r="0.8" fill="#b0a0a8" opacity="0.35"/>
<circle cx="467.0" cy="367.8" r="0.8" fill="#b0a0a8" opacity="0.35"/>
<circle cx="491.9" cy="391.0" r="0.6" fill="#a89090" opacity="0.35"/>
<circle cx="471.3" cy="375.7" r="0.7" fill="#a89090" opacity="0.35"/>
<circle cx="539.8" cy="378.5" r="1.0" fill="#a89090" opacity="0.35"/>
<circle cx="476.3" cy="379.3" r="0.9" fill="#9d8ea0" opacity="0.35"/>
<circle cx="470.9" cy="361.7" r="0.7" fill="#a89090" opacity="0.35"/>
<circle cx="523.6" cy="394.9" r="1.0" fill="#a89090" opacity="0.35"/>
<circle cx="496.1" cy="372.2" r="1.0" fill="#b0a0a8" opacity="0.35"/>
<circle cx="471.8" cy="403.1" r="1.0" fill="#b0a0a8" opacity="0.35"/>
<circle cx="531.2" cy="392.5" r="0.8" fill="#b0a0a8" opacity="0.35"/>
<circle cx="493.4" cy="368.1" r="1.0" fill="#9d8ea0" opacity="0.35"/>
<circle cx="538.8" cy="371.0" r="0.8" fill="#9d8ea0" opacity="0.35"/>
<circle cx="505.8" cy="395.8" r="1.0" fill="#b0a0a8" opacity="0.35"/>
<circle cx="482.8" cy="365.9" r="0.8" fill="#b0a0a8" opacity="0.35"/>
<circle cx="492.3" cy="377.9" r="0.8" fill="#b0a0a8" opacity="0.35"/>
<circle cx="473.5" cy="400.3" r="0.6" fill="#b0a0a8" opacity="0.35"/>
<circle cx="498.6" cy="374.7" r="1.0" fill="#b0a0a8" opacity="0.35"/>
<circle cx="486.3" cy="363.7" r="0.8" fill="#a89090" opacity="0.35"/>
<circle cx="507.6" cy="404.5" r="1.1" fill="#a89090" opacity="0.35"/>
<circle cx="526.5" cy="396.6" r="1.1" fill="#a89090" opacity="0.35"/>
<circle cx="523.9" cy="374.2" r="0.9" fill="#9d8ea0" opacity="0.35"/>
<circle cx="524.0" cy="390.4" r="0.7" fill="#b0a0a8" opacity="0.35"/>
<circle cx="520.1" cy="401.2" r="0.9" fill="#9d8ea0" opacity="0.35"/>
<circle cx="500.9" cy="391.3" r="0.9" fill="#9d8ea0" opacity="0.35"/>
<circle cx="467.1" cy="397.9" r="1.0" fill="#9d8ea0" opacity="0.35"/>
<circle cx="489.1" cy="373.2" r="0.8" fill="#9d8ea0" opacity="0.35"/>
<circle cx="485.7" cy="359.5" r="0.6" fill="#a89090" opacity="0.35"/>
<circle cx="472.5" cy="393.8" r="0.7" fill="#a89090" opacity="0.35"/>
<circle cx="528.5" cy="359.8" r="0.9" fill="#9d8ea0" opacity="0.35"/>
<circle cx="479.4" cy="399.7" r="0.9" fill="#9d8ea0" opacity="0.35"/>
<circle cx="481.3" cy="357.3" r="0.8" fill="#a89090" opacity="0.35"/>
<circle cx="485.0" cy="377.1" r="0.7" fill="#a89090" opacity="0.35"/>
<circle cx="517.3" cy="391.9" r="0.9" fill="#a89090" opacity="0.35"/>
<circle cx="471.2" cy="400.1" r="0.8" fill="#b0a0a8" opacity="0.35"/>
<circle cx="468.0" cy="396.0" r="0.6" fill="#b0a0a8" opacity="0.35"/>
<circle cx="483.6" cy="381.3" r="0.8" fill="#9d8ea0" opacity="0.35"/>
<circle cx="540.2" cy="394.9" r="1.0" fill="#9d8ea0" opacity="0.35"/>
<circle cx="532.4" cy="393.2" r="1.0" fill="#b0a0a8" opacity="0.35"/>
<circle cx="523.2" cy="382.5" r="0.8" fill="#b0a0a8" opacity="0.35"/>
<circle cx="472.2" cy="363.9" r="0.7" fill="#a89090" opacity="0.35"/>
<circle cx="506.9" cy="403.3" r="0.8" fill="#a89090" opacity="0.35"/>
<circle cx="493.3" cy="385.2" r="0.7" fill="#b0a0a8" opacity="0.35"/>
<circle cx="483.8" cy="385.4" r="0.7" fill="#b0a0a8" opacity="0.35"/>
<circle cx="509.4" cy="401.1" r="0.7" fill="#b0a0a8" opacity="0.35"/>
<circle cx="529.6" cy="364.6" r="1.0" fill="#9d8ea0" opacity="0.35"/>
<circle cx="519.9" cy="376.3" r="0.9" fill="#b0a0a8" opacity="0.35"/>
<circle cx="478.4" cy="397.4" r="0.9" fill="#9d8ea0" opacity="0.35"/>
<circle cx="507.5" cy="360.2" r="0.8" fill="#9d8ea0" opacity="0.35"/>
<circle cx="504.6" cy="390.7" r="0.9" fill="#9d8ea0" opacity="0.35"/>
<circle cx="486.1" cy="398.4" r="1.0" fill="#9d8ea0" opacity="0.35"/>
<circle cx="472.9" cy="369.5" r="0.8" fill="#b0a0a8" opacity="0.35"/>
<circle cx="537.8" cy="356.9" r="0.8" fill="#b0a0a8" opacity="0.35"/>
<circle cx="529.4" cy="393.8" r="0.9" fill="#b0a0a8" opacity="0.35"/>
<circle cx="491.4" cy="392.4" r="0.7" fill="#a89090" opacity="0.35"/>
<circle cx="542.1" cy="364.9" r="1.0" fill="#a89090" opacity="0.35"/>
<circle cx="523.2" cy="403.7" r="0.7" fill="#b0a0a8" opacity="0.35"/>
<circle cx="501.4" cy="383.3" r="0.7" fill="#9d8ea0" opacity="0.35"/>
<circle cx="529.9" cy="385.8" r="0.8" fill="#b0a0a8" opacity="0.35"/>
<circle cx="500.1" cy="373.2" r="1.1" fill="#b0a0a8" opacity="0.35"/>
<circle cx="525.4" cy="360.5" r="0.8" fill="#a89090" opacity="0.35"/>
<circle cx="484.6" cy="362.3" r="0.9" fill="#b0a0a8" opacity="0.35"/>
<circle cx="499.2" cy="405.5" r="0.9" fill="#b0a0a8" opacity="0.35"/>
<circle cx="503.3" cy="405.3" r="0.6" fill="#a89090" opacity="0.35"/>
<circle cx="524.3" cy="361.6" r="0.8" fill="#9d8ea0" opacity="0.35"/>
<circle cx="476.3" cy="382.3" r="0.7" fill="#a89090" opacity="0.35"/>
<circle cx="502.7" cy="358.3" r="0.7" fill="#9d8ea0" opacity="0.35"/>
<circle cx="495.9" cy="365.1" r="0.8" fill="#b0a0a8" opacity="0.35"/>
<circle cx="500.8" cy="376.2" r="0.8" fill="#9d8ea0" opacity="0.35"/>
<circle cx="520.2" cy="358.4" r="0.9" fill="#9d8ea0" opacity="0.35"/>
<circle cx="526.9" cy="384.5" r="1.0" fill="#9d8ea0" opacity="0.35"/>
<circle cx="506.7" cy="373.5" r="1.0" fill="#9d8ea0" opacity="0.35"/>
<circle cx="473.7" cy="359.2" r="1.0" fill="#a89090" opacity="0.35"/>
<circle cx="528.7" cy="369.2" r="0.8" fill="#a89090" opacity="0.35"/>
<circle cx="510.4" cy="376.2" r="0.7" fill="#a89090" opacity="0.35"/>
<circle cx="496.6" cy="369.3" r="0.7" fill="#b0a0a8" opacity="0.35"/>
<circle cx="539.1" cy="379.1" r="0.8" fill="#b0a0a8" opacity="0.35"/>
<circle cx="471.8" cy="395.3" r="0.7" fill="#b0a0a8" opacity="0.35"/>
<circle cx="538.2" cy="390.0" r="0.7" fill="#a89090" opacity="0.35"/>
<circle cx="518.2" cy="398.4" r="0.6" fill="#b0a0a8" opacity="0.35"/>
<circle cx="521.5" cy="388.2" r="0.7" fill="#9d8ea0" opacity="0.35"/>
<circle cx="498.6" cy="370.2" r="0.7" fill="#9d8ea0" opacity="0.35"/>
<circle cx="472.3" cy="403.2" r="1.1" fill="#a89090" opacity="0.35"/>
<circle cx="508.7" cy="403.1" r="1.0" fill="#9d8ea0" opacity="0.35"/>
<circle cx="515.2" cy="369.7" r="1.0" fill="#b0a0a8" opacity="0.35"/>
<circle cx="537.2" cy="378.8" r="1.0" fill="#a89090" opacity="0.35"/>
<circle cx="484.1" cy="369.8" r="0.8" fill="#b0a0a8" opacity="0.35"/>
<circle cx="513.2" cy="378.2" r="0.7" fill="#9d8ea0" opacity="0.35"/>
<circle cx="482.8" cy="361.8" r="0.8" fill="#b0a0a8" opacity="0.35"/>
<circle cx="486.0" cy="401.9" r="0.7" fill="#a89090" opacity="0.35"/>
<circle cx="499.1" cy="380.2" r="0.9" fill="#b0a0a8" opacity="0.35"/>
<circle cx="535.3" cy="364.9" r="1.0" fill="#b0a0a8" opacity="0.35"/>
<circle cx="477.6" cy="399.3" r="1.0" fill="#b0a0a8" opacity="0.35"/>
<circle cx="515.0" cy="378.9" r="0.9" fill="#b0a0a8" opacity="0.35"/>
<circle cx="522.9" cy="383.0" r="0.7" fill="#b0a0a8" opacity="0.35"/>
<circle cx="521.1" cy="383.5" r="1.0" fill="#a89090" opacity="0.35"/>
<circle cx="506.8" cy="394.8" r="0.8" fill="#a89090" opacity="0.35"/>
<circle cx="527.4" cy="379.9" r="0.9" fill="#a89090" opacity="0.35"/>
<circle cx="475.0" cy="368.4" r="0.8" fill="#9d8ea0" opacity="0.35"/>
<circle cx="544.2" cy="404.2" r="0.8" fill="#a89090" opacity="0.35"/>
<circle cx="487.0" cy="377.6" r="0.7" fill="#b0a0a8" opacity="0.35"/>
<circle cx="496.1" cy="400.0" r="1.0" fill="#a89090" opacity="0.35"/>
<circle cx="524.5" cy="401.4" r="0.7" fill="#9d8ea0" opacity="0.35"/>
<circle cx="479.9" cy="361.7" r="0.8" fill="#9d8ea0" opacity="0.35"/>
<circle cx="468.5" cy="405.2" r="0.6" fill="#a89090" opacity="0.35"/>
<circle cx="495.9" cy="375.1" r="1.1" fill="#9d8ea0" opacity="0.35"/>
<circle cx="511.9" cy="359.7" r="0.8" fill="#b0a0a8" opacity="0.35"/>
<circle cx="491.7" cy="374.9" r="0.8" fill="#b0a0a8" opacity="0.35"/>
<circle cx="472.3" cy="403.1" r="0.9" fill="#b0a0a8" opacity="0.35"/>
<circle cx="513.1" cy="381.1" r="0.7" fill="#b0a0a8" opacity="0.35"/>
<circle cx="489.4" cy="400.4" r="1.0" fill="#b0a0a8" opacity="0.35"/>
<circle cx="541.9" cy="380.0" r="1.0" fill="#b0a0a8" opacity="0.35"/>
<circle cx="516.4" cy="385.5" r="1.1" fill="#9d8ea0" opacity="0.35"/>
<circle cx="522.1" cy="403.1" r="0.7" fill="#a89090" opacity="0.35"/>
<circle cx="474.0" cy="358.1" r="0.7" fill="#b0a0a8" opacity="0.35"/>
<circle cx="528.4" cy="386.9" r="0.8" fill="#b0a0a8" opacity="0.35"/>
<circle cx="517.5" cy="402.1" r="0.9" fill="#b0a0a8" opacity="0.35"/>
<circle cx="530.6" cy="399.9" r="0.6" fill="#b0a0a8" opacity="0.35"/>
<circle cx="544.8" cy="365.2" r="0.6" fill="#a89090" opacity="0.35"/>
<circle cx="523.1" cy="366.9" r="0.7" fill="#9d8ea0" opacity="0.35"/>
<circle cx="506.7" cy="391.3" r="0.8" fill="#9d8ea0" opacity="0.35"/>
<circle cx="474.5" cy="363.6" r="1.1" fill="#9d8ea0" opacity="0.35"/>
<circle cx="477.8" cy="369.9" r="1.0" fill="#9d8ea0" opacity="0.35"/>
<circle cx="519.1" cy="373.7" r="0.9" fill="#a89090" opacity="0.35"/>
<circle cx="502.0" cy="394.0" r="0.7" fill="#a89090" opacity="0.35"/>
<circle cx="543.5" cy="386.7" r="1.1" fill="#b0a0a8" opacity="0.35"/>
<circle cx="488.6" cy="383.0" r="0.9" fill="#a89090" opacity="0.35"/>
<circle cx="517.7" cy="396.6" r="1.0" fill="#a89090" opacity="0.35"/>
<circle cx="468.8" cy="369.8" r="0.9" fill="#b0a0a8" opacity="0.35"/>
<circle cx="507.4" cy="403.6" r="0.9" fill="#b0a0a8" opacity="0.35"/>
<circle cx="468.9" cy="377.6" r="0.9" fill="#b0a0a8" opacity="0.35"/>
<circle cx="533.7" cy="394.5" r="0.8" fill="#9d8ea0" opacity="0.35"/>
<circle cx="505.7" cy="390.7" r="0.9" fill="#a89090" opacity="0.35"/>
<circle cx="510.6" cy="406.9" r="0.9" fill="#a89090" opacity="0.35"/>
<circle cx="521.6" cy="370.3" r="1.1" fill="#9d8ea0" opacity="0.35"/>
<circle cx="507.3" cy="399.8" r="0.7" fill="#9d8ea0" opacity="0.35"/>
<circle cx="523.1" cy="369.9" r="0.7" fill="#b0a0a8" opacity="0.35"/>
<circle cx="511.2" cy="362.5" r="1.0" fill="#b0a0a8" opacity="0.35"/>
<circle cx="522.2" cy="390.0" r="1.0" fill="#9d8ea0" opacity="0.35"/>
<circle cx="522.9" cy="401.4" r="0.8" fill="#9d8ea0" opacity="0.35"/>
<circle cx="482.1" cy="368.2" r="0.9" fill="#9d8ea0" opacity="0.35"/>
<circle cx="524.5" cy="365.2" r="0.6" fill="#9d8ea0" opacity="0.35"/>
<circle cx="525.0" cy="369.9" r="0.7" fill="#b0a0a8" opacity="0.35"/>
<circle cx="521.5" cy="397.6" r="1.0" fill="#9d8ea0" opacity="0.35"/>
<circle cx="498.1" cy="406.3" r="1.0" fill="#b0a0a8" opacity="0.35"/>
<circle cx="534.2" cy="376.5" r="1.1" fill="#9d8ea0" opacity="0.35"/>
<circle cx="495.0" cy="379.6" r="1.0" fill="#b0a0a8" opacity="0.35"/>
<circle cx="502.8" cy="402.0" r="0.7" fill="#a89090" opacity="0.35"/>
<circle cx="543.3" cy="370.4" r="1.0" fill="#9d8ea0" opacity="0.35"/>
<circle cx="523.1" cy="366.3" r="0.8" fill="#a89090" opacity="0.35"/>
<circle cx="475.0" cy="375.2" r="0.7" fill="#a89090" opacity="0.35"/>
<circle cx="482.5" cy="401.8" r="0.6" fill="#9d8ea0" opacity="0.35"/>
<circle cx="512.1" cy="368.6" r="1.1" fill="#9d8ea0" opacity="0.35"/>
<circle cx="514.2" cy="374.2" r="0.9" fill="#a89090" opacity="0.35"/>
<circle cx="506.0" cy="358.0" r="0.9" fill="#9d8ea0" opacity="0.35"/>
<circle cx="525.5" cy="398.3" r="1.1" fill="#9d8ea0" opacity="0.35"/>
<circle cx="478.7" cy="366.6" r="1.1" fill="#9d8ea0" opacity="0.35"/>
<circle cx="502.0" cy="395.9" r="0.7" fill="#9d8ea0" opacity="0.35"/>
<circle cx="542.3" cy="394.8" r="0.7" fill="#b0a0a8" opacity="0.35"/>
<circle cx="516.5" cy="375.9" r="1.1" fill="#9d8ea0" opacity="0.35"/>
<circle cx="490.5" cy="399.0" r="1.0" fill="#a89090" opacity="0.35"/>
<circle cx="487.9" cy="378.1" r="1.1" fill="#a89090" opacity="0.35"/>
<circle cx="473.2" cy="400.9" r="0.7" fill="#a89090" opacity="0.35"/>
<circle cx="495.6" cy="394.8" r="0.7" fill="#9d8ea0" opacity="0.35"/>
<circle cx="489.2" cy="360.0" r="0.7" fill="#b0a0a8" opacity="0.35"/>
<circle cx="535.5" cy="382.3" r="1.0" fill="#9d8ea0" opacity="0.35"/>
<circle cx="530.9" cy="379.7" r="0.8" fill="#b0a0a8" opacity="0.35"/>
<circle cx="543.1" cy="367.9" r="1.1" fill="#b0a0a8" opacity="0.35"/>
<circle cx="543.3" cy="371.3" r="0.9" fill="#a89090" opacity="0.35"/>
<circle cx="490.9" cy="378.6" r="1.0" fill="#b0a0a8" opacity="0.35"/>
<circle cx="515.6" cy="404.8" r="0.6" fill="#9d8ea0" opacity="0.35"/>
<circle cx="464.9" cy="381.5" r="0.8" fill="#9d8ea0" opacity="0.35"/>
<circle cx="513.0" cy="377.9" r="0.7" fill="#a89090" opacity="0.35"/>
<circle cx="508.0" cy="367.2" r="0.7" fill="#9d8ea0" opacity="0.35"/>
<circle cx="475.1" cy="366.7" r="0.9" fill="#b0a0a8" opacity="0.35"/>
<circle cx="485.2" cy="363.4" r="0.9" fill="#b0a0a8" opacity="0.35"/>
<circle cx="502.4" cy="361.7" r="0.9" fill="#9d8ea0" opacity="0.35"/>
<circle cx="472.9" cy="361.3" r="1.0" fill="#9d8ea0" opacity="0.35"/>
<circle cx="517.3" cy="363.1" r="1.0" fill="#a89090" opacity="0.35"/>
<circle cx="471.5" cy="397.6" r="0.8" fill="#9d8ea0" opacity="0.35"/>
<circle cx="520.0" cy="385.0" r="0.8" fill="#b0a0a8" opacity="0.35"/>
<circle cx="504.1" cy="371.2" r="0.8" fill="#a89090" opacity="0.35"/>
<circle cx="478.0" cy="407.0" r="0.9" fill="#b0a0a8" opacity="0.35"/>
<circle cx="535.5" cy="383.0" r="1.0" fill="#a89090" opacity="0.35"/>
<circle cx="485.5" cy="387.1" r="0.8" fill="#9d8ea0" opacity="0.35"/>
<circle cx="472.7" cy="396.2" r="1.0" fill="#a89090" opacity="0.35"/>
<circle cx="482.8" cy="382.4" r="0.9" fill="#b0a0a8" opacity="0.35"/>
<circle cx="476.4" cy="378.2" r="1.0" fill="#b0a0a8" opacity="0.35"/>
<circle cx="475.0" cy="379.0" r="0.9" fill="#a89090" opacity="0.35"/>
<circle cx="534.9" cy="383.4" r="0.7" fill="#9d8ea0" opacity="0.35"/>
<circle cx="503.4" cy="395.3" r="1.1" fill="#9d8ea0" opacity="0.35"/>
<circle cx="520.3" cy="367.6" r="0.8" fill="#a89090" opacity="0.35"/>
<circle cx="524.8" cy="369.5" r="1.0" fill="#9d8ea0" opacity="0.35"/>
<circle cx="468.1" cy="378.7" r="0.9" fill="#9d8ea0" opacity="0.35"/>
<circle cx="468.1" cy="373.6" r="0.8" fill="#b0a0a8" opacity="0.35"/>
<circle cx="509.8" cy="378.2" r="1.1" fill="#b0a0a8" opacity="0.35"/>
<circle cx="477.2" cy="394.8" r="0.8" fill="#9d8ea0" opacity="0.35"/>
<circle cx="519.2" cy="396.0" r="0.9" fill="#b0a0a8" opacity="0.35"/>
<circle cx="486.1" cy="371.3" r="1.0" fill="#b0a0a8" opacity="0.35"/>
<circle cx="518.5" cy="381.5" r="0.8" fill="#a89090" opacity="0.35"/>
<circle cx="514.5" cy="394.4" r="0.8" fill="#9d8ea0" opacity="0.35"/>
<circle cx="517.8" cy="361.7" r="0.8" fill="#a89090" opacity="0.35"/>
<circle cx="510.9" cy="390.6" r="1.1" fill="#9d8ea0" opacity="0.35"/>
<circle cx="505.2" cy="401.7" r="0.9" fill="#b0a0a8" opacity="0.35"/>
<circle cx="533.6" cy="383.1" r="1.0" fill="#9d8ea0" opacity="0.35"/>
<circle cx="525.3" cy="387.8" r="1.1" fill="#a89090" opacity="0.35"/>
<circle cx="506.5" cy="387.6" r="1.1" fill="#9d8ea0" opacity="0.35"/>
<circle cx="534.3" cy="383.1" r="0.7" fill="#9d8ea0" opacity="0.35"/>
<circle cx="511.3" cy="373.3" r="0.6" fill="#a89090" opacity="0.35"/>
<circle cx="515.7" cy="382.4" r="0.8" fill="#a89090" opacity="0.35"/>
<circle cx="498.9" cy="404.2" r="0.8" fill="#9d8ea0" opacity="0.35"/>
<circle cx="473.2" cy="357.8" r="0.7" fill="#a89090" opacity="0.35"/>
<circle cx="511.1" cy="367.3" r="0.8" fill="#9d8ea0" opacity="0.35"/>
<circle cx="488.2" cy="371.3" r="0.7" fill="#9d8ea0" opacity="0.35"/>
<circle cx="515.0" cy="402.9" r="1.0" fill="#b0a0a8" opacity="0.35"/>
<circle cx="509.2" cy="381.9" r="0.9" fill="#9d8ea0" opacity="0.35"/>
<circle cx="489.6" cy="385.5" r="0.6" fill="#9d8ea0" opacity="0.35"/>
<circle cx="525.2" cy="373.9" r="0.9" fill="#a89090" opacity="0.35"/>
<circle cx="490.6" cy="370.8" r="0.6" fill="#a89090" opacity="0.35"/>
<circle cx="484.7" cy="366.0" r="0.7" fill="#b0a0a8" opacity="0.35"/>
<circle cx="465.2" cy="398.0" r="0.9" fill="#a89090" opacity="0.35"/>
<circle cx="469.7" cy="387.7" r="1.0" fill="#9d8ea0" opacity="0.35"/>
<circle cx="526.9" cy="358.7" r="0.9" fill="#9d8ea0" opacity="0.35"/>
<circle cx="522.3" cy="371.3" r="0.8" fill="#9d8ea0" opacity="0.35"/>
<circle cx="515.2" cy="384.2" r="1.1" fill="#9d8ea0" opacity="0.35"/>
<circle cx="503.4" cy="378.4" r="1.1" fill="#b0a0a8" opacity="0.35"/>
<circle cx="517.3" cy="388.4" r="1.0" fill="#a89090" opacity="0.35"/>
<circle cx="489.5" cy="396.4" r="0.9" fill="#b0a0a8" opacity="0.35"/>
<circle cx="531.3" cy="400.3" r="1.0" fill="#9d8ea0" opacity="0.35"/>
<circle cx="506.8" cy="372.7" r="1.0" fill="#9d8ea0" opacity="0.35"/>
<circle cx="468.7" cy="405.3" r="0.6" fill="#b0a0a8" opacity="0.35"/>
<circle cx="464.6" cy="403.7" r="0.7" fill="#a89090" opacity="0.35"/>
<circle cx="515.5" cy="378.5" r="1.0" fill="#9d8ea0" opacity="0.35"/>
<circle cx="540.6" cy="366.3" r="0.7" fill="#b0a0a8" opacity="0.35"/>
<circle cx="538.6" cy="381.7" r="0.9" fill="#b0a0a8" opacity="0.35"/>
<circle cx="501.0" cy="379.3" r="0.8" fill="#9d8ea0" opacity="0.35"/>
<circle cx="479.9" cy="360.6" r="0.9" fill="#a89090" opacity="0.35"/>
<circle cx="478.6" cy="382.8" r="0.9" fill="#9d8ea0" opacity="0.35"/>
<circle cx="493.1" cy="400.5" r="1.1" fill="#a89090" opacity="0.35"/>
<circle cx="505.8" cy="390.0" r="1.0" fill="#b0a0a8" opacity="0.35"/>
<circle cx="517.0" cy="403.3" r="0.7" fill="#a89090" opacity="0.35"/>
<circle cx="465.1" cy="390.6" r="0.9" fill="#9d8ea0" opacity="0.35"/>
<circle cx="510.4" cy="378.4" r="1.0" fill="#b0a0a8" opacity="0.35"/>
<circle cx="475.1" cy="369.9" r="0.9" fill="#a89090" opacity="0.35"/>
<circle cx="478.0" cy="370.9" r="0.7" fill="#9d8ea0" opacity="0.35"/>
<circle cx="532.8" cy="401.8" r="0.8" fill="#b0a0a8" opacity="0.35"/>
<circle cx="539.6" cy="395.4" r="1.0" fill="#b0a0a8" opacity="0.35"/>
<circle cx="480.6" cy="375.6" r="0.7" fill="#b0a0a8" opacity="0.35"/>
<circle cx="493.4" cy="362.6" r="1.1" fill="#9d8ea0" opacity="0.35"/>
<circle cx="475.8" cy="396.2" r="0.8" fill="#b0a0a8" opacity="0.35"/>
<circle cx="530.1" cy="380.6" r="1.0" fill="#b0a0a8" opacity="0.35"/>
<circle cx="507.2" cy="392.2" r="1.0" fill="#a89090" opacity="0.35"/>
<g filter="url(#b04)">
<circle cx="484.6" cy="365.5" r="0.73" fill="#a8603c"/>
<circle cx="496.0" cy="365.8" r="0.94" fill="#a8603c"/>
<circle cx="545.0" cy="365.8" r="0.96" fill="#b86c48"/>
<circle cx="485.0" cy="399.3" r="0.92" fill="#b06038"/>
<circle cx="521.8" cy="363.3" r="0.90" fill="#c07c58"/>
<circle cx="506.7" cy="372.9" r="0.70" fill="#a05430"/>
<circle cx="510.4" cy="358.5" r="0.83" fill="#a8603c"/>
<circle cx="490.0" cy="364.8" r="0.98" fill="#bc8468"/>
<circle cx="543.3" cy="393.9" r="0.85" fill="#a8603c"/>
<circle cx="489.2" cy="385.0" r="0.86" fill="#bc8468"/>
<circle cx="543.7" cy="404.4" r="0.84" fill="#a8603c"/>
<circle cx="464.3" cy="369.2" r="0.95" fill="#a05430"/>
<circle cx="497.3" cy="376.4" r="0.68" fill="#b86c48"/>
<circle cx="468.1" cy="403.7" r="0.87" fill="#a05430"/>
<circle cx="496.7" cy="407.1" r="0.74" fill="#a05430"/>
<circle cx="481.6" cy="359.9" r="0.68" fill="#a05430"/>
<circle cx="531.6" cy="370.2" r="0.71" fill="#bc8468"/>
<circle cx="467.0" cy="397.5" r="0.68" fill="#bc8468"/>
<circle cx="475.9" cy="405.9" r="0.92" fill="#bc8468"/>
<circle cx="506.6" cy="400.9" r="0.93" fill="#b06038"/>
<circle cx="526.6" cy="371.5" r="0.77" fill="#c07c58"/>
<circle cx="510.7" cy="359.2" r="0.92" fill="#c07c58"/>
<circle cx="484.6" cy="405.3" r="0.88" fill="#bc8468"/>
<circle cx="499.0" cy="373.7" r="0.71" fill="#a8603c"/>
<circle cx="494.2" cy="388.4" r="0.68" fill="#a05430"/>
<circle cx="503.7" cy="403.1" r="0.90" fill="#a8603c"/>
<circle cx="512.5" cy="395.7" r="0.76" fill="#bc8468"/>
<circle cx="481.5" cy="385.0" r="0.91" fill="#c07c58"/>
<circle cx="527.5" cy="383.1" r="0.67" fill="#a8603c"/>
<circle cx="486.4" cy="391.1" r="0.74" fill="#b06038"/>
<circle cx="472.7" cy="400.9" r="0.84" fill="#b06038"/>
<circle cx="544.3" cy="399.0" r="0.89" fill="#bc8468"/>
<circle cx="481.3" cy="385.9" r="0.92" fill="#b86c48"/>
<circle cx="522.1" cy="365.8" r="0.67" fill="#b86c48"/>
<circle cx="533.0" cy="363.6" r="0.74" fill="#a05430"/>
<circle cx="536.9" cy="368.2" r="0.76" fill="#a8603c"/>
<circle cx="494.8" cy="377.0" r="0.91" fill="#b86c48"/>
<circle cx="535.3" cy="361.1" r="0.79" fill="#a8603c"/>
<circle cx="513.7" cy="365.0" r="0.82" fill="#c07c58"/>
<circle cx="502.0" cy="375.6" r="0.66" fill="#a8603c"/>
<circle cx="478.9" cy="387.7" r="0.76" fill="#b86c48"/>
<circle cx="492.5" cy="358.9" r="0.70" fill="#a8603c"/>
<circle cx="486.0" cy="385.4" r="0.88" fill="#b06038"/>
<circle cx="478.0" cy="384.3" r="0.69" fill="#bc8468"/>
<circle cx="513.9" cy="391.2" r="0.86" fill="#c07c58"/>
<circle cx="466.9" cy="389.9" r="0.99" fill="#bc8468"/>
<circle cx="531.0" cy="360.0" r="0.72" fill="#a8603c"/>
<circle cx="503.3" cy="358.5" r="0.97" fill="#bc8468"/>
<circle cx="543.2" cy="357.4" r="0.87" fill="#a8603c"/>
<circle cx="513.9" cy="373.1" r="0.97" fill="#a05430"/>
<circle cx="481.5" cy="397.9" r="0.81" fill="#a8603c"/>
<circle cx="466.4" cy="358.0" r="0.71" fill="#b06038"/>
<circle cx="515.6" cy="358.0" r="0.83" fill="#b06038"/>
<circle cx="488.2" cy="403.7" r="0.71" fill="#bc8468"/>
<circle cx="498.0" cy="386.5" r="0.86" fill="#a05430"/>
<circle cx="476.9" cy="379.9" r="0.96" fill="#b86c48"/>
<circle cx="475.4" cy="370.8" r="0.93" fill="#b06038"/>
<circle cx="529.6" cy="373.9" r="0.68" fill="#bc8468"/>
<circle cx="514.8" cy="392.2" r="0.90" fill="#b06038"/>
<circle cx="481.4" cy="396.4" r="0.85" fill="#a05430"/>
<circle cx="531.3" cy="362.7" r="0.77" fill="#c07c58"/>
<circle cx="482.4" cy="406.8" r="0.83" fill="#b86c48"/>
<circle cx="526.5" cy="366.9" r="0.99" fill="#b86c48"/>
<circle cx="484.9" cy="377.6" r="0.90" fill="#a05430"/>
<circle cx="499.0" cy="383.5" r="0.81" fill="#a8603c"/>
<circle cx="500.0" cy="374.8" r="0.87" fill="#c07c58"/>
<circle cx="541.1" cy="372.0" r="0.67" fill="#c07c58"/>
<circle cx="468.1" cy="393.1" r="0.89" fill="#bc8468"/>
<circle cx="465.5" cy="403.4" r="0.86" fill="#a8603c"/>
<circle cx="492.0" cy="374.7" r="0.94" fill="#bc8468"/>
<circle cx="481.8" cy="358.7" r="0.80" fill="#a8603c"/>
<circle cx="498.5" cy="362.5" r="0.65" fill="#bc8468"/>
<circle cx="498.6" cy="391.5" r="0.65" fill="#a05430"/>
<circle cx="536.5" cy="361.3" r="0.95" fill="#bc8468"/>
<circle cx="472.5" cy="361.3" r="0.88" fill="#c07c58"/>
<circle cx="495.4" cy="363.7" r="0.89" fill="#a05430"/>
<circle cx="480.9" cy="392.6" r="0.97" fill="#bc8468"/>
<circle cx="504.1" cy="361.4" r="0.68" fill="#bc8468"/>
<circle cx="467.0" cy="398.4" r="0.74" fill="#b86c48"/>
<circle cx="539.7" cy="373.1" r="0.80" fill="#a05430"/>
<circle cx="470.0" cy="402.5" r="0.79" fill="#b86c48"/>
<circle cx="463.7" cy="388.9" r="0.66" fill="#a8603c"/>
<circle cx="541.6" cy="372.1" r="0.87" fill="#a05430"/>
<circle cx="493.9" cy="378.7" r="0.95" fill="#bc8468"/>
<circle cx="526.3" cy="400.4" r="0.80" fill="#c07c58"/>
<circle cx="474.7" cy="370.4" r="0.82" fill="#bc8468"/>
<circle cx="490.1" cy="359.1" r="0.73" fill="#c07c58"/>
<circle cx="467.5" cy="363.9" r="0.91" fill="#bc8468"/>
<circle cx="489.1" cy="368.0" r="0.95" fill="#bc8468"/>
<circle cx="536.5" cy="380.8" r="0.73" fill="#bc8468"/>
<circle cx="498.7" cy="361.6" r="0.77" fill="#a05430"/>
<circle cx="471.5" cy="393.5" r="0.82" fill="#bc8468"/>
<circle cx="526.4" cy="400.4" r="0.95" fill="#bc8468"/>
<circle cx="481.1" cy="390.9" r="0.96" fill="#bc8468"/>
<circle cx="520.5" cy="367.0" r="0.76" fill="#a8603c"/>
<circle cx="538.2" cy="357.8" r="0.78" fill="#b06038"/>
<circle cx="513.6" cy="392.0" r="0.69" fill="#c07c58"/>
<circle cx="544.0" cy="369.2" r="0.81" fill="#b06038"/>
<circle cx="494.4" cy="374.4" r="0.76" fill="#b86c48"/>
<circle cx="475.1" cy="368.2" r="0.80" fill="#c07c58"/>
<circle cx="483.6" cy="404.7" r="0.66" fill="#a8603c"/>
<circle cx="519.0" cy="366.3" r="0.94" fill="#b06038"/>
<circle cx="472.2" cy="386.6" r="0.66" fill="#c07c58"/>
<circle cx="527.6" cy="403.7" r="0.79" fill="#a05430"/>
<circle cx="470.6" cy="379.3" r="0.80" fill="#bc8468"/>
<circle cx="517.1" cy="404.1" r="0.90" fill="#b06038"/>
<circle cx="527.1" cy="404.1" r="0.82" fill="#a05430"/>
<circle cx="478.4" cy="390.3" r="0.70" fill="#b86c48"/>
<circle cx="543.8" cy="380.9" r="0.77" fill="#a8603c"/>
<circle cx="468.9" cy="393.2" r="0.77" fill="#a8603c"/>
<circle cx="499.7" cy="390.3" r="0.94" fill="#b06038"/>
<circle cx="534.2" cy="400.9" r="0.72" fill="#a05430"/>
<circle cx="489.3" cy="386.7" r="0.73" fill="#c07c58"/>
<circle cx="482.0" cy="369.2" r="0.73" fill="#b86c48"/>
<circle cx="484.5" cy="394.2" r="0.94" fill="#a05430"/>
<circle cx="542.1" cy="400.7" r="0.78" fill="#bc8468"/>
<circle cx="479.4" cy="388.3" r="0.80" fill="#c07c58"/>
<circle cx="522.9" cy="369.7" r="0.87" fill="#bc8468"/>
<circle cx="516.8" cy="398.9" r="0.67" fill="#a05430"/>
<circle cx="489.2" cy="374.5" r="0.83" fill="#a05430"/>
<circle cx="520.0" cy="368.2" r="0.90" fill="#c07c58"/>
<circle cx="536.1" cy="398.0" r="0.98" fill="#c07c58"/>
<circle cx="516.2" cy="367.9" r="0.72" fill="#bc8468"/>
<circle cx="510.2" cy="371.6" r="0.83" fill="#c07c58"/>
<circle cx="542.2" cy="398.0" r="0.90" fill="#bc8468"/>
<circle cx="509.6" cy="401.2" r="0.83" fill="#a8603c"/>
<circle cx="523.2" cy="359.2" r="0.71" fill="#a8603c"/>
<circle cx="475.3" cy="375.5" r="0.74" fill="#a05430"/>
<circle cx="498.3" cy="402.1" r="0.80" fill="#c07c58"/>
<circle cx="518.1" cy="373.7" r="0.94" fill="#b06038"/>
<circle cx="514.4" cy="403.6" r="0.76" fill="#b86c48"/>
<circle cx="521.2" cy="393.8" r="0.72" fill="#b86c48"/>
<circle cx="500.2" cy="357.0" r="0.79" fill="#a8603c"/>
<circle cx="511.3" cy="390.7" r="0.89" fill="#a05430"/>
<circle cx="479.6" cy="393.6" r="0.70" fill="#c07c58"/>
<circle cx="478.4" cy="394.1" r="0.82" fill="#a05430"/>
<circle cx="469.4" cy="404.7" r="0.76" fill="#a05430"/>
<circle cx="498.5" cy="361.2" r="0.75" fill="#c07c58"/>
<circle cx="506.8" cy="368.6" r="0.99" fill="#b06038"/>
<circle cx="485.4" cy="375.9" r="0.68" fill="#bc8468"/>
<circle cx="485.6" cy="400.8" r="0.78" fill="#c07c58"/>
<circle cx="534.0" cy="401.9" r="0.73" fill="#bc8468"/>
<circle cx="538.1" cy="378.4" r="1.00" fill="#b06038"/>
<circle cx="537.8" cy="392.1" r="0.74" fill="#c07c58"/>
<circle cx="518.1" cy="399.5" r="0.99" fill="#b06038"/>
<circle cx="497.5" cy="370.8" r="0.88" fill="#a8603c"/>
<circle cx="467.7" cy="401.7" r="0.84" fill="#a05430"/>
<circle cx="506.5" cy="385.0" r="0.68" fill="#bc8468"/>
<circle cx="508.7" cy="403.8" r="0.82" fill="#b86c48"/>
<circle cx="466.8" cy="391.1" r="0.70" fill="#a8603c"/>
<circle cx="537.9" cy="366.9" r="0.93" fill="#bc8468"/>
<circle cx="463.8" cy="391.3" r="0.82" fill="#a05430"/>
<circle cx="480.4" cy="396.6" r="0.65" fill="#c07c58"/>
<circle cx="480.0" cy="366.8" r="0.73" fill="#b86c48"/>
<circle cx="542.2" cy="371.6" r="0.82" fill="#c07c58"/>
<circle cx="522.9" cy="399.5" r="0.99" fill="#b86c48"/>
<circle cx="512.9" cy="386.3" r="0.73" fill="#a8603c"/>
<circle cx="512.6" cy="406.5" r="0.89" fill="#a8603c"/>
<circle cx="512.5" cy="370.4" r="0.91" fill="#a05430"/>
<circle cx="470.2" cy="386.9" r="0.94" fill="#b06038"/>
<circle cx="510.2" cy="368.8" r="0.83" fill="#c07c58"/>
<circle cx="522.4" cy="360.9" r="0.81" fill="#b06038"/>
<circle cx="486.6" cy="406.5" r="0.87" fill="#bc8468"/>
<circle cx="539.7" cy="393.7" r="0.70" fill="#a05430"/>
<circle cx="484.9" cy="406.7" r="0.75" fill="#a8603c"/>
<circle cx="508.5" cy="365.5" r="0.79" fill="#b06038"/>
<circle cx="534.3" cy="381.7" r="0.69" fill="#a8603c"/>
<circle cx="536.7" cy="375.4" r="0.83" fill="#bc8468"/>
<circle cx="490.1" cy="360.3" r="0.92" fill="#a8603c"/>
<circle cx="482.7" cy="369.3" r="0.89" fill="#a8603c"/>
<circle cx="476.3" cy="389.6" r="0.78" fill="#b06038"/>
<circle cx="521.8" cy="402.2" r="0.83" fill="#b86c48"/>
<circle cx="511.3" cy="394.4" r="0.67" fill="#b06038"/>
<circle cx="540.6" cy="396.3" r="0.74" fill="#a05430"/>
<circle cx="509.1" cy="361.1" r="0.86" fill="#bc8468"/>
<circle cx="508.8" cy="398.4" r="0.74" fill="#b86c48"/>
<circle cx="527.0" cy="366.4" r="0.95" fill="#bc8468"/>
<circle cx="478.6" cy="397.7" r="0.98" fill="#a05430"/>
<circle cx="542.7" cy="381.4" r="0.74" fill="#a05430"/>
<circle cx="488.3" cy="381.2" r="0.93" fill="#b06038"/>
<circle cx="482.2" cy="401.0" r="0.73" fill="#a05430"/>
<circle cx="484.7" cy="372.2" r="0.69" fill="#a8603c"/>
<circle cx="544.9" cy="402.7" r="0.68" fill="#a8603c"/>
<circle cx="499.4" cy="390.2" r="0.95" fill="#c07c58"/>
<circle cx="532.0" cy="396.0" r="0.86" fill="#c07c58"/>
<circle cx="478.7" cy="368.8" r="0.86" fill="#a05430"/>
<circle cx="530.6" cy="396.4" r="0.97" fill="#a8603c"/>
<circle cx="540.7" cy="396.2" r="0.97" fill="#b06038"/>
<circle cx="466.7" cy="399.8" r="0.82" fill="#a05430"/>
<circle cx="532.3" cy="405.0" r="0.98" fill="#a8603c"/>
<circle cx="465.6" cy="371.3" r="0.71" fill="#b86c48"/>
<circle cx="483.7" cy="403.4" r="0.83" fill="#b06038"/>
<circle cx="481.5" cy="356.7" r="0.66" fill="#a8603c"/>
<circle cx="528.8" cy="363.4" r="0.86" fill="#b06038"/>
<circle cx="526.7" cy="400.7" r="0.66" fill="#bc8468"/>
<circle cx="496.8" cy="386.0" r="0.69" fill="#bc8468"/>
<circle cx="538.9" cy="370.2" r="0.76" fill="#bc8468"/>
<circle cx="512.2" cy="380.0" r="0.66" fill="#b06038"/>
<circle cx="505.8" cy="362.0" r="0.99" fill="#b06038"/>
<circle cx="475.7" cy="368.1" r="0.97" fill="#b86c48"/>
<circle cx="470.5" cy="379.5" r="0.68" fill="#a8603c"/>
<circle cx="467.4" cy="395.5" r="0.78" fill="#b06038"/>
<circle cx="467.7" cy="389.7" r="0.91" fill="#a8603c"/>
<circle cx="532.5" cy="365.5" r="0.73" fill="#a8603c"/>
<circle cx="526.8" cy="405.3" r="0.92" fill="#b86c48"/>
<circle cx="526.6" cy="404.2" r="1.00" fill="#c07c58"/>
<circle cx="542.4" cy="383.3" r="0.96" fill="#bc8468"/>
<circle cx="483.5" cy="364.7" r="0.69" fill="#b86c48"/>
<circle cx="497.9" cy="379.2" r="0.93" fill="#b06038"/>
<circle cx="509.3" cy="368.8" r="0.84" fill="#b86c48"/>
<circle cx="525.9" cy="405.3" r="0.68" fill="#a05430"/>
<circle cx="511.4" cy="361.2" r="0.88" fill="#c07c58"/>
<circle cx="493.5" cy="382.0" r="0.76" fill="#b06038"/>
<circle cx="539.3" cy="402.8" r="0.83" fill="#a05430"/>
<circle cx="489.7" cy="385.4" r="0.80" fill="#b86c48"/>
<circle cx="487.6" cy="372.6" r="0.85" fill="#bc8468"/>
<circle cx="484.5" cy="360.2" r="0.81" fill="#a05430"/>
<circle cx="513.2" cy="398.8" r="0.82" fill="#bc8468"/>
<circle cx="498.6" cy="393.7" r="0.73" fill="#a05430"/>
<circle cx="468.8" cy="387.5" r="0.67" fill="#a8603c"/>
<circle cx="464.7" cy="365.0" r="0.72" fill="#c07c58"/>
<circle cx="542.2" cy="399.2" r="0.90" fill="#b06038"/>
<circle cx="526.3" cy="400.5" r="0.66" fill="#c07c58"/>
<circle cx="468.5" cy="368.6" r="0.99" fill="#a8603c"/>
<circle cx="464.5" cy="372.6" r="0.93" fill="#a05430"/>
<circle cx="494.9" cy="402.7" r="0.95" fill="#a8603c"/>
<circle cx="482.8" cy="393.0" r="0.82" fill="#c07c58"/>
<circle cx="505.5" cy="397.5" r="0.78" fill="#c07c58"/>
<circle cx="542.9" cy="387.2" r="0.99" fill="#b86c48"/>
<circle cx="469.5" cy="403.0" r="0.79" fill="#a8603c"/>
<circle cx="473.7" cy="391.6" r="0.91" fill="#c07c58"/>
<circle cx="500.8" cy="399.6" r="0.95" fill="#b86c48"/>
<circle cx="538.3" cy="399.4" r="0.91" fill="#a8603c"/>
<circle cx="488.8" cy="402.0" r="0.85" fill="#a8603c"/>
<circle cx="508.6" cy="398.0" r="0.89" fill="#b06038"/>
<circle cx="489.5" cy="390.4" r="0.78" fill="#b06038"/>
<circle cx="468.8" cy="361.0" r="0.92" fill="#a05430"/>
<circle cx="504.4" cy="367.2" r="0.95" fill="#bc8468"/>
<circle cx="515.3" cy="380.4" r="0.95" fill="#bc8468"/>
<circle cx="475.8" cy="403.4" r="0.73" fill="#a8603c"/>
<circle cx="498.1" cy="399.5" r="0.66" fill="#a8603c"/>
<circle cx="511.1" cy="356.9" r="0.66" fill="#b86c48"/>
<circle cx="469.5" cy="368.5" r="0.80" fill="#a8603c"/>
<circle cx="538.3" cy="366.2" r="0.86" fill="#bc8468"/>
<circle cx="504.6" cy="397.7" r="0.89" fill="#b06038"/>
<circle cx="491.5" cy="395.0" r="0.73" fill="#bc8468"/>
<circle cx="532.0" cy="377.1" r="0.97" fill="#b06038"/>
<circle cx="476.5" cy="367.5" r="0.99" fill="#c07c58"/>
<circle cx="512.5" cy="366.3" r="0.99" fill="#b86c48"/>
<circle cx="509.3" cy="362.9" r="0.86" fill="#b06038"/>
<circle cx="532.6" cy="395.2" r="0.92" fill="#a8603c"/>
<circle cx="509.8" cy="403.7" r="0.73" fill="#c07c58"/>
<circle cx="491.6" cy="358.0" r="0.65" fill="#c07c58"/>
<circle cx="501.4" cy="359.1" r="0.96" fill="#b06038"/>
<circle cx="499.8" cy="386.2" r="0.68" fill="#b06038"/>
<circle cx="492.5" cy="383.5" r="0.93" fill="#c07c58"/>
<circle cx="527.7" cy="399.1" r="0.68" fill="#b86c48"/>
<circle cx="504.3" cy="377.8" r="0.75" fill="#a8603c"/>
<circle cx="488.8" cy="381.0" r="0.81" fill="#b06038"/>
<circle cx="542.2" cy="387.9" r="0.99" fill="#c07c58"/>
<circle cx="520.9" cy="390.9" r="0.80" fill="#a05430"/>
<circle cx="523.9" cy="357.8" r="0.78" fill="#b06038"/>
<circle cx="497.6" cy="398.6" r="1.00" fill="#a05430"/>
<circle cx="501.9" cy="386.5" r="0.83" fill="#c07c58"/>
<circle cx="471.0" cy="405.0" r="0.92" fill="#a8603c"/>
<circle cx="537.1" cy="401.5" r="0.70" fill="#a05430"/>
<circle cx="522.6" cy="373.2" r="0.66" fill="#a8603c"/>
<circle cx="484.5" cy="403.0" r="0.97" fill="#c07c58"/>
</g>
<rect x="536.2" y="404.5" width="7.8" height="1.3" fill="#111"/>
</g>
</svg>
</body></html>
